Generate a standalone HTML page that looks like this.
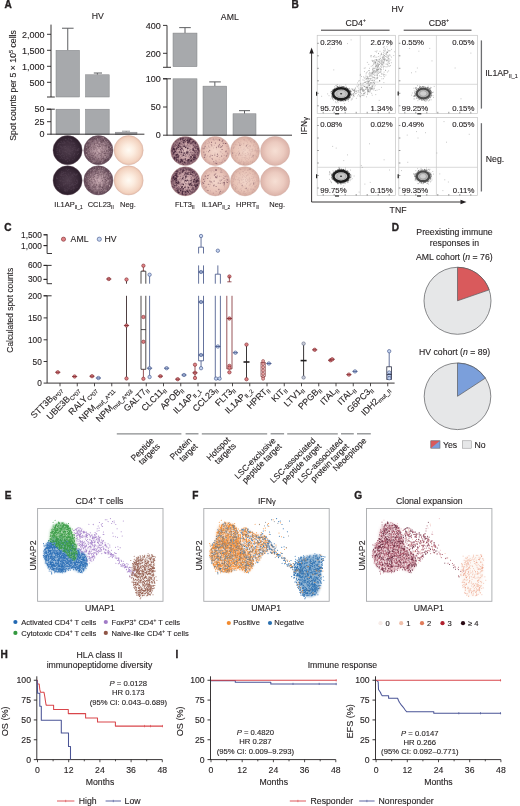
<!DOCTYPE html><html><head><meta charset="utf-8"><title>Figure</title><style>html,body{margin:0;padding:0;background:#fff;width:520px;height:806px;overflow:hidden}svg{display:block}text{font-family:"Liberation Sans", Arial, sans-serif;fill:#231f20;stroke:#231f20;stroke-width:0.12px}</style></head><body>
<svg width="520" height="806" viewBox="0 0 520 806">
<rect width="520" height="806" fill="#fff"/>
<text x="4.6" y="7.9" font-size="10.1" font-weight="bold" style="stroke-width:0.35px">A</text>
<text x="97.7" y="19.2" font-size="8.7" text-anchor="middle">HV</text>
<text transform="translate(16.3 85.4) rotate(-90)" font-size="8.7" text-anchor="middle">Spot counts per 5 &#215; 10<tspan font-size="5.6" dy="-3.4">5</tspan><tspan dy="3.4"> cells</tspan></text>
<line x1="67.75" y1="50.3" x2="67.75" y2="28.22" stroke="#5e5f62" stroke-width="1"/>
<line x1="62" y1="28.22" x2="73.6" y2="28.22" stroke="#5e5f62" stroke-width="1"/>
<rect x="56" y="50.3" width="23.5" height="46.7" fill="#a7a9ac" stroke="#808285" stroke-width="0.5"/>
<rect x="56" y="109.2" width="23.5" height="25" fill="#a7a9ac" stroke="#808285" stroke-width="0.5"/>
<line x1="97.35" y1="74.78" x2="97.35" y2="73.02" stroke="#5e5f62" stroke-width="1"/>
<line x1="93.8" y1="73.02" x2="102" y2="73.02" stroke="#5e5f62" stroke-width="1"/>
<rect x="85.5" y="74.78" width="23.7" height="22.22" fill="#a7a9ac" stroke="#808285" stroke-width="0.5"/>
<rect x="85.5" y="109.2" width="23.7" height="25" fill="#a7a9ac" stroke="#808285" stroke-width="0.5"/>
<line x1="122" y1="131.2" x2="130" y2="131.2" stroke="#808285" stroke-width="0.8"/>
<line x1="126.2" y1="132.2" x2="126.2" y2="131.2" stroke="#808285" stroke-width="0.8"/>
<rect x="115.4" y="132.2" width="21.6" height="2" fill="#a7a9ac" stroke="#808285" stroke-width="0.5"/>
<line x1="51" y1="24.6" x2="51" y2="97" stroke="#231f20" stroke-width="0.9"/>
<line x1="47" y1="97" x2="54.8" y2="97" stroke="#231f20" stroke-width="0.9"/>
<line x1="51" y1="109.2" x2="51" y2="134.6" stroke="#231f20" stroke-width="0.9"/>
<line x1="46.5" y1="109.2" x2="54.8" y2="109.2" stroke="#231f20" stroke-width="0.9"/>
<line x1="51" y1="134.2" x2="144.4" y2="134.2" stroke="#231f20" stroke-width="0.9"/>
<line x1="47" y1="34.3" x2="51" y2="34.3" stroke="#231f20" stroke-width="0.9"/>
<text x="44.6" y="37.5" font-size="9" text-anchor="end">2,000</text>
<line x1="47" y1="50.3" x2="51" y2="50.3" stroke="#231f20" stroke-width="0.9"/>
<text x="44.6" y="53.5" font-size="9" text-anchor="end">1,500</text>
<line x1="47" y1="66.3" x2="51" y2="66.3" stroke="#231f20" stroke-width="0.9"/>
<text x="44.6" y="69.5" font-size="9" text-anchor="end">1,000</text>
<line x1="47" y1="82.3" x2="51" y2="82.3" stroke="#231f20" stroke-width="0.9"/>
<text x="44.6" y="85.5" font-size="9" text-anchor="end">500</text>
<line x1="47" y1="109.2" x2="51" y2="109.2" stroke="#231f20" stroke-width="0.9"/>
<text x="44.6" y="112.4" font-size="9" text-anchor="end">50</text>
<line x1="47" y1="121.7" x2="51" y2="121.7" stroke="#231f20" stroke-width="0.9"/>
<text x="44.6" y="124.9" font-size="9" text-anchor="end">25</text>
<line x1="47" y1="134.2" x2="51" y2="134.2" stroke="#231f20" stroke-width="0.9"/>
<text x="44.6" y="137.4" font-size="9" text-anchor="end">0</text>
<text x="229.8" y="19.8" font-size="8.7" text-anchor="middle">AML</text>
<line x1="185" y1="33.07" x2="185" y2="27.63" stroke="#5e5f62" stroke-width="1"/>
<line x1="179.2" y1="27.63" x2="190.8" y2="27.63" stroke="#5e5f62" stroke-width="1"/>
<rect x="173" y="33.07" width="24" height="33.63" fill="#a7a9ac" stroke="#808285" stroke-width="0.5"/>
<rect x="173" y="78.8" width="24" height="56.4" fill="#a7a9ac" stroke="#808285" stroke-width="0.5"/>
<line x1="214.85" y1="86.13" x2="214.85" y2="81.9" stroke="#5e5f62" stroke-width="1"/>
<line x1="209.2" y1="81.9" x2="220.8" y2="81.9" stroke="#5e5f62" stroke-width="1"/>
<rect x="203" y="86.13" width="23.7" height="49.07" fill="#a7a9ac" stroke="#808285" stroke-width="0.5"/>
<line x1="244.5" y1="113.77" x2="244.5" y2="110.67" stroke="#5e5f62" stroke-width="1"/>
<line x1="239" y1="110.67" x2="250" y2="110.67" stroke="#5e5f62" stroke-width="1"/>
<rect x="233" y="113.77" width="23" height="21.43" fill="#a7a9ac" stroke="#808285" stroke-width="0.5"/>
<line x1="167" y1="25.4" x2="167" y2="67.3" stroke="#231f20" stroke-width="0.9"/>
<line x1="163" y1="67.3" x2="171" y2="67.3" stroke="#231f20" stroke-width="0.9"/>
<line x1="167" y1="78.8" x2="167" y2="135.6" stroke="#231f20" stroke-width="0.9"/>
<line x1="163" y1="78.8" x2="171" y2="78.8" stroke="#231f20" stroke-width="0.9"/>
<line x1="167" y1="135.2" x2="292" y2="135.2" stroke="#231f20" stroke-width="0.9"/>
<line x1="163" y1="25.4" x2="167" y2="25.4" stroke="#231f20" stroke-width="0.9"/>
<text x="160.8" y="28.6" font-size="9" text-anchor="end">400</text>
<line x1="163" y1="53.3" x2="167" y2="53.3" stroke="#231f20" stroke-width="0.9"/>
<text x="160.8" y="56.5" font-size="9" text-anchor="end">200</text>
<line x1="163" y1="78.8" x2="167" y2="78.8" stroke="#231f20" stroke-width="0.9"/>
<text x="160.8" y="82" font-size="9" text-anchor="end">100</text>
<line x1="163" y1="107" x2="167" y2="107" stroke="#231f20" stroke-width="0.9"/>
<text x="160.8" y="110.2" font-size="9" text-anchor="end">50</text>
<line x1="163" y1="135.2" x2="167" y2="135.2" stroke="#231f20" stroke-width="0.9"/>
<text x="160.8" y="138.4" font-size="9" text-anchor="end">0</text>
<radialGradient id="g10"><stop offset="0" stop-color="#4f3d4c"/><stop offset="0.6" stop-color="#3d2c3b"/><stop offset="1" stop-color="#2b1d2a"/></radialGradient>
<circle cx="67.6" cy="150.2" r="14.6" fill="url(#g10)" stroke="#6e5664" stroke-width="0.4"/>
<path d="M60.7 146.9h0M62.9 147.7h0M71.7 140.4h0M64.9 146.4h0M61.0 149.3h0M67.6 161.6h0M70.1 150.1h0M73.4 143.2h0M63.0 154.4h0M64.0 143.2h0M63.9 141.5h0M74.5 157.8h0M79.0 148.9h0M65.7 148.6h0M71.9 150.3h0M73.6 147.9h0M60.2 158.5h0M64.2 158.2h0M64.9 151.4h0M58.3 144.8h0M70.7 154.8h0M65.7 151.4h0M57.0 150.4h0M62.9 143.1h0M70.4 146.6h0M61.1 147.3h0M64.4 147.9h0M68.2 146.6h0M72.9 159.3h0M74.9 147.7h0M62.6 153.2h0M66.2 159.3h0M69.4 153.8h0M63.0 151.5h0M61.3 141.7h0M69.0 142.2h0M63.2 156.5h0M77.5 150.5h0M64.4 156.0h0M74.5 154.0h0M61.3 146.6h0M74.1 143.2h0M68.1 158.7h0M74.7 145.7h0M65.3 148.4h0M59.7 150.7h0M61.4 154.6h0M60.2 145.8h0M62.9 150.5h0M56.9 154.3h0M65.7 151.3h0M76.1 150.4h0M71.0 151.3h0M73.7 155.2h0M75.7 149.8h0M60.1 152.2h0M59.8 150.1h0M66.0 139.3h0M65.2 143.0h0M61.0 141.2h0M70.8 154.9h0M60.5 143.6h0M62.0 143.2h0M71.5 143.1h0M71.7 139.5h0M57.7 154.5h0M65.4 139.4h0M78.3 153.4h0M68.8 138.8h0M73.8 149.5h0M65.5 146.4h0M58.3 143.9h0M70.1 156.7h0M72.1 152.7h0M68.6 153.7h0M78.6 150.2h0M57.8 152.5h0M64.8 142.3h0M59.2 154.6h0M61.9 148.1h0M61.5 157.2h0M63.9 146.4h0M59.2 143.2h0M74.1 143.4h0M74.5 153.4h0M69.9 151.7h0M67.4 158.1h0M68.1 141.0h0M65.6 159.7h0M59.3 149.9h0M66.9 157.9h0M62.2 158.6h0M59.8 151.1h0M59.6 151.4h0M63.9 141.0h0M69.9 143.1h0M70.7 139.2h0M77.5 149.7h0M77.5 154.5h0M68.4 148.9h0M64.5 156.1h0M67.1 141.1h0M66.6 155.1h0M69.4 153.3h0M70.4 139.3h0M69.5 160.1h0M72.5 148.7h0M60.6 146.8h0M78.4 148.5h0M72.8 150.7h0M72.7 143.0h0M57.2 148.7h0M68.6 138.8h0M66.4 152.5h0M66.7 147.8h0M57.7 145.9h0M60.4 155.7h0M69.8 154.3h0M59.1 143.5h0M69.7 150.2h0" stroke="#5a4757" stroke-width="1.2" stroke-linecap="round" stroke-opacity="0.5"/>
<radialGradient id="g11"><stop offset="0" stop-color="#c6a8b0"/><stop offset="0.55" stop-color="#9a7d88"/><stop offset="1" stop-color="#5e4553"/></radialGradient>
<circle cx="98.4" cy="150.2" r="14.6" fill="url(#g11)" stroke="#6e5664" stroke-width="0.4"/>
<path d="M88.5 153.3h0M106.8 145.9h0M87.8 149.7h0M102.4 159.3h0M89.9 141.2h0M104.7 154.5h0M108.9 156.9h0M97.4 147.5h0M111.9 148.7h0M92.2 141.2h0M99.3 151.6h0M95.1 149.6h0M100.9 156.5h0M107.7 152.0h0M86.5 154.8h0M87.4 148.9h0M87.1 150.2h0M91.3 152.1h0M112.2 150.0h0M104.7 140.4h0M95.7 156.3h0M97.5 153.8h0M99.3 141.5h0M103.3 143.1h0M110.7 146.9h0M104.8 150.2h0M106.4 145.1h0M107.1 149.1h0M108.3 155.1h0M99.7 143.1h0M105.2 154.4h0M110.2 147.5h0M103.5 154.8h0M101.1 152.2h0M100.1 144.6h0M89.8 146.8h0M102.7 161.3h0M106.0 158.4h0M105.1 156.2h0M100.1 157.2h0M110.6 147.9h0M94.0 162.5h0M100.5 158.6h0M105.2 141.4h0M109.5 158.3h0M100.0 157.1h0M99.5 142.3h0M97.3 153.8h0M107.3 155.9h0M98.9 160.9h0M91.9 156.9h0M107.7 147.8h0M86.9 144.4h0M100.6 155.2h0M108.9 143.4h0M98.4 156.2h0M97.5 136.8h0M102.9 163.0h0M106.4 142.9h0M94.5 152.3h0M111.6 153.5h0M99.2 161.8h0M97.8 162.8h0M92.2 145.9h0M103.7 160.7h0M104.4 153.0h0M86.5 145.5h0M92.9 145.4h0M103.8 147.1h0M105.6 150.9h0M95.2 151.3h0M102.2 157.7h0M93.9 148.0h0M89.9 160.2h0M109.6 148.8h0M94.6 140.3h0M100.1 152.2h0M111.5 151.7h0M94.3 137.2h0M109.4 151.7h0M86.6 151.5h0M92.6 162.8h0M107.5 154.9h0M97.3 137.1h0M97.5 138.6h0M102.0 137.4h0M91.5 159.4h0M108.9 142.6h0M87.7 156.3h0M105.3 142.3h0M92.3 144.1h0M89.0 144.8h0M108.1 155.6h0M111.4 149.7h0M97.2 141.6h0M97.4 139.7h0M86.6 154.8h0M108.8 156.2h0M109.0 152.2h0M91.8 151.0h0M95.3 140.9h0M88.4 141.4h0M98.3 151.7h0M94.8 161.0h0M100.1 155.7h0M107.7 143.9h0M86.2 154.9h0M93.1 160.2h0M101.3 158.8h0M103.0 137.8h0M104.7 144.3h0M91.6 146.3h0M104.8 157.6h0M105.0 139.3h0M95.1 137.1h0M97.4 155.8h0M91.5 152.4h0M100.4 158.9h0M91.5 143.3h0M93.3 161.8h0M107.7 149.1h0M100.6 151.3h0M100.4 148.2h0M95.7 140.1h0M93.9 161.7h0M103.5 150.8h0M96.3 150.8h0M101.6 144.3h0M100.3 152.5h0M92.0 143.5h0M90.7 142.0h0M103.2 137.5h0M95.9 144.5h0M92.6 151.1h0M107.9 150.8h0M97.1 144.5h0M97.3 158.3h0M95.1 140.7h0M89.3 142.3h0M88.7 157.9h0M101.8 147.9h0M109.1 145.4h0M104.8 157.0h0M89.1 140.8h0M90.9 157.5h0M107.4 141.7h0M107.3 147.0h0M94.8 145.1h0M96.2 137.8h0M91.0 141.1h0M101.4 163.0h0M112.0 148.5h0M86.4 147.4h0M92.7 162.2h0M103.5 143.8h0M106.4 154.8h0M86.8 146.4h0M96.1 150.4h0M99.7 146.9h0M100.2 144.7h0M92.1 160.8h0M101.8 154.3h0M86.7 149.0h0M104.6 140.5h0M107.6 146.9h0M102.3 148.9h0M100.2 160.1h0M95.4 161.7h0M92.0 142.5h0M104.2 141.6h0M95.2 158.1h0M105.8 139.3h0M101.7 162.6h0M108.2 148.2h0M92.8 147.4h0M88.8 148.0h0M96.6 148.8h0M108.2 148.3h0M88.3 157.5h0M89.4 146.5h0M97.1 146.9h0M89.7 148.1h0M111.2 146.6h0M97.3 159.7h0M104.8 156.7h0M103.7 138.1h0M90.7 151.3h0M102.3 160.4h0M102.9 147.9h0M98.8 148.1h0M100.7 156.4h0M95.4 142.9h0M91.7 158.8h0M107.8 157.5h0M105.5 157.1h0M98.4 156.4h0M89.4 148.5h0M92.1 156.5h0M93.0 149.2h0M101.5 160.8h0" stroke="#dcc4c8" stroke-width="0.8" stroke-linecap="round" stroke-opacity="0.45"/>
<path d="M91.9 142.5h0M104.8 141.5h0M102.6 145.0h0M97.7 137.7h0M104.8 145.7h0M93.1 162.4h0M101.2 163.8h0M102.3 146.9h0M99.2 162.0h0M98.1 154.5h0M102.8 142.4h0M99.6 145.4h0M89.0 156.8h0M104.6 150.9h0M92.9 138.1h0M103.0 149.3h0M86.3 149.8h0M86.9 150.0h0M99.8 153.6h0M100.5 151.9h0M89.0 147.0h0M93.6 148.0h0M100.9 155.9h0M105.8 138.6h0M102.2 148.3h0M110.9 155.3h0M86.6 153.1h0M94.0 158.6h0M89.3 149.3h0M97.1 149.3h0M94.5 138.1h0M102.3 158.7h0M97.8 141.4h0M100.3 155.5h0M96.7 150.1h0M108.1 142.5h0M94.8 137.9h0M92.3 143.8h0M90.4 144.4h0M110.8 148.8h0M97.7 163.4h0M98.0 138.0h0M101.9 142.1h0M108.8 142.3h0M94.3 138.8h0M99.2 141.4h0M97.8 146.6h0M93.2 158.2h0M106.7 150.8h0M91.3 141.8h0M99.9 163.6h0M94.3 143.2h0M92.8 141.4h0M89.9 148.4h0M109.5 150.2h0M94.7 138.7h0M100.5 149.9h0M89.5 142.3h0M98.0 159.0h0M104.2 152.1h0M95.3 153.3h0M98.3 163.4h0M89.0 147.1h0M108.6 148.1h0M109.5 149.9h0M99.8 146.6h0M88.5 143.2h0M111.2 153.9h0M103.5 158.2h0M103.2 158.7h0M95.8 148.0h0M106.9 147.2h0M87.8 148.4h0M93.5 155.7h0M92.6 141.6h0M95.9 161.7h0M97.9 151.8h0M98.5 153.1h0M105.1 160.2h0M88.3 158.6h0M98.4 147.1h0M111.8 149.2h0M110.2 156.1h0M89.7 154.3h0M105.2 149.1h0M85.1 148.2h0M96.8 140.8h0M110.8 148.5h0M94.7 147.3h0M91.7 143.6h0M99.3 153.2h0M93.6 149.3h0M87.8 154.2h0M91.6 152.2h0M90.6 145.8h0M100.2 140.3h0M111.9 150.0h0M97.7 143.5h0M108.3 158.8h0M100.7 139.5h0M93.8 155.8h0M94.3 140.6h0M89.1 144.2h0M98.5 144.2h0M98.5 163.9h0M109.6 143.6h0M101.7 151.0h0M97.2 159.2h0M95.2 147.1h0M94.8 149.2h0M108.2 156.1h0M87.9 146.8h0M91.7 157.1h0M100.4 158.1h0M98.0 137.5h0M102.7 152.4h0M102.4 140.0h0M99.2 143.8h0M92.1 153.4h0M101.5 142.4h0M90.6 138.9h0M93.7 159.3h0M98.1 136.9h0M90.8 153.9h0M109.0 157.6h0M101.9 152.1h0M89.5 146.4h0M95.4 143.2h0M99.0 146.4h0M101.0 161.2h0M105.1 154.0h0M96.6 138.8h0M97.3 155.3h0M91.0 159.4h0M95.2 153.7h0M95.8 140.1h0M110.1 143.6h0M106.3 145.4h0M100.9 143.0h0M94.8 158.2h0M110.4 145.0h0M98.5 158.5h0M92.8 156.5h0M91.6 155.5h0M101.9 160.0h0M101.4 140.4h0M103.8 141.3h0M103.8 161.0h0M103.8 145.2h0M108.3 151.6h0M88.4 147.3h0M109.3 147.9h0M99.6 146.9h0M86.6 146.6h0M101.8 152.2h0M97.3 137.1h0M107.9 155.8h0M105.8 159.6h0M94.3 144.7h0M100.6 162.1h0M86.4 148.6h0M92.0 155.2h0M109.5 147.9h0M88.2 150.6h0M96.3 138.7h0M106.0 145.7h0M103.6 140.1h0M105.9 140.3h0M105.0 138.9h0M109.1 147.3h0M86.8 148.5h0M101.3 141.7h0M93.7 152.7h0M97.6 136.4h0M94.4 154.2h0M101.0 158.9h0M94.8 163.4h0M105.6 153.0h0M106.8 157.6h0M99.4 144.4h0M107.1 153.8h0M87.0 143.5h0M102.9 151.2h0M101.0 156.1h0M99.5 161.9h0M93.0 146.5h0M101.3 156.9h0M104.0 160.9h0M94.5 159.7h0M102.3 141.4h0M97.5 163.2h0M105.4 146.0h0M85.4 146.2h0M91.9 150.9h0M111.2 154.3h0M101.1 142.0h0M88.6 148.5h0M96.3 163.8h0M94.7 144.5h0M107.9 150.9h0M89.8 159.1h0M95.9 139.7h0M101.4 154.8h0M95.3 156.6h0M105.2 142.9h0M89.4 139.7h0M97.3 160.3h0M105.5 160.1h0M111.0 150.3h0M105.5 139.9h0M104.7 153.8h0M97.5 146.0h0M89.0 151.4h0M108.6 147.3h0M103.2 144.2h0M100.6 141.5h0M102.0 148.1h0M101.3 144.6h0M88.7 147.5h0M105.3 160.8h0M95.5 157.4h0M105.2 153.7h0M86.9 152.6h0M91.1 159.1h0M105.3 155.6h0M85.2 153.4h0M103.8 140.4h0M106.9 150.9h0M96.7 143.7h0M89.8 146.5h0M112.2 151.1h0M100.3 144.2h0M92.8 145.2h0M91.1 157.4h0M96.0 157.9h0M89.6 157.3h0M98.1 156.4h0M97.5 142.3h0M108.2 146.7h0M97.1 142.3h0M100.4 146.5h0M101.1 153.5h0M93.3 139.7h0M102.2 158.2h0M103.9 141.1h0M104.0 153.7h0M101.1 154.3h0M95.3 152.3h0M106.4 145.9h0M87.3 149.4h0M99.7 137.7h0M92.4 155.4h0M96.9 151.1h0M89.0 157.0h0M110.6 148.8h0M92.6 141.1h0M106.3 151.1h0M92.3 159.6h0M105.1 155.5h0M86.1 149.5h0M103.3 140.5h0M105.0 160.4h0M106.8 144.3h0M92.5 158.0h0M105.8 159.3h0M108.3 149.4h0M95.7 137.8h0M102.8 162.9h0M94.1 145.8h0M104.3 153.6h0M88.1 144.8h0M92.0 161.9h0M92.3 157.4h0M108.1 159.8h0M107.1 160.1h0M88.4 147.4h0M91.8 147.6h0M110.0 142.7h0M102.8 140.4h0M107.4 159.0h0M95.2 163.0h0M99.0 160.7h0M101.3 145.0h0M94.7 149.1h0M104.2 151.4h0M111.8 149.1h0M94.2 143.7h0M92.7 139.7h0M90.5 157.4h0M99.0 148.5h0M101.4 159.2h0M103.8 156.9h0M93.2 147.8h0M91.3 149.3h0M91.1 146.9h0M96.7 148.1h0M95.9 145.6h0M108.8 147.5h0M89.7 151.9h0M90.2 142.1h0" stroke="#553a48" stroke-width="0.85" stroke-linecap="round" stroke-opacity="0.55"/>
<radialGradient id="g12"><stop offset="0" stop-color="#fffbf4"/><stop offset="0.4" stop-color="#fcecdf"/><stop offset="0.85" stop-color="#f3d3c0"/><stop offset="1" stop-color="#e8c0ac"/></radialGradient>
<circle cx="128.6" cy="150.2" r="14.6" fill="url(#g12)" stroke="#d0a89e" stroke-width="0.4"/>
<radialGradient id="g20"><stop offset="0" stop-color="#4f3d4c"/><stop offset="0.6" stop-color="#3d2c3b"/><stop offset="1" stop-color="#2b1d2a"/></radialGradient>
<circle cx="67.6" cy="180.4" r="14.6" fill="url(#g20)" stroke="#6e5664" stroke-width="0.4"/>
<path d="M75.6 175.0h0M68.8 169.4h0M67.0 189.7h0M76.6 174.3h0M63.3 178.3h0M57.7 186.5h0M72.9 184.4h0M75.0 178.0h0M69.3 186.8h0M73.3 176.7h0M59.3 184.5h0M70.4 172.7h0M75.3 184.7h0M71.1 181.2h0M71.2 189.5h0M65.6 189.9h0M69.7 183.8h0M77.3 181.8h0M71.1 176.2h0M67.7 181.7h0M63.7 175.3h0M73.7 187.5h0M61.3 175.8h0M72.9 188.1h0M60.4 177.8h0M73.4 190.1h0M73.9 173.1h0M76.5 180.2h0M65.4 183.7h0M61.0 175.1h0M56.9 184.9h0M69.7 177.1h0M68.0 180.1h0M63.8 175.1h0M66.2 169.1h0M57.6 178.5h0M76.6 183.6h0M73.4 185.7h0M66.0 183.1h0M67.5 176.8h0M67.4 183.8h0M64.2 174.9h0M69.5 180.9h0M69.2 188.6h0M69.4 180.5h0M63.4 173.1h0M71.9 185.3h0M71.9 184.8h0M63.4 183.9h0M69.4 185.7h0M64.8 188.7h0M74.7 174.2h0M67.0 180.6h0M71.1 189.0h0M58.7 186.4h0M72.9 177.0h0M63.4 185.2h0M66.0 177.1h0M65.8 191.2h0M59.6 188.6h0M59.1 186.9h0M64.0 181.3h0M62.9 177.9h0M76.1 175.6h0M56.6 178.3h0M56.6 177.1h0M66.5 175.6h0M64.7 190.7h0M77.0 187.2h0M77.4 183.0h0M62.1 175.4h0M60.4 175.1h0M63.6 185.2h0M76.6 183.3h0M72.8 175.5h0M72.2 174.7h0M67.3 190.8h0M70.8 178.8h0M72.2 175.6h0M68.6 174.2h0M74.4 180.0h0M68.3 183.0h0M69.9 183.0h0M68.3 178.9h0M71.8 184.3h0M74.1 188.4h0M77.2 180.8h0M65.0 184.0h0M68.7 188.8h0M67.7 187.7h0M61.1 185.9h0M65.7 174.4h0M60.0 174.1h0M64.7 190.2h0M74.7 184.5h0M65.1 183.7h0M61.8 171.3h0M60.7 181.1h0M77.2 173.9h0M61.6 174.1h0M61.3 172.9h0M64.1 172.6h0M67.7 170.3h0M62.4 173.7h0M63.9 184.3h0M61.1 180.1h0M62.7 181.3h0M71.1 178.1h0M74.0 174.4h0M76.9 174.5h0M70.5 185.8h0M77.1 180.2h0M72.8 183.5h0M72.9 184.1h0M69.7 181.5h0M75.3 182.6h0M65.7 172.3h0M63.1 172.1h0M74.1 187.7h0M60.0 180.3h0" stroke="#5a4757" stroke-width="1.2" stroke-linecap="round" stroke-opacity="0.5"/>
<radialGradient id="g21"><stop offset="0" stop-color="#c6a8b0"/><stop offset="0.55" stop-color="#9a7d88"/><stop offset="1" stop-color="#5e4553"/></radialGradient>
<circle cx="98.4" cy="180.4" r="14.6" fill="url(#g21)" stroke="#6e5664" stroke-width="0.4"/>
<path d="M104.3 190.3h0M92.1 173.2h0M101.0 192.5h0M101.9 171.1h0M91.7 180.2h0M106.8 180.6h0M95.3 178.5h0M100.2 174.0h0M98.7 183.2h0M110.3 180.2h0M106.1 172.7h0M106.2 182.1h0M93.7 180.5h0M106.4 177.9h0M105.5 190.8h0M107.9 189.8h0M88.5 183.4h0M93.1 188.5h0M99.4 182.9h0M102.9 175.4h0M99.6 174.2h0M111.3 177.8h0M98.8 168.3h0M88.0 174.6h0M105.3 187.1h0M101.3 174.9h0M110.0 174.3h0M91.3 184.9h0M90.2 183.0h0M107.0 180.1h0M102.6 181.1h0M95.6 166.9h0M88.7 180.6h0M87.0 176.7h0M100.3 191.1h0M88.1 176.6h0M100.8 185.6h0M90.7 191.3h0M92.3 189.2h0M96.8 184.6h0M109.9 185.4h0M99.8 172.0h0M93.8 170.0h0M109.3 172.3h0M86.9 188.0h0M108.7 177.8h0M105.6 173.9h0M93.5 185.3h0M102.4 176.5h0M109.7 185.7h0M99.8 170.9h0M100.0 177.7h0M98.0 187.9h0M93.4 183.2h0M105.7 183.8h0M109.5 172.3h0M98.1 170.8h0M98.2 194.0h0M86.7 178.5h0M104.7 181.5h0M104.9 169.9h0M106.3 173.1h0M88.9 185.1h0M102.9 174.2h0M91.3 178.8h0M98.6 179.0h0M93.0 168.0h0M109.0 182.0h0M90.5 170.3h0M92.3 176.8h0M87.1 188.0h0M102.6 177.6h0M101.9 182.8h0M107.6 181.9h0M106.6 190.4h0M95.6 176.3h0M90.7 178.5h0M91.9 180.7h0M101.4 185.5h0M90.0 188.5h0M95.6 179.5h0M95.2 167.8h0M100.3 168.2h0M107.8 180.9h0M109.6 185.1h0M103.7 190.8h0M98.2 192.0h0M97.3 183.0h0M92.5 185.4h0M104.5 176.0h0M88.1 180.2h0M102.5 179.0h0M90.4 174.5h0M97.1 166.8h0M94.1 191.2h0M88.2 178.7h0M109.9 185.3h0M106.6 179.2h0M92.7 193.0h0M101.4 182.8h0M109.6 186.0h0M99.0 171.1h0M97.0 179.1h0M92.7 173.1h0M89.8 179.5h0M93.0 184.2h0M107.1 183.2h0M98.6 192.0h0M103.2 169.6h0M91.9 182.2h0M91.1 186.8h0M89.2 170.4h0M106.7 185.3h0M86.7 181.0h0M107.9 172.6h0M90.0 171.8h0M92.1 169.2h0M94.8 169.5h0M98.8 193.7h0M90.2 187.5h0M104.6 168.3h0M99.5 180.3h0M95.4 187.6h0M94.3 183.7h0M94.7 179.1h0M94.0 193.1h0M97.9 171.0h0M108.9 188.9h0M96.6 174.4h0M92.7 190.0h0M95.4 174.0h0M105.9 178.0h0M98.1 193.1h0M104.9 189.8h0M101.7 190.6h0M96.9 188.8h0M107.2 177.0h0M88.4 184.6h0M97.3 186.1h0M93.0 185.2h0M103.5 193.0h0M110.6 183.1h0M109.1 175.8h0M108.1 181.6h0M108.9 183.0h0M96.3 173.9h0M108.6 180.9h0M104.8 184.7h0M85.8 184.1h0M94.9 184.1h0M101.7 168.3h0M95.4 179.8h0M101.8 188.5h0M92.2 178.3h0M102.5 168.3h0M110.0 174.5h0M108.9 181.6h0M109.9 186.8h0M98.2 168.3h0M99.7 183.5h0M102.7 170.5h0M91.5 173.9h0M100.9 172.7h0M97.4 188.6h0M95.1 190.9h0M101.3 178.0h0M107.4 184.5h0M95.8 175.0h0M98.0 183.7h0M107.9 182.7h0M93.7 170.2h0M100.8 184.2h0M107.6 176.1h0M88.7 186.7h0M97.0 170.5h0M109.5 186.4h0M99.0 183.1h0M92.3 188.5h0M94.4 176.2h0M96.0 171.0h0M105.1 191.3h0M103.0 168.0h0M95.6 174.6h0M100.7 167.4h0M85.5 177.7h0M106.9 178.8h0M110.9 175.6h0M98.8 179.0h0M91.9 189.1h0M89.0 172.9h0M95.0 176.0h0M107.6 176.1h0M103.0 176.1h0M108.7 180.3h0M100.3 168.6h0M104.6 174.8h0M106.1 184.8h0M102.8 189.6h0M101.7 172.7h0M99.9 182.1h0" stroke="#dcc4c8" stroke-width="0.8" stroke-linecap="round" stroke-opacity="0.45"/>
<path d="M89.0 185.3h0M109.6 182.3h0M99.5 184.8h0M107.4 176.0h0M106.3 174.3h0M103.3 185.1h0M88.5 185.5h0M100.0 168.5h0M94.3 174.7h0M90.7 184.0h0M91.3 180.9h0M89.3 178.2h0M110.7 183.2h0M87.8 174.0h0M97.4 168.6h0M106.9 180.1h0M97.7 180.9h0M93.0 171.3h0M86.1 174.0h0M100.6 186.6h0M97.2 168.0h0M95.2 180.8h0M89.7 189.6h0M89.0 180.4h0M90.0 187.4h0M89.0 173.7h0M106.4 171.4h0M93.5 185.3h0M100.9 168.3h0M104.0 177.7h0M105.9 169.7h0M105.2 184.0h0M94.9 176.5h0M101.9 174.2h0M95.3 173.5h0M99.7 186.6h0M86.7 180.6h0M100.7 191.7h0M92.7 190.0h0M94.3 184.9h0M100.5 183.0h0M95.4 172.0h0M107.7 189.5h0M97.3 178.7h0M96.7 169.8h0M89.2 183.8h0M106.6 178.4h0M91.2 172.0h0M93.0 186.5h0M98.7 169.3h0M88.8 183.1h0M100.4 192.6h0M109.4 181.8h0M92.1 182.2h0M89.3 174.9h0M106.7 185.4h0M104.7 191.1h0M94.7 187.4h0M99.1 183.4h0M100.5 185.4h0M89.3 171.4h0M99.2 185.0h0M93.8 179.4h0M88.4 187.2h0M101.8 191.5h0M94.5 179.4h0M98.9 191.1h0M103.5 184.0h0M87.3 174.6h0M87.2 179.0h0M106.0 180.8h0M92.9 192.5h0M90.7 190.0h0M108.0 182.5h0M107.9 172.7h0M93.2 177.6h0M101.9 178.6h0M110.3 177.7h0M96.5 170.5h0M102.6 187.3h0M92.6 170.8h0M88.9 188.4h0M105.4 182.8h0M105.1 184.7h0M101.6 168.8h0M103.0 186.6h0M107.0 187.7h0M92.2 182.8h0M89.3 189.6h0M88.1 185.6h0M91.8 173.5h0M90.6 177.5h0M101.5 189.6h0M95.7 187.9h0M103.5 192.6h0M92.9 183.2h0M104.7 181.7h0M103.9 174.5h0M95.1 174.6h0M93.0 172.8h0M97.5 170.4h0M93.2 185.6h0M87.9 173.3h0M95.0 171.4h0M92.2 191.9h0M101.4 176.0h0M93.2 169.4h0M92.3 168.2h0M103.4 175.7h0M106.3 180.2h0M88.4 189.8h0M102.7 188.0h0M93.3 175.2h0M97.1 192.7h0M89.3 172.6h0M101.6 167.9h0M108.3 172.6h0M108.1 179.1h0M95.4 170.9h0M109.4 178.2h0M88.2 185.2h0M97.0 185.2h0M94.5 183.8h0M102.6 180.5h0M86.8 183.8h0M109.0 183.7h0M106.0 186.8h0M95.8 189.3h0M96.3 171.7h0M89.2 187.8h0M104.5 185.9h0M94.6 168.3h0M105.4 179.5h0M92.9 174.9h0M94.6 168.2h0M103.8 186.5h0M106.0 177.2h0M89.9 171.1h0M96.2 192.5h0M106.5 180.6h0M102.5 187.5h0M98.9 182.5h0M100.3 174.9h0M89.1 175.8h0M105.9 170.0h0M94.3 176.5h0M98.7 176.1h0M105.3 177.1h0M98.3 186.9h0M88.6 187.9h0M105.7 170.9h0M97.5 173.6h0M95.1 187.3h0M86.6 185.7h0M102.4 180.3h0M111.4 177.5h0M87.2 183.2h0M99.7 174.5h0M88.1 171.3h0M108.1 171.4h0M108.5 186.4h0M85.2 181.5h0M103.5 189.3h0M107.4 188.9h0M98.0 178.0h0M96.5 185.3h0M91.1 172.1h0M110.9 185.6h0M107.4 178.4h0M90.9 176.6h0M91.5 175.0h0M87.2 184.8h0M101.3 187.4h0M99.0 173.8h0M110.4 185.9h0M103.2 187.9h0M95.6 186.9h0M92.3 188.5h0M106.0 187.1h0M102.1 181.6h0M100.4 186.9h0M94.3 186.7h0M104.2 170.8h0M86.4 182.4h0M95.3 173.2h0M89.5 172.4h0M86.6 177.8h0M89.4 170.5h0M97.4 191.7h0M108.4 178.9h0M101.9 178.0h0M97.2 173.4h0M98.4 171.4h0M91.7 178.9h0M97.8 193.3h0M91.6 171.8h0M104.0 185.4h0M104.5 179.2h0M87.1 177.7h0M88.1 179.7h0M110.4 178.1h0M99.1 189.5h0M88.4 185.9h0M95.2 174.1h0M95.2 171.9h0M105.9 181.1h0M94.0 184.7h0M91.8 168.3h0M108.4 175.8h0M104.5 172.8h0M87.2 173.6h0M106.2 183.5h0M92.7 186.2h0M95.4 181.9h0M92.6 168.2h0M99.0 186.3h0M92.1 191.1h0M100.2 192.4h0M103.4 189.9h0M96.3 169.2h0M110.1 187.3h0M104.0 172.5h0M105.2 172.1h0M102.7 188.0h0M102.5 171.9h0M103.9 181.9h0M102.5 190.2h0M92.7 173.1h0M87.2 188.1h0M92.1 189.9h0M101.2 189.9h0M100.4 184.6h0M96.0 184.4h0M90.2 188.0h0M86.6 176.6h0M94.4 181.0h0M97.2 171.7h0M98.5 166.7h0M91.5 179.3h0M92.3 188.0h0M96.5 184.4h0M89.4 187.1h0M103.3 169.3h0M107.7 172.1h0M88.9 186.3h0M110.1 184.5h0M96.5 173.5h0M91.3 181.7h0M100.9 171.7h0M101.0 167.3h0M99.9 172.0h0M91.0 191.7h0M103.4 177.0h0M90.4 189.8h0M98.7 173.0h0M85.6 184.9h0M104.5 184.3h0M91.6 169.1h0M107.4 177.3h0M101.8 167.2h0M95.2 186.2h0M97.7 192.6h0M105.0 188.3h0M104.0 177.7h0M91.4 173.1h0M108.1 178.3h0M85.2 181.2h0M98.5 175.1h0M101.3 172.1h0M111.7 177.7h0M89.5 180.8h0M99.4 187.6h0M99.9 185.9h0M98.0 177.3h0M89.7 174.2h0M97.5 170.0h0M105.0 177.2h0M107.2 186.2h0M96.7 194.1h0M108.5 175.0h0M101.8 174.5h0M89.9 181.2h0M93.6 187.4h0M87.3 182.0h0M108.5 182.0h0M107.9 190.2h0M88.3 177.0h0M93.8 191.1h0M95.1 167.6h0M92.1 176.9h0M96.2 178.2h0M98.1 172.7h0M97.4 175.5h0M93.7 177.1h0M105.3 182.0h0M103.4 173.4h0M86.2 178.6h0M105.4 179.4h0M94.2 168.9h0M100.6 172.5h0" stroke="#553a48" stroke-width="0.85" stroke-linecap="round" stroke-opacity="0.55"/>
<radialGradient id="g22"><stop offset="0" stop-color="#fffbf4"/><stop offset="0.4" stop-color="#fcecdf"/><stop offset="0.85" stop-color="#f3d3c0"/><stop offset="1" stop-color="#e8c0ac"/></radialGradient>
<circle cx="128.6" cy="180.4" r="14.6" fill="url(#g22)" stroke="#d0a89e" stroke-width="0.4"/>
<radialGradient id="g40"><stop offset="0" stop-color="#dcbcbc"/><stop offset="0.6" stop-color="#c6a0a4"/><stop offset="0.9" stop-color="#9c7680"/><stop offset="1" stop-color="#7e5a68"/></radialGradient>
<circle cx="185.3" cy="151" r="14.6" fill="url(#g40)" stroke="#d0a89e" stroke-width="0.4"/>
<path d="M172.7 154.3h0M192.5 152.5h0M196.3 148.3h0M191.0 156.9h0M192.0 144.7h0M198.2 153.3h0M192.9 159.1h0M178.4 144.6h0M191.0 149.6h0M181.6 148.1h0M190.5 149.9h0M172.7 150.0h0M188.5 148.1h0M194.4 142.1h0M180.5 162.0h0M186.1 156.4h0M189.3 157.6h0M189.6 142.6h0M198.4 150.1h0M187.5 159.9h0M195.0 155.2h0M177.1 144.3h0M194.5 156.7h0M195.0 159.2h0M181.1 152.1h0M198.7 149.2h0M178.7 162.6h0M183.1 160.9h0M174.2 145.5h0M187.7 152.1h0M190.4 157.9h0M188.7 139.7h0M194.6 158.5h0M186.0 152.8h0M172.2 152.7h0M192.9 145.9h0M187.1 145.2h0M192.6 162.4h0M182.6 145.9h0M178.9 161.4h0M190.9 153.1h0M187.5 144.6h0M177.3 155.4h0M177.7 152.1h0M185.4 163.4h0M186.1 137.5h0M190.6 152.4h0M190.0 144.8h0M187.3 143.6h0M176.4 158.0h0M176.3 155.5h0M197.8 153.9h0M180.1 146.2h0M174.4 152.7h0M187.2 150.2h0M194.8 146.2h0M193.4 153.1h0M184.6 146.4h0M176.5 145.5h0M183.3 150.0h0M198.8 152.6h0M188.3 156.2h0M183.6 150.2h0M183.9 139.0h0M179.7 160.2h0M173.9 152.2h0M186.4 153.1h0M196.4 158.5h0M192.4 150.4h0M184.5 144.4h0M178.2 146.0h0M173.0 146.1h0M194.7 141.5h0M190.0 142.6h0M189.2 163.0h0M182.1 146.8h0M182.8 153.0h0M187.5 137.8h0M196.3 151.7h0M195.7 143.1h0M184.7 146.2h0M177.8 148.0h0M178.0 147.0h0M187.9 161.4h0M189.1 154.4h0M176.6 142.8h0M188.0 153.5h0M181.5 152.9h0M192.4 148.4h0M194.9 151.8h0M176.5 148.8h0M182.0 149.3h0M191.2 160.0h0M194.3 152.9h0M186.2 163.0h0M174.7 149.4h0M182.5 160.3h0M175.9 152.8h0M177.7 144.9h0M185.7 142.0h0M185.7 154.1h0M186.7 151.7h0M195.3 156.9h0M180.8 144.9h0M188.9 145.2h0M175.8 157.6h0M188.1 159.5h0M181.7 162.0h0M189.6 159.0h0M183.0 139.7h0M193.8 148.4h0M179.8 148.2h0M179.8 161.7h0M193.4 148.2h0M194.3 158.1h0M191.5 154.6h0M195.7 154.8h0M185.9 146.1h0M184.2 143.2h0M175.9 155.4h0M174.9 150.7h0M180.9 159.6h0M190.2 146.9h0M178.5 152.1h0M182.0 156.3h0M188.3 142.1h0M197.4 154.1h0M179.9 153.2h0M180.8 148.3h0M174.0 147.8h0M179.4 155.7h0M181.1 154.2h0M181.7 144.2h0M189.1 163.3h0M189.0 146.4h0M181.8 146.6h0M184.1 159.6h0M186.7 151.7h0M188.8 143.4h0M182.2 155.8h0M194.2 142.3h0M196.3 158.5h0M185.5 154.4h0M176.5 157.9h0M191.7 152.2h0M185.4 160.4h0M187.2 162.6h0M189.2 139.3h0M194.7 154.3h0M191.2 143.2h0M172.8 148.6h0M184.8 145.4h0M192.9 161.6h0M182.1 160.6h0M180.7 144.0h0M173.2 146.9h0M176.6 147.4h0M185.7 162.3h0M189.3 163.2h0M185.8 138.2h0M173.5 144.8h0M187.2 164.3h0M194.0 143.9h0M192.1 153.3h0M187.3 161.3h0M173.0 151.2h0M176.7 148.1h0M187.8 162.2h0M175.0 150.9h0M181.4 150.9h0M190.0 154.8h0M195.4 148.1h0M182.7 160.0h0M183.4 155.5h0M195.7 150.9h0M196.1 146.3h0M193.7 155.1h0M176.3 157.4h0M190.5 143.6h0M172.8 154.7h0M178.8 144.9h0M199.0 151.1h0M173.8 153.3h0M186.8 146.0h0M194.3 157.4h0M192.2 144.0h0M190.4 156.6h0M189.3 155.1h0M177.9 156.0h0M174.6 157.2h0M176.3 152.8h0M185.9 155.3h0M180.6 160.9h0M176.4 155.4h0M187.9 146.1h0M181.5 138.6h0M186.4 160.6h0M178.8 156.7h0M184.5 140.3h0M185.3 156.3h0M179.8 145.4h0M181.9 144.0h0M177.7 145.1h0M178.5 149.5h0M181.1 146.2h0M181.8 143.2h0M188.8 160.6h0M177.7 160.3h0M172.5 151.5h0M182.4 163.6h0M187.9 142.9h0M177.9 159.5h0M184.0 146.1h0M181.0 154.6h0M190.7 140.9h0M178.5 145.5h0M178.6 161.2h0M190.8 151.8h0M174.3 158.2h0M194.8 159.7h0M194.8 155.1h0M194.9 159.3h0M195.6 155.2h0M195.5 158.4h0M197.7 154.4h0M189.9 139.0h0M179.1 145.9h0M181.1 149.0h0M188.7 143.2h0M172.9 147.5h0M189.9 141.4h0M189.8 152.8h0M190.6 157.0h0M187.6 154.5h0M190.1 138.1h0M176.7 159.4h0M177.9 146.6h0M194.7 156.8h0M173.2 147.9h0M182.8 144.6h0M187.5 141.9h0M174.5 154.3h0M184.0 162.0h0M186.3 152.1h0M193.9 156.0h0M181.4 141.5h0M180.6 147.5h0M197.7 155.2h0M175.9 154.8h0M191.9 154.1h0M196.0 146.7h0M198.9 153.0h0M189.6 150.5h0M183.3 145.1h0M172.1 149.3h0M179.1 143.4h0M181.3 150.4h0M192.7 150.6h0M178.0 141.3h0M191.9 161.1h0M182.5 149.4h0M193.2 148.3h0M187.8 153.4h0M180.6 157.9h0M176.6 141.2h0M188.1 161.8h0M178.8 157.1h0M193.9 159.4h0M191.8 142.1h0M184.4 140.3h0M174.9 149.2h0M190.0 155.9h0M173.4 143.9h0M197.5 150.0h0M174.9 159.9h0M175.4 144.1h0M180.6 140.4h0M183.6 151.0h0M177.7 142.6h0M182.0 138.7h0M174.6 150.9h0M173.6 158.5h0M196.5 158.3h0M176.5 149.6h0M198.1 150.3h0M188.2 140.6h0M188.1 139.1h0M182.2 149.0h0M197.3 153.4h0M189.7 149.0h0M176.1 155.5h0M172.9 149.8h0M174.4 146.5h0M198.1 155.4h0M182.3 140.2h0M190.8 143.0h0M181.3 158.8h0M183.4 153.3h0M189.7 140.5h0M183.1 159.0h0" stroke="#5e3a50" stroke-width="0.8" stroke-linecap="round" stroke-opacity="0.65"/>
<path d="M190.1 143.6h0M188.8 138.1h0M179.0 162.1h0M193.3 140.3h0M191.7 160.1h0M175.1 159.3h0M173.1 146.6h0M189.1 161.7h0M190.6 161.1h0M183.6 164.4h0M188.5 137.9h0M190.6 160.8h0M185.8 141.1h0M197.0 147.9h0M188.2 161.6h0M191.6 142.9h0M174.4 149.8h0M185.2 141.3h0M176.1 157.0h0M182.4 139.3h0M193.8 155.3h0M178.6 160.4h0M179.8 142.8h0M186.0 160.7h0M194.3 151.2h0M195.6 148.4h0M175.7 146.2h0M173.8 147.1h0M184.3 140.4h0M175.5 141.9h0M182.3 139.3h0M173.6 153.5h0M173.5 153.7h0M195.4 152.6h0M193.8 154.8h0M195.4 156.2h0M196.6 150.5h0M183.9 162.1h0M178.5 161.8h0M184.9 163.7h0M189.8 141.4h0M191.7 139.6h0M175.4 154.8h0M193.2 157.1h0M183.8 140.1h0M193.6 157.7h0M184.5 140.6h0M194.1 151.8h0M172.3 151.4h0M197.4 152.4h0M185.2 142.0h0M174.6 151.0h0M180.5 159.9h0M194.6 151.1h0M194.4 155.9h0M194.4 143.1h0M197.1 144.4h0M187.8 141.0h0M190.0 141.1h0M184.6 162.8h0M173.3 152.8h0M180.7 138.1h0M176.2 145.7h0M191.5 157.4h0M182.5 140.0h0M176.4 158.0h0M183.2 141.5h0M190.2 160.4h0M185.0 141.1h0M184.0 142.0h0M171.8 148.8h0M182.0 159.8h0M175.7 141.4h0M182.9 163.3h0M188.8 160.4h0M171.6 150.8h0M173.6 148.6h0M191.4 158.3h0M176.5 159.0h0M197.7 146.2h0M193.9 141.1h0M176.5 156.1h0M199.1 151.8h0M172.4 149.9h0M196.5 154.3h0M195.8 156.4h0M194.0 147.1h0M189.1 142.8h0M174.9 145.9h0M183.3 164.4h0M177.7 146.5h0M193.3 158.6h0M189.9 159.6h0M198.3 148.3h0M173.8 149.7h0M178.8 140.4h0M187.7 139.7h0M198.8 150.3h0M196.5 146.7h0M173.2 149.0h0M184.0 138.1h0M180.0 142.4h0M189.1 162.5h0M193.7 157.1h0M176.7 154.4h0M194.0 154.3h0M177.5 147.1h0M174.8 148.5h0M193.7 145.5h0M193.4 156.4h0M174.1 144.0h0M184.0 142.3h0M188.4 159.5h0M176.2 148.2h0M192.6 158.7h0M180.0 139.5h0M195.5 144.0h0M194.1 150.9h0M195.1 145.0h0M187.3 139.4h0M192.0 139.5h0M176.6 160.0h0M198.0 146.1h0M175.8 157.7h0M193.5 145.6h0M196.0 152.1h0M195.3 143.5h0M189.6 160.1h0M195.0 155.5h0M194.5 147.2h0M195.1 147.4h0M195.9 142.3h0M187.9 159.7h0M175.9 145.1h0M179.8 162.5h0M195.1 147.1h0M190.0 138.8h0M173.0 153.7h0M173.5 154.4h0M176.4 150.9h0M177.0 140.1h0M185.7 139.2h0M178.5 160.8h0M195.4 150.3h0M176.1 156.2h0M177.0 143.1h0M176.3 161.3h0M197.0 146.5h0M190.6 142.8h0M195.8 153.0h0M195.0 146.1h0M191.4 143.6h0M194.0 156.7h0M187.4 163.4h0M182.8 162.8h0M191.8 143.1h0M189.6 161.4h0M191.7 139.3h0M175.4 144.5h0M172.2 147.4h0M180.9 141.9h0M187.2 138.6h0M195.1 152.3h0M183.2 159.7h0M197.7 152.3h0M190.3 158.8h0M198.9 150.6h0M180.9 159.8h0M176.6 149.1h0M198.1 147.9h0M175.8 151.7h0M178.1 143.0h0M194.7 154.1h0M180.3 161.5h0M189.3 141.1h0M174.1 156.3h0M190.4 158.5h0M195.8 147.9h0M172.8 150.5h0M187.7 140.3h0M192.5 143.2h0M193.4 144.2h0M190.6 143.9h0M191.7 160.4h0M178.2 139.3h0M188.9 138.8h0M192.9 159.1h0M173.7 149.4h0M188.5 163.0h0M171.9 150.9h0M198.7 151.1h0M175.9 157.2h0M174.5 159.6h0M180.4 139.0h0M178.6 159.0h0M177.5 156.6h0M197.8 148.1h0M176.4 157.4h0M182.5 142.1h0M185.6 139.5h0" stroke="#4a2a3e" stroke-width="0.9" stroke-linecap="round" stroke-opacity="0.6"/>
<path d="M173.5 148.9h0M198.0 149.2h0M174.8 149.3h0M177.7 154.4h0M180.7 139.1h0M191.1 156.9h0M197.9 148.7h0M183.7 155.2h0M183.6 142.8h0M182.4 161.3h0M180.0 146.8h0M189.0 141.6h0M193.8 159.7h0M176.8 160.1h0M187.9 152.1h0M183.9 140.7h0M195.2 157.7h0M193.0 149.3h0M179.7 143.6h0M178.3 147.4h0M187.1 140.5h0M181.9 148.2h0M187.8 142.4h0M174.8 158.5h0M193.4 141.8h0M186.8 153.0h0M183.0 138.2h0M188.0 160.6h0M192.4 155.3h0M178.4 156.0h0M176.9 148.8h0M175.2 151.4h0M184.0 146.4h0M192.5 142.0h0M183.3 155.0h0M176.5 154.7h0M179.7 152.0h0M174.0 152.6h0M184.2 153.1h0M193.7 150.3h0M181.4 159.8h0M185.7 147.4h0M181.6 152.3h0M179.5 143.6h0M191.1 161.1h0M188.8 159.8h0M184.7 162.2h0M181.5 160.8h0M187.7 148.4h0M174.4 157.6h0M180.4 149.8h0M185.3 159.1h0M189.2 140.4h0M180.6 162.0h0M190.4 139.2h0M194.0 157.5h0M191.6 160.3h0M195.5 143.0h0M178.6 145.3h0M177.9 157.4h0" stroke="#3a1c30" stroke-width="1.6" stroke-linecap="round" stroke-opacity="0.85"/>
<radialGradient id="g41"><stop offset="0" stop-color="#f2d6cb"/><stop offset="0.7" stop-color="#e8c3b8"/><stop offset="1" stop-color="#d6aba2"/></radialGradient>
<circle cx="215.3" cy="151" r="14.6" fill="url(#g41)" stroke="#d0a89e" stroke-width="0.4"/>
<path d="M210.4 155.5h0M222.0 162.5h0M205.1 145.6h0M207.2 148.2h0M214.1 140.5h0M217.5 139.9h0M220.2 143.2h0M218.3 155.4h0M214.3 145.4h0M209.1 142.0h0M226.7 155.5h0M227.9 153.7h0M218.8 145.6h0M213.5 139.3h0M223.3 159.0h0M224.7 160.3h0M210.2 138.3h0M222.7 153.6h0M207.4 143.6h0M220.7 162.9h0M219.6 144.7h0M222.2 160.0h0M205.9 157.2h0M206.6 151.4h0M220.3 151.7h0M203.9 154.1h0M204.6 156.4h0M202.7 147.8h0M210.9 144.5h0M217.6 153.7h0M227.8 154.2h0M223.8 142.5h0M224.0 158.1h0M224.4 160.4h0M208.6 141.0h0M208.4 145.3h0M223.2 139.9h0M215.8 160.2h0M214.1 139.6h0M207.4 156.0h0M222.4 149.5h0M218.0 162.2h0M213.1 164.0h0M209.2 162.9h0M205.8 159.9h0M215.4 139.1h0M216.5 156.5h0M221.1 152.1h0M213.5 148.0h0M216.1 161.4h0M219.8 157.6h0M216.8 162.3h0M225.5 160.4h0M205.8 144.2h0M206.0 147.8h0M228.2 148.6h0M216.3 148.8h0M203.9 143.8h0M208.9 143.4h0M211.9 146.3h0M213.6 138.8h0M224.2 155.3h0M208.5 146.4h0M209.8 138.9h0M221.7 146.7h0M222.7 161.5h0M205.7 142.8h0M220.3 145.6h0M208.8 147.0h0M218.7 140.0h0M216.0 160.8h0M209.7 147.3h0M219.2 159.7h0M224.1 155.3h0M227.0 146.4h0M227.2 155.2h0M212.9 139.6h0M227.2 153.0h0M219.5 162.7h0M211.6 158.5h0M221.4 162.4h0M217.6 163.8h0M210.0 150.5h0M209.6 142.6h0M227.7 153.1h0M215.0 153.1h0M216.5 139.2h0M210.8 154.9h0M204.8 149.2h0M211.7 142.0h0" stroke="#a07a80" stroke-width="0.7" stroke-linecap="round" stroke-opacity="0.55"/>
<path d="M205.1 146.4h0M217.4 156.2h0M203.9 152.1h0M219.3 139.5h0M205.0 155.2h0M221.7 156.1h0M226.3 155.9h0M226.1 151.0h0M215.4 143.0h0M216.4 147.3h0M210.0 156.7h0M218.9 146.9h0M217.4 154.3h0M219.4 144.8h0M221.3 146.8h0M218.3 146.0h0M225.9 143.5h0M223.2 143.4h0M225.3 143.4h0M222.0 149.4h0M222.1 141.6h0M212.2 155.4h0M222.6 145.7h0M203.1 148.7h0M208.7 151.7h0M211.5 142.2h0M213.8 161.8h0M220.7 147.3h0M219.7 140.5h0M209.6 150.2h0M211.7 145.0h0M215.2 163.1h0M214.8 155.0h0M222.7 140.2h0M212.4 158.9h0M204.3 147.9h0M225.8 151.8h0M216.6 163.6h0M204.3 157.5h0M205.2 154.3h0" stroke="#6e4454" stroke-width="1.05" stroke-linecap="round" stroke-opacity="0.8"/>
<radialGradient id="g42"><stop offset="0" stop-color="#f2d6ca"/><stop offset="0.7" stop-color="#e8c3b6"/><stop offset="1" stop-color="#d6aca0"/></radialGradient>
<circle cx="245" cy="151" r="14.6" fill="url(#g42)" stroke="#d0a89e" stroke-width="0.4"/>
<path d="M243.6 149.3h0M244.0 157.5h0M244.0 139.6h0M248.2 148.4h0M242.9 152.1h0M246.9 160.7h0M251.1 152.0h0M239.0 142.7h0M247.0 161.5h0M245.4 150.0h0M249.0 140.1h0M242.1 155.6h0M252.8 148.9h0M248.6 153.4h0M251.2 142.2h0M249.2 139.9h0M231.7 147.9h0M237.6 158.1h0M250.2 141.4h0M251.8 143.0h0M244.2 148.2h0M246.0 158.4h0M250.9 154.2h0M250.9 155.3h0M239.5 144.7h0M240.6 155.6h0M243.6 164.3h0M238.5 142.3h0M250.6 161.4h0M249.4 158.3h0M256.1 150.3h0M234.3 147.0h0M251.7 140.8h0M245.3 153.5h0M242.1 157.6h0M248.3 164.1h0M250.5 145.5h0M240.1 143.8h0M253.1 146.2h0M244.4 157.9h0M238.4 148.3h0M233.7 144.3h0M239.8 154.8h0M254.9 150.8h0M247.5 152.6h0M253.5 158.0h0M247.4 142.3h0M252.9 154.3h0M255.1 150.8h0M257.7 148.7h0M256.7 151.8h0M240.8 141.8h0M243.8 162.0h0M252.0 156.9h0M232.0 154.9h0M250.1 146.0h0M239.1 151.0h0M256.0 144.2h0M241.7 161.6h0M240.8 147.6h0M245.8 140.8h0M246.8 141.1h0M252.9 151.0h0M258.3 152.6h0M254.2 142.3h0M243.8 154.1h0M254.7 141.6h0M253.3 156.0h0M256.0 156.1h0M245.5 146.1h0M234.8 152.6h0M243.8 163.9h0M239.3 154.0h0M233.5 148.1h0M247.3 158.4h0M256.2 150.7h0M235.8 154.8h0M249.8 155.5h0M239.4 160.1h0M245.8 157.5h0M254.9 155.8h0M246.7 164.1h0M247.3 148.1h0M245.9 162.3h0M246.1 155.9h0M254.6 146.9h0M232.9 153.1h0M247.1 145.3h0M252.5 156.2h0M236.6 155.4h0M243.5 139.7h0M249.3 150.6h0M238.4 155.6h0M249.5 145.7h0M248.4 159.6h0M238.5 154.5h0M245.0 164.3h0M232.9 155.5h0M242.0 150.0h0M257.7 150.9h0M258.1 148.4h0M248.3 146.4h0M238.6 151.6h0M242.3 153.0h0M235.0 160.5h0M243.8 163.2h0M236.3 153.5h0M258.3 147.3h0M234.0 147.0h0M249.3 157.2h0M255.4 148.9h0M233.4 147.9h0M254.9 154.7h0M232.2 150.8h0M252.5 162.4h0M250.2 153.9h0M235.6 144.6h0M245.4 155.8h0M250.3 146.6h0M236.0 144.9h0M235.7 156.2h0M231.7 149.1h0M248.3 162.3h0M245.6 159.7h0M241.4 144.3h0M240.1 162.0h0M253.4 155.1h0M258.8 150.9h0M250.7 153.8h0M243.7 164.3h0M254.5 142.1h0M241.2 155.0h0M250.8 140.9h0M234.5 142.1h0M244.3 150.0h0M248.1 144.1h0M238.0 139.5h0M248.1 154.5h0M253.1 157.4h0M243.5 161.7h0M243.7 144.9h0M240.3 145.7h0M231.8 152.0h0M247.4 147.5h0M238.5 154.4h0M257.2 151.3h0M240.4 145.6h0M244.4 140.7h0M243.8 151.6h0M256.6 156.9h0M253.4 145.2h0M250.4 141.9h0M248.0 155.0h0M240.3 163.3h0M248.7 138.7h0M250.1 147.2h0M245.0 155.4h0M247.5 138.2h0M235.9 157.1h0M252.5 162.0h0M254.0 140.7h0M249.9 138.9h0M256.8 152.8h0M238.4 162.6h0M249.2 138.8h0M247.7 144.4h0M246.1 146.6h0M253.9 141.8h0M247.2 163.3h0M237.6 152.9h0M246.9 144.6h0M251.0 151.9h0M238.9 162.4h0M252.2 149.5h0M239.5 144.2h0M255.1 149.8h0M249.4 149.2h0M250.8 149.9h0M251.9 149.3h0M252.1 156.8h0M244.0 143.3h0M237.2 144.9h0M237.1 158.0h0M244.7 162.7h0M258.3 151.1h0M233.6 148.2h0M244.4 139.7h0M242.6 153.8h0M240.9 144.2h0M240.0 162.8h0M243.6 143.5h0M241.8 159.3h0M238.8 155.3h0M251.3 157.5h0M255.6 146.8h0M253.9 144.8h0M241.8 160.7h0M252.4 151.0h0M235.4 155.5h0M239.7 143.2h0" stroke="#b89090" stroke-width="0.7" stroke-linecap="round" stroke-opacity="0.45"/>
<path d="M239.3 153.2h0M232.7 153.1h0M246.5 145.8h0M253.1 155.8h0M239.9 145.4h0" stroke="#6b4555" stroke-width="1" stroke-linecap="round" stroke-opacity="0.7"/>
<radialGradient id="g43"><stop offset="0" stop-color="#f6dfd4"/><stop offset="0.6" stop-color="#eccbc0"/><stop offset="1" stop-color="#dbb2a8"/></radialGradient>
<circle cx="275.1" cy="151" r="14.6" fill="url(#g43)" stroke="#d0a89e" stroke-width="0.4"/>
<radialGradient id="g50"><stop offset="0" stop-color="#dcbcbc"/><stop offset="0.6" stop-color="#c6a0a4"/><stop offset="0.9" stop-color="#9c7680"/><stop offset="1" stop-color="#7e5a68"/></radialGradient>
<circle cx="185.3" cy="181.3" r="14.6" fill="url(#g50)" stroke="#d0a89e" stroke-width="0.4"/>
<path d="M178.1 181.4h0M180.9 176.1h0M171.8 183.6h0M192.0 185.3h0M183.5 177.7h0M192.5 191.6h0M193.1 180.3h0M190.4 194.0h0M180.2 190.8h0M176.7 174.4h0M197.0 174.4h0M180.9 169.5h0M188.3 170.6h0M179.3 184.1h0M183.9 194.6h0M183.9 177.0h0M191.4 177.5h0M182.0 172.5h0M184.5 187.6h0M177.5 177.1h0M177.1 173.1h0M190.7 169.7h0M175.7 171.6h0M172.2 181.6h0M190.3 169.8h0M192.7 188.7h0M181.1 180.9h0M178.6 188.7h0M186.6 181.4h0M177.7 176.7h0M198.0 179.6h0M191.2 170.4h0M187.2 193.0h0M189.5 184.3h0M180.4 186.1h0M195.1 183.4h0M189.1 180.5h0M186.4 194.6h0M176.0 179.6h0M174.4 187.5h0M176.6 182.9h0M177.4 190.6h0M194.5 182.4h0M184.5 180.3h0M182.0 188.8h0M179.2 173.4h0M177.7 181.4h0M173.2 187.0h0M188.4 184.0h0M187.0 183.9h0M190.1 187.4h0M184.3 167.8h0M195.1 182.3h0M186.0 194.4h0M196.9 181.0h0M194.9 182.9h0M176.0 185.5h0M185.7 183.5h0M175.3 173.6h0M180.9 188.6h0M195.0 184.1h0M189.2 172.5h0M188.6 184.6h0M192.2 171.8h0M185.0 191.2h0M192.7 188.5h0M192.8 182.6h0M175.9 182.2h0M182.2 192.2h0M185.4 193.6h0M190.4 172.1h0M192.0 179.6h0M188.3 180.9h0M179.8 179.0h0M190.8 186.1h0M184.9 181.7h0M182.6 194.4h0M189.0 170.6h0M194.7 179.1h0M185.9 168.2h0M175.7 179.8h0M192.7 192.5h0M182.2 186.6h0M186.8 193.5h0M182.6 192.4h0M176.4 171.2h0M190.6 168.9h0M185.9 184.0h0M191.3 182.5h0M189.8 184.1h0M182.7 172.5h0M184.8 191.1h0M187.3 189.4h0M182.8 183.4h0M197.6 176.7h0M178.3 189.7h0M193.7 182.6h0M177.9 176.2h0M192.4 187.8h0M185.5 192.3h0M181.6 171.7h0M193.3 171.9h0M195.2 190.8h0M180.1 172.6h0M173.0 183.4h0M181.8 192.1h0M177.4 188.1h0M177.3 175.1h0M183.0 179.8h0M187.0 189.7h0M180.9 188.5h0M182.4 188.4h0M179.9 182.2h0M195.6 189.5h0M178.6 170.8h0M178.6 192.6h0M176.6 185.3h0M191.6 182.2h0M177.0 172.5h0M181.0 193.1h0M183.9 179.3h0M185.7 195.1h0M184.7 181.2h0M181.3 173.9h0M196.3 189.0h0M176.0 187.9h0M178.6 192.6h0M178.8 176.5h0M182.6 194.4h0M176.8 170.6h0M189.2 189.5h0M180.3 168.5h0M186.2 171.9h0M195.5 174.8h0M181.3 188.8h0M173.1 174.7h0M180.1 174.1h0M183.3 177.4h0M174.7 178.7h0M185.0 168.0h0M195.6 185.4h0M178.1 182.2h0M178.2 181.5h0M189.4 193.8h0M182.2 178.6h0M183.3 184.4h0M179.6 187.5h0M188.8 182.6h0M172.6 186.5h0M181.8 194.2h0M194.6 189.7h0M193.3 189.5h0M192.1 192.7h0M191.1 178.0h0M196.9 180.6h0M197.7 185.1h0M177.2 185.3h0M179.0 183.3h0M195.6 175.8h0M186.0 168.8h0M184.5 193.0h0M185.4 172.9h0M179.2 172.5h0M192.4 174.6h0M176.9 188.4h0M186.7 170.0h0M177.0 187.9h0M195.8 177.1h0M184.8 175.4h0M175.4 182.8h0M183.3 191.5h0M189.6 184.2h0M176.7 190.4h0M190.9 176.6h0M196.2 173.5h0M178.3 186.6h0M185.4 186.2h0M187.2 173.4h0M191.6 191.7h0M184.4 174.4h0M184.0 168.5h0M173.2 178.3h0M179.5 192.2h0M188.5 169.1h0M177.7 179.2h0M194.8 173.0h0M177.3 190.2h0M173.9 178.0h0M182.9 169.9h0M172.8 186.9h0M179.6 173.1h0M182.7 189.9h0M193.9 180.6h0M181.6 184.3h0M183.4 184.4h0M183.4 190.2h0M181.0 180.0h0M171.5 181.7h0M181.5 168.7h0M182.9 176.1h0M179.3 183.0h0M182.9 179.3h0M175.4 174.0h0M177.3 190.0h0M191.7 189.3h0M188.1 168.0h0M188.9 172.3h0M176.5 184.5h0M179.0 186.3h0M180.0 182.3h0M191.6 183.8h0M188.6 183.5h0M183.3 175.4h0M175.8 178.9h0M191.4 189.5h0M178.7 187.1h0M184.3 172.7h0M191.6 169.4h0M187.9 186.5h0M176.6 188.5h0M184.3 173.7h0M186.7 173.8h0M192.1 179.0h0M179.8 188.9h0M178.4 182.1h0M176.0 181.4h0M196.7 186.7h0M184.2 191.8h0M181.7 186.9h0M178.0 183.9h0M175.6 173.9h0M176.7 176.7h0M177.5 189.1h0M186.6 181.3h0M189.6 185.2h0M186.9 168.8h0M181.7 179.4h0M174.8 184.1h0M197.7 179.1h0M180.4 184.1h0M178.5 174.7h0M198.8 178.6h0M192.9 170.6h0M193.0 187.5h0M192.2 184.1h0M197.6 176.7h0M176.9 170.8h0M187.2 169.8h0M191.0 178.7h0M188.4 172.3h0M191.8 188.9h0M183.6 169.4h0M182.6 171.2h0M185.5 189.2h0M180.6 176.6h0M187.9 176.6h0M195.0 188.1h0M178.6 180.9h0M172.5 186.6h0M190.5 190.3h0M182.9 168.7h0M179.0 179.7h0M191.8 184.9h0M174.6 175.7h0M176.0 189.2h0M185.0 178.7h0M188.9 181.3h0M186.5 175.6h0M193.8 179.9h0M193.9 183.4h0M183.1 171.2h0M184.5 174.7h0M180.3 178.3h0M197.0 176.3h0M172.1 179.0h0M195.7 185.4h0M175.7 180.5h0M185.2 191.5h0M183.5 169.4h0M184.4 182.2h0M184.8 174.6h0M195.4 180.4h0M185.6 178.6h0M188.4 192.0h0M193.3 185.3h0M194.0 171.5h0M189.5 174.8h0M189.2 174.2h0M177.4 175.0h0M178.9 184.3h0M195.3 179.6h0M177.1 183.8h0M181.0 185.2h0M193.3 185.5h0M189.0 168.2h0M187.8 174.5h0M177.5 187.6h0M185.7 177.8h0M191.3 179.8h0M181.9 183.4h0" stroke="#5e3a50" stroke-width="0.8" stroke-linecap="round" stroke-opacity="0.65"/>
<path d="M194.4 178.1h0M177.2 176.6h0M195.1 184.4h0M194.0 192.0h0M198.7 178.2h0M180.2 170.1h0M179.9 188.6h0M188.4 192.5h0M177.1 190.9h0M177.8 189.4h0M175.6 179.1h0M186.5 192.1h0M196.0 185.3h0M188.8 190.1h0M182.4 194.3h0M182.4 171.4h0M199.0 183.1h0M180.7 189.1h0M192.1 187.1h0M196.9 177.1h0M191.4 170.3h0M183.6 170.3h0M179.2 189.4h0M187.4 191.5h0M195.8 182.3h0M198.1 184.1h0M172.1 179.0h0M173.5 181.4h0M192.5 189.7h0M194.4 171.6h0M192.6 175.5h0M183.6 194.7h0M184.7 170.4h0M174.0 180.4h0M176.0 179.6h0M190.3 191.3h0M188.1 192.2h0M176.2 177.6h0M182.3 194.8h0M189.8 172.4h0M183.0 167.9h0M192.5 173.8h0M189.2 191.2h0M175.4 181.1h0M191.1 192.3h0M173.0 177.5h0M196.3 178.2h0M178.5 171.9h0M174.4 179.5h0M196.8 184.9h0M175.0 181.8h0M182.3 191.4h0M180.6 169.6h0M194.3 179.7h0M193.2 177.0h0M194.4 172.5h0M171.9 181.9h0M174.7 175.4h0M172.3 178.0h0M181.8 169.7h0M192.0 192.8h0M173.7 184.1h0M194.1 173.2h0M188.0 191.7h0M179.5 192.6h0M178.3 188.1h0M190.3 170.6h0M172.5 180.1h0M192.5 169.7h0M192.2 186.8h0M186.7 169.4h0M190.9 170.7h0M195.6 175.1h0M176.7 186.3h0M189.9 169.2h0M196.9 180.4h0M187.8 191.0h0M196.8 182.3h0M192.7 176.1h0M177.9 192.4h0M172.0 178.3h0M191.6 174.6h0M189.7 170.2h0M183.8 167.7h0M174.2 187.2h0M190.7 172.0h0M182.0 172.3h0M186.3 170.8h0M199.0 183.3h0M180.2 172.6h0M175.2 183.6h0M171.9 182.1h0M177.6 170.4h0M182.2 189.6h0M190.6 191.6h0M183.1 189.9h0M174.6 173.7h0M193.2 171.4h0M198.5 180.4h0M195.6 178.6h0M193.4 187.4h0M177.2 190.8h0M191.2 172.5h0M181.0 189.7h0M193.6 188.6h0M196.4 177.5h0M185.4 168.3h0M196.7 188.8h0M186.0 191.1h0M179.4 174.3h0M184.9 170.8h0M196.0 174.3h0M198.3 178.4h0M195.5 188.1h0M187.9 168.8h0M193.2 188.6h0M174.7 177.7h0M193.4 189.6h0M193.6 171.8h0M189.4 190.5h0M180.1 173.3h0M176.5 176.2h0M194.3 181.4h0M175.9 190.3h0M180.3 188.8h0M180.4 171.2h0M178.3 190.2h0M194.4 176.3h0M185.0 194.3h0M174.0 185.5h0M194.1 175.7h0M175.9 180.2h0M173.2 184.5h0M196.4 181.7h0M176.7 177.3h0M182.4 190.6h0M188.5 192.5h0M196.9 181.5h0M173.7 187.3h0M194.7 180.0h0M179.2 170.1h0M181.0 170.1h0M193.4 173.7h0M189.1 169.1h0M186.0 194.6h0M195.8 182.5h0M176.5 184.8h0M194.4 190.7h0M195.7 175.2h0M191.9 171.4h0M185.6 194.5h0M172.5 180.2h0M193.4 175.6h0M181.0 191.0h0M185.6 169.7h0M192.9 190.8h0M191.3 174.3h0M184.0 191.3h0M194.2 181.4h0M194.0 191.9h0M176.0 171.8h0M177.5 173.3h0M176.4 178.7h0M177.8 176.7h0M194.9 173.8h0M191.0 172.0h0M189.3 190.2h0M173.9 182.6h0M197.1 188.2h0M177.2 176.8h0M182.5 171.8h0M174.7 176.0h0M188.7 169.6h0M196.7 174.2h0M180.2 173.4h0M196.7 178.8h0M176.6 182.6h0M173.4 180.3h0M192.4 172.3h0M196.4 186.6h0M176.3 182.7h0M175.1 181.1h0M182.7 172.6h0M179.0 189.3h0M189.7 193.8h0M176.9 185.4h0M189.7 169.4h0M196.2 182.2h0M191.1 174.5h0M175.8 177.7h0M175.9 183.2h0M177.7 192.3h0M189.3 170.1h0M196.6 185.4h0M174.0 179.6h0M195.8 189.6h0M195.3 186.9h0M184.3 170.3h0M186.9 169.3h0M196.5 187.2h0" stroke="#4a2a3e" stroke-width="0.9" stroke-linecap="round" stroke-opacity="0.6"/>
<path d="M176.1 174.1h0M178.0 183.4h0M191.0 180.8h0M187.6 191.3h0M176.7 180.2h0M185.0 187.3h0M186.0 176.6h0M178.7 192.6h0M187.3 180.3h0M173.5 177.9h0M178.5 182.2h0M177.1 171.6h0M185.8 176.4h0M175.6 178.3h0M174.6 179.4h0M176.7 182.8h0M183.0 170.3h0M190.3 183.9h0M188.0 174.3h0M190.7 183.6h0M173.8 177.8h0M182.4 193.2h0M190.7 174.1h0M185.9 177.1h0M182.2 186.8h0M183.1 171.1h0M187.0 190.8h0M197.3 185.5h0M182.6 178.3h0M178.0 191.1h0M196.7 181.7h0M194.7 185.1h0M185.6 180.5h0M180.7 190.6h0M176.4 173.9h0M182.7 191.7h0M174.9 185.7h0M195.6 186.5h0M193.5 181.6h0M198.1 181.1h0M191.8 185.3h0M194.3 179.5h0M176.5 175.9h0M175.7 175.5h0M183.2 184.6h0M183.4 188.7h0M188.3 187.7h0M185.8 173.0h0M176.4 182.3h0M181.8 187.4h0M189.9 184.9h0M197.1 184.3h0M173.6 176.6h0M196.0 181.1h0M197.1 180.0h0M187.9 173.1h0M186.1 174.0h0M176.3 178.6h0M192.6 172.3h0M185.6 192.1h0" stroke="#3a1c30" stroke-width="1.6" stroke-linecap="round" stroke-opacity="0.85"/>
<radialGradient id="g51"><stop offset="0" stop-color="#f2d6cb"/><stop offset="0.7" stop-color="#e8c3b8"/><stop offset="1" stop-color="#d6aba2"/></radialGradient>
<circle cx="215.3" cy="181.3" r="14.6" fill="url(#g51)" stroke="#d0a89e" stroke-width="0.4"/>
<path d="M215.7 191.1h0M221.9 192.0h0M216.5 191.5h0M223.1 177.4h0M226.9 178.9h0M204.8 178.0h0M208.2 177.0h0M224.1 181.1h0M228.0 180.0h0M222.2 182.5h0M202.9 183.0h0M220.1 191.1h0M207.0 190.4h0M226.1 175.9h0M219.5 192.6h0M203.6 186.1h0M202.3 183.8h0M227.8 180.2h0M221.1 170.2h0M210.4 178.1h0M224.7 180.5h0M224.4 182.2h0M209.9 184.5h0M219.8 180.2h0M223.8 175.5h0M218.9 188.8h0M210.8 182.8h0M216.2 170.1h0M227.9 179.9h0M218.4 167.8h0M225.4 176.7h0M205.6 178.8h0M220.5 169.0h0M221.5 170.2h0M224.2 182.8h0M224.4 186.8h0M206.2 176.3h0M219.4 176.2h0M213.9 170.8h0M218.5 194.7h0M224.2 184.4h0M204.9 178.9h0M225.5 180.1h0M221.0 176.4h0M210.0 181.9h0M209.5 174.4h0M216.3 176.8h0M202.1 184.3h0M226.5 182.1h0M210.1 170.7h0M206.1 177.8h0M222.4 179.4h0M212.0 170.4h0M214.0 171.8h0M227.4 182.6h0M213.1 193.4h0M227.5 180.3h0M204.8 188.7h0M209.4 186.5h0M205.2 176.5h0M211.3 171.8h0M205.3 187.8h0M210.4 190.9h0M220.3 181.5h0M219.6 176.5h0M212.6 183.0h0M216.1 173.4h0M222.2 183.5h0M226.2 176.2h0M228.8 181.6h0M224.0 185.5h0M203.3 178.7h0M223.2 191.1h0M213.5 193.1h0M224.9 176.6h0M226.6 181.4h0M204.4 186.0h0M216.3 176.9h0M205.2 176.7h0M225.0 176.5h0M206.2 173.3h0M222.2 192.2h0M205.6 175.9h0M221.0 189.6h0M210.0 184.7h0M227.2 176.7h0M211.6 182.3h0M220.0 180.8h0M204.9 180.8h0M222.2 172.4h0" stroke="#a07a80" stroke-width="0.7" stroke-linecap="round" stroke-opacity="0.55"/>
<path d="M207.8 175.6h0M227.1 179.7h0M208.0 190.5h0M224.0 178.3h0M218.2 183.0h0M221.2 180.1h0M217.2 175.9h0M216.1 186.5h0M216.9 177.7h0M203.7 183.4h0M214.1 181.1h0M227.2 182.5h0M214.1 184.9h0M203.8 179.4h0M213.7 185.8h0M218.9 189.6h0M216.0 177.6h0M216.0 170.5h0M207.7 178.4h0M224.4 183.2h0M206.1 187.0h0M220.2 183.3h0M224.4 182.4h0M224.2 184.8h0M208.3 184.2h0M219.9 193.0h0M211.1 181.8h0M205.2 175.9h0M202.9 182.2h0M221.0 172.1h0M223.5 182.7h0M209.9 180.9h0M204.6 181.3h0M215.5 169.8h0M215.2 174.1h0M208.2 175.3h0M215.5 176.7h0M220.3 191.2h0M214.3 175.1h0M216.6 169.8h0" stroke="#6e4454" stroke-width="1.05" stroke-linecap="round" stroke-opacity="0.8"/>
<radialGradient id="g52"><stop offset="0" stop-color="#f2d6ca"/><stop offset="0.7" stop-color="#e8c3b6"/><stop offset="1" stop-color="#d6aca0"/></radialGradient>
<circle cx="245" cy="181.3" r="14.6" fill="url(#g52)" stroke="#d0a89e" stroke-width="0.4"/>
<path d="M248.2 180.9h0M243.5 171.8h0M253.3 178.1h0M249.8 178.6h0M253.9 181.0h0M248.3 188.8h0M243.3 179.4h0M243.9 182.3h0M250.2 183.7h0M245.9 188.5h0M246.6 172.5h0M253.2 171.0h0M255.7 173.0h0M234.9 176.1h0M252.5 174.4h0M251.3 189.1h0M239.2 180.2h0M250.0 184.6h0M240.9 169.5h0M240.0 173.8h0M245.9 181.5h0M239.3 173.0h0M239.5 182.8h0M249.2 185.4h0M252.4 189.1h0M241.4 191.0h0M235.7 185.7h0M244.6 169.1h0M253.0 192.3h0M252.6 171.3h0M232.1 185.2h0M247.6 175.0h0M240.1 169.5h0M245.2 168.1h0M233.8 179.2h0M255.0 186.5h0M252.2 190.7h0M251.9 176.4h0M247.6 182.5h0M239.6 180.7h0M244.3 170.5h0M233.6 181.3h0M250.5 188.9h0M254.8 184.2h0M246.5 176.1h0M239.8 168.5h0M242.2 187.0h0M244.8 194.0h0M255.7 187.2h0M244.1 193.3h0M254.7 173.0h0M248.7 190.9h0M239.7 193.1h0M243.4 186.8h0M241.6 183.6h0M247.0 192.8h0M242.2 186.6h0M251.5 178.5h0M248.2 170.3h0M234.5 177.4h0M233.9 175.1h0M242.5 174.6h0M239.5 173.1h0M249.2 179.1h0M232.0 185.4h0M255.8 186.2h0M253.8 174.9h0M256.4 185.6h0M244.2 191.3h0M248.2 174.2h0M245.2 186.0h0M242.6 185.0h0M240.7 169.4h0M254.5 184.8h0M248.2 169.5h0M244.0 191.4h0M240.9 172.2h0M258.2 181.2h0M249.8 180.3h0M255.5 183.0h0M238.7 177.9h0M245.5 193.6h0M245.5 179.8h0M253.4 189.5h0M240.2 183.8h0M252.6 178.8h0M252.9 185.5h0M235.7 187.5h0M245.4 177.4h0M232.0 183.6h0M232.0 182.4h0M255.1 174.0h0M242.3 177.6h0M252.6 180.5h0M241.6 190.5h0M233.1 178.6h0M232.1 178.0h0M247.5 170.4h0M243.3 192.2h0M232.9 181.2h0M243.1 193.5h0M243.7 175.6h0M253.9 177.6h0M237.5 184.2h0M235.6 189.4h0M253.4 176.8h0M235.7 179.4h0M254.4 190.4h0M243.0 182.4h0M245.8 188.9h0M246.3 175.6h0M252.3 192.3h0M240.4 193.9h0M249.1 181.6h0M247.1 189.7h0M237.3 179.4h0M258.1 178.2h0M232.5 175.6h0M253.8 170.8h0M241.1 179.0h0M242.2 180.0h0M233.4 188.8h0M235.9 188.3h0M256.1 177.7h0M237.6 188.0h0M253.8 189.8h0M240.3 175.0h0M233.3 186.6h0M251.2 183.3h0M236.4 172.4h0M234.4 178.5h0M255.5 182.0h0M241.5 180.0h0M238.1 180.0h0M238.0 191.5h0M245.8 180.0h0M254.5 187.0h0M254.8 176.2h0M238.5 191.4h0M248.0 179.4h0M253.9 183.4h0M242.7 171.5h0M239.5 182.1h0M246.5 183.8h0M238.1 182.8h0M236.7 176.7h0M239.8 192.3h0M240.1 189.4h0M233.8 184.5h0M256.8 179.9h0M257.0 181.3h0M234.0 179.7h0M246.7 181.6h0M249.7 181.8h0M253.8 189.0h0M245.8 172.5h0M247.0 190.3h0M250.1 185.9h0M232.6 185.7h0M244.3 176.7h0M249.1 168.2h0M249.3 177.6h0M233.5 174.3h0M244.8 191.8h0M235.7 171.4h0M249.4 172.9h0M239.8 177.9h0M248.0 175.1h0M242.3 176.8h0M243.1 169.0h0M251.8 186.9h0M250.4 189.8h0M246.3 194.6h0M246.7 178.3h0M245.2 188.4h0M251.7 189.2h0M243.2 171.7h0M239.3 181.0h0M232.7 184.7h0M250.8 184.4h0M235.3 179.9h0M249.1 192.6h0M254.6 180.3h0M258.4 180.4h0M245.0 173.7h0M232.5 176.4h0M250.5 173.5h0M245.2 188.3h0M235.3 189.0h0M236.5 186.5h0M248.0 190.0h0M246.7 183.8h0M247.6 191.2h0M238.1 171.4h0M236.0 188.3h0M247.5 180.1h0M238.7 179.2h0M250.1 179.9h0M241.1 188.7h0M245.4 169.9h0" stroke="#b89090" stroke-width="0.7" stroke-linecap="round" stroke-opacity="0.45"/>
<path d="M253.6 184.0h0M242.1 185.4h0M253.9 182.9h0M250.0 169.2h0M246.3 188.2h0" stroke="#6b4555" stroke-width="1" stroke-linecap="round" stroke-opacity="0.7"/>
<radialGradient id="g53"><stop offset="0" stop-color="#f6dfd4"/><stop offset="0.6" stop-color="#eccbc0"/><stop offset="1" stop-color="#dbb2a8"/></radialGradient>
<circle cx="275.1" cy="181.3" r="14.6" fill="url(#g53)" stroke="#d0a89e" stroke-width="0.4"/>
<text x="54.3" y="207" font-size="7.5">IL1AP<tspan font-size="4.8" dy="2.2">II_1</tspan></text>
<text x="87.7" y="207" font-size="7.5">CCL23<tspan font-size="4.8" dy="2.2">II</tspan></text>
<text x="120" y="207" font-size="7.5">Neg.</text>
<text x="175" y="207" font-size="7.5">FLT3<tspan font-size="4.8" dy="2.2">II</tspan></text>
<text x="201.75" y="207" font-size="7.5">IL1AP<tspan font-size="4.8" dy="2.2">II_2</tspan></text>
<text x="236" y="207" font-size="7.5">HPRT<tspan font-size="4.8" dy="2.2">II</tspan></text>
<text x="269.25" y="207" font-size="7.5">Neg.</text>
<text x="291.5" y="7.9" font-size="10.1" font-weight="bold" style="stroke-width:0.35px">B</text>
<text x="397.5" y="12" font-size="8.7" text-anchor="middle">HV</text>
<text x="355.7" y="25.5" font-size="8.7" text-anchor="middle">CD4<tspan font-size="5.5" dy="-3.2">+</tspan></text>
<text x="439" y="25.6" font-size="8.7" text-anchor="middle">CD8<tspan font-size="5.5" dy="-3.2">+</tspan></text>
<line x1="321" y1="30.2" x2="389.6" y2="30.2" stroke="#231f20" stroke-width="0.9"/>
<line x1="403.7" y1="30.2" x2="471.5" y2="30.2" stroke="#231f20" stroke-width="0.9"/>
<rect x="317.2" y="35.3" width="78.4" height="78.1" fill="none" stroke="#c4c4c4" stroke-width="0.7"/>
<line x1="360.3" y1="35.3" x2="360.3" y2="113.4" stroke="#c9c9c9" stroke-width="0.7"/>
<line x1="317.2" y1="84.3" x2="395.6" y2="84.3" stroke="#c9c9c9" stroke-width="0.7"/>
<line x1="317.2" y1="43.3" x2="318.8" y2="43.3" stroke="#555" stroke-width="0.6"/>
<line x1="317.2" y1="55.8" x2="318.8" y2="55.8" stroke="#555" stroke-width="0.6"/>
<line x1="317.2" y1="68.3" x2="318.8" y2="68.3" stroke="#555" stroke-width="0.6"/>
<line x1="317.2" y1="80.8" x2="318.8" y2="80.8" stroke="#555" stroke-width="0.6"/>
<line x1="317.2" y1="93.3" x2="318.8" y2="93.3" stroke="#555" stroke-width="0.6"/>
<line x1="317.2" y1="105.8" x2="318.8" y2="105.8" stroke="#555" stroke-width="0.6"/>
<line x1="323.2" y1="113.4" x2="323.2" y2="111.8" stroke="#555" stroke-width="0.6"/>
<line x1="334.2" y1="113.4" x2="334.2" y2="111.8" stroke="#555" stroke-width="0.6"/>
<line x1="345.2" y1="113.4" x2="345.2" y2="111.8" stroke="#555" stroke-width="0.6"/>
<line x1="356.2" y1="113.4" x2="356.2" y2="111.8" stroke="#555" stroke-width="0.6"/>
<line x1="367.2" y1="113.4" x2="367.2" y2="111.8" stroke="#555" stroke-width="0.6"/>
<line x1="378.2" y1="113.4" x2="378.2" y2="111.8" stroke="#555" stroke-width="0.6"/>
<line x1="389.2" y1="113.4" x2="389.2" y2="111.8" stroke="#555" stroke-width="0.6"/>
<line x1="316.6" y1="91.8" x2="316.6" y2="95.8" stroke="#222" stroke-width="1.2"/>
<line x1="335.1" y1="113.8" x2="339.1" y2="113.8" stroke="#222" stroke-width="1.2"/>
<path d="M332.2 90.2h0M354.4 91.6h0M329.0 95.7h0M343.4 101.2h0M338.1 102.7h0M344.3 103.6h0M350.3 97.0h0M352.0 98.8h0M333.4 100.1h0M335.5 101.8h0M332.6 98.1h0M331.4 97.1h0M351.2 100.0h0M335.8 85.6h0M349.3 88.3h0M332.9 99.5h0M330.9 98.9h0M352.5 94.1h0M330.5 92.1h0M353.6 95.1h0M353.0 94.3h0M346.5 99.5h0M345.1 100.2h0M348.4 101.2h0M339.6 85.8h0M334.5 86.9h0M327.7 93.9h0M336.1 102.8h0M336.6 85.3h0M350.8 94.1h0M351.8 95.4h0M353.7 90.6h0M346.3 87.7h0M337.6 84.7h0M345.8 85.0h0M369.9 91.7h0M384.9 59.2h0M391.3 62.7h0M382.2 57.3h0M375.4 65.8h0M360.3 96.7h0M367.3 87.5h0M379.1 89.5h0M382.5 57.0h0M379.7 64.4h0M382.2 62.5h0M378.7 65.5h0M367.1 76.3h0M370.9 76.4h0M366.3 72.7h0M377.1 75.5h0M364.0 91.2h0M368.6 79.9h0M376.0 59.5h0M369.6 72.4h0M361.3 85.8h0M379.2 61.3h0M370.6 74.1h0M375.8 94.6h0M373.9 63.4h0M367.3 71.9h0M367.3 62.4h0M388.6 56.1h0M374.0 77.4h0M366.0 79.0h0M360.8 87.5h0M373.9 56.4h0M377.4 64.1h0M365.1 82.2h0M370.5 82.8h0M384.7 60.8h0M372.4 88.4h0M372.4 60.8h0M378.1 73.3h0M374.0 62.4h0M377.3 74.9h0M378.2 61.4h0M378.4 53.6h0M366.7 87.3h0M374.7 55.6h0M383.2 66.6h0M369.6 87.5h0M380.9 69.2h0M368.5 78.3h0M383.0 74.0h0M384.1 46.7h0M376.3 78.1h0M380.1 56.1h0M369.2 88.8h0M390.1 50.7h0M384.2 66.5h0M367.7 82.1h0M387.9 59.3h0M374.6 60.2h0M376.1 68.0h0M388.1 65.3h0M360.8 89.1h0M372.5 69.4h0M362.6 90.7h0M364.5 90.4h0M390.5 45.8h0M364.3 78.2h0M378.9 71.2h0M378.9 59.3h0M374.0 70.6h0M380.4 69.4h0M388.6 58.3h0M387.9 62.9h0M365.9 76.0h0M369.4 85.4h0M364.2 86.7h0M364.5 86.4h0M381.1 66.5h0M383.5 56.9h0M365.2 82.4h0M381.3 53.2h0M383.8 47.6h0M391.4 57.1h0M381.6 67.6h0M374.0 61.6h0M361.5 76.5h0M377.0 50.9h0M367.7 92.2h0M384.3 59.6h0M375.1 72.5h0M358.8 88.1h0M367.9 83.3h0M369.5 80.7h0M373.9 80.1h0M387.5 60.8h0M383.8 62.2h0M372.7 73.5h0M378.4 73.2h0M368.0 76.8h0M383.4 75.9h0M373.5 82.5h0M362.2 95.4h0M385.9 54.2h0M377.9 71.8h0M358.0 90.5h0M383.5 56.2h0M372.0 87.8h0M380.0 72.2h0M377.1 64.0h0M389.3 50.8h0M382.2 60.9h0M372.3 73.9h0M387.7 52.5h0M381.1 76.5h0M358.8 84.7h0M379.7 72.6h0M367.1 79.8h0M387.0 64.1h0M377.3 68.0h0M379.2 67.7h0M377.5 60.1h0M372.5 86.6h0M374.1 82.2h0M372.2 75.0h0M387.9 60.4h0M361.9 95.3h0M370.3 82.8h0M375.7 63.3h0M384.1 72.1h0M353.0 97.0h0M367.9 83.6h0M386.1 51.9h0M377.4 69.7h0M367.1 78.3h0M369.1 78.7h0M380.0 80.9h0M372.4 72.3h0M370.7 72.9h0M377.3 67.5h0M373.9 83.9h0M361.8 87.3h0M375.0 75.4h0M387.4 57.7h0M386.2 53.6h0M387.5 52.2h0M378.3 56.6h0M378.5 69.1h0M385.7 70.5h0M381.8 62.0h0M362.9 79.9h0M386.4 52.9h0M372.3 85.3h0M367.6 78.2h0M381.7 59.7h0M376.1 60.2h0M369.6 70.6h0M380.9 54.9h0M374.9 68.7h0M353.2 90.3h0M390.5 65.6h0M380.0 61.8h0M368.6 81.9h0M360.6 83.4h0M372.5 65.4h0M369.5 81.2h0M383.0 54.8h0M379.4 81.1h0M389.0 55.2h0M383.2 57.8h0M372.1 83.2h0M376.6 60.0h0M382.4 58.3h0M389.2 61.2h0M383.2 67.3h0M373.5 74.4h0M374.6 80.3h0M365.2 67.9h0M376.0 82.0h0M374.0 68.5h0M378.4 66.7h0M383.8 63.5h0M374.9 68.0h0M374.4 75.1h0M371.4 75.1h0M390.8 60.0h0M368.1 87.8h0M375.7 62.6h0M388.7 70.9h0M381.7 65.1h0M367.9 89.8h0M376.8 57.2h0M372.6 80.1h0M356.3 98.3h0M379.5 64.3h0M383.2 59.5h0M363.9 89.6h0M376.6 66.5h0M376.0 71.5h0M369.5 85.7h0M389.8 54.8h0M373.3 70.7h0M383.3 58.1h0M364.5 71.6h0M371.8 73.4h0M374.6 83.1h0M379.6 80.7h0M377.1 68.9h0M358.6 81.1h0M379.6 75.8h0M380.9 60.5h0M381.6 53.9h0M368.4 81.3h0M387.9 51.2h0M375.3 64.3h0M368.9 78.4h0M365.6 92.3h0M383.9 61.7h0M384.1 60.2h0M367.4 81.1h0M383.3 52.4h0M366.1 73.9h0M365.9 87.5h0M372.9 72.1h0M376.4 65.5h0M371.2 66.3h0M367.1 87.9h0M374.1 73.5h0M357.9 92.2h0M382.5 65.0h0M381.9 64.7h0M390.1 55.9h0M372.0 60.3h0M387.7 49.3h0M384.7 59.8h0M363.1 95.5h0M372.2 95.2h0M385.6 70.2h0M378.3 61.1h0M363.6 93.8h0M381.5 69.6h0M376.1 74.0h0M375.2 51.4h0M369.9 83.8h0M360.2 75.4h0M377.3 70.5h0M378.0 65.8h0M375.1 71.4h0M385.9 75.0h0M360.7 96.8h0M374.4 83.4h0M370.6 55.9h0M373.5 64.7h0M386.5 57.0h0M378.2 65.1h0M380.6 66.1h0M377.4 77.1h0M374.8 77.7h0M381.6 63.8h0M379.8 62.4h0M388.3 57.0h0M357.8 95.9h0M360.3 74.4h0M369.4 68.3h0M373.4 68.9h0M383.4 62.4h0M379.7 59.8h0M359.1 90.1h0M376.7 69.4h0M388.6 61.9h0M368.2 91.3h0M387.1 55.2h0M382.8 60.1h0M362.6 87.4h0M374.6 62.1h0M357.0 86.0h0M382.3 63.9h0M384.1 53.4h0M357.3 86.8h0M386.0 64.1h0M382.1 61.6h0M387.1 52.7h0M375.9 61.5h0M366.7 81.5h0M373.0 89.2h0M353.6 95.8h0M379.3 68.8h0M381.6 61.0h0M373.3 56.8h0M373.1 72.0h0M378.7 64.5h0M389.0 63.3h0M366.4 89.0h0M366.6 78.5h0M375.8 62.6h0M365.1 77.3h0M374.2 72.0h0M375.3 66.4h0M377.3 74.2h0M387.3 72.0h0M383.8 65.0h0M369.7 73.9h0M377.1 71.0h0M362.8 88.6h0M373.0 82.2h0M357.7 82.9h0M377.0 65.4h0M385.0 48.6h0M370.6 87.9h0M384.4 55.5h0M384.5 55.6h0M381.8 63.0h0M372.1 76.6h0M358.6 91.1h0M372.5 70.2h0M364.2 68.3h0M381.4 54.5h0M380.4 63.5h0M354.8 90.9h0M377.2 66.5h0M372.4 61.4h0M371.7 82.7h0M383.5 54.7h0M375.1 57.2h0M378.7 63.8h0M386.2 54.7h0M383.4 78.7h0M362.1 89.6h0M380.0 51.3h0M373.5 60.7h0M363.4 90.4h0M381.9 74.0h0M376.4 60.1h0M367.7 90.8h0M375.4 66.8h0M378.4 53.4h0M386.5 60.8h0M384.3 57.5h0M352.9 88.9h0M365.3 82.1h0M388.1 66.3h0M374.1 80.9h0M373.9 72.5h0M380.4 68.4h0M371.2 78.4h0M360.7 84.8h0M371.1 56.9h0M367.6 77.9h0M355.2 88.4h0M393.8 55.5h0M383.5 59.1h0M369.5 75.3h0M377.0 90.2h0M376.4 65.0h0M363.9 93.5h0M371.9 86.1h0M373.4 71.5h0M374.2 63.7h0M384.7 50.3h0M376.4 71.0h0M372.8 77.9h0M383.9 82.6h0M373.1 85.7h0M366.6 83.2h0M361.6 89.0h0M364.1 80.3h0M371.4 80.3h0M388.9 58.9h0M363.5 76.9h0M368.1 81.8h0M385.6 50.1h0M385.4 59.1h0M370.1 84.3h0M378.0 69.9h0M386.4 60.0h0M377.0 78.1h0M385.8 66.8h0M388.7 50.7h0M372.3 80.5h0M370.7 80.1h0M377.9 82.1h0M381.5 73.9h0M367.1 76.9h0M383.6 50.3h0M363.5 85.9h0M370.2 79.2h0M371.8 73.8h0M364.8 86.5h0M368.8 64.4h0M387.7 64.5h0M385.8 56.5h0M380.6 71.9h0M384.6 58.7h0M376.7 69.7h0M377.5 78.6h0M368.8 82.0h0M372.9 77.1h0M375.4 62.1h0M387.0 66.8h0M387.5 52.2h0M380.4 58.6h0M363.2 94.1h0M380.9 70.4h0M374.9 70.4h0M375.9 79.2h0M362.1 83.3h0M367.4 88.4h0M384.7 76.7h0M372.2 72.6h0M369.6 76.5h0M367.2 86.0h0M368.0 89.5h0M373.9 77.3h0M363.4 83.2h0M372.8 68.7h0M394.5 51.8h0M375.5 62.7h0M368.5 86.0h0M361.2 88.3h0M378.0 66.7h0M381.1 71.9h0M382.1 64.3h0M368.9 73.9h0M372.0 72.3h0M359.7 80.7h0M377.1 75.7h0M383.6 69.1h0M377.1 72.6h0M387.8 56.1h0M376.3 59.8h0M371.2 82.9h0M375.9 72.3h0M380.1 58.1h0M377.8 77.6h0M383.8 62.9h0M374.8 78.2h0M367.0 87.4h0M379.3 59.7h0M389.5 63.3h0M368.8 83.1h0M369.0 84.4h0M376.8 70.4h0M370.6 75.5h0M368.6 70.6h0M377.4 63.2h0M378.4 69.4h0M361.2 89.1h0M364.7 82.5h0M381.9 78.8h0M375.1 85.7h0M379.6 80.6h0M375.0 71.1h0M378.1 65.9h0M386.2 60.6h0M378.0 62.0h0M379.8 62.3h0M366.0 79.1h0M359.1 92.2h0M367.1 86.9h0M389.6 66.2h0M378.8 69.6h0M384.2 51.6h0M376.5 52.0h0M384.6 74.7h0M383.7 74.4h0M364.5 93.2h0M389.0 60.8h0M370.3 78.5h0M385.0 56.3h0M389.1 59.0h0M373.1 67.1h0M356.2 91.3h0M360.1 95.2h0M354.9 94.1h0M370.9 87.3h0M367.7 89.5h0M351.3 88.9h0M368.1 91.4h0M372.5 86.8h0M369.8 92.1h0M358.5 94.4h0M362.4 89.7h0M370.6 88.9h0M373.9 90.0h0M365.7 89.5h0M353.4 95.5h0M354.6 92.6h0M360.3 92.8h0M361.5 93.4h0M362.7 85.1h0M354.6 90.6h0M353.5 93.9h0M372.0 89.5h0M364.0 95.7h0M354.6 90.6h0M370.6 89.4h0M368.5 91.8h0M369.1 91.2h0M359.6 96.0h0M364.9 94.0h0M367.7 93.8h0M368.9 85.2h0M349.7 94.2h0M362.8 90.6h0M370.6 90.7h0M355.5 87.9h0M368.9 90.2h0M350.3 94.5h0M356.3 93.3h0M375.5 90.5h0M370.7 88.1h0M374.4 88.6h0M371.7 93.3h0M362.9 91.5h0M354.9 89.5h0M365.1 86.2h0M354.6 89.6h0M352.1 99.1h0M363.0 89.6h0M374.2 87.0h0M371.7 87.0h0M358.4 85.8h0M369.5 88.1h0M368.7 90.9h0M367.3 94.4h0M366.6 96.8h0M353.7 93.4h0M349.5 93.4h0M373.1 88.3h0M355.7 93.5h0M350.1 90.0h0M353.2 90.7h0M364.5 93.1h0M368.0 91.6h0M371.4 88.6h0M352.5 89.4h0M360.2 89.7h0M351.6 91.8h0M354.4 92.3h0M366.2 87.6h0M360.8 89.0h0M354.3 96.2h0M356.1 90.3h0M365.7 89.0h0M356.2 91.8h0M367.2 88.1h0M360.5 92.0h0M352.9 89.8h0M368.7 89.8h0M370.0 89.9h0M367.5 90.6h0M371.4 88.5h0M367.0 87.4h0M360.8 90.7h0M355.9 91.4h0M371.5 89.0h0M363.8 90.2h0M363.7 91.7h0M360.5 89.9h0M369.2 85.4h0M362.5 88.2h0M391.5 49.4h0M338.4 107.2h0M330.2 48.0h0M379.2 100.4h0M371.6 55.6h0M337.1 88.5h0M386.9 46.8h0M351.1 39.9h0M391.3 42.8h0M381.6 87.4h0M333.8 69.9h0M377.3 69.6h0M321.7 96.3h0M347.4 43.6h0" stroke="#7a7a7a" stroke-width="0.7" stroke-linecap="round" stroke-opacity="0.75"/>
<path d="M350.7 94.4h0M333.9 89.6h0M344.2 86.9h0M334.4 89.2h0M350.9 91.4h0M332.0 93.8h0M342.6 86.6h0M345.7 100.5h0M349.3 97.7h0M332.6 98.1h0M337.0 86.9h0M343.6 87.2h0M333.3 90.6h0M332.3 92.4h0M339.7 87.4h0M349.8 97.9h0M338.9 100.0h0M350.1 97.1h0M349.7 91.2h0M337.4 86.7h0M348.6 98.3h0M348.9 88.9h0M341.7 100.7h0M340.5 100.9h0M337.7 101.0h0M340.4 87.5h0M332.6 90.2h0M338.4 87.2h0M347.4 88.7h0M335.6 98.6h0M350.7 94.3h0M333.5 89.4h0M347.7 89.6h0M334.2 98.4h0M348.6 89.3h0M349.5 97.7h0M342.5 100.1h0M350.1 93.0h0M348.4 99.1h0M335.4 99.4h0M343.2 86.6h0M350.7 90.8h0M347.3 89.0h0M338.2 87.8h0M342.3 100.6h0M341.9 87.5h0M345.1 100.8h0M350.8 95.6h0M346.9 100.1h0M331.4 91.5h0M345.3 100.2h0M349.1 90.5h0M341.1 86.2h0M348.0 99.6h0M334.7 89.2h0M346.9 88.5h0M350.6 93.3h0M338.7 100.3h0M332.0 96.7h0M350.3 92.9h0M341.1 100.5h0M345.2 88.0h0M333.1 96.3h0M337.3 87.1h0M338.6 87.6h0M333.4 97.0h0M350.6 91.7h0M346.4 87.3h0M351.2 94.7h0M338.3 99.8h0" stroke="#2a2a2a" stroke-width="0.8" stroke-linecap="round" stroke-opacity="0.8"/>
<ellipse cx="341.1" cy="93.8" rx="8.1" ry="5.6" fill="#c6c6c6" stroke="#1c1c1c" stroke-width="2.6"/>
<ellipse cx="341.1" cy="93.8" rx="9.7" ry="7.2" fill="none" stroke="#555" stroke-width="0.6" stroke-dasharray="1 1"/>
<ellipse cx="341.4" cy="93.8" rx="4.65" ry="3.4" fill="none" stroke="#9a9a9a" stroke-width="0.6"/>
<ellipse cx="341.1" cy="93.8" rx="1.1" ry="0.8" fill="#333"/>
<text x="320.2" y="44.5" font-size="7.8">0.23%</text>
<text x="392.6" y="44.5" font-size="7.8" text-anchor="end">2.67%</text>
<text x="320.2" y="111" font-size="7.8">95.76%</text>
<text x="392.6" y="111" font-size="7.8" text-anchor="end">1.34%</text>
<rect x="398.8" y="35.3" width="78.6" height="78.1" fill="none" stroke="#c4c4c4" stroke-width="0.7"/>
<line x1="436.4" y1="35.3" x2="436.4" y2="113.4" stroke="#c9c9c9" stroke-width="0.7"/>
<line x1="398.8" y1="84.3" x2="477.4" y2="84.3" stroke="#c9c9c9" stroke-width="0.7"/>
<line x1="398.8" y1="43.3" x2="400.4" y2="43.3" stroke="#555" stroke-width="0.6"/>
<line x1="398.8" y1="55.8" x2="400.4" y2="55.8" stroke="#555" stroke-width="0.6"/>
<line x1="398.8" y1="68.3" x2="400.4" y2="68.3" stroke="#555" stroke-width="0.6"/>
<line x1="398.8" y1="80.8" x2="400.4" y2="80.8" stroke="#555" stroke-width="0.6"/>
<line x1="398.8" y1="93.3" x2="400.4" y2="93.3" stroke="#555" stroke-width="0.6"/>
<line x1="398.8" y1="105.8" x2="400.4" y2="105.8" stroke="#555" stroke-width="0.6"/>
<line x1="404.8" y1="113.4" x2="404.8" y2="111.8" stroke="#555" stroke-width="0.6"/>
<line x1="415.8" y1="113.4" x2="415.8" y2="111.8" stroke="#555" stroke-width="0.6"/>
<line x1="426.8" y1="113.4" x2="426.8" y2="111.8" stroke="#555" stroke-width="0.6"/>
<line x1="437.8" y1="113.4" x2="437.8" y2="111.8" stroke="#555" stroke-width="0.6"/>
<line x1="448.8" y1="113.4" x2="448.8" y2="111.8" stroke="#555" stroke-width="0.6"/>
<line x1="459.8" y1="113.4" x2="459.8" y2="111.8" stroke="#555" stroke-width="0.6"/>
<line x1="470.8" y1="113.4" x2="470.8" y2="111.8" stroke="#555" stroke-width="0.6"/>
<line x1="398.2" y1="91.5" x2="398.2" y2="95.5" stroke="#222" stroke-width="1.2"/>
<line x1="417.3" y1="113.8" x2="421.3" y2="113.8" stroke="#222" stroke-width="1.2"/>
<path d="M429.5 100.0h0M428.5 100.9h0M415.9 88.9h0M415.7 88.1h0M433.0 95.6h0M415.9 88.2h0M431.3 87.7h0M416.9 98.3h0M431.1 99.8h0M419.4 86.0h0M414.0 96.3h0M425.1 101.2h0M429.7 99.9h0M416.0 87.5h0M423.5 100.0h0M417.9 100.7h0M412.3 93.0h0M414.6 96.6h0M430.5 89.8h0M426.0 101.2h0M416.7 88.0h0M414.2 90.8h0M417.6 85.7h0M428.1 86.2h0M411.7 95.2h0M413.4 96.2h0M430.6 87.4h0M414.8 98.9h0M413.9 88.2h0M416.0 88.0h0M433.3 92.2h0M413.9 98.9h0M431.5 91.2h0M433.6 97.4h0M430.4 88.5h0M419.8 88.0h0M470.9 53.1h0M434.2 86.4h0M417.3 68.0h0M411.5 72.8h0M418.0 43.3h0M429.8 48.4h0M409.7 48.5h0M432.0 60.9h0M455.1 68.0h0M418.9 51.2h0M423.0 92.4h0M415.8 71.8h0M461.0 98.8h0" stroke="#7a7a7a" stroke-width="0.7" stroke-linecap="round" stroke-opacity="0.75"/>
<path d="M414.7 95.1h0M418.4 88.8h0M429.7 96.8h0M425.3 87.5h0M428.0 87.5h0M430.5 90.4h0M431.1 93.8h0M425.0 100.0h0M420.6 86.9h0M420.8 86.8h0M418.0 88.7h0M427.4 88.3h0M424.8 86.9h0M428.3 89.2h0M426.7 100.0h0M428.4 98.4h0M416.7 89.7h0M429.9 88.7h0M419.2 98.4h0M430.3 90.3h0M423.4 99.4h0M431.7 93.9h0M421.7 99.8h0M430.6 90.6h0M430.5 91.8h0M423.7 86.8h0M430.5 92.0h0M415.0 93.2h0M416.6 89.8h0M422.0 100.4h0M429.5 88.9h0M431.4 91.9h0M430.8 96.7h0M430.2 97.6h0M418.7 88.7h0M427.6 98.2h0M427.3 99.8h0M424.5 100.3h0M428.6 98.1h0M415.4 94.6h0M430.9 92.2h0M415.6 94.1h0M429.9 97.7h0M418.9 98.9h0M420.7 88.0h0M431.4 95.7h0M430.7 93.3h0M414.6 95.6h0M427.8 87.4h0M414.4 92.2h0M431.0 95.7h0M427.9 88.4h0M415.7 95.8h0M416.9 98.2h0M431.0 92.5h0M419.4 99.6h0M423.0 86.7h0M419.6 87.2h0M428.1 88.1h0M421.7 99.2h0M429.0 88.2h0M429.4 89.7h0M422.6 86.5h0M425.3 99.0h0M426.9 98.8h0M419.6 87.3h0M426.9 87.5h0M432.3 92.5h0M415.0 96.1h0M421.8 87.6h0" stroke="#555" stroke-width="0.8" stroke-linecap="round" stroke-opacity="0.8"/>
<ellipse cx="423.3" cy="93.5" rx="6.6" ry="4.9" fill="#b4b4b4" stroke="#4a4a4a" stroke-width="2.2"/>
<ellipse cx="423.3" cy="93.5" rx="8.2" ry="6.4" fill="none" stroke="#777" stroke-width="0.7" stroke-dasharray="1 1"/>
<ellipse cx="423.3" cy="93.5" rx="3.6" ry="2.79" fill="#cfcfcf" stroke="#8a8a8a" stroke-width="0.5"/>
<text x="401.8" y="44.5" font-size="7.8">0.55%</text>
<text x="474.4" y="44.5" font-size="7.8" text-anchor="end">0.05%</text>
<text x="401.8" y="111" font-size="7.8">99.25%</text>
<text x="474.4" y="111" font-size="7.8" text-anchor="end">0.15%</text>
<rect x="317.2" y="117.5" width="78.4" height="78.1" fill="none" stroke="#c4c4c4" stroke-width="0.7"/>
<line x1="360.3" y1="117.5" x2="360.3" y2="195.6" stroke="#c9c9c9" stroke-width="0.7"/>
<line x1="317.2" y1="167.3" x2="395.6" y2="167.3" stroke="#c9c9c9" stroke-width="0.7"/>
<line x1="317.2" y1="125.5" x2="318.8" y2="125.5" stroke="#555" stroke-width="0.6"/>
<line x1="317.2" y1="138" x2="318.8" y2="138" stroke="#555" stroke-width="0.6"/>
<line x1="317.2" y1="150.5" x2="318.8" y2="150.5" stroke="#555" stroke-width="0.6"/>
<line x1="317.2" y1="163" x2="318.8" y2="163" stroke="#555" stroke-width="0.6"/>
<line x1="317.2" y1="175.5" x2="318.8" y2="175.5" stroke="#555" stroke-width="0.6"/>
<line x1="317.2" y1="188" x2="318.8" y2="188" stroke="#555" stroke-width="0.6"/>
<line x1="323.2" y1="195.6" x2="323.2" y2="194" stroke="#555" stroke-width="0.6"/>
<line x1="334.2" y1="195.6" x2="334.2" y2="194" stroke="#555" stroke-width="0.6"/>
<line x1="345.2" y1="195.6" x2="345.2" y2="194" stroke="#555" stroke-width="0.6"/>
<line x1="356.2" y1="195.6" x2="356.2" y2="194" stroke="#555" stroke-width="0.6"/>
<line x1="367.2" y1="195.6" x2="367.2" y2="194" stroke="#555" stroke-width="0.6"/>
<line x1="378.2" y1="195.6" x2="378.2" y2="194" stroke="#555" stroke-width="0.6"/>
<line x1="389.2" y1="195.6" x2="389.2" y2="194" stroke="#555" stroke-width="0.6"/>
<line x1="316.6" y1="174.3" x2="316.6" y2="178.3" stroke="#222" stroke-width="1.2"/>
<line x1="335" y1="196" x2="339" y2="196" stroke="#222" stroke-width="1.2"/>
<path d="M351.7 175.2h0M338.7 167.4h0M343.0 183.0h0M333.5 172.1h0M331.6 182.7h0M347.5 171.3h0M349.5 179.9h0M345.2 170.4h0M342.4 183.2h0M348.7 182.3h0M345.3 183.6h0M339.7 167.4h0M330.4 181.0h0M329.8 172.2h0M341.1 184.1h0M329.7 171.6h0M333.0 170.8h0M340.9 183.8h0M343.8 185.9h0M350.6 170.1h0M329.3 174.7h0M337.9 184.1h0M347.5 182.6h0M340.8 183.2h0M349.1 172.9h0M345.6 168.1h0M350.2 180.7h0M354.1 176.0h0M329.8 172.8h0M338.4 169.0h0M330.1 173.7h0M331.2 182.0h0M329.6 179.4h0M350.9 179.5h0M352.2 178.7h0M384.1 159.8h0M361.3 165.6h0M336.2 148.1h0M362.2 167.4h0M347.5 154.9h0M343.8 160.6h0M369.5 143.8h0M370.2 182.4h0M359.1 192.1h0M342.2 187.6h0M332.7 146.4h0M380.0 121.9h0M364.9 184.1h0M389.4 170.0h0" stroke="#7a7a7a" stroke-width="0.7" stroke-linecap="round" stroke-opacity="0.75"/>
<path d="M336.1 181.7h0M335.4 171.8h0M350.7 177.6h0M335.1 171.8h0M333.2 179.1h0M346.9 171.6h0M339.5 169.2h0M337.4 182.1h0M332.2 175.4h0M333.7 172.7h0M343.5 169.9h0M347.3 181.7h0M348.4 172.0h0M331.6 174.2h0M348.4 173.8h0M332.9 176.8h0M336.7 181.9h0M331.9 178.0h0M346.5 171.4h0M351.0 176.9h0M342.8 169.6h0M347.2 180.3h0M349.4 173.5h0M347.1 170.7h0M341.1 169.1h0M340.8 182.7h0M332.2 179.2h0M343.6 169.4h0M333.1 173.1h0M344.2 182.9h0M335.8 170.7h0M339.5 168.9h0M348.8 174.1h0M338.8 183.1h0M337.8 170.3h0M349.2 173.5h0M341.8 170.2h0M339.5 182.3h0M343.3 169.7h0M349.9 174.3h0M337.0 182.2h0M335.0 180.8h0M348.3 180.7h0M337.5 182.5h0M338.8 170.0h0M332.9 178.7h0M336.8 182.6h0M348.2 180.2h0M348.2 180.8h0M338.0 183.4h0M331.7 177.1h0M331.4 175.2h0M338.2 169.6h0M349.2 177.6h0M341.1 169.6h0M350.2 175.2h0M345.2 169.9h0M350.1 174.7h0M349.2 173.7h0M340.1 182.5h0M340.8 183.7h0M336.5 171.2h0M349.9 177.5h0M332.5 174.5h0M349.5 177.1h0M347.8 171.3h0M344.6 170.4h0M336.8 170.8h0M337.8 183.4h0M343.0 182.6h0" stroke="#2a2a2a" stroke-width="0.8" stroke-linecap="round" stroke-opacity="0.8"/>
<ellipse cx="341" cy="176.3" rx="7.6" ry="5.4" fill="#c6c6c6" stroke="#1c1c1c" stroke-width="2.6"/>
<ellipse cx="341" cy="176.3" rx="9.2" ry="7" fill="none" stroke="#555" stroke-width="0.6" stroke-dasharray="1 1"/>
<ellipse cx="341.3" cy="176.3" rx="4.4" ry="3.3" fill="none" stroke="#9a9a9a" stroke-width="0.6"/>
<ellipse cx="341" cy="176.3" rx="1.1" ry="0.8" fill="#333"/>
<text x="320.2" y="126.7" font-size="7.8">0.08%</text>
<text x="392.6" y="126.7" font-size="7.8" text-anchor="end">0.02%</text>
<text x="320.2" y="193.2" font-size="7.8">99.75%</text>
<text x="392.6" y="193.2" font-size="7.8" text-anchor="end">0.15%</text>
<rect x="398.8" y="117.5" width="78.6" height="78.1" fill="none" stroke="#c4c4c4" stroke-width="0.7"/>
<line x1="436.4" y1="117.5" x2="436.4" y2="195.6" stroke="#c9c9c9" stroke-width="0.7"/>
<line x1="398.8" y1="167.3" x2="477.4" y2="167.3" stroke="#c9c9c9" stroke-width="0.7"/>
<line x1="398.8" y1="125.5" x2="400.4" y2="125.5" stroke="#555" stroke-width="0.6"/>
<line x1="398.8" y1="138" x2="400.4" y2="138" stroke="#555" stroke-width="0.6"/>
<line x1="398.8" y1="150.5" x2="400.4" y2="150.5" stroke="#555" stroke-width="0.6"/>
<line x1="398.8" y1="163" x2="400.4" y2="163" stroke="#555" stroke-width="0.6"/>
<line x1="398.8" y1="175.5" x2="400.4" y2="175.5" stroke="#555" stroke-width="0.6"/>
<line x1="398.8" y1="188" x2="400.4" y2="188" stroke="#555" stroke-width="0.6"/>
<line x1="404.8" y1="195.6" x2="404.8" y2="194" stroke="#555" stroke-width="0.6"/>
<line x1="415.8" y1="195.6" x2="415.8" y2="194" stroke="#555" stroke-width="0.6"/>
<line x1="426.8" y1="195.6" x2="426.8" y2="194" stroke="#555" stroke-width="0.6"/>
<line x1="437.8" y1="195.6" x2="437.8" y2="194" stroke="#555" stroke-width="0.6"/>
<line x1="448.8" y1="195.6" x2="448.8" y2="194" stroke="#555" stroke-width="0.6"/>
<line x1="459.8" y1="195.6" x2="459.8" y2="194" stroke="#555" stroke-width="0.6"/>
<line x1="470.8" y1="195.6" x2="470.8" y2="194" stroke="#555" stroke-width="0.6"/>
<line x1="398.2" y1="174.3" x2="398.2" y2="178.3" stroke="#222" stroke-width="1.2"/>
<line x1="417" y1="196" x2="421" y2="196" stroke="#222" stroke-width="1.2"/>
<path d="M433.6 174.1h0M422.0 169.4h0M418.0 183.7h0M425.7 170.4h0M428.5 184.1h0M430.4 181.9h0M418.2 183.5h0M429.4 170.2h0M416.2 180.8h0M415.8 170.7h0M415.1 180.4h0M414.6 174.7h0M427.2 183.5h0M431.0 181.0h0M426.4 168.0h0M422.9 183.8h0M430.9 172.9h0M431.3 175.9h0M427.2 171.0h0M417.7 168.7h0M413.4 173.9h0M432.8 171.5h0M427.1 183.4h0M431.8 178.1h0M428.0 181.6h0M417.4 171.7h0M427.3 181.4h0M426.3 169.9h0M432.0 179.9h0M421.0 168.3h0M413.8 174.0h0M421.3 169.3h0M428.6 169.3h0M429.9 169.3h0M428.1 169.7h0M439.8 173.9h0M444.0 121.6h0M469.2 134.3h0M436.9 153.0h0M407.8 162.3h0M444.8 179.8h0M446.5 142.2h0M442.9 190.6h0M448.3 182.0h0M401.6 170.6h0M416.6 131.6h0M425.5 132.7h0M407.2 135.1h0M418.0 138.0h0" stroke="#7a7a7a" stroke-width="0.7" stroke-linecap="round" stroke-opacity="0.75"/>
<path d="M425.2 170.8h0M425.2 181.8h0M415.6 176.1h0M415.7 175.1h0M425.6 182.3h0M430.6 179.3h0M415.9 173.9h0M414.8 174.1h0M415.4 176.5h0M424.6 182.4h0M424.2 169.8h0M421.6 183.1h0M428.1 180.9h0M424.4 169.4h0M416.2 177.8h0M415.8 174.0h0M430.4 177.4h0M428.2 172.4h0M426.2 181.6h0M425.2 170.5h0M419.8 170.2h0M430.7 176.8h0M429.1 180.9h0M415.4 176.7h0M426.2 170.0h0M429.5 178.7h0M419.7 181.8h0M415.8 178.6h0M431.0 175.2h0M430.8 174.7h0M423.8 182.7h0M427.3 181.8h0M428.3 181.7h0M420.2 182.8h0M424.4 182.2h0M423.2 183.1h0M426.9 170.4h0M416.6 173.6h0M423.5 182.0h0M429.5 173.8h0M421.5 170.7h0M421.3 182.7h0M425.9 181.6h0M428.9 172.6h0M431.2 176.6h0M430.9 175.9h0M430.5 177.7h0M417.3 172.5h0M415.9 179.6h0M418.4 170.6h0M430.5 174.3h0M430.1 175.6h0M414.9 175.6h0M430.0 173.5h0M415.2 179.0h0M416.0 177.4h0M415.9 178.1h0M418.3 170.6h0M430.2 178.1h0M429.7 172.3h0M424.6 170.2h0M431.1 174.4h0M426.3 170.4h0M418.4 171.7h0M429.8 177.6h0M430.4 178.4h0M430.5 174.1h0M425.0 169.8h0M430.0 174.2h0M414.5 176.4h0" stroke="#555" stroke-width="0.8" stroke-linecap="round" stroke-opacity="0.8"/>
<ellipse cx="423" cy="176.3" rx="6.2" ry="4.9" fill="#b4b4b4" stroke="#4a4a4a" stroke-width="2.2"/>
<ellipse cx="423" cy="176.3" rx="7.8" ry="6.4" fill="none" stroke="#777" stroke-width="0.7" stroke-dasharray="1 1"/>
<ellipse cx="423" cy="176.3" rx="3.42" ry="2.79" fill="#cfcfcf" stroke="#8a8a8a" stroke-width="0.5"/>
<text x="401.8" y="126.7" font-size="7.8">0.49%</text>
<text x="474.4" y="126.7" font-size="7.8" text-anchor="end">0.05%</text>
<text x="401.8" y="193.2" font-size="7.8">99.35%</text>
<text x="474.4" y="193.2" font-size="7.8" text-anchor="end">0.11%</text>
<line x1="311.6" y1="52" x2="311.6" y2="202" stroke="#231f20" stroke-width="0.9"/>
<path d="M311.6 47.5 L309.4 53.5 L313.8 53.5 Z" fill="#231f20"/>
<line x1="311.6" y1="202" x2="461" y2="202" stroke="#231f20" stroke-width="0.9"/>
<path d="M466.5 202 L460.5 199.8 L460.5 204.2 Z" fill="#231f20"/>
<text transform="translate(307.3 125.8) rotate(-90)" font-size="8.7" text-anchor="middle">IFN<tspan font-size="7.4" dy="0.9">&#947;</tspan></text>
<text x="389.6" y="212.6" font-size="8.7">TNF</text>
<line x1="481.4" y1="40.4" x2="481.4" y2="108.6" stroke="#6d6e71" stroke-width="1.3"/>
<line x1="481.4" y1="123.2" x2="481.4" y2="191.5" stroke="#6d6e71" stroke-width="1.3"/>
<text x="485.2" y="75.8" font-size="8.7">IL1AP<tspan font-size="5.4" dy="2">II_1</tspan></text>
<text x="485.8" y="161.8" font-size="8.7">Neg.</text>
<text x="4.2" y="231.4" font-size="10.1" font-weight="bold" style="stroke-width:0.35px">C</text>
<line x1="47.1" y1="234.2" x2="47.1" y2="253.5" stroke="#231f20" stroke-width="0.9"/>
<line x1="47.1" y1="253.5" x2="52" y2="253.5" stroke="#231f20" stroke-width="0.9"/>
<line x1="47.1" y1="265.4" x2="47.1" y2="283.7" stroke="#231f20" stroke-width="0.9"/>
<line x1="43.6" y1="265.4" x2="51.6" y2="265.4" stroke="#231f20" stroke-width="0.9"/>
<line x1="47.1" y1="283.7" x2="52" y2="283.7" stroke="#231f20" stroke-width="0.9"/>
<line x1="47.1" y1="295.8" x2="47.1" y2="383.1" stroke="#231f20" stroke-width="0.9"/>
<line x1="43.6" y1="295.8" x2="51.6" y2="295.8" stroke="#231f20" stroke-width="0.9"/>
<line x1="43.6" y1="234.8" x2="47.1" y2="234.8" stroke="#231f20" stroke-width="0.9"/>
<line x1="43.6" y1="245.6" x2="47.1" y2="245.6" stroke="#231f20" stroke-width="0.9"/>
<line x1="43.6" y1="279.4" x2="47.1" y2="279.4" stroke="#231f20" stroke-width="0.9"/>
<line x1="43.6" y1="234.8" x2="47.1" y2="234.8" stroke="#231f20" stroke-width="0.9"/>
<text x="41.8" y="237.8" font-size="8.3" text-anchor="end">1,500</text>
<line x1="43.6" y1="245.6" x2="47.1" y2="245.6" stroke="#231f20" stroke-width="0.9"/>
<text x="41.8" y="248.6" font-size="8.3" text-anchor="end">1,000</text>
<line x1="43.6" y1="265.4" x2="47.1" y2="265.4" stroke="#231f20" stroke-width="0.9"/>
<text x="41.8" y="268.4" font-size="8.3" text-anchor="end">600</text>
<line x1="43.6" y1="279.4" x2="47.1" y2="279.4" stroke="#231f20" stroke-width="0.9"/>
<text x="41.8" y="282.4" font-size="8.3" text-anchor="end">300</text>
<line x1="43.6" y1="295.8" x2="47.1" y2="295.8" stroke="#231f20" stroke-width="0.9"/>
<text x="41.8" y="298.8" font-size="8.3" text-anchor="end">200</text>
<line x1="43.6" y1="317.9" x2="47.1" y2="317.9" stroke="#231f20" stroke-width="0.9"/>
<text x="41.8" y="320.9" font-size="8.3" text-anchor="end">150</text>
<line x1="43.6" y1="339.8" x2="47.1" y2="339.8" stroke="#231f20" stroke-width="0.9"/>
<text x="41.8" y="342.8" font-size="8.3" text-anchor="end">100</text>
<line x1="43.6" y1="361.5" x2="47.1" y2="361.5" stroke="#231f20" stroke-width="0.9"/>
<text x="41.8" y="364.5" font-size="8.3" text-anchor="end">50</text>
<line x1="43.6" y1="383.1" x2="47.1" y2="383.1" stroke="#231f20" stroke-width="0.9"/>
<text x="41.8" y="386.1" font-size="8.3" text-anchor="end">0</text>
<line x1="47.1" y1="383.1" x2="394.6" y2="383.1" stroke="#231f20" stroke-width="0.9"/>
<line x1="60" y1="383.1" x2="60" y2="386.3" stroke="#231f20" stroke-width="0.8"/>
<line x1="77.25" y1="383.1" x2="77.25" y2="386.3" stroke="#231f20" stroke-width="0.8"/>
<line x1="94.5" y1="383.1" x2="94.5" y2="386.3" stroke="#231f20" stroke-width="0.8"/>
<line x1="111.75" y1="383.1" x2="111.75" y2="386.3" stroke="#231f20" stroke-width="0.8"/>
<line x1="129" y1="383.1" x2="129" y2="386.3" stroke="#231f20" stroke-width="0.8"/>
<line x1="146.25" y1="383.1" x2="146.25" y2="386.3" stroke="#231f20" stroke-width="0.8"/>
<line x1="163.5" y1="383.1" x2="163.5" y2="386.3" stroke="#231f20" stroke-width="0.8"/>
<line x1="180.75" y1="383.1" x2="180.75" y2="386.3" stroke="#231f20" stroke-width="0.8"/>
<line x1="198" y1="383.1" x2="198" y2="386.3" stroke="#231f20" stroke-width="0.8"/>
<line x1="215.25" y1="383.1" x2="215.25" y2="386.3" stroke="#231f20" stroke-width="0.8"/>
<line x1="232.5" y1="383.1" x2="232.5" y2="386.3" stroke="#231f20" stroke-width="0.8"/>
<line x1="249.75" y1="383.1" x2="249.75" y2="386.3" stroke="#231f20" stroke-width="0.8"/>
<line x1="267" y1="383.1" x2="267" y2="386.3" stroke="#231f20" stroke-width="0.8"/>
<line x1="284.25" y1="383.1" x2="284.25" y2="386.3" stroke="#231f20" stroke-width="0.8"/>
<line x1="301.5" y1="383.1" x2="301.5" y2="386.3" stroke="#231f20" stroke-width="0.8"/>
<line x1="318.75" y1="383.1" x2="318.75" y2="386.3" stroke="#231f20" stroke-width="0.8"/>
<line x1="336" y1="383.1" x2="336" y2="386.3" stroke="#231f20" stroke-width="0.8"/>
<line x1="353.25" y1="383.1" x2="353.25" y2="386.3" stroke="#231f20" stroke-width="0.8"/>
<line x1="370.5" y1="383.1" x2="370.5" y2="386.3" stroke="#231f20" stroke-width="0.8"/>
<line x1="387.75" y1="383.1" x2="387.75" y2="386.3" stroke="#231f20" stroke-width="0.8"/>
<text transform="translate(12.9 310.3) rotate(-90)" font-size="8.4" text-anchor="middle">Calculated spot counts</text>
<circle cx="63.5" cy="239.2" r="2.1" fill="#df8285" stroke="#7d2a2f" stroke-width="0.6"/>
<text x="70.6" y="242.2" font-size="8.7">AML</text>
<circle cx="99.3" cy="239.2" r="2.1" fill="#c4d4f0" stroke="#3d4f84" stroke-width="0.6"/>
<text x="104.5" y="242.2" font-size="8.7">HV</text>
<circle cx="57.8" cy="372.3" r="1.7" fill="#df8285" stroke="#7d2a2f" stroke-width="0.6"/>
<line x1="55.2" y1="372.3" x2="60.4" y2="372.3" stroke="#7d2a2f" stroke-width="0.8"/>
<circle cx="74.6" cy="376.5" r="1.7" fill="#df8285" stroke="#7d2a2f" stroke-width="0.6"/>
<line x1="72" y1="376.5" x2="77.2" y2="376.5" stroke="#7d2a2f" stroke-width="0.8"/>
<circle cx="92" cy="376.2" r="1.7" fill="#df8285" stroke="#7d2a2f" stroke-width="0.6"/>
<line x1="89.4" y1="376.2" x2="94.6" y2="376.2" stroke="#7d2a2f" stroke-width="0.8"/>
<circle cx="98.4" cy="378" r="1.7" fill="#c4d4f0" stroke="#3d4f84" stroke-width="0.6"/>
<line x1="95.8" y1="378" x2="101" y2="378" stroke="#3d4f84" stroke-width="0.8"/>
<circle cx="108.8" cy="279" r="1.7" fill="#df8285" stroke="#7d2a2f" stroke-width="0.6"/>
<line x1="106.2" y1="279" x2="111.4" y2="279" stroke="#7d2a2f" stroke-width="0.8"/>
<line x1="126.5" y1="279.5" x2="126.5" y2="283.7" stroke="#3a2a2c" stroke-width="0.9"/>
<line x1="126.5" y1="295.8" x2="126.5" y2="378.5" stroke="#3a2a2c" stroke-width="0.9"/>
<circle cx="126.5" cy="279.5" r="1.7" fill="#df8285" stroke="#7d2a2f" stroke-width="0.6"/>
<circle cx="126.5" cy="325.5" r="1.7" fill="#df8285" stroke="#7d2a2f" stroke-width="0.6"/>
<line x1="123.9" y1="325.5" x2="129.1" y2="325.5" stroke="#7d2a2f" stroke-width="0.8"/>
<circle cx="126.5" cy="378.5" r="1.7" fill="#df8285" stroke="#7d2a2f" stroke-width="0.6"/>
<line x1="143.4" y1="265.7" x2="143.4" y2="271.2" stroke="#7d2a2f" stroke-width="0.8"/>
<line x1="142" y1="271.2" x2="144.8" y2="271.2" stroke="#7d2a2f" stroke-width="0.8"/>
<path d="M141 283.7V271.2H145.8V283.7" fill="#fff" stroke="#231f20" stroke-width="0.8"/>
<path d="M141 295.8V369.3H145.8V295.8" fill="#fff" stroke="#231f20" stroke-width="0.8"/>
<line x1="141" y1="329.6" x2="145.8" y2="329.6" stroke="#231f20" stroke-width="0.8"/>
<line x1="143.4" y1="369.3" x2="143.4" y2="378.8" stroke="#7d2a2f" stroke-width="0.8"/>
<circle cx="143.4" cy="265.7" r="1.7" fill="#df8285" stroke="#7d2a2f" stroke-width="0.6"/>
<circle cx="143.4" cy="317" r="1.7" fill="#df8285" stroke="#7d2a2f" stroke-width="0.6"/>
<circle cx="143.4" cy="341.8" r="1.7" fill="#df8285" stroke="#7d2a2f" stroke-width="0.6"/>
<circle cx="143.4" cy="378.8" r="1.7" fill="#df8285" stroke="#7d2a2f" stroke-width="0.6"/>
<line x1="149.6" y1="274.7" x2="149.6" y2="283.7" stroke="#3d4f84" stroke-width="0.8"/>
<line x1="149.6" y1="295.8" x2="149.6" y2="377" stroke="#3d4f84" stroke-width="0.8"/>
<circle cx="149.6" cy="274.7" r="1.7" fill="#c4d4f0" stroke="#3d4f84" stroke-width="0.6"/>
<circle cx="149.6" cy="368.2" r="1.7" fill="#c4d4f0" stroke="#3d4f84" stroke-width="0.6"/>
<line x1="147" y1="368.2" x2="152.2" y2="368.2" stroke="#3d4f84" stroke-width="0.8"/>
<circle cx="149.6" cy="377" r="1.7" fill="#c4d4f0" stroke="#3d4f84" stroke-width="0.6"/>
<circle cx="160.4" cy="376.2" r="1.7" fill="#df8285" stroke="#7d2a2f" stroke-width="0.6"/>
<line x1="157.8" y1="376.2" x2="163" y2="376.2" stroke="#7d2a2f" stroke-width="0.8"/>
<circle cx="166.6" cy="368.2" r="1.7" fill="#c4d4f0" stroke="#3d4f84" stroke-width="0.6"/>
<line x1="164" y1="368.2" x2="169.2" y2="368.2" stroke="#3d4f84" stroke-width="0.8"/>
<circle cx="177.7" cy="379.2" r="1.7" fill="#df8285" stroke="#7d2a2f" stroke-width="0.6"/>
<line x1="175.1" y1="379.2" x2="180.3" y2="379.2" stroke="#7d2a2f" stroke-width="0.8"/>
<circle cx="184" cy="375" r="1.7" fill="#c4d4f0" stroke="#3d4f84" stroke-width="0.6"/>
<line x1="181.4" y1="375" x2="186.6" y2="375" stroke="#3d4f84" stroke-width="0.8"/>
<line x1="195" y1="364.7" x2="195" y2="378" stroke="#7d2a2f" stroke-width="0.8"/>
<circle cx="195" cy="364.7" r="1.7" fill="#df8285" stroke="#7d2a2f" stroke-width="0.6"/>
<circle cx="195" cy="372.8" r="1.7" fill="#df8285" stroke="#7d2a2f" stroke-width="0.6"/>
<line x1="192.4" y1="372.8" x2="197.6" y2="372.8" stroke="#7d2a2f" stroke-width="0.8"/>
<circle cx="195" cy="378" r="1.7" fill="#df8285" stroke="#7d2a2f" stroke-width="0.6"/>
<line x1="201.05" y1="236" x2="201.05" y2="247.2" stroke="#3d4f84" stroke-width="0.8"/>
<path d="M198.6 253.5V247.2H203.5V253.5" fill="#fff" stroke="#3d4f84" stroke-width="0.8"/>
<path d="M198.6 265.4V283.7M203.5 265.4V283.7" fill="none" stroke="#3d4f84" stroke-width="0.8"/>
<path d="M198.6 295.8V360.8H203.5V295.8" fill="#fff" stroke="#3d4f84" stroke-width="0.8"/>
<line x1="201.05" y1="360.8" x2="201.05" y2="368.2" stroke="#3d4f84" stroke-width="0.8"/>
<circle cx="201.05" cy="236" r="1.7" fill="#c4d4f0" stroke="#3d4f84" stroke-width="0.6"/>
<circle cx="201.05" cy="272" r="1.7" fill="#c4d4f0" stroke="#3d4f84" stroke-width="0.6"/>
<line x1="198.45" y1="272" x2="203.65" y2="272" stroke="#3d4f84" stroke-width="0.8"/>
<circle cx="201.05" cy="302" r="1.7" fill="#c4d4f0" stroke="#3d4f84" stroke-width="0.6"/>
<line x1="198.45" y1="302" x2="203.65" y2="302" stroke="#3d4f84" stroke-width="0.8"/>
<circle cx="201.05" cy="355" r="1.7" fill="#c4d4f0" stroke="#3d4f84" stroke-width="0.6"/>
<line x1="198.45" y1="355" x2="203.65" y2="355" stroke="#3d4f84" stroke-width="0.8"/>
<circle cx="201.05" cy="368.2" r="1.7" fill="#c4d4f0" stroke="#3d4f84" stroke-width="0.6"/>
<circle cx="217.85" cy="250.7" r="1.7" fill="#c4d4f0" stroke="#3d4f84" stroke-width="0.6"/>
<line x1="217.85" y1="265.4" x2="217.85" y2="274.2" stroke="#3d4f84" stroke-width="0.8"/>
<path d="M215.3 283.7V274.2H220.4V283.7" fill="#fff" stroke="#3d4f84" stroke-width="0.8"/>
<path d="M215.3 295.8V379.2H220.4V295.8" fill="#fff" stroke="#3d4f84" stroke-width="0.8"/>
<circle cx="217.85" cy="346.5" r="1.7" fill="#c4d4f0" stroke="#3d4f84" stroke-width="0.6"/>
<line x1="215.25" y1="346.5" x2="220.45" y2="346.5" stroke="#3d4f84" stroke-width="0.8"/>
<circle cx="216.1" cy="378.6" r="1.7" fill="#c4d4f0" stroke="#3d4f84" stroke-width="0.6"/>
<circle cx="219.6" cy="378.6" r="1.7" fill="#c4d4f0" stroke="#3d4f84" stroke-width="0.6"/>
<circle cx="229.4" cy="276.5" r="1.7" fill="#df8285" stroke="#7d2a2f" stroke-width="0.6"/>
<line x1="229.4" y1="276.5" x2="229.4" y2="281.8" stroke="#7d2a2f" stroke-width="0.8"/>
<line x1="227.3" y1="281.8" x2="231.5" y2="281.8" stroke="#7d2a2f" stroke-width="0.8"/>
<path d="M226.8 295.8V368.9H232V295.8" fill="#fff" stroke="#7d2a2f" stroke-width="0.8"/>
<circle cx="229.4" cy="318.5" r="1.7" fill="#df8285" stroke="#7d2a2f" stroke-width="0.6"/>
<line x1="226.8" y1="318.5" x2="232" y2="318.5" stroke="#7d2a2f" stroke-width="0.8"/>
<circle cx="229.4" cy="365.9" r="1.7" fill="#df8285" stroke="#7d2a2f" stroke-width="0.6"/>
<circle cx="229.4" cy="367.8" r="1.7" fill="#df8285" stroke="#7d2a2f" stroke-width="0.6"/>
<circle cx="229.4" cy="372.3" r="1.7" fill="#df8285" stroke="#7d2a2f" stroke-width="0.6"/>
<circle cx="235.4" cy="352.7" r="1.7" fill="#c4d4f0" stroke="#3d4f84" stroke-width="0.6"/>
<line x1="232.8" y1="352.7" x2="238" y2="352.7" stroke="#3d4f84" stroke-width="0.8"/>
<line x1="246.5" y1="344.6" x2="246.5" y2="379.2" stroke="#231f20" stroke-width="0.9"/>
<line x1="243.5" y1="362" x2="249.5" y2="362" stroke="#231f20" stroke-width="1.6"/>
<circle cx="246.5" cy="344.6" r="1.7" fill="#df8285" stroke="#7d2a2f" stroke-width="0.6"/>
<circle cx="246.5" cy="379.2" r="1.7" fill="#df8285" stroke="#7d2a2f" stroke-width="0.6"/>
<rect x="261" y="362.5" width="4.2" height="14" fill="#fff" stroke="#7d2a2f" stroke-width="0.7"/>
<circle cx="263.1" cy="361" r="1.5" fill="#eaa6a6" stroke="#7d2a2f" stroke-width="0.5"/>
<circle cx="263.1" cy="364" r="1.5" fill="#eaa6a6" stroke="#7d2a2f" stroke-width="0.5"/>
<circle cx="263.1" cy="367.2" r="1.5" fill="#eaa6a6" stroke="#7d2a2f" stroke-width="0.5"/>
<circle cx="263.1" cy="370.5" r="1.5" fill="#eaa6a6" stroke="#7d2a2f" stroke-width="0.5"/>
<circle cx="263.1" cy="373.8" r="1.5" fill="#eaa6a6" stroke="#7d2a2f" stroke-width="0.5"/>
<circle cx="263.1" cy="377" r="1.5" fill="#eaa6a6" stroke="#7d2a2f" stroke-width="0.5"/>
<circle cx="263.1" cy="378.8" r="1.5" fill="#eaa6a6" stroke="#7d2a2f" stroke-width="0.5"/>
<circle cx="268.9" cy="363.5" r="1.7" fill="#c4d4f0" stroke="#3d4f84" stroke-width="0.6"/>
<line x1="266.3" y1="363.5" x2="271.5" y2="363.5" stroke="#3d4f84" stroke-width="0.8"/>
<line x1="303.6" y1="343.6" x2="303.6" y2="377.5" stroke="#231f20" stroke-width="0.9"/>
<line x1="300.6" y1="360.6" x2="306.6" y2="360.6" stroke="#231f20" stroke-width="1.6"/>
<circle cx="303.6" cy="343.6" r="1.7" fill="#c8ccd8" stroke="#5d6580" stroke-width="0.6"/>
<circle cx="303.6" cy="377.5" r="1.7" fill="#c8ccd8" stroke="#5d6580" stroke-width="0.6"/>
<circle cx="314.7" cy="349.8" r="1.7" fill="#df8285" stroke="#7d2a2f" stroke-width="0.6"/>
<line x1="312.1" y1="349.8" x2="317.3" y2="349.8" stroke="#7d2a2f" stroke-width="0.8"/>
<circle cx="330.6" cy="360.3" r="1.7" fill="#df8285" stroke="#7d2a2f" stroke-width="0.6"/>
<line x1="328" y1="360.3" x2="333.2" y2="360.3" stroke="#7d2a2f" stroke-width="0.8"/>
<circle cx="332.2" cy="359.3" r="1.7" fill="#df8285" stroke="#7d2a2f" stroke-width="0.6"/>
<line x1="329.6" y1="359.3" x2="334.8" y2="359.3" stroke="#7d2a2f" stroke-width="0.8"/>
<circle cx="348.9" cy="374.6" r="1.7" fill="#df8285" stroke="#7d2a2f" stroke-width="0.6"/>
<line x1="346.3" y1="374.6" x2="351.5" y2="374.6" stroke="#7d2a2f" stroke-width="0.8"/>
<circle cx="355" cy="371.4" r="1.7" fill="#c4d4f0" stroke="#3d4f84" stroke-width="0.6"/>
<line x1="352.4" y1="371.4" x2="357.6" y2="371.4" stroke="#3d4f84" stroke-width="0.8"/>
<line x1="389.2" y1="351.2" x2="389.2" y2="367.3" stroke="#3d4f84" stroke-width="0.8"/>
<circle cx="389.2" cy="351.2" r="1.7" fill="#c4d4f0" stroke="#3d4f84" stroke-width="0.6"/>
<rect x="386.8" y="366.8" width="4.8" height="12.8" fill="#fff" stroke="#2b2f45" stroke-width="0.8"/>
<circle cx="389.2" cy="372.5" r="1.7" fill="#c4d4f0" stroke="#3d4f84" stroke-width="0.6"/>
<circle cx="389.2" cy="375.5" r="1.7" fill="#c4d4f0" stroke="#3d4f84" stroke-width="0.6"/>
<circle cx="389.2" cy="378.2" r="1.7" fill="#c4d4f0" stroke="#3d4f84" stroke-width="0.6"/>
<line x1="386.8" y1="374.5" x2="391.6" y2="374.5" stroke="#2b2f45" stroke-width="0.8"/>
<text transform="translate(62.8 390.3) rotate(-45)" font-size="8.9" text-anchor="end">STT3B<tspan font-size="5.9" dy="1.9">B*07</tspan></text>
<text transform="translate(80.05 390.3) rotate(-45)" font-size="8.9" text-anchor="end">UBE3B<tspan font-size="5.9" dy="1.9">C*07</tspan></text>
<text transform="translate(97.3 390.3) rotate(-45)" font-size="8.9" text-anchor="end">RALY<tspan font-size="5.9" dy="1.9">C*07</tspan></text>
<text transform="translate(114.55 390.3) rotate(-45)" font-size="8.9" text-anchor="end">NPM<tspan font-size="5.9" dy="1.9">mut_A*11</tspan></text>
<text transform="translate(131.8 390.3) rotate(-45)" font-size="8.9" text-anchor="end">NPM<tspan font-size="5.9" dy="1.9">mut_A*03</tspan></text>
<text transform="translate(149.05 390.3) rotate(-45)" font-size="8.9" text-anchor="end">GALT7<tspan font-size="5.9" dy="1.9">II</tspan></text>
<text transform="translate(166.3 390.3) rotate(-45)" font-size="8.9" text-anchor="end">CLC11<tspan font-size="5.9" dy="1.9">II</tspan></text>
<text transform="translate(183.55 390.3) rotate(-45)" font-size="8.9" text-anchor="end">APOB<tspan font-size="5.9" dy="1.9">II</tspan></text>
<text transform="translate(200.8 390.3) rotate(-45)" font-size="8.9" text-anchor="end">IL1AP<tspan font-size="5.9" dy="1.9">II_1</tspan></text>
<text transform="translate(218.05 390.3) rotate(-45)" font-size="8.9" text-anchor="end">CCL23<tspan font-size="5.9" dy="1.9">II</tspan></text>
<text transform="translate(235.3 390.3) rotate(-45)" font-size="8.9" text-anchor="end">FLT3<tspan font-size="5.9" dy="1.9">II</tspan></text>
<text transform="translate(252.55 390.3) rotate(-45)" font-size="8.9" text-anchor="end">IL1AP<tspan font-size="5.9" dy="1.9">II_2</tspan></text>
<text transform="translate(269.8 390.3) rotate(-45)" font-size="8.9" text-anchor="end">HPRT<tspan font-size="5.9" dy="1.9">II</tspan></text>
<text transform="translate(287.05 390.3) rotate(-45)" font-size="8.9" text-anchor="end">KIT<tspan font-size="5.9" dy="1.9">II</tspan></text>
<text transform="translate(304.3 390.3) rotate(-45)" font-size="8.9" text-anchor="end">LTV1<tspan font-size="5.9" dy="1.9">II</tspan></text>
<text transform="translate(321.55 390.3) rotate(-45)" font-size="8.9" text-anchor="end">PPGB<tspan font-size="5.9" dy="1.9">II</tspan></text>
<text transform="translate(338.8 390.3) rotate(-45)" font-size="8.9" text-anchor="end">ITAL<tspan font-size="5.9" dy="1.9">II</tspan></text>
<text transform="translate(356.05 390.3) rotate(-45)" font-size="8.9" text-anchor="end">ITAL<tspan font-size="5.9" dy="1.9">II</tspan></text>
<text transform="translate(373.3 390.3) rotate(-45)" font-size="8.9" text-anchor="end">G6PC3<tspan font-size="5.9" dy="1.9">II</tspan></text>
<text transform="translate(390.55 390.3) rotate(-45)" font-size="8.9" text-anchor="end">IDH2<tspan font-size="5.9" dy="1.9">mut_II</tspan></text>
<line x1="116.8" y1="433.8" x2="181.4" y2="433.8" stroke="#8a8c8e" stroke-width="1.3"/>
<line x1="185.6" y1="433.8" x2="198.5" y2="433.8" stroke="#8a8c8e" stroke-width="1.3"/>
<line x1="201.8" y1="433.8" x2="267.2" y2="433.8" stroke="#8a8c8e" stroke-width="1.3"/>
<line x1="270.6" y1="433.8" x2="284.1" y2="433.8" stroke="#8a8c8e" stroke-width="1.3"/>
<line x1="287.2" y1="433.8" x2="337.8" y2="433.8" stroke="#8a8c8e" stroke-width="1.3"/>
<line x1="341" y1="433.8" x2="353.8" y2="433.8" stroke="#8a8c8e" stroke-width="1.3"/>
<line x1="357" y1="433.8" x2="370.8" y2="433.8" stroke="#8a8c8e" stroke-width="1.3"/>
<text transform="translate(154.6 441.1) rotate(-45)" font-size="8.5" text-anchor="end"><tspan x="0" y="0">Peptide</tspan><tspan x="0" y="8.3">targets</tspan></text>
<text transform="translate(192.3 441.1) rotate(-45)" font-size="8.5" text-anchor="end"><tspan x="0" y="0">Protein</tspan><tspan x="0" y="8.3">target</tspan></text>
<text transform="translate(230.6 440.5) rotate(-45)" font-size="8.5" text-anchor="end"><tspan x="0" y="0">Hotspot</tspan><tspan x="0" y="8.3">targets</tspan></text>
<text transform="translate(276.3 441.1) rotate(-45)" font-size="8.5" text-anchor="end"><tspan x="0" y="0">LSC-exclusive</tspan><tspan x="0" y="8.3">peptide target</tspan></text>
<text transform="translate(316 441.1) rotate(-45)" font-size="8.5" text-anchor="end"><tspan x="0" y="0">LSC-associated</tspan><tspan x="0" y="8.3">peptide target</tspan></text>
<text transform="translate(343.6 441.1) rotate(-45)" font-size="8.5" text-anchor="end"><tspan x="0" y="0">LSC-associated</tspan><tspan x="0" y="8.3">protein target</tspan></text>
<text transform="translate(367 441.1) rotate(-45)" font-size="8.5" text-anchor="end">Neoepitope</text>
<text x="391.8" y="230.6" font-size="10.1" font-weight="bold" style="stroke-width:0.35px">D</text>
<text x="454.5" y="235.3" font-size="8.7" text-anchor="middle">Preexisting immune</text>
<text x="454.5" y="246.3" font-size="8.7" text-anchor="middle">responses in</text>
<text x="454.3" y="260.3" font-size="8.7" text-anchor="middle">AML cohort (<tspan font-style="italic">n</tspan> = 76)</text>
<circle cx="457.5" cy="300.8" r="33.5" fill="#e6e7e8" stroke="#58595b" stroke-width="0.7"/>
<path d="M457.5 300.8L457.5 267.3A33.5 33.5 0 0 1 489.16 289.85Z" fill="#d95a5c" stroke="#58595b" stroke-width="0.7"/>
<text x="454.6" y="355.3" font-size="8.7" text-anchor="middle">HV cohort (<tspan font-style="italic">n</tspan> = 89)</text>
<circle cx="457.5" cy="396.3" r="33.3" fill="#e6e7e8" stroke="#58595b" stroke-width="0.7"/>
<path d="M457.5 396.3L457.5 363A33.3 33.3 0 0 1 485.39 378.11Z" fill="#7b9fdb" stroke="#58595b" stroke-width="0.7"/>
<path d="M430.8 440.8H440V448.2H430.8Z" fill="#7b9fdb"/>
<path d="M430.8 440.8H440L430.8 448.2Z" fill="#d95a5c"/>
<rect x="430.8" y="440.8" width="9.2" height="7.4" fill="none" stroke="#58595b" stroke-width="0.5"/>
<text x="443" y="448" font-size="8.7">Yes</text>
<rect x="462.5" y="440.8" width="8.8" height="7.4" fill="#e6e7e8" stroke="#8a8a8a" stroke-width="0.5"/>
<text x="474.5" y="448" font-size="8.7">No</text>
<defs><filter id="soft" x="-20%" y="-20%" width="140%" height="140%"><feGaussianBlur stdDeviation="1.3"/></filter></defs>
<text x="4.8" y="499.4" font-size="10.1" font-weight="bold" style="stroke-width:0.35px">E</text>
<rect x="37.6" y="508.5" width="125.4" height="92.8" fill="none" stroke="#a7a9ac" stroke-width="0.9"/>
<text x="99.5" y="503.5" font-size="8.7" text-anchor="middle">CD4<tspan font-size="5.5" dy="-3.2">+</tspan><tspan dy="3.2"> T cells</tspan></text>
<text transform="translate(36.2 555.5) rotate(-90)" font-size="8.7" text-anchor="middle">UMAP2</text>
<text x="99.9" y="611.3" font-size="8.7" text-anchor="middle">UMAP1</text>
<polygon points="49.5,540.4 46,544 44.2,550 44,557 46,564 50,569 56,572 63,572.5 68,570 71.7,567.9 75,570.5 80,572.6 85,570 87,565 87,558 84,553 79,550 76,548.5 73.6,543.5 67.6,540.5 57.6,538.5" fill="#2a70b8" fill-opacity="0.45" filter="url(#soft)"/>
<polygon points="58,522.4 64,523 69.6,526.6 74,536 77,549.9 76.5,558 74.9,561.5 62,551 49.5,540.4 50,532 52.5,526" fill="#3aa045" fill-opacity="0.45" filter="url(#soft)"/>
<polygon points="74.5,529 80,528 88,533 95,534 100,537 106,544 110,550 108,554 100,552 95,556 92,563 89,562 87,556 82,553 78,548 75,540" fill="#a97fcb" fill-opacity="0.05" filter="url(#soft)"/>
<polygon points="135.6,557.5 142,556 148,555 153.5,555 154.5,560 154.5,575 154,588 151,594 145,597 138.5,596 135,590 132.5,582 131,575 132,566 134,561" fill="#8f5546" fill-opacity="0.08" filter="url(#soft)"/>
<path d="M53.5 560.5h0M60.5 561.4h0M43.7 557.1h0M80.3 572.5h0M61.3 564.5h0M52.1 558.7h0M65.7 571.2h0M84.5 565.0h0M64.5 557.5h0M47.0 563.6h0M48.4 560.6h0M58.7 562.4h0M53.0 564.4h0M49.1 546.2h0M54.9 551.3h0M86.1 568.2h0M71.0 568.1h0M44.9 556.1h0M60.5 572.1h0M83.8 565.8h0M75.5 567.3h0M79.3 555.0h0M83.4 554.5h0M60.9 550.8h0M67.6 556.7h0M54.1 557.7h0M64.2 555.1h0M74.4 560.7h0M47.1 558.3h0M46.1 557.8h0M75.2 552.9h0M62.7 570.9h0M59.1 557.3h0M60.3 540.1h0M53.6 543.9h0M48.1 550.2h0M62.6 557.5h0M80.5 567.2h0M54.2 570.0h0M84.0 562.4h0M79.2 554.6h0M55.1 552.6h0M57.4 548.5h0M53.7 569.5h0M81.3 556.0h0M75.3 565.7h0M62.7 544.5h0M55.5 562.7h0M58.3 558.9h0M70.7 560.5h0M47.9 543.7h0M78.8 566.2h0M58.9 556.7h0M60.7 570.5h0M77.9 561.9h0M54.4 553.7h0M56.0 547.1h0M65.6 555.7h0M85.6 556.5h0M67.8 563.4h0M46.7 555.3h0M68.7 562.6h0M57.3 569.2h0M78.2 556.3h0M80.0 572.0h0M48.9 559.3h0M86.3 562.7h0M50.5 551.4h0M57.4 553.6h0M61.4 546.4h0M50.1 558.5h0M62.0 553.9h0M44.8 557.2h0M53.8 541.5h0M79.4 570.8h0M81.9 559.5h0M49.3 569.3h0M53.5 557.9h0M43.5 543.4h0M50.3 543.4h0M59.3 560.1h0M83.5 566.0h0M60.8 543.2h0M64.0 570.9h0M89.2 558.7h0M76.6 562.4h0M72.9 559.9h0M86.6 559.5h0M52.6 552.5h0M71.7 554.2h0M55.2 547.7h0M82.6 558.9h0M54.1 546.5h0M82.8 553.2h0M47.4 560.1h0M50.7 544.3h0M80.4 566.9h0M54.5 571.0h0M79.3 555.3h0M47.8 564.6h0M44.5 552.9h0M51.9 547.2h0M45.6 556.8h0M57.5 547.4h0M56.6 541.4h0M56.3 557.7h0M50.7 563.8h0M65.1 561.7h0M59.3 554.9h0M78.8 560.1h0M43.3 555.3h0M48.9 549.7h0M51.2 546.8h0M62.5 561.8h0M59.5 553.2h0M85.7 566.6h0M83.2 560.1h0M56.3 557.8h0M67.0 566.7h0M58.2 556.8h0M59.6 565.7h0M74.7 567.5h0M84.0 562.8h0M51.5 553.1h0M48.6 559.8h0M58.9 570.6h0M58.7 559.8h0M54.3 544.7h0M48.2 567.3h0M53.3 537.4h0M79.3 557.9h0M63.0 569.7h0M86.9 563.6h0M56.9 551.8h0M54.2 569.6h0M61.7 553.1h0M53.2 566.5h0M51.4 562.9h0M53.3 547.1h0M53.1 562.4h0M53.4 550.9h0M56.2 560.0h0M45.7 560.4h0M53.6 564.6h0M61.3 551.6h0M61.5 569.8h0M83.9 558.5h0M63.9 556.2h0M50.0 558.0h0M50.6 546.8h0M79.8 565.1h0M43.6 551.1h0M81.0 565.2h0M86.1 565.9h0M70.1 560.3h0M64.9 568.7h0M57.5 566.1h0M54.6 566.1h0M78.0 559.7h0M63.2 571.6h0M75.2 568.2h0M79.2 557.1h0M68.7 570.5h0M51.5 560.0h0M58.1 552.7h0M84.2 562.6h0M54.1 565.2h0M59.4 549.9h0M62.4 565.2h0M60.4 569.2h0M64.8 564.6h0M76.3 569.8h0M81.7 570.7h0M86.1 563.0h0M83.3 564.5h0M72.1 560.3h0M82.2 572.7h0M61.3 567.8h0M52.8 544.7h0M70.4 544.0h0M70.5 570.0h0M68.7 564.2h0M47.2 548.6h0M59.1 560.4h0M69.7 560.1h0M62.6 572.7h0M54.4 547.5h0M73.1 567.3h0M68.8 561.4h0M48.8 544.0h0M79.1 552.8h0M80.7 564.5h0M65.7 570.2h0M61.4 570.5h0M67.5 558.9h0M83.5 560.1h0M64.5 560.4h0M64.5 563.3h0M60.1 554.3h0M70.4 566.0h0M44.7 549.3h0M85.2 561.3h0M48.9 547.7h0M58.7 566.8h0M48.8 550.2h0M50.6 556.7h0M49.6 546.5h0M80.6 556.9h0M84.5 560.3h0M57.0 547.7h0M82.9 562.7h0M59.5 550.4h0M70.2 564.9h0M83.1 564.6h0M77.3 554.3h0M87.3 564.5h0M51.8 542.9h0M61.9 571.1h0M55.9 571.9h0M59.4 568.1h0M60.1 556.8h0M83.0 559.4h0M63.6 566.6h0M69.1 541.6h0M48.1 542.6h0M51.0 571.3h0M54.4 552.5h0M72.1 558.1h0M52.5 564.4h0M50.1 563.7h0M78.3 553.3h0M75.4 563.2h0M50.5 553.2h0M53.2 558.5h0M67.2 541.5h0M61.2 559.0h0M60.7 570.2h0M55.9 569.3h0M67.9 559.2h0M56.2 555.8h0M76.3 570.2h0M81.4 561.7h0M46.5 556.5h0M50.9 546.7h0M62.2 561.4h0M48.0 552.5h0M49.6 553.7h0M55.1 568.5h0M72.4 547.2h0M51.3 564.2h0M78.7 556.1h0M70.7 562.9h0M53.7 564.7h0M53.1 562.6h0M69.7 565.8h0M46.0 548.0h0M66.1 549.5h0M61.2 541.1h0M66.7 555.7h0M53.3 568.2h0M46.4 552.2h0M49.7 545.0h0M51.3 557.1h0M52.7 566.4h0M66.4 563.6h0M53.2 565.6h0M63.4 559.8h0M57.7 563.6h0M82.0 551.9h0M84.7 560.3h0M62.0 555.2h0M83.1 560.7h0M69.9 563.0h0M60.9 558.1h0M57.8 559.7h0M64.3 552.6h0M66.9 563.5h0M45.3 563.0h0M52.4 559.8h0M51.5 545.1h0M66.3 562.0h0M60.4 554.5h0M77.2 561.9h0M72.5 545.3h0M69.7 564.9h0M72.7 564.3h0M55.9 547.4h0M78.5 552.4h0M64.7 542.3h0M77.6 558.9h0M62.6 560.3h0M54.5 556.4h0M59.7 568.6h0M63.6 556.9h0M57.8 554.7h0M58.6 569.8h0M46.5 553.5h0M65.3 569.5h0M59.6 565.1h0M84.2 563.2h0M66.3 558.6h0M49.4 551.1h0M56.1 570.5h0M78.7 566.0h0M61.8 565.8h0M87.6 565.8h0M59.7 571.5h0M79.1 570.8h0M67.5 559.4h0M60.4 552.3h0M58.1 553.7h0M46.1 560.2h0M60.8 569.7h0M57.6 561.0h0M84.3 566.8h0M80.6 567.0h0M57.8 550.7h0M83.7 570.2h0M83.2 559.4h0M66.1 555.7h0M47.2 547.2h0M86.4 564.7h0M61.8 553.7h0M60.6 563.7h0M46.8 548.2h0M64.5 558.6h0M69.8 565.3h0M47.2 554.8h0M54.4 568.4h0M65.5 555.9h0M54.1 553.6h0M59.5 558.6h0M74.2 563.3h0M49.5 546.7h0M83.9 570.0h0M83.8 559.2h0M83.4 566.4h0M79.6 565.3h0M51.8 555.8h0M63.4 569.3h0M55.1 563.6h0M51.4 556.1h0M52.5 561.8h0M54.7 559.6h0M52.4 547.6h0M58.4 561.7h0M54.1 559.5h0M79.4 549.1h0M54.2 564.5h0M62.5 566.9h0M85.8 566.6h0M47.6 546.8h0M85.5 564.1h0M58.5 566.2h0M70.3 563.4h0M48.2 564.8h0M75.9 554.3h0M61.1 571.2h0M51.2 562.1h0M52.3 565.0h0M78.9 568.6h0M81.6 568.2h0M50.6 568.0h0M82.4 553.2h0M46.2 559.3h0M48.7 555.9h0M59.6 559.4h0M73.6 569.1h0M65.7 557.2h0M82.3 564.3h0M53.4 544.2h0M46.6 551.7h0M49.9 547.8h0M54.0 565.4h0M51.2 556.4h0M79.5 565.8h0M47.7 544.3h0M66.8 568.5h0M48.3 547.6h0M76.2 562.0h0M85.3 563.3h0M71.7 548.6h0M57.6 571.9h0M84.4 557.1h0M68.8 560.4h0M73.8 558.5h0M52.8 545.5h0M50.9 547.4h0M49.2 564.3h0M85.9 557.3h0M50.5 548.1h0M59.6 566.1h0M80.6 556.4h0M80.2 565.0h0M77.7 562.4h0M81.4 571.1h0M45.6 558.3h0M60.8 566.8h0M79.5 562.4h0M71.9 566.3h0M74.9 564.4h0M78.8 566.6h0M51.3 553.2h0M72.5 546.6h0M58.2 559.2h0M54.1 551.0h0M53.2 562.2h0M83.6 570.9h0M63.6 556.0h0M60.9 558.4h0M61.7 571.8h0M85.6 562.8h0M62.8 570.5h0M82.6 556.9h0M65.0 565.5h0M87.0 564.1h0M62.9 570.4h0M55.9 553.6h0M50.6 541.5h0M59.9 556.2h0M78.2 571.9h0M48.7 551.3h0M59.1 572.1h0M51.0 547.4h0M86.0 558.8h0M53.6 545.3h0M58.1 563.2h0M66.9 565.7h0M62.3 566.5h0M53.0 547.8h0M63.4 556.8h0M49.7 554.7h0M71.5 568.3h0M69.5 542.7h0M48.3 548.3h0M64.1 553.9h0M71.6 562.1h0M61.0 562.1h0M72.6 560.8h0M49.4 548.0h0M55.6 566.4h0M61.5 555.4h0M70.9 545.6h0M78.3 556.3h0M61.4 556.3h0M74.2 544.0h0M63.0 563.0h0M79.9 558.4h0M61.1 564.5h0M52.0 547.9h0M75.2 567.7h0M75.7 562.8h0M58.7 570.6h0M52.0 542.8h0M49.1 565.3h0M49.2 566.6h0M71.7 567.6h0M44.9 551.9h0M52.5 557.6h0M80.6 565.5h0M58.1 553.0h0M79.5 560.3h0M56.3 563.8h0M83.4 557.8h0M74.5 563.7h0M58.9 554.5h0M50.2 550.3h0M84.8 568.0h0M73.7 569.8h0M83.9 557.6h0M61.1 568.8h0M66.1 559.4h0M64.6 545.9h0M50.2 568.7h0M68.2 569.2h0M81.0 565.8h0M55.7 547.8h0M53.4 550.0h0M75.0 549.7h0M79.7 568.9h0M57.2 555.9h0M83.5 564.8h0M75.6 562.9h0M54.7 558.9h0M65.3 568.8h0M77.0 553.4h0M62.8 560.1h0M45.8 557.5h0M81.6 563.0h0M81.6 571.1h0M48.1 548.8h0M76.1 559.9h0M65.4 555.5h0M61.8 563.5h0M61.5 567.1h0M79.7 565.9h0M78.1 567.8h0M67.6 550.6h0M84.7 554.6h0M56.1 565.5h0M51.5 542.4h0M63.1 567.4h0M60.6 553.6h0M76.3 564.2h0M61.9 569.3h0M46.3 555.5h0M53.9 558.8h0M70.8 550.3h0M79.6 567.6h0M48.5 545.6h0M63.2 553.8h0M63.5 554.9h0M60.6 553.5h0M84.1 554.3h0M65.4 562.3h0M54.4 572.8h0M64.2 555.2h0M45.1 553.0h0M69.4 553.2h0M46.3 543.8h0M58.9 569.5h0M62.8 564.4h0M57.4 553.0h0M75.8 568.6h0M57.4 563.0h0M47.3 565.8h0M50.1 562.0h0M66.3 556.0h0M77.0 567.1h0M56.8 565.0h0M77.7 568.6h0M68.1 562.9h0M46.0 562.7h0M77.3 554.9h0M52.0 556.2h0M66.3 555.3h0M50.3 557.7h0M83.2 556.3h0M77.1 558.0h0M60.6 557.6h0M78.5 567.9h0M54.1 557.4h0M81.1 565.4h0M73.4 558.5h0M56.5 552.7h0M77.7 564.0h0M82.5 554.6h0M84.0 563.2h0M75.6 558.5h0M55.9 550.7h0M74.3 565.2h0M75.9 569.5h0M48.1 568.1h0M69.1 557.2h0M66.6 568.4h0M78.8 554.2h0M80.4 557.4h0M49.4 561.9h0M65.1 545.7h0M82.9 562.1h0M83.0 565.9h0M51.3 547.1h0M52.8 554.7h0M48.1 556.5h0M72.4 560.3h0M63.7 551.5h0M86.8 564.0h0M86.0 565.0h0M45.5 552.1h0M61.5 556.7h0M81.9 553.7h0M44.2 546.3h0M85.3 560.1h0M61.2 570.5h0M66.7 556.1h0M84.6 560.5h0M53.7 542.2h0M59.2 569.7h0M62.0 553.2h0M44.8 558.6h0M55.1 543.6h0M77.0 549.1h0M69.1 558.2h0M80.2 561.9h0M59.5 553.3h0M64.3 565.1h0M48.6 558.0h0M54.1 560.2h0M48.4 550.9h0M54.9 571.3h0M63.8 563.0h0M50.6 552.2h0M57.0 563.9h0M48.2 557.0h0M50.5 562.7h0M56.2 551.3h0M71.6 554.8h0M82.4 561.0h0M82.7 559.2h0M73.0 566.5h0M76.5 560.9h0M80.3 570.0h0M85.6 566.3h0M55.1 571.0h0M80.9 563.7h0M65.2 555.8h0M45.2 548.8h0M61.1 568.0h0M83.9 568.9h0M84.0 560.0h0M49.1 548.0h0M45.2 549.9h0M54.6 551.0h0M66.8 555.0h0M57.5 557.2h0M78.9 562.9h0M71.1 567.4h0M72.5 567.1h0M59.2 552.2h0M53.2 568.9h0M49.2 554.1h0M58.4 560.9h0M53.5 567.9h0M52.2 565.0h0M50.4 561.7h0M50.8 560.9h0M83.0 557.8h0M46.0 548.7h0M45.3 555.5h0M71.3 565.3h0M59.8 555.7h0M46.8 563.4h0M84.6 556.7h0M63.1 553.5h0M81.2 557.7h0M48.4 545.8h0M47.6 555.1h0M57.8 556.2h0M78.6 562.9h0M48.8 552.6h0M65.1 558.0h0M63.8 553.7h0M73.9 567.3h0M73.5 565.8h0M65.3 567.0h0M51.3 552.7h0M70.5 566.2h0M51.6 555.1h0M68.8 555.2h0M57.9 564.2h0M62.7 566.2h0M62.5 569.6h0M86.6 558.1h0M58.9 549.6h0M44.6 558.8h0M87.0 560.7h0M55.8 546.0h0M80.5 565.6h0M81.4 572.0h0M65.7 561.8h0M51.8 562.2h0M83.9 566.3h0M82.0 555.1h0M62.6 555.8h0M78.4 550.6h0M69.8 568.0h0M63.1 557.9h0M67.0 558.6h0M47.7 542.6h0M63.2 567.0h0M54.9 549.2h0M51.3 544.3h0M64.9 551.7h0M80.8 561.2h0M57.6 552.3h0M49.7 550.7h0M79.2 552.3h0M60.3 557.2h0M77.3 567.1h0M79.9 562.8h0M52.2 544.2h0M61.4 558.7h0M51.9 559.2h0M55.3 554.4h0M71.2 565.0h0M62.8 567.9h0M67.2 562.7h0M67.5 560.6h0M58.5 544.1h0M87.1 560.0h0M75.5 563.9h0M82.2 565.4h0M62.1 555.1h0M60.5 566.6h0M79.1 568.5h0M49.1 554.0h0M51.0 562.8h0M46.8 559.7h0M55.2 560.5h0M81.2 563.2h0M72.2 567.1h0M58.5 565.0h0M71.9 562.8h0M82.5 557.2h0M50.8 550.3h0M57.5 560.1h0M49.0 566.4h0M50.3 564.6h0M68.2 557.9h0M80.2 569.3h0M80.1 558.4h0M58.9 569.2h0M78.0 552.0h0M81.6 559.4h0M49.9 546.5h0M81.9 571.6h0M83.0 552.9h0M51.5 558.0h0M59.9 550.2h0M57.2 555.6h0M54.3 566.6h0M44.6 554.2h0M66.1 566.1h0M53.5 570.2h0M70.6 559.0h0M76.1 560.7h0M79.3 565.6h0M55.5 557.8h0M44.6 549.9h0M45.5 548.9h0M63.7 550.0h0M60.4 572.2h0M85.0 556.6h0M81.6 562.3h0M54.1 560.1h0M80.9 554.9h0M53.5 563.8h0M55.7 561.0h0M54.9 546.6h0M53.2 569.9h0M63.9 558.7h0M59.1 568.7h0M64.6 558.9h0M54.3 553.4h0M78.1 551.5h0M63.1 561.4h0M50.0 557.9h0M58.3 564.0h0M84.3 564.6h0M68.9 566.2h0M48.0 555.7h0M87.4 563.7h0M76.9 559.4h0M79.9 558.2h0M59.1 552.1h0M49.0 542.0h0M62.4 566.0h0M43.9 544.9h0M44.8 559.0h0M45.2 545.3h0M56.3 542.0h0M52.2 562.5h0M86.3 558.2h0M53.6 546.6h0M73.0 560.6h0M54.7 557.1h0M53.9 558.8h0M54.3 556.8h0M65.3 571.4h0M86.2 563.5h0M78.6 562.0h0M52.6 556.3h0M49.7 551.1h0M59.7 556.3h0M58.6 570.6h0M51.6 569.1h0M85.0 556.6h0M68.4 564.2h0M83.6 558.1h0M60.5 551.0h0M82.4 566.9h0M78.8 565.7h0M58.3 549.1h0M56.3 563.6h0M51.3 554.0h0M76.5 566.4h0M58.4 558.8h0M50.6 557.4h0M46.3 544.9h0M47.0 564.1h0M76.1 564.6h0M61.7 560.2h0M68.1 566.6h0M74.6 562.1h0M59.5 555.7h0M71.5 563.8h0M52.4 562.4h0M65.7 554.0h0M77.7 566.1h0M47.4 544.2h0M83.9 561.1h0M61.3 569.2h0M68.5 568.2h0M52.4 550.8h0M55.8 560.2h0M46.7 560.2h0M55.4 555.6h0M59.2 566.0h0M85.1 560.3h0M46.6 557.9h0M54.8 566.1h0M61.1 561.4h0M48.6 540.5h0M80.3 561.2h0M77.0 569.3h0M69.8 564.6h0M46.3 555.3h0M50.8 546.4h0M74.2 566.6h0M59.2 564.9h0M59.2 558.0h0M58.4 565.3h0M85.0 563.4h0M80.1 563.9h0M47.4 563.8h0M61.7 566.0h0M50.7 543.1h0M74.6 564.6h0M83.2 569.8h0M69.6 564.2h0M49.9 543.4h0M45.8 553.4h0M79.0 565.2h0M47.8 565.6h0M52.9 544.2h0M48.7 556.9h0M65.0 566.3h0M43.9 553.1h0M86.0 563.0h0M55.0 550.3h0M52.3 549.4h0M63.6 568.6h0M59.6 570.1h0M50.1 567.5h0M56.6 567.3h0M43.8 555.4h0M69.1 566.3h0M51.0 554.4h0M76.3 565.2h0M50.3 546.7h0M49.0 556.3h0M50.7 546.4h0M78.7 568.6h0M58.8 558.3h0M51.7 547.3h0M60.3 552.7h0M79.3 552.9h0M62.7 561.9h0M62.6 558.1h0M77.4 550.5h0M65.4 543.8h0M56.4 568.4h0M53.8 568.9h0M49.1 566.6h0M49.0 546.5h0M49.6 545.0h0M48.0 554.1h0M67.0 569.8h0M75.4 565.0h0M46.4 556.0h0M74.5 562.4h0M54.0 557.7h0M47.1 546.0h0M64.9 560.7h0M84.1 554.7h0M51.4 572.7h0M57.6 538.7h0M63.9 556.8h0M79.9 555.3h0M78.1 554.8h0M83.7 553.0h0M76.8 562.5h0M81.7 561.4h0M56.2 539.3h0M73.4 562.3h0M59.6 555.2h0M78.8 558.8h0M56.3 562.1h0M86.7 561.6h0M63.9 553.5h0M51.2 546.1h0M63.1 570.9h0M50.6 543.3h0M56.2 563.5h0M79.5 569.7h0M62.9 559.8h0M66.8 549.4h0M49.4 546.2h0M65.2 540.1h0M84.0 558.8h0M72.1 566.3h0M49.2 571.0h0M61.4 567.0h0M59.2 552.6h0M61.4 566.1h0M82.3 565.7h0M77.4 559.0h0M53.7 547.2h0M59.0 542.9h0M77.8 557.1h0M72.3 567.9h0M57.7 554.0h0M71.3 561.6h0M69.4 568.7h0M52.6 559.3h0M53.8 569.1h0M79.6 570.6h0M64.9 564.0h0M48.7 558.9h0M58.3 561.5h0M50.7 566.7h0M68.7 556.1h0M52.2 548.2h0M82.2 568.2h0M86.3 560.3h0M48.8 547.6h0M50.0 548.3h0M64.3 567.6h0M73.0 562.4h0M53.3 568.2h0M64.8 551.5h0M75.7 557.8h0M49.0 544.1h0M55.3 554.5h0M83.1 558.5h0M45.7 559.6h0M52.3 549.5h0M57.7 550.5h0M61.8 562.1h0M48.1 555.0h0M56.3 553.4h0M71.9 565.9h0M46.3 550.9h0M77.5 568.3h0M63.7 556.6h0M58.3 554.7h0M76.0 567.6h0M82.7 559.6h0M51.0 566.6h0M58.0 568.9h0M55.2 565.0h0M46.2 548.1h0M65.9 564.2h0M54.6 548.2h0M73.2 547.7h0M51.6 550.7h0M58.3 553.6h0M67.2 565.3h0M53.9 565.2h0M53.7 556.2h0M53.2 568.3h0M47.2 564.5h0M52.9 558.1h0M63.3 553.2h0M54.1 564.4h0M79.6 554.1h0M54.1 547.2h0M48.1 555.8h0M70.8 560.9h0M70.4 557.9h0M58.8 565.7h0M62.4 563.0h0M50.8 556.2h0M82.0 568.0h0M60.2 560.7h0M47.1 545.4h0M84.0 557.7h0M52.8 568.2h0M47.8 554.0h0M52.6 540.2h0M50.7 550.9h0M67.2 566.5h0M79.8 560.1h0M50.2 543.1h0M50.2 553.8h0M53.0 548.2h0M50.1 546.1h0M63.4 562.3h0M61.0 568.4h0M55.9 571.2h0M85.3 565.8h0M46.0 561.1h0M62.9 558.4h0M61.2 557.1h0M60.3 552.8h0M55.3 553.6h0M73.8 554.1h0M58.4 568.8h0M76.9 561.5h0M52.6 567.6h0M85.1 567.5h0M62.0 554.1h0M46.7 557.1h0M73.3 556.5h0M64.0 562.7h0M44.8 551.9h0M61.0 564.9h0M80.0 556.9h0M81.2 554.7h0M51.6 564.5h0M48.4 566.6h0M51.1 564.8h0M82.3 559.0h0M57.8 567.8h0M56.8 553.4h0M73.3 565.7h0M44.4 550.1h0M63.2 566.7h0M57.9 560.2h0M51.2 563.4h0M65.1 550.5h0M81.6 553.2h0M55.4 555.9h0M56.3 550.4h0M80.0 557.6h0M70.8 561.7h0M55.2 547.3h0M52.4 549.3h0M69.6 551.6h0M51.7 545.0h0M51.7 574.0h0M48.2 548.9h0M68.2 562.9h0M64.3 542.3h0M54.1 546.3h0M51.0 543.7h0M60.2 563.3h0M85.3 562.6h0M50.0 553.5h0M51.8 567.1h0M47.9 554.3h0M51.6 565.5h0M54.7 543.4h0M63.9 548.5h0M84.3 560.1h0M84.2 564.2h0M69.6 566.3h0M52.4 565.6h0M47.4 560.3h0M50.7 541.8h0M51.8 573.0h0M49.2 550.0h0M59.9 565.1h0M78.4 552.8h0M61.4 552.5h0M65.3 556.1h0M85.9 555.1h0M48.6 562.8h0M78.8 562.0h0M65.7 570.2h0M45.9 551.3h0M58.6 562.4h0M73.6 553.5h0M82.9 569.2h0M48.5 560.8h0M86.9 560.5h0M71.7 550.2h0M62.9 563.2h0M58.3 563.7h0M58.2 563.3h0M51.9 569.8h0M77.7 555.2h0M78.2 560.3h0M65.0 564.2h0M62.3 564.8h0M51.7 556.4h0M51.7 556.5h0M59.2 560.7h0M74.8 558.9h0M52.7 564.3h0M64.1 556.4h0M48.4 562.7h0M70.9 555.4h0M79.8 564.9h0M59.5 566.4h0M79.4 566.2h0M68.4 564.1h0M80.0 558.2h0M79.0 551.4h0M62.4 554.1h0M69.9 550.1h0M56.6 547.8h0M45.3 553.0h0M62.7 557.2h0M60.7 551.9h0M53.6 552.3h0M70.6 562.0h0M71.3 559.6h0M52.5 553.6h0M49.3 551.5h0M74.6 548.9h0M65.3 558.1h0M65.7 560.4h0M63.9 566.2h0M72.7 563.8h0M53.0 563.9h0M77.4 562.5h0M78.3 570.4h0M85.0 561.2h0M80.3 569.0h0M64.8 554.4h0M55.1 545.3h0M54.7 550.8h0M81.0 572.3h0M78.9 554.2h0M79.8 565.5h0M70.6 561.4h0M79.2 571.5h0M75.6 562.1h0M66.1 556.0h0M59.7 553.8h0M50.6 553.2h0M44.1 556.2h0M71.3 562.3h0M82.7 556.7h0M71.8 551.8h0M78.7 550.1h0M74.9 555.0h0M61.6 572.0h0M62.2 559.8h0M45.7 560.6h0M80.7 564.1h0M65.4 571.0h0M55.9 563.2h0M61.3 550.6h0M68.8 551.8h0M46.5 553.0h0M70.1 555.7h0M77.6 558.6h0M52.0 546.3h0M65.0 571.9h0M48.1 547.3h0M74.8 563.7h0M60.6 558.8h0M75.9 562.1h0M51.6 547.0h0M46.9 547.9h0M48.6 556.2h0M62.3 570.8h0M52.4 548.9h0M64.2 569.6h0M69.7 567.7h0M45.1 555.8h0M68.8 566.3h0M82.3 563.2h0M56.2 546.2h0M45.3 550.1h0M77.4 563.9h0M57.0 571.6h0M59.9 547.3h0M76.8 553.9h0M66.3 541.1h0M63.2 563.8h0M61.0 536.7h0M79.9 555.2h0M78.3 552.7h0M63.6 557.5h0M66.0 557.9h0M56.9 554.6h0M62.9 564.8h0M65.9 559.7h0M67.2 561.3h0M50.9 545.3h0M48.6 561.0h0M62.7 555.8h0M52.7 568.8h0M84.6 557.4h0M83.8 559.3h0M78.8 568.7h0M56.8 569.3h0M59.6 568.3h0M60.5 551.4h0M66.6 562.9h0M62.6 568.7h0M81.1 562.7h0M57.1 564.0h0M59.6 566.0h0M81.9 563.7h0M78.9 568.0h0M63.5 566.6h0M74.7 564.1h0M50.7 562.4h0M53.7 546.7h0M46.2 547.0h0M78.3 567.7h0M67.7 563.4h0M50.8 547.6h0M61.5 557.5h0M60.2 556.6h0M49.2 559.1h0M77.7 564.4h0M54.3 542.0h0M67.7 551.9h0M50.5 558.3h0M51.2 558.1h0M56.0 563.1h0M46.5 555.9h0M49.5 548.5h0M50.8 545.7h0M80.3 567.2h0M63.6 560.4h0M78.6 556.9h0M66.9 561.2h0M85.7 566.0h0M45.7 561.2h0M49.6 546.2h0M48.0 547.9h0M69.2 561.2h0M63.0 565.3h0M52.9 552.1h0M52.0 560.3h0M81.1 559.3h0M85.1 567.4h0M84.4 555.3h0M67.7 562.6h0M80.1 550.3h0M59.9 568.5h0M66.2 559.6h0M52.5 569.3h0M49.1 545.9h0M60.9 571.5h0M79.8 567.1h0M65.2 553.9h0M76.2 567.0h0M58.4 571.6h0M68.2 561.0h0M60.9 557.1h0M61.1 561.0h0M58.4 562.8h0M68.7 562.5h0M64.6 556.2h0M84.3 556.9h0M50.2 555.9h0M57.4 548.1h0M62.6 551.8h0M51.6 566.0h0M82.3 564.5h0M48.0 552.2h0M53.4 558.8h0M59.9 550.7h0M51.4 562.3h0M52.6 548.8h0M57.2 567.9h0M71.0 560.4h0M61.4 565.0h0M78.6 561.4h0M49.8 543.1h0M77.1 556.1h0M54.6 548.9h0M83.6 568.6h0M59.0 551.0h0M58.7 563.0h0M69.8 561.7h0M47.8 545.1h0M60.9 558.5h0M60.2 563.8h0M78.4 557.3h0" stroke="#2268b2" stroke-width="1.05" stroke-linecap="round" stroke-opacity="0.9"/>
<path d="M132.4 571.7h0M144.6 568.6h0M152.1 583.1h0M154.8 560.3h0M142.6 555.8h0M146.2 565.8h0M153.2 570.9h0M152.3 571.1h0M144.5 583.0h0M149.6 589.2h0M141.1 587.5h0M146.8 587.4h0M135.5 590.3h0M144.8 565.5h0M138.8 573.6h0M146.5 566.7h0M133.6 585.4h0M149.2 577.1h0M133.1 566.8h0M144.2 568.7h0M140.6 556.8h0M149.3 564.5h0M131.6 574.8h0M138.4 561.2h0M150.3 577.8h0M145.8 563.5h0M153.2 562.6h0M150.7 559.6h0M130.8 560.5h0M151.7 586.6h0M151.1 589.3h0M144.8 586.2h0M133.7 584.2h0M147.0 566.2h0M142.8 573.8h0M144.3 567.4h0M133.4 570.7h0M136.6 591.9h0M138.3 592.3h0M137.1 572.6h0M150.8 574.8h0M144.5 593.2h0M136.9 563.3h0M141.8 560.0h0M132.4 572.5h0M145.7 568.9h0M138.0 561.1h0M152.6 585.8h0M147.2 595.2h0M150.2 557.3h0M141.6 560.5h0M152.2 581.7h0M146.7 573.1h0M156.0 576.8h0M144.9 591.3h0M151.9 575.4h0M138.7 594.6h0M138.2 579.7h0M154.8 583.4h0M151.7 561.9h0M137.5 583.9h0M147.6 571.7h0M148.8 556.2h0M134.2 556.2h0M133.3 580.0h0M133.3 564.2h0M138.1 590.5h0M150.3 570.9h0M154.2 565.2h0M151.5 562.4h0M149.4 591.4h0M150.6 589.6h0M151.8 588.3h0M149.0 568.1h0M144.2 577.4h0M141.2 566.8h0M147.6 588.9h0M140.4 590.4h0M133.9 575.2h0M138.1 564.0h0M143.1 590.5h0M147.6 562.9h0M134.3 563.3h0M148.0 589.7h0M137.2 564.9h0M136.2 584.4h0M145.2 584.2h0M135.3 573.4h0M141.6 589.8h0M147.4 591.4h0M154.6 568.4h0M135.5 579.2h0M146.8 557.8h0M148.1 578.3h0M138.7 570.5h0M138.0 570.3h0M138.8 593.8h0M141.3 560.7h0M152.6 572.1h0M154.1 563.8h0M143.3 572.0h0M134.1 570.2h0M149.4 586.3h0M155.2 570.9h0M134.9 586.8h0M143.3 573.6h0M136.1 584.6h0M152.8 556.7h0M141.2 593.7h0M142.5 573.8h0M151.5 564.1h0M148.0 565.6h0M132.2 574.2h0M148.4 586.7h0M140.9 563.0h0M134.6 582.2h0M132.5 563.5h0M144.2 585.7h0M150.7 573.7h0M148.2 593.0h0M147.0 582.9h0M137.5 584.8h0M136.4 587.5h0M145.7 561.5h0M137.8 573.2h0M151.8 555.1h0M144.2 561.9h0M143.5 581.4h0M137.4 580.2h0M139.3 590.5h0M144.6 578.4h0M154.3 560.5h0M132.2 575.6h0M153.2 580.0h0M148.1 594.0h0M152.0 571.6h0M136.8 573.9h0M140.0 594.5h0M138.0 571.8h0M136.1 579.9h0M138.2 556.7h0M153.8 580.7h0M134.6 567.9h0M138.3 579.6h0M136.4 590.1h0M145.1 591.3h0M135.7 583.8h0M145.5 593.0h0M141.0 580.7h0M138.2 582.5h0M136.6 564.9h0M148.4 561.2h0M151.6 577.3h0M143.6 585.2h0M148.5 569.6h0M134.3 580.2h0M149.3 564.7h0M139.4 574.1h0M145.0 566.3h0M149.1 556.7h0M147.4 589.9h0M147.3 591.9h0M135.4 582.4h0M139.6 587.8h0M133.5 582.0h0M129.8 576.6h0M144.7 555.2h0M131.9 572.9h0M153.1 588.6h0M148.6 584.0h0M139.2 577.2h0M150.9 587.7h0M152.1 567.0h0M142.1 590.5h0M150.3 587.9h0M143.6 595.2h0M153.0 571.5h0M150.6 589.2h0M137.1 570.6h0M142.5 570.3h0M139.1 595.1h0M149.3 594.3h0M133.7 563.7h0M135.1 575.2h0M151.8 566.8h0M142.5 595.3h0M140.3 573.5h0M150.1 580.0h0M145.3 576.2h0M145.2 567.9h0M141.3 580.1h0M152.8 567.9h0M147.1 580.2h0M142.9 581.3h0M148.3 573.8h0M135.8 575.6h0M138.5 576.3h0M137.5 567.9h0M138.5 573.1h0M139.1 560.2h0M135.9 589.3h0M144.5 590.8h0M153.3 565.0h0M151.7 557.9h0M147.2 591.3h0M147.4 555.4h0M149.6 570.1h0M135.6 563.9h0M146.7 571.7h0M137.2 583.3h0M140.2 582.7h0M149.3 583.9h0M136.7 572.6h0M147.1 568.8h0M133.3 568.6h0M136.2 559.8h0M153.8 568.1h0M147.3 582.0h0M149.4 580.5h0M144.8 583.8h0M142.1 588.4h0M135.4 566.6h0M141.8 570.7h0M145.9 589.9h0M140.3 566.6h0M137.1 563.4h0M138.5 588.4h0M148.4 590.5h0M135.6 564.6h0M135.9 568.5h0M152.8 568.4h0M142.1 571.5h0M142.7 559.5h0M147.4 574.7h0M136.8 576.8h0M136.5 562.3h0M145.5 569.4h0M145.3 563.2h0M145.5 581.5h0M151.5 557.0h0M137.7 584.2h0M145.6 570.3h0M137.5 558.3h0M149.4 586.2h0M139.5 596.4h0M135.4 584.3h0M136.5 585.1h0M132.1 577.6h0M148.6 571.5h0M154.3 587.9h0M133.9 566.5h0M137.2 571.5h0M140.3 595.3h0M143.3 556.8h0M141.2 573.2h0M148.9 573.8h0M141.9 588.5h0M136.6 572.0h0M149.2 585.6h0M136.1 570.8h0M152.2 589.9h0M145.8 577.3h0M142.3 562.9h0M146.5 584.3h0M152.0 555.2h0M136.7 577.1h0M142.2 593.2h0M140.6 567.0h0M142.8 574.7h0M138.1 583.4h0M138.3 560.1h0M146.7 573.5h0M144.2 587.2h0M140.2 598.8h0M136.8 571.5h0M132.3 572.8h0M148.9 594.1h0M151.4 570.9h0M135.3 567.7h0M152.4 555.0h0M139.6 581.0h0M141.9 565.8h0M139.3 576.7h0M147.3 584.3h0M134.7 567.0h0M147.7 588.6h0M144.3 583.8h0M146.8 589.8h0M136.0 588.9h0M138.4 578.0h0M140.1 555.8h0M149.9 594.7h0M153.6 568.8h0M156.9 580.3h0M139.7 560.0h0M146.5 571.6h0M148.9 586.4h0M140.7 574.7h0M147.5 580.3h0M136.2 561.8h0M140.4 578.6h0M137.2 561.2h0M151.8 577.8h0M136.5 575.4h0M144.5 569.6h0M145.7 581.5h0M150.8 590.5h0M134.3 559.3h0M150.3 578.7h0M141.7 575.7h0M139.0 561.2h0M142.2 571.3h0M137.5 577.7h0M150.4 577.6h0M142.8 590.2h0M142.9 593.7h0M148.4 562.8h0M131.2 567.7h0M134.4 575.3h0M139.6 559.9h0M133.4 565.1h0M136.3 592.2h0M137.9 595.3h0M149.1 583.8h0M148.8 558.2h0M136.7 587.8h0M150.9 558.7h0M131.4 577.9h0M146.6 578.3h0M144.1 557.4h0M151.2 585.5h0M146.8 595.7h0M142.6 590.1h0M137.7 568.9h0M138.2 566.5h0M147.3 590.8h0M135.3 579.4h0M141.2 567.0h0M137.2 575.7h0M148.9 592.1h0M150.4 586.8h0M136.5 595.0h0M137.3 564.3h0M152.0 575.1h0M145.5 559.0h0M138.5 562.9h0M140.4 567.6h0M142.4 569.5h0M136.3 593.3h0M141.1 576.4h0M139.1 570.1h0M148.2 567.3h0M153.7 564.3h0M145.9 570.3h0M151.6 571.1h0M147.0 585.3h0M149.9 590.6h0M150.3 594.9h0M137.7 567.3h0M143.4 566.0h0M135.1 564.8h0M146.0 563.6h0M150.5 565.8h0M134.0 569.9h0M142.5 593.1h0M154.7 582.5h0M144.9 565.3h0M143.4 579.4h0M138.3 557.1h0M147.5 593.2h0M153.8 564.3h0M146.5 571.9h0M143.1 590.2h0M139.5 573.3h0M137.9 577.5h0M135.4 587.2h0M144.9 586.4h0M144.4 582.1h0M136.0 574.9h0M154.3 577.4h0M153.9 570.6h0M152.2 568.1h0M147.0 589.6h0M147.0 574.1h0M143.4 559.1h0M153.7 561.4h0M133.1 564.4h0M154.1 556.5h0M148.9 574.3h0M149.6 581.9h0M146.4 576.7h0M137.1 564.4h0M137.9 563.5h0M137.5 577.7h0M137.6 565.0h0M139.1 571.4h0M153.5 585.5h0M138.8 587.8h0M151.2 569.2h0M138.7 587.3h0M142.5 584.8h0M152.8 574.3h0M153.1 559.6h0M145.8 576.4h0M141.6 561.0h0M142.9 593.4h0M133.6 578.2h0M136.5 557.7h0M148.2 562.7h0M143.6 591.3h0M141.9 593.6h0M139.3 571.3h0M154.3 559.0h0M151.3 572.8h0M147.5 574.3h0M136.7 576.3h0M133.8 561.4h0M132.3 575.0h0M150.4 568.3h0M148.7 581.1h0M150.3 565.4h0M151.1 568.4h0M144.3 588.3h0M136.6 558.1h0M153.5 568.0h0M151.4 581.5h0M150.7 590.9h0M149.1 569.5h0M134.4 568.6h0M139.4 588.8h0M144.8 559.9h0M145.0 590.3h0M153.8 567.9h0M152.0 561.1h0M143.3 582.4h0M138.8 587.7h0M141.2 582.3h0M148.5 573.0h0M144.4 564.3h0M153.6 573.8h0M151.1 566.4h0M142.2 572.7h0M142.3 557.8h0M138.5 579.8h0M138.6 567.7h0M148.1 553.7h0M150.2 594.0h0M135.3 560.4h0M149.1 578.0h0M149.3 579.2h0M147.0 564.7h0M146.9 563.1h0M146.3 580.6h0M149.0 576.5h0M146.5 562.9h0M148.2 585.1h0M147.1 557.8h0M145.0 572.2h0M147.3 556.0h0M142.7 562.7h0M136.2 562.6h0M137.5 565.2h0M136.2 563.9h0M145.2 562.8h0M152.9 567.0h0M138.7 576.4h0M140.4 559.0h0M150.4 591.5h0M151.8 569.4h0M149.8 558.3h0M140.3 565.0h0M153.5 561.9h0M139.6 590.9h0M136.3 587.8h0M148.3 563.2h0M134.5 562.6h0M138.8 566.1h0M140.7 561.1h0M141.2 568.6h0M139.4 564.0h0M142.4 578.1h0M148.8 569.5h0M145.6 569.7h0M134.8 576.0h0M134.1 569.4h0M149.1 581.1h0M139.6 571.5h0M133.5 579.1h0M136.4 572.5h0M154.2 581.0h0M150.4 568.9h0M135.2 566.2h0M145.4 585.3h0M140.6 577.6h0M139.6 592.4h0M141.2 558.7h0M153.0 572.2h0M139.5 567.9h0M152.8 582.7h0M140.8 597.8h0M143.2 579.4h0M143.8 590.4h0M141.1 591.2h0M147.6 562.3h0M153.9 556.3h0M153.1 586.2h0M152.1 590.9h0M138.9 587.2h0M140.3 592.5h0M137.1 591.9h0M137.0 579.9h0M142.9 559.0h0M135.2 563.5h0M146.6 587.5h0M136.1 582.1h0M137.7 577.3h0M136.0 562.5h0M140.9 589.1h0M134.9 586.9h0M153.0 571.6h0M149.4 582.5h0M140.8 591.4h0M136.2 589.1h0M139.5 575.1h0M134.7 565.1h0M147.6 589.6h0M152.5 570.5h0M138.8 563.4h0M148.9 561.4h0M135.3 562.1h0M131.7 575.2h0M144.3 556.8h0M149.9 584.7h0M134.5 574.3h0M137.6 573.0h0M155.3 556.9h0M132.2 572.5h0M152.4 568.6h0M149.7 573.9h0M143.1 575.4h0M148.8 587.6h0M135.8 592.4h0M142.8 586.0h0M134.8 573.9h0M150.6 588.8h0M138.3 565.0h0M149.9 584.5h0M146.4 583.9h0M151.2 589.3h0M154.0 559.9h0M144.6 595.0h0M138.2 558.1h0M148.1 579.5h0M143.4 584.3h0M137.0 566.0h0M140.0 567.8h0M148.6 585.0h0M141.3 576.8h0M135.2 573.8h0M149.5 554.9h0M151.5 554.8h0M151.3 592.5h0M144.5 591.3h0M138.2 594.9h0M139.5 585.6h0M153.0 594.7h0M135.2 564.3h0M145.0 577.3h0M145.4 588.6h0M138.0 557.2h0M140.6 570.2h0M148.7 584.4h0M133.0 573.4h0M142.5 565.4h0M145.1 560.5h0M150.3 559.1h0M147.1 580.3h0M148.9 589.6h0M141.5 593.1h0M132.0 582.0h0M132.3 569.9h0M146.2 578.3h0M151.8 579.4h0M138.6 557.8h0M145.2 561.5h0M148.5 566.7h0M137.0 560.0h0M138.9 569.1h0M152.5 556.3h0M139.8 582.6h0M139.4 562.7h0M133.5 572.3h0M136.4 590.3h0M143.5 571.0h0M151.6 569.2h0M149.4 584.6h0M150.1 573.3h0M153.1 567.9h0M146.7 564.1h0M147.3 583.8h0M140.5 567.2h0M154.2 567.5h0M138.7 572.0h0M150.6 564.0h0M138.0 591.0h0M143.2 592.7h0M150.9 570.7h0M149.3 583.5h0M147.3 561.8h0M143.9 572.0h0M144.4 580.5h0M141.2 558.8h0M140.5 563.6h0M134.8 584.7h0M149.7 565.8h0M140.1 557.7h0M153.7 558.7h0M145.3 589.1h0M143.3 578.2h0M150.1 564.5h0M150.0 559.5h0M143.1 571.9h0M133.2 564.8h0M149.6 572.9h0M139.5 591.0h0M153.9 574.9h0M138.5 590.5h0M152.9 570.4h0M151.8 566.5h0M145.7 593.6h0M153.0 580.1h0M147.4 586.2h0M142.4 576.4h0M145.5 565.2h0M140.5 560.0h0M138.1 559.2h0M145.6 590.4h0M153.7 585.7h0M154.5 579.1h0M151.4 593.0h0M135.9 569.2h0M137.1 583.0h0M137.2 583.2h0M146.2 578.1h0M153.3 574.8h0M153.0 575.3h0M142.3 583.3h0M133.7 583.7h0M139.4 588.8h0M141.6 579.8h0M154.8 585.5h0M136.7 561.1h0M154.4 582.2h0M135.7 582.7h0M137.3 567.2h0M152.8 588.5h0M133.0 565.3h0M135.8 574.8h0M149.7 580.0h0M137.4 577.3h0M145.1 577.4h0M140.6 580.5h0M138.5 581.2h0M146.1 581.0h0M151.4 587.6h0M149.4 573.9h0M148.5 580.6h0M138.7 569.0h0M141.8 560.7h0M135.6 586.1h0M149.9 569.1h0M145.8 590.0h0M152.8 556.2h0M133.2 567.1h0M154.3 558.6h0M153.0 558.9h0M142.5 578.2h0M150.9 561.7h0M142.9 574.5h0M146.8 580.4h0M147.4 581.7h0M147.2 586.6h0M140.7 592.8h0M142.5 595.7h0M134.8 574.5h0M150.2 577.5h0M140.0 579.7h0M138.1 584.0h0M139.3 595.9h0M133.9 587.2h0M147.1 584.9h0M139.6 572.1h0M149.7 570.6h0M140.0 580.2h0M145.2 567.3h0M150.5 559.9h0M149.6 571.4h0M134.6 569.1h0M146.8 559.9h0M147.8 595.1h0M147.3 560.2h0M144.6 591.1h0M137.1 572.6h0M134.9 567.4h0M142.9 571.7h0M154.0 588.0h0M148.1 578.0h0M133.3 582.5h0M143.7 575.8h0M134.2 570.7h0M138.2 574.3h0M148.5 584.3h0M134.3 574.0h0M143.2 566.3h0M135.2 569.5h0M140.9 576.5h0M144.6 556.3h0M142.6 562.2h0M133.3 573.6h0M145.2 562.9h0M139.5 593.7h0M134.2 569.3h0M147.9 595.0h0M138.3 576.5h0M151.3 578.6h0M147.8 569.9h0M136.5 572.3h0M138.7 592.3h0M145.1 572.9h0M150.3 577.1h0M140.1 573.7h0M133.4 573.7h0M137.5 571.1h0M154.4 581.8h0M148.3 565.3h0M137.0 569.7h0M144.0 590.6h0M150.4 585.7h0M148.9 555.4h0M142.2 595.8h0M137.5 583.9h0M142.5 582.0h0M141.6 562.9h0M137.8 593.8h0M141.1 574.2h0M138.8 585.1h0M134.1 584.2h0M137.7 565.0h0M140.8 591.6h0M149.2 588.4h0M148.6 561.1h0M151.1 582.3h0M136.9 570.1h0M141.8 589.0h0M152.9 576.6h0M151.8 565.9h0M149.3 585.8h0M134.8 568.9h0M143.8 566.6h0M136.6 570.7h0M144.1 573.9h0M144.3 580.3h0M143.6 574.8h0M150.3 570.4h0M139.2 569.4h0M154.2 578.6h0M142.6 576.8h0M138.0 569.5h0M146.7 588.2h0M149.4 573.0h0M147.0 566.4h0M153.5 566.8h0M132.9 573.1h0M150.3 577.7h0M137.0 559.8h0M140.4 586.7h0M142.6 560.1h0M142.6 592.2h0M153.2 575.7h0M149.0 587.3h0M147.6 562.1h0M144.2 569.4h0M142.7 567.2h0M149.8 590.9h0M140.7 563.7h0M145.6 575.0h0M154.2 571.3h0M139.9 596.0h0M132.2 581.9h0M144.2 570.8h0M136.7 569.4h0M145.9 572.6h0M147.4 574.6h0M143.5 566.7h0M146.6 592.5h0M152.9 562.2h0M142.9 590.0h0M146.9 583.5h0M141.2 570.9h0M138.8 562.8h0M134.1 562.2h0M139.6 580.9h0M139.4 568.6h0M134.7 588.6h0M133.0 567.6h0M139.9 589.8h0M135.9 576.6h0M135.0 570.4h0M153.7 561.1h0M140.6 581.5h0" stroke="#8f5546" stroke-width="1.05" stroke-linecap="round" stroke-opacity="0.9"/>
<path d="M85.8 536.3h0M93.3 524.6h0M77.9 533.7h0M102.4 541.1h0M74.2 535.1h0M89.2 557.9h0M93.3 540.4h0M89.5 534.9h0M98.6 543.6h0M96.4 538.9h0M90.7 547.4h0M128.1 564.2h0M90.3 560.6h0M123.0 566.7h0M115.3 553.3h0M93.9 539.0h0M119.3 561.3h0M80.2 528.4h0M83.3 531.3h0M78.4 548.6h0M86.0 535.6h0M80.5 541.2h0M113.9 555.3h0M95.9 548.4h0M77.7 528.0h0M88.7 547.2h0M92.9 542.5h0M97.2 528.7h0M133.6 572.1h0M94.7 558.0h0M80.7 550.6h0M92.8 549.8h0M108.1 553.1h0M105.3 519.7h0M116.2 553.5h0M77.5 535.6h0M115.8 555.9h0M83.4 548.7h0M103.1 534.2h0M78.9 527.6h0M95.0 541.1h0M85.2 551.8h0M107.9 551.0h0M128.5 568.7h0M108.1 521.6h0M122.2 563.9h0M92.0 555.8h0M101.8 553.6h0M123.0 565.8h0M94.5 534.5h0M112.6 555.8h0M92.4 556.5h0M131.8 571.4h0M82.0 545.4h0M124.6 567.7h0M115.5 547.3h0M110.0 553.8h0M99.3 540.6h0M83.6 545.2h0M98.6 550.3h0M81.6 545.1h0M83.7 532.7h0M105.2 553.5h0M103.3 540.9h0M75.4 533.4h0M94.0 555.4h0M77.1 541.0h0M93.5 554.5h0M128.9 570.2h0M98.8 551.0h0M82.4 551.8h0M77.8 539.3h0M91.7 553.4h0M128.9 569.7h0M96.5 554.8h0M81.9 529.0h0M82.4 546.9h0M91.6 535.0h0M80.2 528.1h0M118.8 558.4h0M86.2 536.0h0M94.8 542.0h0M91.6 540.8h0M92.1 549.2h0M86.5 540.6h0M86.5 544.9h0M75.4 529.2h0M108.8 552.8h0M110.5 554.5h0M117.6 560.4h0M77.9 533.5h0M105.8 553.1h0M124.9 567.2h0M81.0 545.9h0M114.5 552.7h0M112.5 554.5h0M121.5 560.3h0M90.9 558.7h0M118.2 557.9h0M82.2 535.9h0M118.5 559.4h0M130.3 571.9h0M81.9 531.5h0M104.8 545.0h0M83.8 548.7h0M102.2 543.2h0M104.0 548.8h0M92.3 553.4h0M96.7 549.4h0M106.1 545.3h0M110.4 518.6h0M86.4 546.2h0M93.3 556.2h0M81.4 551.5h0M115.9 563.2h0M103.5 547.9h0M126.2 566.2h0M129.5 567.3h0M79.2 531.3h0M80.7 549.4h0M109.8 545.1h0M111.1 553.5h0M100.4 548.8h0M96.3 539.6h0M79.7 534.9h0M110.3 554.5h0M85.7 548.9h0M95.1 532.4h0M90.1 549.0h0M90.4 560.7h0M86.4 550.7h0M87.2 537.4h0M113.2 536.2h0M81.4 530.6h0M99.0 540.0h0M79.7 535.0h0M118.3 563.7h0M107.1 547.0h0M91.6 554.3h0M99.1 550.9h0M87.1 559.6h0M80.1 538.4h0M102.5 543.8h0M88.6 534.1h0M108.3 552.3h0M94.0 556.4h0M94.8 553.3h0M99.9 544.6h0M86.3 532.0h0M89.5 554.0h0M89.9 539.8h0M85.5 546.3h0M126.0 566.8h0M88.9 524.2h0M93.2 556.2h0M112.5 521.6h0M103.4 532.0h0M81.4 548.8h0M84.2 553.9h0M83.0 545.2h0M93.8 536.7h0M94.9 549.7h0M133.2 573.9h0M82.6 543.3h0M85.6 538.9h0M94.9 549.9h0M117.9 546.8h0M124.3 565.2h0M96.7 533.9h0M90.7 559.1h0M86.9 549.9h0M85.4 543.3h0M92.7 537.6h0M89.1 551.5h0M92.8 557.1h0M89.6 534.5h0M95.6 545.3h0M92.4 557.7h0M84.0 536.7h0M85.2 546.8h0M116.9 557.7h0M89.0 554.1h0M84.5 547.0h0M91.5 541.7h0M129.7 575.8h0M89.9 557.8h0M97.6 542.5h0M126.3 567.2h0M124.3 565.4h0M91.8 541.1h0M80.8 541.3h0M86.4 551.1h0M91.0 559.1h0M101.7 525.8h0M115.8 524.5h0M83.8 533.0h0M97.9 547.8h0M84.3 532.6h0M106.1 550.1h0M101.6 539.9h0M78.2 530.6h0M82.5 544.2h0M88.1 543.8h0M86.4 534.9h0M86.8 533.8h0M93.7 549.0h0M126.6 569.3h0M77.2 537.4h0M98.2 525.9h0M77.2 538.3h0M99.9 547.6h0M86.9 556.8h0M86.2 552.0h0M83.9 531.9h0M79.5 543.2h0M112.0 554.5h0M81.9 543.1h0M96.6 554.3h0M79.7 530.1h0M93.4 558.9h0M126.9 563.6h0M129.9 567.6h0M134.8 571.1h0M115.4 558.0h0M97.1 531.0h0M101.0 551.1h0M97.3 551.2h0M95.2 537.5h0M84.0 535.9h0M111.0 554.9h0M98.7 536.9h0M82.6 541.1h0M105.8 552.6h0M80.0 532.4h0M92.4 538.8h0M89.2 546.6h0M117.6 537.3h0M78.5 530.0h0M85.9 550.1h0M129.2 567.3h0M103.5 540.4h0M88.4 542.2h0M95.4 537.1h0M101.3 524.2h0M77.2 534.1h0M89.4 562.9h0M101.7 547.5h0M88.9 552.0h0M124.5 567.7h0M118.9 558.0h0M76.6 535.4h0M88.1 553.7h0M98.3 542.1h0M84.4 541.8h0M79.5 535.5h0M125.1 565.0h0M78.7 534.2h0M89.9 539.3h0M99.6 537.4h0M100.2 537.2h0M87.6 561.1h0M80.6 549.6h0M109.1 551.4h0M114.1 521.0h0M111.4 550.3h0M95.7 537.4h0M99.2 538.4h0M99.1 528.1h0M106.9 519.8h0M84.8 545.0h0M119.4 562.5h0M108.4 548.1h0M92.0 543.2h0M80.6 534.5h0M100.2 548.2h0M112.8 532.9h0M84.9 531.9h0M95.8 552.3h0M101.2 550.6h0M93.9 547.0h0M129.5 571.7h0M94.4 545.7h0M86.6 551.4h0M113.7 554.5h0M102.9 546.7h0M94.7 537.6h0M124.6 564.3h0M96.8 537.0h0M125.2 564.9h0M92.2 544.7h0M128.7 571.6h0M113.8 556.1h0M107.8 552.5h0M80.1 544.5h0M106.6 546.7h0M80.1 540.4h0M84.8 546.6h0M131.8 569.9h0M79.5 535.7h0M100.4 542.8h0M80.6 533.2h0M105.0 542.8h0M81.9 536.6h0M95.6 534.9h0M118.3 549.4h0M90.3 536.2h0M102.5 541.2h0M121.2 531.8h0M110.3 556.3h0M96.0 550.3h0M98.4 546.0h0M89.7 550.8h0M100.3 545.5h0M79.0 532.9h0M129.3 569.6h0M90.0 551.6h0M82.4 545.1h0M112.3 557.4h0M73.6 530.5h0M100.1 549.8h0M82.3 546.5h0M111.4 554.4h0M121.1 566.5h0M104.4 552.1h0M77.1 531.2h0M97.1 553.9h0M90.0 560.4h0M81.1 530.3h0M87.6 535.4h0M84.8 551.9h0M86.6 536.6h0M85.1 547.4h0M110.1 552.2h0M112.9 556.3h0M84.0 531.2h0M85.9 537.0h0M92.3 542.1h0M94.0 546.9h0M105.3 549.5h0M90.4 546.1h0M84.1 551.0h0M128.9 570.4h0M130.2 576.9h0M90.3 532.7h0M92.7 545.7h0M103.9 534.5h0M90.1 552.7h0M78.8 535.1h0M80.2 534.5h0M74.7 530.2h0M108.1 554.1h0M81.1 537.4h0M127.3 571.9h0M80.5 546.3h0M114.2 522.8h0M94.4 549.6h0M81.8 541.8h0M83.4 547.9h0M115.4 536.7h0M94.2 542.1h0M127.5 565.9h0M131.2 573.8h0M94.0 550.0h0M77.9 544.3h0M97.5 542.6h0M81.4 552.0h0M99.4 545.1h0M86.2 534.2h0M86.1 532.4h0M111.7 556.0h0M90.3 542.4h0M94.0 545.2h0M93.6 552.9h0M93.7 549.7h0M103.6 549.4h0M91.1 543.3h0M106.1 546.7h0M112.4 557.6h0M94.7 546.6h0M105.1 552.7h0M122.5 564.1h0M86.2 545.4h0M78.1 543.2h0M79.1 539.8h0M97.8 551.7h0M116.9 558.3h0M98.8 547.2h0M121.0 564.9h0M100.2 547.8h0M119.9 560.1h0M111.5 553.6h0M94.7 542.6h0M83.2 542.4h0M80.5 536.7h0M91.8 561.1h0M105.2 545.3h0M80.8 535.9h0M127.8 567.2h0M99.7 541.3h0M89.8 543.0h0M109.0 557.4h0M130.3 567.4h0M111.6 554.5h0M94.4 546.9h0M82.2 553.0h0M87.0 535.7h0M109.9 547.0h0M90.3 537.0h0M96.3 553.2h0M79.1 545.6h0M98.7 536.1h0M76.5 548.9h0M96.1 533.6h0M120.6 564.5h0M118.5 560.2h0M108.3 553.8h0M93.5 537.3h0M79.0 541.4h0M102.6 526.4h0M96.4 551.1h0M97.5 542.0h0M100.0 545.6h0M80.3 531.6h0M94.9 544.4h0M98.6 552.8h0M82.4 535.2h0M76.4 536.3h0M117.1 528.8h0M81.6 533.3h0M123.1 565.3h0M85.2 551.6h0M105.9 550.0h0M80.1 534.9h0M101.6 549.4h0M105.2 545.4h0M125.0 566.5h0M92.1 535.1h0M97.0 546.0h0M88.7 553.3h0M91.1 547.7h0M79.4 536.6h0M121.4 561.5h0M115.2 557.7h0M92.2 544.2h0M87.8 548.1h0M88.0 556.3h0M123.3 521.0h0M91.5 557.3h0M102.3 523.4h0M102.6 542.7h0M76.6 533.0h0M89.9 546.3h0M88.5 544.2h0M123.7 563.5h0M106.1 552.9h0M101.5 545.0h0M98.5 542.0h0M97.6 548.1h0M83.2 532.5h0M80.9 547.5h0M94.2 552.5h0M121.9 565.7h0M91.6 551.1h0M90.9 535.7h0M84.1 544.9h0M116.7 558.6h0M94.1 548.5h0M82.5 544.7h0M129.9 571.1h0M90.4 557.7h0M98.6 536.3h0M108.6 550.3h0M79.6 537.1h0M77.9 531.7h0M96.1 536.8h0M95.1 541.1h0M74.5 532.7h0M99.9 551.4h0M118.6 560.2h0M82.7 537.5h0M76.7 530.1h0M92.8 556.7h0M103.0 546.4h0M76.8 528.5h0M99.0 530.6h0M76.2 533.1h0M97.9 538.5h0M93.6 560.1h0M93.2 524.3h0M94.4 537.9h0M81.1 549.3h0M92.3 538.0h0M111.4 554.7h0M129.7 569.6h0M91.1 544.1h0M87.6 539.5h0M105.7 550.1h0M92.5 536.7h0M125.8 567.5h0M99.4 539.4h0M99.4 540.8h0M108.1 543.8h0M123.3 561.2h0M111.7 523.4h0M84.0 543.1h0M86.3 545.7h0M119.2 563.2h0M80.8 544.2h0M79.2 534.4h0M74.5 537.3h0M120.2 547.7h0M94.9 541.0h0M130.4 570.2h0M125.7 566.6h0M111.5 554.6h0M89.4 556.6h0M90.2 553.2h0M128.1 571.2h0M90.8 543.3h0M99.4 522.4h0M91.8 542.4h0M79.6 545.2h0M83.6 547.8h0M77.6 532.5h0M126.4 569.7h0M122.2 536.0h0M120.1 547.7h0M93.0 538.5h0M108.0 552.0h0M91.2 540.6h0M94.8 557.1h0M98.4 539.0h0M97.8 540.0h0M94.6 535.7h0M76.8 540.7h0M76.1 529.6h0M80.6 542.2h0M86.0 534.5h0M90.9 546.6h0M105.5 544.3h0M87.7 533.7h0M101.5 542.2h0M81.3 530.0h0M83.0 542.2h0M87.8 541.6h0" stroke="#a07ac6" stroke-width="1.05" stroke-linecap="round" stroke-opacity="0.9"/>
<path d="M50.8 539.5h0M68.6 532.3h0M53.5 529.8h0M55.3 528.6h0M75.4 545.0h0M59.1 527.7h0M53.5 531.4h0M67.5 539.9h0M71.1 537.7h0M67.4 547.1h0M73.3 552.3h0M67.8 548.7h0M72.0 551.8h0M52.7 529.1h0M67.8 540.0h0M63.6 524.6h0M64.6 549.3h0M67.5 547.4h0M69.4 541.9h0M50.7 541.1h0M73.9 539.3h0M56.6 524.5h0M61.3 545.5h0M59.5 548.6h0M59.1 548.1h0M66.9 550.1h0M73.6 548.3h0M53.7 541.7h0M70.7 532.0h0M68.1 532.7h0M69.9 530.5h0M72.1 539.8h0M75.4 545.1h0M68.5 525.8h0M68.7 543.2h0M69.3 528.2h0M63.7 551.1h0M70.8 547.1h0M61.3 545.2h0M67.8 529.2h0M71.1 543.1h0M65.7 531.5h0M62.7 531.0h0M57.3 532.2h0M62.0 527.4h0M69.1 537.1h0M51.7 537.8h0M71.5 555.3h0M64.4 547.5h0M75.3 548.0h0M71.2 555.8h0M68.0 537.0h0M62.8 533.7h0M66.5 534.4h0M69.4 528.0h0M60.8 525.2h0M67.1 552.4h0M63.9 523.6h0M70.3 543.8h0M59.6 545.5h0M56.6 537.4h0M63.9 528.9h0M66.6 542.0h0M69.7 547.0h0M73.9 560.3h0M63.2 542.6h0M73.6 559.2h0M60.5 544.1h0M61.0 539.1h0M57.8 530.2h0M67.1 553.6h0M59.2 534.1h0M59.2 546.5h0M69.5 545.9h0M66.1 552.4h0M71.8 543.7h0M76.5 548.0h0M64.3 545.3h0M69.7 534.8h0M73.2 542.8h0M56.5 525.0h0M69.8 547.2h0M70.4 544.3h0M63.8 533.9h0M54.5 541.7h0M53.3 541.7h0M55.8 530.5h0M53.1 535.5h0M68.4 550.2h0M70.9 530.7h0M63.1 551.1h0M76.6 553.6h0M60.4 537.8h0M51.4 532.8h0M66.8 552.9h0M53.9 539.7h0M74.5 554.9h0M68.0 529.5h0M60.0 544.5h0M55.4 532.3h0M71.2 550.1h0M70.5 541.1h0M71.6 544.7h0M52.3 532.3h0M65.0 541.8h0M51.1 539.3h0M58.8 538.2h0M64.8 547.0h0M68.3 528.8h0M74.2 535.8h0M74.0 542.3h0M71.3 543.2h0M74.1 539.0h0M51.0 533.2h0M75.0 548.8h0M66.3 545.8h0M61.0 540.4h0M64.8 549.9h0M72.0 532.5h0M60.1 526.0h0M67.7 531.5h0M74.1 544.4h0M68.1 525.7h0M55.0 530.0h0M70.3 547.3h0M51.7 542.0h0M55.3 535.9h0M62.6 542.5h0M53.5 534.8h0M55.4 531.8h0M69.6 548.8h0M72.5 536.3h0M69.6 543.0h0M58.1 539.4h0M67.5 527.3h0M55.1 520.2h0M52.8 533.0h0M68.8 536.2h0M64.1 537.7h0M52.5 542.3h0M60.4 544.7h0M66.0 540.4h0M64.4 536.5h0M57.1 546.5h0M68.1 546.8h0M67.1 526.6h0M58.8 541.6h0M71.5 545.8h0M54.3 527.4h0M69.1 555.3h0M64.0 528.4h0M69.0 555.7h0M72.3 547.2h0M66.9 527.2h0M57.6 530.0h0M68.2 526.7h0M57.8 543.7h0M69.5 542.0h0M69.6 541.0h0M59.6 545.3h0M71.3 533.6h0M65.7 551.4h0M57.2 541.4h0M55.8 538.7h0M55.5 537.1h0M63.8 543.1h0M68.5 537.6h0M67.2 528.1h0M58.4 532.2h0M63.8 527.9h0M53.4 534.1h0M64.6 531.3h0M64.3 535.9h0M69.6 539.4h0M68.5 550.8h0M61.0 524.6h0M62.9 547.8h0M58.6 542.0h0M53.2 526.7h0M61.3 542.3h0M61.6 548.8h0M63.8 529.3h0M71.0 544.1h0M68.9 542.3h0M70.1 527.9h0M50.7 534.8h0M60.3 539.8h0M61.5 541.4h0M60.2 526.2h0M68.6 536.0h0M75.8 544.1h0M66.9 526.9h0M52.5 530.9h0M68.2 546.3h0M62.3 526.4h0M71.4 557.5h0M60.2 541.9h0M74.6 553.6h0M74.1 557.9h0M67.0 553.2h0M61.0 533.7h0M73.1 546.1h0M52.4 532.4h0M65.1 546.0h0M74.0 557.2h0M54.5 532.0h0M73.6 555.8h0M64.1 539.8h0M70.5 549.5h0M64.6 546.9h0M50.1 538.7h0M56.3 525.0h0M71.4 539.8h0M71.1 536.0h0M67.0 542.2h0M75.8 551.9h0M74.3 552.6h0M70.4 543.8h0M70.2 529.5h0M74.9 554.3h0M74.0 553.6h0M50.2 536.6h0M52.6 533.0h0M67.1 548.2h0M52.3 535.8h0M61.6 545.4h0M60.0 544.0h0M60.8 528.0h0M69.3 551.9h0M59.0 548.3h0M61.9 542.3h0M75.0 549.3h0M60.2 526.1h0M66.0 542.1h0M70.8 543.1h0M61.0 534.7h0M66.0 542.7h0M67.6 543.1h0M68.9 544.3h0M65.8 546.3h0M55.7 541.2h0M74.3 559.6h0M64.0 548.4h0M69.1 542.3h0M65.1 536.3h0M68.5 533.3h0M70.2 543.8h0M55.0 530.1h0M50.2 539.0h0M57.3 529.4h0M74.6 546.2h0M56.3 542.6h0M65.6 544.6h0M70.4 537.1h0M68.7 550.5h0M50.5 541.5h0M51.1 539.4h0M59.1 547.9h0M72.8 538.8h0M58.7 539.5h0M70.1 539.6h0M63.9 536.4h0M60.1 532.4h0M67.2 529.9h0M61.3 545.5h0M58.7 533.1h0M63.1 531.2h0M62.5 523.5h0M52.9 534.9h0M67.0 551.6h0M64.2 543.9h0M55.7 541.2h0M76.3 552.1h0M67.4 545.3h0M51.8 531.2h0M73.5 543.4h0M64.0 529.6h0M51.1 541.8h0M62.4 536.3h0M71.5 532.1h0M71.0 546.6h0M58.3 542.2h0M72.4 540.8h0M59.9 537.7h0M65.2 549.9h0M55.6 525.2h0M68.6 532.4h0M61.9 523.6h0M62.1 534.5h0M70.2 536.9h0M54.4 532.2h0M59.4 544.7h0M64.9 545.5h0M54.3 528.8h0M64.7 551.0h0M59.2 530.9h0M73.6 556.1h0M56.8 534.9h0M55.1 541.1h0M66.1 537.5h0M67.5 538.1h0M73.9 548.9h0M56.9 534.4h0M64.4 524.6h0M55.0 526.9h0M56.7 538.2h0M54.7 534.9h0M74.7 554.0h0M63.8 531.3h0M55.2 525.1h0M67.2 544.6h0M65.8 538.1h0M70.3 537.8h0M72.1 543.0h0M72.1 536.8h0M63.6 544.6h0M53.4 541.2h0M72.2 538.5h0M70.0 545.9h0M58.5 541.7h0M68.0 536.4h0M71.0 554.9h0M62.3 535.1h0M74.4 555.3h0M62.4 525.7h0M56.7 538.5h0M58.5 541.4h0M50.2 538.8h0M69.7 532.7h0M53.5 544.5h0M54.2 535.3h0M61.5 525.9h0M68.7 546.8h0M57.2 537.1h0M75.8 558.5h0M56.6 541.2h0M72.5 547.0h0M68.9 539.7h0M72.9 537.9h0M68.4 545.3h0M73.2 548.4h0M68.6 541.7h0M57.1 524.1h0M69.5 552.0h0M70.5 528.7h0M63.4 547.9h0M59.8 540.8h0M74.1 534.6h0M72.8 534.8h0M65.0 528.2h0M57.0 539.4h0M69.3 551.9h0M57.6 533.5h0M69.9 538.3h0M63.6 536.8h0M68.3 555.1h0M61.4 529.3h0M71.2 533.8h0M64.9 548.2h0M64.5 524.9h0M69.9 539.6h0M71.0 543.9h0M71.7 543.3h0M66.6 525.3h0M68.3 554.7h0M65.6 546.0h0M73.6 542.2h0M70.3 530.3h0M64.2 542.2h0M67.8 538.1h0M54.8 537.1h0M54.9 541.6h0M72.0 543.6h0M74.2 548.2h0M70.6 546.1h0M70.1 557.0h0M63.2 532.3h0M69.9 530.6h0M70.9 539.1h0M70.2 533.8h0M55.6 526.2h0M59.0 524.9h0M62.2 538.2h0M53.9 540.2h0M68.6 528.5h0M66.8 534.3h0M56.1 537.2h0M56.3 529.7h0M51.4 536.0h0M56.0 538.6h0M55.5 527.7h0M59.1 549.5h0M69.1 541.6h0M74.9 556.1h0M76.7 546.0h0M75.4 548.9h0M59.3 545.8h0M58.0 530.5h0M75.9 558.6h0M56.4 538.6h0M71.9 538.3h0M61.8 548.1h0M61.0 545.7h0M55.7 526.9h0M56.7 530.1h0M62.9 527.3h0M52.7 535.4h0M54.7 533.3h0M61.2 539.9h0M49.7 540.3h0M70.5 542.8h0M64.2 527.6h0M71.0 547.5h0M61.6 528.2h0M69.9 554.0h0M58.7 547.1h0M56.4 532.4h0M60.6 531.6h0M63.7 537.8h0M69.3 530.7h0M69.1 550.6h0M60.7 528.8h0M71.9 538.5h0M60.9 533.5h0M71.0 557.4h0M70.1 557.2h0M72.3 536.9h0M58.5 529.1h0M55.4 533.0h0M52.8 532.7h0M64.6 531.4h0M56.6 524.3h0M57.6 542.9h0M62.5 525.9h0M66.1 536.4h0M67.6 543.4h0M68.9 555.0h0M56.9 543.0h0M67.6 554.2h0M66.5 549.9h0M67.5 535.8h0M54.8 533.5h0M74.3 549.5h0M50.0 538.8h0M70.1 541.9h0M76.0 546.8h0M69.3 536.3h0M67.6 526.0h0M74.0 557.0h0M75.9 546.4h0M69.1 540.6h0M63.1 524.5h0M53.2 524.9h0M71.2 548.3h0M64.2 534.1h0M61.6 535.4h0M59.1 524.0h0M73.9 541.8h0M53.4 536.7h0M58.3 532.3h0M67.4 554.1h0M74.4 555.5h0M70.1 557.1h0M70.4 542.2h0M61.7 530.0h0M72.9 534.7h0M72.7 554.3h0M61.9 543.5h0M70.2 545.9h0M58.5 522.8h0M56.7 543.9h0M70.2 541.7h0M68.9 534.9h0M56.4 543.6h0M75.8 551.0h0M62.7 534.4h0M59.4 536.9h0M62.6 537.4h0M57.2 529.4h0M54.1 535.9h0M59.8 546.4h0M68.1 549.6h0M65.5 533.0h0M66.6 529.5h0M59.3 529.0h0M59.9 528.5h0M70.1 537.0h0M71.9 540.9h0M50.7 532.4h0M65.4 525.0h0M64.2 530.5h0M65.4 552.0h0M69.5 531.8h0M73.9 553.6h0M73.2 556.9h0M63.9 536.0h0M68.1 543.0h0M65.4 541.5h0M70.0 528.0h0M59.9 533.0h0M56.5 544.5h0M50.4 538.5h0M54.8 530.5h0M60.3 535.2h0M59.1 535.5h0M56.6 532.5h0M73.5 545.4h0M72.7 548.0h0M61.4 545.9h0M55.3 533.8h0M57.5 538.5h0M65.1 547.9h0M72.2 535.6h0M52.6 531.6h0M65.0 551.4h0M65.0 534.8h0M64.4 539.8h0M62.9 525.3h0M69.6 554.6h0M50.7 535.9h0M51.6 529.7h0M59.5 542.3h0M59.8 547.3h0M65.3 531.6h0M61.8 529.5h0M74.3 550.2h0M68.5 552.4h0M72.6 535.2h0M60.9 535.5h0M66.8 543.3h0M62.6 539.4h0M58.1 543.1h0M54.1 538.2h0M55.3 540.7h0M59.8 542.7h0M56.7 547.0h0M51.2 532.2h0M67.7 544.1h0M58.8 527.5h0M65.8 538.1h0M54.3 529.2h0M74.8 544.4h0M67.3 537.7h0M57.7 539.5h0M68.6 534.0h0M67.6 540.3h0M71.5 533.5h0M62.1 527.5h0M57.8 526.5h0M74.2 557.1h0M58.7 523.5h0M56.4 534.0h0M65.8 527.9h0M52.7 544.4h0M69.1 557.3h0M65.5 532.7h0M74.4 550.7h0M62.4 529.1h0M68.1 540.2h0M57.6 528.9h0M72.5 549.1h0M68.7 545.7h0M54.1 532.7h0M69.1 536.5h0M70.4 546.9h0M71.0 541.8h0M75.9 551.0h0M54.5 536.9h0M60.4 539.4h0M66.8 534.3h0M75.0 553.1h0M63.5 525.7h0M72.0 534.6h0M67.2 531.4h0M60.8 528.8h0M60.2 528.0h0M69.4 531.1h0M58.6 522.0h0M56.9 536.3h0M58.9 544.1h0M62.2 528.1h0M53.2 531.3h0M57.2 536.6h0M74.0 558.2h0M75.5 558.4h0M66.3 525.6h0M67.7 527.7h0M58.9 527.1h0M57.4 545.9h0M57.5 525.9h0M69.0 552.0h0M55.3 529.2h0M65.2 540.4h0M61.5 540.4h0M56.9 544.5h0M61.5 548.1h0M56.2 537.1h0M62.7 536.3h0M63.9 541.0h0M76.2 538.7h0M71.2 532.2h0M76.5 551.4h0M69.7 553.5h0M76.8 556.8h0M69.4 542.2h0M70.4 537.6h0M76.8 545.0h0M74.4 540.4h0M74.5 541.2h0M74.4 543.8h0M63.7 525.2h0M60.9 538.0h0M65.6 524.7h0M55.5 531.2h0M48.6 541.0h0M56.8 538.0h0M69.5 547.4h0M58.3 525.8h0M67.0 525.5h0M53.4 537.1h0M77.0 554.9h0M59.7 545.9h0M76.4 553.5h0M61.0 533.6h0M62.8 547.6h0M62.6 540.8h0M66.3 526.7h0M66.3 525.4h0M60.3 548.5h0M58.4 544.2h0M61.6 547.3h0M52.5 536.5h0M69.7 547.5h0M71.3 541.4h0M69.1 528.5h0M67.3 539.6h0M56.7 543.6h0M72.0 558.4h0M64.9 525.7h0M62.0 528.9h0M60.0 546.0h0M64.7 540.3h0M64.7 539.8h0M66.7 529.3h0M65.6 525.4h0M69.9 531.7h0M64.7 534.2h0M56.9 525.8h0M53.7 533.3h0M63.8 544.8h0M71.5 531.7h0M57.6 526.8h0M69.2 555.9h0M66.7 537.3h0M71.6 540.0h0M55.6 539.9h0M69.2 556.7h0M52.2 530.8h0M72.5 542.0h0M51.4 537.9h0M66.7 524.0h0M72.0 552.0h0M58.8 536.3h0M70.1 545.5h0M73.2 543.4h0M73.7 553.7h0M69.3 549.3h0M69.9 548.2h0M52.3 538.7h0M55.7 545.4h0M52.1 537.5h0M65.4 545.3h0M69.6 528.7h0M56.4 546.2h0M72.7 548.2h0M69.4 553.0h0M73.0 549.2h0M56.0 541.4h0M72.3 554.8h0M74.7 549.6h0M66.5 539.5h0M52.9 541.6h0M65.6 527.3h0M69.6 551.5h0M59.3 548.5h0M66.0 548.2h0M71.2 553.5h0M50.7 535.2h0M61.9 533.9h0M66.9 525.7h0M75.2 549.8h0M61.5 543.6h0M65.5 531.5h0M71.6 540.5h0M62.6 545.2h0M65.3 549.6h0M60.1 536.3h0M72.5 553.6h0M72.1 548.4h0M66.8 538.3h0M66.8 539.4h0M57.1 540.6h0M73.9 540.2h0M72.5 546.8h0M68.5 523.6h0M63.0 522.5h0M59.0 525.1h0M71.7 552.3h0M62.9 543.0h0M52.1 533.3h0M69.3 534.0h0M75.8 549.7h0M55.3 526.0h0M56.1 539.5h0M67.2 524.9h0M67.5 535.9h0M66.5 544.5h0M65.7 546.3h0M74.0 541.4h0M66.0 543.2h0M69.4 537.6h0M55.9 531.6h0M59.6 545.8h0M53.1 522.2h0M74.8 544.8h0M70.0 540.4h0M69.9 549.3h0M58.0 540.7h0M63.7 542.7h0M64.1 544.1h0M58.7 543.1h0M56.9 536.9h0M66.8 542.4h0M63.2 551.0h0M64.0 545.5h0M63.6 550.9h0M69.0 537.4h0M73.4 548.7h0M59.0 522.4h0M54.7 534.1h0M58.8 543.9h0M75.8 548.1h0M74.2 556.1h0M75.3 552.9h0M67.6 555.4h0M68.5 527.9h0M68.9 540.1h0M68.4 537.4h0M75.5 557.6h0M59.8 540.1h0M74.7 557.5h0M72.1 553.5h0M67.4 545.7h0M71.8 553.0h0M69.9 527.9h0M67.0 549.0h0M65.0 547.1h0M72.8 537.4h0M52.9 541.7h0M68.6 530.5h0M57.8 545.3h0M65.3 547.3h0M63.5 526.6h0M67.1 528.9h0M56.6 528.4h0M70.4 540.5h0M57.0 543.1h0M67.3 533.4h0M75.3 548.6h0M74.5 537.5h0M62.3 543.2h0M65.0 533.9h0M62.0 546.2h0M60.2 540.8h0M53.9 538.6h0M60.5 529.8h0M68.9 540.9h0M59.2 523.4h0M68.9 535.3h0M69.8 551.8h0M73.6 551.8h0M64.5 536.7h0M72.2 528.9h0M64.3 540.6h0M57.1 543.0h0M61.3 536.7h0M68.4 533.8h0M56.4 540.4h0M56.8 531.0h0M56.6 537.4h0M69.6 533.7h0M56.4 540.6h0M67.3 547.1h0M55.2 535.6h0M57.6 530.5h0M74.9 558.9h0M64.7 532.8h0M71.3 555.9h0M61.8 538.0h0M77.1 551.9h0M59.8 531.4h0M63.7 532.5h0M63.0 543.6h0M64.1 550.5h0M55.5 544.6h0M60.5 548.0h0M55.0 528.2h0M61.8 547.5h0M58.7 532.0h0M59.7 537.1h0M58.3 538.7h0M69.2 545.2h0M58.4 545.3h0M65.3 535.4h0M71.4 555.0h0M67.4 533.7h0M65.6 539.9h0M72.4 559.1h0M58.5 532.3h0M65.2 529.8h0M57.5 528.6h0M53.4 540.5h0M62.7 538.3h0M72.6 541.5h0M61.1 547.2h0M72.9 556.4h0M65.7 526.8h0M75.5 549.2h0M77.5 553.7h0M73.2 546.4h0M68.6 526.7h0M59.5 530.7h0M68.3 545.7h0M70.0 545.2h0M54.3 536.1h0M72.5 550.5h0M72.5 542.7h0M71.1 540.9h0M61.3 527.9h0M63.1 550.4h0M73.9 538.1h0M60.9 530.6h0M59.8 523.1h0M68.8 534.8h0M70.1 547.2h0M68.5 536.5h0M61.9 522.8h0M52.1 540.1h0M70.4 538.9h0M57.9 540.3h0M65.8 548.5h0M64.7 538.8h0M51.5 539.7h0M56.7 545.9h0M60.2 530.9h0M58.1 539.9h0M68.5 529.1h0M64.7 549.2h0M67.0 537.4h0M67.8 527.0h0" stroke="#34993f" stroke-width="1.05" stroke-linecap="round" stroke-opacity="0.9"/>
<circle cx="15.4" cy="622" r="2.1" fill="#2268b2" stroke="none" stroke-width="0.6"/>
<circle cx="105.8" cy="622" r="2.1" fill="#a07ac6" stroke="none" stroke-width="0.6"/>
<circle cx="15.4" cy="632.9" r="2.1" fill="#34993f" stroke="none" stroke-width="0.6"/>
<circle cx="105.8" cy="632.9" r="2.1" fill="#8f5546" stroke="none" stroke-width="0.6"/>
<text x="21.2" y="624.8" font-size="7.6">Activated CD4<tspan font-size="4.8" dy="-2.8">+</tspan><tspan dy="2.8"> T cells</tspan></text>
<text x="111.5" y="624.8" font-size="7.6">FoxP3<tspan font-size="4.8" dy="-2.8">+</tspan><tspan dy="2.8"> CD4<tspan font-size="4.8" dy="-2.8">+</tspan><tspan dy="2.8"> T cells</tspan></tspan></text>
<text x="21.2" y="635.7" font-size="7.6">Cytotoxic CD4<tspan font-size="4.8" dy="-2.8">+</tspan><tspan dy="2.8"> T cells</tspan></text>
<text x="111.5" y="635.7" font-size="7.6">Naive-like CD4<tspan font-size="4.8" dy="-2.8">+</tspan><tspan dy="2.8"> T cells</tspan></text>
<text x="192.2" y="499.4" font-size="10.1" font-weight="bold" style="stroke-width:0.35px">F</text>
<rect x="203.8" y="508.5" width="125.4" height="92.8" fill="none" stroke="#a7a9ac" stroke-width="0.9"/>
<text x="266.8" y="503.5" font-size="8.7" text-anchor="middle">IFN<tspan font-size="7.4" dy="0.9">&#947;</tspan></text>
<text transform="translate(202.4 555.5) rotate(-90)" font-size="8.7" text-anchor="middle">UMAP2</text>
<text x="266.1" y="611.3" font-size="8.7" text-anchor="middle">UMAP1</text>
<polygon points="215.7,540.4 212.2,544 210.4,550 210.2,557 212.2,564 216.2,569 222.2,572 229.2,572.5 234.2,570 237.9,567.9 241.2,570.5 246.2,572.6 251.2,570 253.2,565 253.2,558 250.2,553 245.2,550 242.2,548.5 239.8,543.5 233.8,540.5 223.8,538.5" fill="#e9a06a" fill-opacity="0.4" filter="url(#soft)"/>
<polygon points="224.2,522.4 230.2,523 235.8,526.6 240.2,536 243.2,549.9 242.7,558 241.1,561.5 228.2,551 215.7,540.4 216.2,532 218.7,526" fill="#e9a06a" fill-opacity="0.4" filter="url(#soft)"/>
<polygon points="240.7,529 246.2,528 254.2,533 261.2,534 266.2,537 272.2,544 276.2,550 274.2,554 266.2,552 261.2,556 258.2,563 255.2,562 253.2,556 248.2,553 244.2,548 241.2,540" fill="#e0a37a" fill-opacity="0.18" filter="url(#soft)"/>
<polygon points="301.8,557.5 308.2,556 314.2,555 319.7,555 320.7,560 320.7,575 320.2,588 317.2,594 311.2,597 304.7,596 301.2,590 298.7,582 297.2,575 298.2,566 300.2,561" fill="#2468a8" fill-opacity="0.5" filter="url(#soft)"/>
<path d="M234.8 532.3h0M294.3 571.7h0M309.6 568.6h0M318.0 583.1h0M323.7 560.3h0M311.8 565.8h0M233.7 539.9h0M320.5 570.9h0M309.3 583.0h0M255.4 557.9h0M314.7 589.2h0M305.5 587.5h0M234.0 540.0h0M218.3 558.7h0M311.8 587.4h0M299.5 590.3h0M309.9 565.5h0M224.9 562.4h0M302.5 573.6h0M264.8 543.6h0M312.1 566.7h0M297.1 585.4h0M315.0 577.1h0M294.8 566.8h0M309.1 568.7h0M304.2 556.8h0M294.3 564.2h0M315.9 564.5h0M220.3 557.7h0M281.5 553.3h0M293.7 574.8h0M301.4 561.2h0M316.3 577.8h0M311.4 563.5h0M241.6 545.1h0M321.4 562.6h0M318.2 559.6h0M291.0 560.5h0M285.5 561.3h0M317.2 586.6h0M229.9 551.1h0M316.3 589.3h0M309.6 586.2h0M312.8 566.2h0M307.3 573.8h0M309.4 567.4h0M295.5 570.7h0M252.2 535.6h0M300.2 572.6h0M217.9 537.8h0M309.1 593.2h0M225.1 556.7h0M280.1 555.3h0M299.5 563.3h0M306.0 560.0h0M254.9 547.2h0M294.4 572.5h0M311.0 568.9h0M300.8 561.1h0M318.3 585.8h0M311.8 595.2h0M234.0 563.4h0M317.7 557.3h0M305.7 560.5h0M318.2 581.7h0M312.2 573.1h0M323.3 576.8h0M309.6 591.3h0M318.4 575.4h0M303.1 594.6h0M302.0 579.7h0M321.1 583.4h0M299.8 572.1h0M319.3 561.9h0M259.0 549.8h0M239.8 559.2h0M301.4 583.9h0M313.4 571.7h0M271.5 519.7h0M315.8 556.2h0M226.7 544.1h0M295.2 556.2h0M296.2 580.0h0M294.8 564.2h0M322.4 565.2h0M319.1 562.4h0M314.3 591.4h0M315.8 589.6h0M225.4 546.5h0M317.1 588.3h0M315.4 568.1h0M305.3 566.8h0M312.5 588.9h0M304.8 590.4h0M251.4 551.8h0M296.5 575.2h0M301.1 564.0h0M274.1 551.0h0M307.7 590.5h0M294.7 568.7h0M236.0 547.2h0M313.8 562.9h0M296.0 563.3h0M288.4 563.9h0M268.0 553.6h0M313.0 589.7h0M239.1 559.9h0M300.0 564.9h0M299.9 584.4h0M310.1 584.2h0M298.1 573.4h0M306.1 589.8h0M312.2 591.4h0M237.1 530.7h0M322.5 568.4h0M278.8 555.8h0M298.7 579.2h0M313.0 557.8h0M313.7 578.3h0M302.2 570.5h0M301.3 570.3h0M303.2 593.8h0M290.8 567.7h0M281.7 547.3h0M305.3 560.7h0M223.7 547.4h0M319.6 572.1h0M264.8 550.3h0M240.7 554.9h0M322.3 563.8h0M247.8 545.1h0M308.0 572.0h0M296.3 570.2h0M225.7 553.2h0M314.7 586.3h0M298.6 586.8h0M307.9 573.6h0M299.8 584.6h0M321.3 556.7h0M305.7 593.7h0M307.0 573.8h0M229.2 569.7h0M253.1 563.6h0M269.5 540.9h0M318.9 564.1h0M314.2 565.6h0M222.4 560.0h0M294.4 574.2h0M313.5 586.7h0M304.8 563.0h0M259.7 554.5h0M231.0 549.9h0M250.1 558.5h0M216.2 558.0h0M308.9 585.7h0M295.1 570.2h0M317.2 573.7h0M295.1 569.7h0M312.2 582.9h0M301.4 584.8h0M234.3 525.7h0M248.1 529.0h0M300.4 587.5h0M311.3 561.5h0M285.0 558.4h0M301.2 573.2h0M320.1 555.1h0M220.3 565.2h0M309.3 561.9h0M308.1 581.4h0M301.0 580.2h0M303.7 590.5h0M309.5 578.4h0M323.0 560.5h0M294.4 575.6h0M319.5 580.0h0M252.7 540.6h0M249.5 564.5h0M248.4 572.7h0M312.9 594.0h0M227.5 567.8h0M275.0 552.8h0M299.9 573.9h0M219.0 533.0h0M304.5 594.5h0M301.4 571.8h0M299.5 579.9h0M301.0 556.7h0M283.8 560.4h0M320.1 580.7h0M296.8 567.9h0M272.0 553.1h0M302.1 579.6h0M239.3 567.3h0M300.5 590.1h0M309.8 591.3h0M246.9 564.5h0M299.3 583.8h0M291.1 567.2h0M230.6 536.5h0M310.2 593.0h0M305.3 580.7h0M278.7 554.5h0M215.1 547.7h0M224.9 566.8h0M302.0 582.5h0M299.2 564.9h0M235.3 555.3h0M314.9 561.2h0M317.9 577.3h0M308.3 585.2h0M284.4 557.9h0M248.4 535.9h0M314.6 569.6h0M297.5 580.2h0M315.9 564.7h0M303.1 574.1h0M248.1 531.5h0M310.2 566.3h0M316.1 556.7h0M312.3 589.9h0M235.8 541.0h0M312.1 591.9h0M298.9 582.4h0M303.9 587.8h0M296.7 582.0h0M291.7 576.6h0M310.0 555.2h0M293.8 572.9h0M318.5 588.6h0M313.9 584.0h0M303.1 577.2h0M316.2 587.7h0M319.4 567.0h0M306.6 590.5h0M268.4 543.2h0M270.2 548.8h0M234.1 559.2h0M315.5 587.9h0M308.2 595.2h0M320.1 571.5h0M272.3 545.3h0M315.8 589.2h0M300.1 570.6h0M276.6 518.6h0M307.0 570.3h0M303.5 595.1h0M314.0 594.3h0M295.3 563.7h0M298.0 575.2h0M319.1 566.8h0M307.1 595.3h0M219.6 534.1h0M282.1 563.2h0M304.2 573.5h0M315.9 580.0h0M310.3 576.2h0M310.4 567.9h0M269.7 547.9h0M292.4 566.2h0M305.6 580.1h0M320.3 567.9h0M295.7 567.3h0M312.4 580.2h0M307.4 581.3h0M245.4 531.3h0M298.9 575.6h0M302.2 576.3h0M300.6 567.9h0M302.0 573.1h0M302.3 560.2h0M299.8 589.3h0M230.5 552.6h0M211.5 563.0h0M226.6 554.5h0M309.1 590.8h0M321.3 565.0h0M319.7 557.9h0M312.0 591.3h0M230.9 542.3h0M313.9 555.4h0M297.8 563.9h0M224.8 569.8h0M312.2 571.7h0M301.0 583.3h0M304.4 582.7h0M314.7 583.9h0M299.8 572.6h0M312.9 568.8h0M295.1 568.6h0M298.4 559.8h0M321.6 568.1h0M312.5 582.0h0M240.3 557.9h0M315.1 580.5h0M279.4 536.2h0M239.3 546.1h0M284.5 563.7h0M309.6 583.8h0M306.6 588.4h0M297.8 566.6h0M306.1 570.7h0M310.7 589.9h0M304.1 566.6h0M299.8 563.4h0M302.6 588.4h0M313.3 590.5h0M297.9 564.6h0M268.7 543.8h0M240.2 557.2h0M298.5 568.5h0M320.1 568.4h0M306.5 571.5h0M274.5 552.3h0M307.2 559.5h0M312.9 574.7h0M300.1 576.8h0M298.9 562.3h0M310.8 569.4h0M310.7 563.2h0M310.4 581.5h0M220.6 568.4h0M319.6 557.0h0M240.5 552.6h0M216.4 536.6h0M301.6 584.2h0M310.9 570.3h0M250.0 559.2h0M300.1 558.3h0M314.7 586.2h0M233.3 548.2h0M255.7 554.0h0M304.1 596.4h0M300.3 585.1h0M294.6 577.6h0M224.6 561.7h0M314.6 571.5h0M292.2 566.8h0M295.7 566.5h0M300.4 571.5h0M304.8 595.3h0M218.5 565.0h0M278.7 521.6h0M308.1 556.8h0M269.6 532.0h0M225.2 548.3h0M314.9 573.8h0M306.4 588.5h0M314.6 585.6h0M298.9 570.8h0M249.2 545.2h0M317.5 589.9h0M311.0 577.3h0M306.8 562.9h0M311.6 584.3h0M217.1 547.4h0M261.1 549.7h0M320.4 555.2h0M211.8 558.3h0M251.8 538.9h0M300.0 577.1h0M245.7 562.4h0M306.8 593.2h0M261.1 549.9h0M284.1 546.8h0M230.2 548.4h0M304.5 567.0h0M290.5 565.2h0M307.4 574.7h0M256.9 559.1h0M302.0 583.4h0M301.2 560.1h0M312.2 573.5h0M222.1 553.6h0M308.9 587.2h0M304.8 598.8h0M258.9 537.6h0M299.9 571.5h0M294.3 572.8h0M255.3 551.5h0M313.7 594.1h0M318.2 570.9h0M297.7 567.7h0M216.7 541.5h0M303.6 581.0h0M306.2 565.8h0M303.1 576.7h0M312.5 584.3h0M296.9 567.0h0M312.7 588.6h0M219.2 547.8h0M309.1 583.8h0M311.6 589.8h0M299.9 588.9h0M302.2 578.0h0M303.5 555.8h0M314.7 594.7h0M323.8 580.3h0M303.1 560.0h0M250.2 536.7h0M311.9 571.6h0M314.1 586.4h0M283.1 557.7h0M312.9 580.3h0M298.4 561.8h0M304.5 578.6h0M299.8 561.2h0M318.1 577.8h0M255.2 554.1h0M299.7 575.4h0M295.9 575.8h0M309.5 569.6h0M256.1 557.8h0M310.8 581.5h0M315.9 590.5h0M237.2 546.6h0M295.7 559.3h0M316.2 578.7h0M306.0 575.7h0M302.2 561.2h0M306.6 571.3h0M301.0 577.7h0M316.5 577.6h0M216.4 550.3h0M307.4 590.2h0M307.4 593.7h0M314.9 562.8h0M292.4 567.7h0M231.1 545.5h0M227.3 568.8h0M297.1 575.3h0M295.0 565.1h0M300.5 592.2h0M302.3 595.3h0M314.5 583.8h0M315.7 558.2h0M267.9 525.8h0M282.0 524.5h0M318.5 558.7h0M293.8 577.9h0M311.9 578.3h0M272.3 550.1h0M243.2 553.4h0M309.2 557.4h0M316.8 585.5h0M311.4 595.7h0M267.8 539.9h0M307.1 590.1h0M300.9 568.9h0M301.4 566.5h0M312.1 590.8h0M298.5 579.4h0M300.6 575.7h0M313.8 592.1h0M315.8 586.8h0M300.9 595.0h0M300.0 564.3h0M318.5 575.1h0M245.8 567.6h0M311.1 559.0h0M304.3 567.6h0M234.2 536.4h0M306.8 569.5h0M300.6 593.3h0M250.1 531.9h0M305.3 576.4h0M302.7 570.1h0M314.3 567.3h0M278.2 554.5h0M235.9 532.7h0M248.1 543.1h0M321.9 564.3h0M311.3 570.3h0M318.4 571.1h0M312.1 585.3h0M315.0 590.6h0M315.1 594.9h0M300.8 567.3h0M296.1 567.6h0M308.1 566.0h0M297.2 564.8h0M281.6 558.0h0M311.6 563.6h0M263.3 531.0h0M317.4 565.8h0M263.5 551.2h0M296.3 569.9h0M307.1 593.1h0M220.3 557.4h0M223.3 524.1h0M321.0 582.5h0M222.7 552.7h0M310.2 565.3h0M308.0 579.4h0M277.2 554.9h0M301.1 557.1h0M227.6 529.3h0M312.2 593.2h0M321.9 564.3h0M312.0 571.9h0M255.4 546.6h0M303.3 573.3h0M283.8 537.3h0M237.2 543.9h0M295.4 567.3h0M301.6 577.5h0M299.2 587.2h0M309.7 586.4h0M309.2 582.1h0M299.0 574.9h0M321.1 577.4h0M321.3 570.6h0M230.4 542.2h0M319.4 568.1h0M311.9 589.6h0M312.5 574.1h0M308.1 559.1h0M322.2 561.4h0M221.1 541.6h0M253.0 564.0h0M294.6 564.4h0M323.2 556.5h0M314.8 574.3h0M315.2 581.9h0M311.7 576.7h0M299.8 564.4h0M300.8 563.5h0M301.0 577.7h0M267.9 547.5h0M300.5 565.0h0M255.1 552.0h0M302.8 571.4h0M220.1 540.2h0M319.3 585.5h0M243.2 549.1h0M303.0 587.8h0M230.5 565.1h0M318.1 569.2h0M222.3 537.2h0M302.8 587.3h0M307.0 584.8h0M319.6 574.3h0M321.5 559.6h0M311.0 576.4h0M305.7 561.0h0M242.9 546.0h0M241.6 548.9h0M242.1 558.6h0M307.5 593.4h0M296.4 578.2h0M298.6 557.7h0M221.3 571.0h0M314.6 562.7h0M231.4 555.8h0M306.4 593.6h0M303.0 571.3h0M323.2 559.0h0M317.9 572.8h0M313.2 574.3h0M300.0 576.3h0M295.2 561.4h0M294.6 575.0h0M256.1 539.3h0M266.4 537.2h0M317.1 568.3h0M314.2 581.1h0M317.3 565.4h0M222.6 532.4h0M318.0 568.4h0M309.0 588.3h0M280.3 521.0h0M298.8 558.1h0M277.6 550.3h0M261.9 537.4h0M321.1 568.0h0M317.3 581.5h0M219.0 532.7h0M315.8 590.9h0M215.0 552.6h0M315.4 569.5h0M296.6 568.6h0M303.7 588.8h0M310.1 559.9h0M309.7 590.3h0M321.5 567.9h0M217.8 555.1h0M319.9 561.1h0M307.9 582.4h0M303.0 587.7h0M258.2 543.2h0M232.7 549.9h0M233.7 535.8h0M246.8 534.5h0M228.7 569.6h0M305.5 582.3h0M262.0 552.3h0M314.4 573.0h0M309.4 564.3h0M320.7 573.8h0M318.2 566.4h0M306.7 572.7h0M306.7 557.8h0M302.3 579.8h0M301.9 567.7h0M240.2 557.0h0M260.1 547.0h0M295.7 571.7h0M314.9 553.7h0M315.1 594.0h0M279.9 554.5h0M297.2 560.4h0M314.9 578.0h0M269.1 546.7h0M229.3 557.9h0M315.1 579.2h0M290.8 564.3h0M213.9 542.6h0M263.0 537.0h0M291.4 564.9h0M223.8 552.3h0M312.8 564.7h0M280.0 556.1h0M312.8 563.1h0M311.4 580.6h0M314.8 576.5h0M274.0 552.5h0M246.1 562.8h0M312.4 562.9h0M313.4 585.1h0M313.4 557.8h0M310.1 572.2h0M272.8 546.7h0M313.7 556.0h0M307.3 562.7h0M298.5 562.6h0M245.3 568.5h0M300.5 565.2h0M298.6 563.9h0M310.5 562.8h0M271.2 542.8h0M320.5 567.0h0M248.7 557.2h0M302.4 576.4h0M246.4 569.3h0M304.0 559.0h0M315.4 591.5h0M318.8 569.4h0M317.1 558.3h0M304.1 565.0h0M244.2 552.0h0M321.8 561.9h0M304.0 590.9h0M300.3 587.8h0M314.7 563.2h0M296.2 562.6h0M268.7 541.2h0M236.8 559.0h0M302.1 566.1h0M287.4 531.8h0M304.5 561.1h0M221.7 557.8h0M305.4 568.6h0M302.9 564.0h0M306.9 578.1h0M295.5 569.6h0M315.1 569.5h0M310.9 569.7h0M297.6 576.0h0M296.2 569.4h0M314.7 581.1h0M303.3 571.5h0M296.4 579.1h0M221.1 546.6h0M299.4 572.5h0M248.6 545.1h0M320.6 581.0h0M317.1 568.9h0M278.5 557.4h0M297.5 566.2h0M310.3 585.3h0M277.6 554.4h0M222.7 544.5h0M216.6 538.5h0M304.8 577.6h0M303.9 592.4h0M320.0 572.2h0M303.2 567.9h0M318.8 582.7h0M270.6 552.1h0M305.4 597.8h0M307.8 579.4h0M308.4 590.4h0M252.5 558.2h0M220.1 558.8h0M305.5 591.2h0M313.8 562.3h0M231.2 534.8h0M322.9 556.3h0M218.8 556.3h0M303.1 587.2h0M304.7 592.5h0M276.3 552.2h0M301.4 591.9h0M300.6 579.9h0M307.5 559.0h0M297.2 563.5h0M230.6 539.8h0M311.5 587.5h0M224.5 549.1h0M217.8 529.7h0M222.5 563.6h0M299.7 582.1h0M301.3 577.3h0M231.5 531.6h0M305.3 589.1h0M320.2 571.6h0M212.5 544.9h0M260.2 546.9h0M271.5 549.5h0M305.3 591.4h0M250.3 551.0h0M295.1 570.4h0M300.3 589.1h0M303.3 575.1h0M296.8 565.1h0M312.5 589.6h0M319.6 570.5h0M302.0 563.4h0M233.9 544.1h0M315.6 561.4h0M297.3 562.1h0M293.8 575.2h0M309.5 556.8h0M270.1 534.5h0M315.4 584.7h0M297.2 574.3h0M233.5 537.7h0M247.3 537.4h0M225.4 558.0h0M233.8 540.3h0M301.0 573.0h0M228.3 527.5h0M324.9 556.9h0M294.2 572.5h0M319.7 568.6h0M315.8 573.9h0M307.8 575.4h0M314.0 587.6h0M300.0 592.4h0M307.4 586.0h0M240.4 557.1h0M297.5 573.9h0M249.4 569.8h0M315.8 588.8h0M245.2 565.2h0M301.5 565.0h0M315.4 584.5h0M219.1 544.2h0M311.4 583.9h0M316.4 589.3h0M309.2 595.0h0M297.4 573.8h0M301.0 558.1h0M313.6 579.5h0M242.1 551.0h0M308.0 584.3h0M299.8 566.0h0M241.2 553.1h0M303.8 567.8h0M313.9 585.0h0M305.6 576.8h0M298.0 573.8h0M316.9 554.9h0M277.9 556.0h0M319.8 554.8h0M226.4 528.0h0M316.2 592.5h0M309.2 591.3h0M302.7 594.9h0M303.6 585.6h0M317.9 594.7h0M297.4 564.3h0M310.0 577.3h0M310.2 588.6h0M300.7 557.2h0M304.6 570.2h0M314.0 584.4h0M217.6 572.7h0M295.3 573.4h0M306.9 565.4h0M230.1 556.8h0M310.5 560.5h0M317.7 559.1h0M233.9 527.7h0M312.3 580.3h0M313.9 589.6h0M259.9 549.7h0M306.0 593.1h0M222.4 539.3h0M294.9 582.0h0M294.0 569.9h0M278.6 557.6h0M229.3 570.9h0M311.5 578.3h0M245.7 569.7h0M318.0 579.4h0M301.6 557.8h0M310.6 561.5h0M271.3 552.7h0M314.8 566.7h0M288.7 564.1h0M248.5 565.7h0M302.4 569.1h0M321.0 556.3h0M303.9 582.6h0M302.8 562.7h0M295.8 572.3h0M308.3 571.0h0M318.6 569.2h0M220.0 569.1h0M287.2 564.9h0M314.8 584.6h0M316.4 573.3h0M320.6 567.9h0M312.5 564.1h0M312.5 583.8h0M304.3 567.2h0M322.1 567.5h0M302.3 572.0h0M317.7 564.0h0M302.2 591.0h0M249.4 542.4h0M307.8 592.7h0M317.6 570.7h0M314.7 583.5h0M313.4 561.8h0M308.7 572.0h0M271.4 545.3h0M309.2 580.5h0M294.0 567.2h0M256.0 543.0h0M305.1 558.8h0M304.4 563.6h0M298.3 584.7h0M296.5 567.4h0M224.6 544.2h0M260.6 546.9h0M316.4 565.8h0M303.7 557.7h0M322.4 558.7h0M224.2 568.9h0M310.0 589.1h0M222.9 543.6h0M308.0 578.2h0M317.1 564.5h0M317.3 559.5h0M307.7 571.9h0M294.7 564.8h0M315.8 572.9h0M253.2 535.7h0M303.9 591.0h0M320.9 574.9h0M220.3 547.2h0M302.8 590.5h0M320.1 570.4h0M319.1 566.5h0M310.3 593.6h0M319.3 580.1h0M312.5 586.2h0M306.9 576.4h0M262.3 533.6h0M284.7 560.2h0M310.9 565.2h0M274.5 553.8h0M304.2 560.0h0M301.0 559.2h0M259.7 537.3h0M251.5 565.8h0M262.6 551.1h0M319.5 585.7h0M321.2 579.1h0M316.3 593.0h0M298.5 569.2h0M261.1 544.4h0M300.8 583.0h0M301.0 583.2h0M283.3 528.8h0M311.4 578.1h0M320.2 574.8h0M319.7 575.3h0M306.8 583.3h0M297.0 583.7h0M267.8 549.4h0M271.4 545.4h0M214.6 566.6h0M217.3 564.8h0M303.7 588.8h0M306.0 579.8h0M320.7 585.5h0M239.5 565.7h0M299.1 561.1h0M320.7 582.2h0M263.2 546.0h0M299.3 582.7h0M300.2 567.2h0M318.3 588.5h0M246.2 557.6h0M294.5 565.3h0M298.8 574.8h0M231.7 531.5h0M315.4 580.0h0M300.9 577.3h0M310.1 577.4h0M304.8 580.5h0M302.4 581.2h0M316.8 587.6h0M214.1 554.3h0M315.5 573.9h0M314.1 580.6h0M289.5 521.0h0M299.4 586.1h0M316.4 569.1h0M310.6 590.0h0M321.4 556.2h0M294.9 567.1h0M323.3 558.6h0M321.4 558.9h0M307.0 578.2h0M318.3 561.7h0M307.5 574.5h0M312.0 580.4h0M312.6 581.7h0M237.9 550.2h0M312.2 586.6h0M305.2 592.8h0M307.0 595.7h0M297.5 574.5h0M232.2 543.2h0M249.4 532.5h0M225.8 545.8h0M247.1 547.5h0M217.9 556.5h0M316.2 577.5h0M304.1 579.7h0M260.4 552.5h0M302.1 584.0h0M303.8 595.9h0M297.6 587.2h0M312.2 584.9h0M303.4 572.1h0M288.1 565.7h0M316.1 570.6h0M304.1 580.2h0M246.0 564.9h0M310.5 567.3h0M236.1 550.1h0M315.9 571.4h0M296.9 569.1h0M219.8 552.3h0M312.9 559.9h0M312.5 595.1h0M296.1 571.1h0M313.4 560.2h0M309.3 591.1h0M229.4 551.0h0M297.2 567.4h0M319.6 588.0h0M264.8 536.3h0M313.7 578.0h0M296.5 582.5h0M308.4 575.8h0M296.5 570.7h0M301.8 574.3h0M313.7 584.3h0M296.9 574.0h0M225.0 543.9h0M305.0 576.5h0M236.8 561.4h0M309.9 556.3h0M307.1 562.2h0M261.3 541.1h0M295.6 573.6h0M303.9 593.7h0M296.3 569.3h0M312.6 595.0h0M302.0 576.5h0M317.4 578.6h0M266.1 551.4h0M284.8 560.2h0M313.7 569.9h0M310.2 572.9h0M316.3 577.1h0M242.9 530.1h0M295.8 573.7h0M300.7 571.1h0M320.8 581.8h0M212.7 553.0h0M219.1 541.7h0M314.6 565.3h0M300.0 569.7h0M308.6 590.6h0M315.8 585.7h0M315.9 555.4h0M306.7 595.8h0M301.3 583.9h0M307.0 582.0h0M305.8 562.9h0M302.2 593.8h0M305.3 574.2h0M302.9 585.1h0M297.5 584.2h0M214.8 556.2h0M264.1 538.5h0M300.6 565.0h0M305.3 591.6h0M314.4 588.4h0M315.2 561.1h0M316.9 582.3h0M228.5 543.2h0M299.8 570.1h0M306.3 589.0h0M277.6 554.7h0M319.6 576.6h0M314.6 585.8h0M297.1 568.9h0M218.9 568.8h0M308.7 566.6h0M271.9 550.1h0M258.7 536.7h0M299.6 570.7h0M230.5 540.6h0M309.0 573.9h0M292.0 567.5h0M309.1 580.3h0M308.3 574.8h0M316.8 570.4h0M302.7 569.4h0M320.8 578.6h0M222.8 537.4h0M301.2 569.5h0M311.6 588.2h0M315.6 573.0h0M312.8 566.4h0M321.3 566.8h0M274.3 543.8h0M285.4 563.2h0M295.1 573.1h0M245.4 534.4h0M286.4 547.7h0M243.3 551.9h0M316.3 577.7h0M217.0 547.6h0M299.4 559.8h0M304.7 586.7h0M277.7 554.6h0M307.1 560.1h0M307.1 592.2h0M244.8 556.9h0M314.2 587.3h0M313.8 562.1h0M309.1 569.4h0M307.3 567.2h0M314.8 590.9h0M304.6 563.7h0M310.7 575.0h0M231.8 539.9h0M247.3 559.3h0M250.6 555.3h0M321.7 571.3h0M258.0 542.4h0M304.4 596.0h0M295.2 581.9h0M309.1 570.8h0M227.3 547.2h0M299.6 569.4h0M311.2 572.6h0M311.4 592.5h0M274.2 552.0h0M320.9 562.2h0M307.5 590.0h0M312.1 583.5h0M305.4 570.9h0M302.0 562.8h0M214.2 552.2h0M295.7 562.2h0M260.8 535.7h0M303.6 580.9h0M303.0 568.6h0M242.3 529.6h0M246.8 542.2h0M298.5 588.6h0M294.7 567.6h0M271.7 544.3h0M232.0 548.5h0M236.0 561.7h0M304.2 589.8h0M299.1 576.6h0M297.5 570.4h0M222.9 545.9h0M322.1 561.1h0M247.5 530.0h0M304.8 581.5h0M249.2 542.2h0M263.4 545.6h0M269.0 545.9h0M272.2 549.7h0M275.3 548.3h0M249.6 538.3h0M244.3 539.0h0M267.2 546.0h0M259.7 553.6h0M271.4 549.3h0M259.7 537.6h0M246.0 535.0h0M249.6 552.5h0M245.3 531.1h0M267.6 543.6h0M255.0 548.4h0M268.0 545.0h0M274.5 552.7h0M273.1 547.3h0M247.9 529.9h0M274.0 546.5h0M253.3 556.9h0M243.3 538.6h0M265.0 538.7h0M258.5 553.7h0M252.4 551.0h0M256.3 535.4h0M248.3 531.9h0M249.6 549.2h0M254.0 555.6h0M266.5 547.0h0M243.0 538.3h0M251.9 540.6h0M244.5 546.4h0M244.5 539.3h0M251.2 539.1h0M253.2 537.6h0M266.4 536.8h0M264.5 536.6h0M241.0 538.4h0M274.1 549.6h0M271.2 544.3h0M242.4 534.4h0M246.9 532.2h0M269.1 541.8h0M256.9 561.9h0M252.3 536.8h0M246.0 547.0h0M263.6 546.4h0M270.5 541.7h0M257.6 541.8h0M268.0 540.3h0M249.0 544.3h0M253.1 547.0h0M272.2 546.3h0M257.9 562.6h0M269.7 549.1h0M263.7 539.6h0M243.8 534.6h0M253.4 543.8h0M259.7 549.3h0M245.6 528.7h0M252.2 536.0h0M264.5 553.3h0M241.8 532.4h0M265.8 543.7h0M255.3 543.0h0M271.2 549.4h0M259.0 542.5h0M264.2 547.6h0M269.1 542.7h0M245.6 530.9h0M243.5 529.9h0" stroke="#2a6fb0" stroke-width="1.1" stroke-linecap="round" stroke-opacity="0.95"/>
<path d="M217.0 539.5h0M219.7 560.5h0M219.7 529.8h0M221.5 528.6h0M241.6 545.0h0M225.3 527.7h0M237.3 537.7h0M246.5 572.5h0M233.6 547.1h0M239.5 552.3h0M244.1 533.7h0M319.3 571.1h0M240.4 535.1h0M234.0 548.7h0M238.2 551.8h0M227.5 564.5h0M218.9 529.1h0M250.7 565.0h0M230.7 557.5h0M255.7 534.9h0M219.2 564.4h0M215.3 546.2h0M221.1 551.3h0M233.7 547.4h0M235.6 541.9h0M252.3 568.2h0M216.9 541.1h0M240.1 539.3h0M227.5 545.5h0M237.2 568.1h0M211.1 556.1h0M250.0 565.8h0M241.7 567.3h0M245.5 555.0h0M249.6 554.5h0M256.9 547.4h0M225.7 548.6h0M225.3 548.1h0M233.1 550.1h0M239.8 548.3h0M256.5 560.6h0M219.9 541.7h0M236.9 532.0h0M234.3 532.7h0M236.1 530.5h0M230.4 555.1h0M240.6 560.7h0M213.3 558.3h0M238.3 539.8h0M241.4 552.9h0M260.1 539.0h0M234.7 525.8h0M226.5 540.1h0M219.8 543.9h0M235.5 528.2h0M228.8 557.5h0M246.7 567.2h0M220.4 570.0h0M237.0 547.1h0M245.4 554.6h0M221.3 552.6h0M223.6 548.5h0M234.0 529.2h0M237.3 543.1h0M241.5 565.7h0M221.7 562.7h0M297.1 584.2h0M246.4 528.4h0M249.5 531.3h0M231.9 531.5h0M228.9 531.0h0M223.5 532.2h0M228.2 527.4h0M236.9 560.5h0M235.3 537.1h0M300.8 591.9h0M302.7 592.3h0M317.1 574.8h0M237.7 555.3h0M214.1 543.7h0M245.0 566.2h0M246.7 541.2h0M243.9 528.0h0M222.2 547.1h0M231.8 555.7h0M251.8 556.5h0M232.7 534.4h0M234.9 562.6h0M263.4 528.7h0M235.6 528.0h0M227.0 525.2h0M223.5 569.2h0M233.3 552.4h0M230.1 523.6h0M236.5 543.8h0M244.4 556.3h0M246.2 572.0h0M260.9 558.0h0M252.5 562.7h0M225.8 545.5h0M216.7 551.4h0M246.9 550.6h0M232.8 542.0h0M227.6 546.4h0M216.3 558.5h0M235.9 547.0h0M228.2 553.9h0M211.0 557.2h0M220.0 541.5h0M243.7 535.6h0M227.2 539.1h0M282.0 555.9h0M215.5 569.3h0M249.6 548.7h0M302.4 590.5h0M269.3 534.2h0M224.0 530.2h0M316.8 570.9h0M219.7 557.9h0M233.3 553.6h0M209.7 543.4h0M225.4 534.1h0M225.5 560.1h0M309.0 577.4h0M245.1 527.6h0M249.7 566.0h0M227.0 543.2h0M230.2 570.9h0M255.4 558.7h0M242.7 548.0h0M261.2 541.1h0M242.8 562.4h0M222.7 525.0h0M236.6 544.3h0M260.7 534.5h0M237.9 554.2h0M221.4 547.7h0M230.0 533.9h0M248.8 558.9h0M220.7 541.7h0M220.3 546.5h0M213.6 560.1h0M219.5 541.7h0M222.0 530.5h0M246.6 566.9h0M220.7 571.0h0M245.5 555.3h0M258.6 556.5h0M229.3 551.1h0M248.2 545.4h0M214.0 564.6h0M210.7 552.9h0M217.6 532.8h0M233.0 552.9h0M211.8 556.8h0M220.1 539.7h0M265.5 540.6h0M222.5 557.7h0M216.9 563.8h0M225.5 554.9h0M245.0 560.1h0M249.8 545.2h0M209.5 555.3h0M234.2 529.5h0M226.2 544.5h0M217.4 546.8h0M228.7 561.8h0M322.9 570.9h0M249.9 532.7h0M222.5 557.8h0M233.2 566.7h0M221.6 532.3h0M224.4 556.8h0M225.8 565.7h0M237.4 550.1h0M240.9 567.5h0M236.7 541.1h0M250.2 562.8h0M217.7 553.1h0M214.8 559.8h0M237.8 544.7h0M218.5 532.3h0M225.1 570.6h0M217.3 539.3h0M219.5 537.4h0M245.5 557.9h0M231.0 547.0h0M240.4 535.8h0M223.1 551.8h0M240.2 542.3h0M227.9 553.1h0M219.4 566.5h0M217.6 562.9h0M219.3 562.4h0M219.8 564.6h0M217.2 533.2h0M241.2 548.8h0M298.0 582.2h0M232.5 545.8h0M227.5 551.6h0M227.7 569.8h0M227.2 540.4h0M260.2 555.4h0M243.3 541.0h0M230.1 556.2h0M265.0 551.0h0M238.2 532.5h0M216.8 546.8h0M248.6 551.8h0M246.0 565.1h0M209.8 551.1h0M252.3 565.9h0M233.9 531.5h0M236.3 560.3h0M244.0 539.3h0M257.9 553.4h0M231.1 568.7h0M313.0 593.0h0M220.8 566.1h0M244.2 559.7h0M229.4 571.6h0M217.9 542.0h0M257.8 535.0h0M246.4 528.1h0M250.4 562.6h0M252.4 536.0h0M228.8 542.5h0M261.0 542.0h0M219.7 534.8h0M235.8 548.8h0M238.7 536.3h0M226.6 569.2h0M231.0 564.6h0M257.8 540.8h0M242.5 569.8h0M258.3 549.2h0M247.9 570.7h0M235.8 543.0h0M252.3 563.0h0M238.3 560.3h0M224.3 539.4h0M252.7 544.9h0M219.0 544.7h0M236.6 544.0h0M236.7 570.0h0M221.3 520.2h0M234.9 564.2h0M213.4 548.6h0M225.3 560.4h0M244.1 533.5h0M235.0 536.2h0M230.3 537.7h0M228.8 572.7h0M220.6 547.5h0M235.0 561.4h0M226.6 544.7h0M232.2 540.4h0M245.3 552.8h0M227.6 570.5h0M223.3 546.5h0M233.7 558.9h0M249.7 560.1h0M247.2 545.9h0M230.7 560.4h0M280.7 552.7h0M234.3 546.8h0M230.7 563.3h0M226.3 554.3h0M236.6 566.0h0M210.9 549.3h0M216.8 556.7h0M225.0 541.6h0M246.8 556.9h0M250.7 560.3h0M223.2 547.7h0M220.5 527.4h0M225.7 550.4h0M235.2 555.7h0M238.5 547.2h0M249.3 564.6h0M243.5 554.3h0M233.1 527.2h0M257.1 558.7h0M223.8 530.0h0M234.4 526.7h0M253.5 564.5h0M218.0 542.9h0M224.0 543.7h0M228.1 571.1h0M235.7 542.0h0M226.3 556.8h0M229.8 566.6h0M235.3 541.6h0M217.2 571.3h0M220.6 552.5h0M238.3 558.1h0M271.0 545.0h0M216.3 563.7h0M216.7 553.2h0M219.4 558.5h0M226.9 570.2h0M225.8 545.3h0M222.1 569.3h0M258.5 553.4h0M222.4 555.8h0M242.5 570.2h0M231.9 551.4h0M223.4 541.4h0M222.0 538.7h0M247.6 561.7h0M212.7 556.5h0M262.9 549.4h0M217.1 546.7h0M214.2 552.5h0M221.7 537.1h0M215.8 553.7h0M252.6 546.2h0M259.5 556.2h0M238.6 547.2h0M247.6 551.5h0M244.9 556.1h0M236.9 562.9h0M224.6 532.2h0M219.3 562.6h0M230.0 527.9h0M235.9 565.8h0M212.2 548.0h0M232.3 549.5h0M232.9 555.7h0M230.5 535.9h0M212.6 552.2h0M217.5 557.1h0M218.9 566.4h0M227.2 524.6h0M232.6 563.6h0M246.9 549.4h0M219.4 565.6h0M229.6 559.8h0M276.0 545.1h0M277.3 553.5h0M224.8 542.0h0M219.4 526.7h0M227.8 548.8h0M230.0 529.3h0M237.2 544.1h0M223.9 563.6h0M248.2 551.9h0M250.9 560.3h0M235.1 542.3h0M249.3 560.7h0M236.3 527.9h0M224.0 559.7h0M233.1 563.5h0M216.9 534.8h0M226.5 539.8h0M245.9 534.9h0M227.7 541.4h0M217.7 545.1h0M232.5 562.0h0M243.4 561.9h0M226.4 526.2h0M276.5 554.5h0M238.7 545.3h0M261.3 532.4h0M234.8 536.0h0M222.1 547.4h0M244.7 552.4h0M243.8 558.9h0M228.8 560.3h0M316.0 570.1h0M218.7 530.9h0M234.4 546.3h0M229.8 556.9h0M224.0 554.7h0M228.5 526.4h0M231.5 569.5h0M256.3 549.0h0M225.8 565.1h0M237.6 557.5h0M250.4 563.2h0M226.4 541.9h0M240.8 553.6h0M256.6 560.7h0M232.5 558.6h0M222.3 570.5h0M244.9 566.0h0M228.0 565.8h0M253.4 537.4h0M233.2 553.2h0M227.2 533.7h0M247.6 530.6h0M265.2 540.0h0M225.9 571.5h0M257.8 554.3h0M245.3 570.8h0M218.6 532.4h0M233.7 559.4h0M226.6 552.3h0M224.3 553.7h0M265.3 550.9h0M231.3 546.0h0M212.3 560.2h0M227.0 569.7h0M223.8 561.0h0M250.5 566.8h0M246.3 538.4h0M224.0 550.7h0M249.9 570.2h0M249.4 559.4h0M232.3 555.7h0M254.8 534.1h0M213.4 547.2h0M239.8 555.8h0M252.6 564.7h0M230.3 539.8h0M236.7 549.5h0M230.8 546.9h0M222.5 525.0h0M260.2 556.4h0M226.8 563.7h0M237.6 539.8h0M261.0 553.3h0M233.2 542.2h0M236.0 565.3h0M242.0 551.9h0M231.7 555.9h0M236.6 543.8h0M240.4 563.3h0M236.4 529.5h0M215.7 546.7h0M241.1 554.3h0M266.1 544.6h0M250.1 570.0h0M249.6 566.4h0M218.0 555.8h0M229.6 569.3h0M217.6 556.1h0M218.7 561.8h0M252.5 532.0h0M218.6 547.6h0M227.8 545.4h0M226.2 544.0h0M299.0 584.3h0M220.3 559.5h0M245.6 549.1h0M220.4 564.5h0M251.7 546.3h0M319.9 587.9h0M252.0 566.6h0M255.1 524.2h0M213.8 546.8h0M251.7 564.1h0M224.7 566.2h0M236.5 563.4h0M227.0 528.0h0M214.4 564.8h0M242.1 554.3h0M227.3 571.2h0M217.4 562.1h0M235.5 551.9h0M245.1 568.6h0M216.8 568.0h0M214.9 555.9h0M225.8 559.4h0M239.8 569.1h0M228.1 542.3h0M241.2 549.3h0M248.5 564.3h0M212.8 551.7h0M220.2 565.4h0M226.4 526.1h0M232.2 542.1h0M245.7 565.8h0M237.0 543.1h0M213.9 544.3h0M233.0 568.5h0M250.4 553.9h0M227.2 534.7h0M214.5 547.6h0M232.2 542.7h0M242.4 562.0h0M235.1 544.3h0M223.8 571.9h0M250.6 557.1h0M235.0 560.4h0M219.0 545.5h0M260.0 536.7h0M215.4 564.3h0M252.1 557.3h0M216.7 548.1h0M225.8 566.1h0M232.0 546.3h0M246.4 565.0h0M221.9 541.2h0M248.8 543.3h0M243.9 562.4h0M247.6 571.1h0M227.0 566.8h0M240.5 559.6h0M238.1 566.3h0M241.1 564.4h0M245.0 566.6h0M238.7 546.6h0M224.4 559.2h0M219.4 562.2h0M249.8 570.9h0M235.3 542.3h0M251.8 562.8h0M229.0 570.5h0M231.3 536.3h0M234.7 533.3h0M231.2 565.5h0M236.4 543.8h0M221.2 530.1h0M216.4 539.0h0M229.1 570.4h0M251.6 543.3h0M223.5 529.4h0M216.8 541.5h0M226.1 556.2h0M240.8 546.2h0M244.4 571.9h0M222.5 542.6h0M214.9 551.3h0M231.8 544.6h0M236.6 537.1h0M234.9 550.5h0M217.2 547.4h0M320.9 555.0h0M217.3 539.4h0M225.3 547.9h0M239.0 538.8h0M219.8 545.3h0M224.9 539.5h0M224.3 563.2h0M233.1 565.7h0M236.3 539.6h0M215.9 554.7h0M237.7 568.3h0M235.7 542.7h0M230.1 536.4h0M224.9 533.1h0M229.3 531.2h0M255.8 534.5h0M214.5 548.3h0M261.8 545.3h0M230.3 553.9h0M321.2 568.8h0M258.6 557.7h0M228.7 523.5h0M237.8 562.1h0M227.2 562.1h0M215.6 548.0h0M219.1 534.9h0M221.8 566.4h0M227.7 555.4h0M237.1 545.6h0M233.2 551.6h0M230.4 543.9h0M221.9 541.2h0M242.5 552.1h0M233.6 545.3h0M218.0 531.2h0M229.2 563.0h0M239.7 543.4h0M230.2 529.6h0M250.7 547.0h0M257.7 541.7h0M217.3 541.8h0M241.4 567.7h0M228.6 536.3h0M241.9 562.8h0M224.9 570.6h0M218.2 542.8h0M215.3 565.3h0M215.4 566.6h0M237.9 567.6h0M224.5 542.2h0M211.1 551.9h0M218.7 557.6h0M290.5 565.4h0M238.6 540.8h0M221.8 525.2h0M224.3 553.0h0M234.8 532.4h0M222.5 563.8h0M249.6 557.8h0M240.7 563.7h0M225.1 554.5h0M228.1 523.6h0M228.3 534.5h0M251.0 568.0h0M220.6 532.2h0M225.6 544.7h0M239.9 569.8h0M247.0 541.3h0M252.6 551.1h0M220.5 528.8h0M230.9 551.0h0M257.2 559.1h0M303.1 559.9h0M230.8 545.9h0M216.4 568.7h0M234.4 569.2h0M247.2 565.8h0M221.9 547.8h0M232.3 537.5h0M300.6 587.8h0M219.6 550.0h0M233.7 538.1h0M241.2 549.7h0M240.1 548.9h0M223.1 534.4h0M250.0 533.0h0M223.4 555.9h0M230.6 524.6h0M221.2 526.9h0M264.1 547.8h0M220.9 534.9h0M249.7 564.8h0M241.8 562.9h0M220.9 558.9h0M250.5 532.6h0M231.5 568.8h0M229.0 560.1h0M247.8 563.0h0M240.9 554.0h0M230.0 531.3h0M247.8 571.1h0M244.4 530.6h0M214.3 548.8h0M242.3 559.9h0M231.6 555.5h0M248.7 544.2h0M228.0 563.5h0M254.3 543.8h0M227.7 567.1h0M245.9 565.9h0M244.3 567.8h0M221.4 525.1h0M252.6 534.9h0M233.8 550.6h0M253.0 533.8h0M233.4 544.6h0M222.3 565.5h0M217.7 542.4h0M259.9 549.0h0M229.3 567.4h0M236.5 537.8h0M226.8 553.6h0M242.5 564.2h0M228.1 569.3h0M212.5 555.5h0M220.1 558.8h0M238.3 543.0h0M238.3 536.8h0M229.8 544.6h0M243.4 537.4h0M214.7 545.6h0M266.1 547.6h0M253.1 556.8h0M229.4 553.8h0M226.8 553.5h0M301.6 562.9h0M238.4 538.5h0M236.2 545.9h0M224.7 541.7h0M250.3 554.3h0M231.6 562.3h0M220.6 572.8h0M237.2 554.9h0M228.5 535.1h0M240.6 555.3h0M230.4 555.2h0M211.3 553.0h0M228.6 525.7h0M235.6 553.2h0M222.9 538.5h0M224.7 541.4h0M245.7 543.2h0M225.1 569.5h0M229.0 564.4h0M219.7 544.5h0M223.6 553.0h0M220.4 535.3h0M262.8 554.3h0M227.7 525.9h0M242.0 568.6h0M223.6 563.0h0M234.9 546.8h0M245.9 530.1h0M223.4 537.1h0M242.0 558.5h0M213.5 565.8h0M293.1 563.6h0M223.0 565.0h0M243.9 568.6h0M222.8 541.2h0M238.7 547.0h0M235.1 539.7h0M239.1 537.9h0M234.6 545.3h0M216.5 557.7h0M239.4 548.4h0M249.4 556.3h0M234.8 541.7h0M243.3 558.0h0M226.8 557.6h0M244.7 567.9h0M235.7 552.0h0M236.7 528.7h0M239.6 558.5h0M243.9 564.0h0M226.0 540.8h0M240.3 534.6h0M239.0 534.8h0M231.2 528.2h0M248.7 554.6h0M223.8 533.5h0M236.1 538.3h0M264.9 536.9h0M241.8 558.5h0M248.8 541.1h0M234.5 555.1h0M222.1 550.7h0M240.5 565.2h0M237.4 533.8h0M242.1 569.5h0M231.1 548.2h0M246.2 532.4h0M214.3 568.1h0M235.3 557.2h0M230.7 524.9h0M258.6 538.8h0M236.1 539.6h0M232.8 568.4h0M245.0 554.2h0M244.7 530.0h0M215.6 561.9h0M237.9 543.3h0M252.1 550.1h0M249.1 562.1h0M254.6 542.2h0M232.8 525.3h0M234.5 554.7h0M231.8 546.0h0M219.0 554.7h0M214.3 556.5h0M239.8 542.2h0M236.5 530.3h0M238.6 560.3h0M234.0 538.1h0M238.2 543.6h0M240.4 548.2h0M236.8 546.1h0M236.3 557.0h0M211.7 552.1h0M229.4 532.3h0M227.7 556.7h0M248.1 553.7h0M210.4 546.3h0M251.5 560.1h0M237.1 539.1h0M267.5 524.2h0M243.4 534.1h0M232.9 556.1h0M250.8 560.5h0M255.6 562.9h0M225.4 569.7h0M221.8 526.2h0M228.2 553.2h0M211.0 558.6h0M225.2 524.9h0M221.3 543.6h0M228.4 538.2h0M235.3 558.2h0M285.1 558.0h0M234.8 528.5h0M225.7 553.3h0M233.0 534.3h0M242.8 535.4h0M254.3 553.7h0M214.8 558.0h0M220.3 560.2h0M222.5 529.7h0M214.6 550.9h0M230.0 563.0h0M216.8 552.2h0M222.2 538.6h0M216.7 562.7h0M221.7 527.7h0M222.4 551.3h0M225.3 549.5h0M235.3 541.6h0M264.5 542.1h0M237.8 554.8h0M248.6 561.0h0M241.1 556.1h0M248.9 559.2h0M239.2 566.5h0M224.2 530.5h0M250.6 541.8h0M222.6 538.6h0M251.8 566.3h0M238.1 538.3h0M228.0 548.1h0M291.3 565.0h0M227.2 545.7h0M221.9 526.9h0M250.1 568.9h0M222.9 530.1h0M244.9 534.2h0M215.3 548.0h0M229.1 527.3h0M223.7 557.2h0M245.1 562.9h0M220.9 533.3h0M265.8 537.4h0M227.4 539.9h0M237.3 567.4h0M238.7 567.1h0M236.7 542.8h0M219.4 568.9h0M253.8 561.1h0M237.2 547.5h0M224.6 560.9h0M219.7 567.9h0M246.8 549.6h0M218.4 565.0h0M216.6 561.7h0M275.3 551.4h0M217.0 560.9h0M249.2 557.8h0M224.9 547.1h0M212.2 548.7h0M211.5 555.5h0M235.5 530.7h0M237.5 565.3h0M235.3 550.6h0M226.9 528.8h0M238.1 538.5h0M227.1 533.5h0M237.2 557.4h0M213.0 563.4h0M229.3 553.5h0M236.3 557.2h0M224.7 529.1h0M230.8 531.4h0M214.6 545.8h0M213.8 555.1h0M222.8 524.3h0M224.0 556.2h0M244.8 562.9h0M223.8 542.9h0M230.0 553.7h0M265.3 528.1h0M228.7 525.9h0M273.1 519.8h0M240.1 567.3h0M232.3 536.4h0M239.7 565.8h0M251.0 545.0h0M285.6 562.5h0M231.5 567.0h0M217.5 552.7h0M236.7 566.2h0M235.0 555.2h0M224.1 564.2h0M228.9 566.2h0M233.8 554.2h0M221.0 533.5h0M240.5 549.5h0M279.0 532.9h0M251.1 531.9h0M216.2 538.8h0M252.8 558.1h0M225.1 549.6h0M210.8 558.8h0M233.8 526.0h0M267.4 550.6h0M222.0 546.0h0M247.6 572.0h0M231.9 561.8h0M242.1 546.4h0M218.0 562.2h0M235.3 540.6h0M219.4 524.9h0M250.1 566.3h0M237.4 548.3h0M248.2 555.1h0M228.8 555.8h0M230.4 534.1h0M260.6 545.7h0M252.8 551.4h0M227.8 535.4h0M244.6 550.6h0M236.0 568.0h0M225.3 524.0h0M260.9 537.6h0M233.2 558.6h0M229.4 567.0h0M221.1 549.2h0M219.6 536.7h0M231.1 551.7h0M224.5 532.3h0M233.6 554.1h0M247.0 561.2h0M258.4 544.7h0M240.6 555.5h0M294.9 571.6h0M215.9 550.7h0M226.5 557.2h0M243.5 567.1h0M218.4 544.2h0M227.6 558.7h0M236.6 542.2h0M221.5 554.4h0M237.4 565.0h0M229.0 567.9h0M246.3 544.5h0M233.4 562.7h0M224.7 544.1h0M227.9 530.0h0M253.3 560.0h0M246.3 540.4h0M241.7 563.9h0M251.0 546.6h0M228.3 555.1h0M226.7 566.6h0M239.1 534.7h0M298.0 569.9h0M215.3 554.0h0M217.2 562.8h0M238.9 554.3h0M213.0 559.7h0M221.4 560.5h0M228.1 543.5h0M245.7 535.7h0M247.4 563.2h0M236.4 545.9h0M238.4 567.1h0M224.7 565.0h0M266.6 542.8h0M246.8 533.2h0M248.1 536.6h0M238.1 562.8h0M236.4 541.7h0M222.6 543.6h0M215.2 566.4h0M228.9 534.4h0M216.5 564.6h0M234.4 557.9h0M246.3 558.4h0M225.1 569.2h0M284.5 549.4h0M256.5 536.2h0M228.8 537.4h0M223.4 529.4h0M248.1 571.6h0M249.2 552.9h0M217.7 558.0h0M223.4 555.6h0M220.5 566.6h0M210.8 554.2h0M232.3 566.1h0M219.7 570.2h0M242.3 560.7h0M226.0 546.4h0M245.5 565.6h0M234.3 549.6h0M276.5 556.3h0M262.2 550.3h0M232.8 529.5h0M264.6 546.0h0M255.9 550.8h0M210.8 549.9h0M211.7 548.9h0M266.5 545.5h0M245.2 532.9h0M229.9 550.0h0M226.6 572.2h0M238.1 540.9h0M251.2 556.6h0M216.9 532.4h0M231.6 525.0h0M247.8 562.3h0M230.4 530.5h0M247.1 554.9h0M231.6 552.0h0M219.7 563.8h0M221.9 561.0h0M219.4 569.9h0M230.1 536.0h0M234.3 543.0h0M256.2 551.6h0M225.3 568.7h0M236.2 528.0h0M230.8 558.9h0M220.5 553.4h0M239.8 530.5h0M266.3 549.8h0M248.5 546.5h0M229.3 561.4h0M216.2 557.9h0M235.1 566.2h0M214.2 555.7h0M253.6 563.7h0M305.2 558.7h0M226.5 535.2h0M225.3 535.5h0M243.1 559.4h0M222.8 532.5h0M246.1 558.2h0M225.3 552.1h0M239.7 545.4h0M227.6 545.9h0M221.5 533.8h0M210.1 544.9h0M211.0 559.0h0M222.5 542.0h0M263.3 553.9h0M218.4 562.5h0M231.3 547.9h0M256.2 560.4h0M219.8 546.6h0M239.2 560.6h0M238.4 535.6h0M220.9 557.1h0M253.8 535.4h0M218.8 531.6h0M251.0 551.9h0M231.2 551.4h0M231.5 571.4h0M252.8 536.6h0M252.4 563.5h0M244.8 562.0h0M224.8 570.6h0M279.1 556.3h0M217.8 569.1h0M251.2 556.6h0M249.8 558.1h0M226.7 551.0h0M248.6 566.9h0M229.1 525.3h0M235.8 554.6h0M216.9 535.9h0M298.3 562.5h0M242.7 566.4h0M225.7 542.3h0M224.6 558.8h0M226.0 547.3h0M228.0 529.5h0M252.1 537.0h0M298.6 586.9h0M216.8 557.4h0M213.2 564.1h0M314.9 582.5h0M234.3 566.6h0M237.7 563.8h0M218.6 562.4h0M231.9 554.0h0M243.9 566.1h0M234.7 552.4h0M238.8 535.2h0M233.0 543.3h0M228.8 539.4h0M224.3 543.1h0M220.3 538.2h0M256.6 546.1h0M213.6 544.2h0M250.1 561.1h0M227.5 569.2h0M234.7 568.2h0M222.0 560.2h0M212.9 560.2h0M221.5 540.7h0M226.0 542.7h0M222.9 547.0h0M256.5 532.7h0M225.4 566.0h0M217.4 532.2h0M251.3 560.3h0M212.8 557.9h0M221.0 566.1h0M227.3 561.4h0M225.0 527.5h0M232.0 538.1h0M256.3 552.7h0M245.0 535.1h0M243.2 569.3h0M240.9 530.2h0M220.5 529.2h0M212.5 555.3h0M217.0 546.4h0M274.3 554.1h0M225.4 564.9h0M223.9 539.5h0M224.6 565.3h0M237.7 533.5h0M246.7 546.3h0M213.6 563.8h0M280.4 522.8h0M260.6 549.6h0M224.0 526.5h0M248.0 541.8h0M249.6 547.9h0M227.9 566.0h0M281.6 536.7h0M216.9 543.1h0M240.8 564.6h0M260.4 542.1h0M235.8 564.2h0M216.1 543.4h0M222.6 534.0h0M214.0 565.6h0M232.0 527.9h0M235.3 557.3h0M231.7 532.7h0M214.9 556.9h0M231.2 566.3h0M210.1 553.1h0M228.6 529.1h0M252.2 563.0h0M218.5 549.4h0M229.8 568.6h0M223.8 528.9h0M238.7 549.1h0M322.7 559.9h0M225.8 570.1h0M216.3 567.5h0M234.9 545.7h0M222.8 567.3h0M220.3 532.7h0M235.3 536.5h0M210.0 555.4h0M244.1 544.3h0M236.6 546.9h0M263.7 542.6h0M237.2 541.8h0M247.6 552.0h0M235.3 566.3h0M217.2 554.4h0M226.6 539.4h0M233.0 534.3h0M216.5 546.7h0M229.7 525.7h0M215.2 556.3h0M216.9 546.4h0M244.9 568.6h0M238.2 534.6h0M225.0 558.3h0M233.4 531.4h0M227.0 528.8h0M217.9 547.3h0M226.5 552.7h0M245.5 552.9h0M235.6 531.1h0M224.8 522.0h0M223.1 536.3h0M256.5 542.4h0M228.4 528.1h0M260.2 545.2h0M219.4 531.3h0M231.6 543.8h0M240.2 558.2h0M222.6 568.4h0M241.6 565.0h0M240.7 562.4h0M213.3 546.0h0M241.7 558.4h0M231.1 560.7h0M250.3 554.7h0M232.5 525.6h0M223.8 538.7h0M244.3 554.8h0M243.0 562.5h0M259.8 552.9h0M225.1 527.1h0M223.7 525.9h0M239.6 562.3h0M225.8 555.2h0M235.2 552.0h0M245.0 558.8h0M252.9 561.6h0M231.4 540.4h0M257.3 543.3h0M272.3 546.7h0M217.4 546.1h0M216.8 543.3h0M227.7 540.4h0M229.1 559.8h0M233.0 549.4h0M215.6 546.2h0M223.1 544.5h0M250.2 558.8h0M238.3 566.3h0M227.7 548.1h0M222.4 537.1h0M215.4 571.0h0M227.6 567.0h0M225.4 552.6h0M227.6 566.1h0M243.6 559.0h0M228.9 536.3h0M230.1 541.0h0M242.4 538.7h0M252.4 545.4h0M237.4 532.2h0M242.7 551.4h0M225.2 542.9h0M238.5 567.9h0M235.9 553.5h0M245.3 539.8h0M243.0 556.8h0M235.6 542.2h0M223.9 554.0h0M237.5 561.6h0M235.6 568.7h0M240.6 540.4h0M218.8 559.3h0M265.0 547.2h0M231.1 564.0h0M240.7 541.2h0M240.6 543.8h0M229.9 525.2h0M214.9 558.9h0M227.1 538.0h0M231.8 524.7h0M266.4 547.8h0M214.8 541.0h0M286.1 560.1h0M277.7 553.6h0M223.0 538.0h0M235.7 547.4h0M260.9 542.6h0M216.9 566.7h0M234.9 556.1h0M248.4 568.2h0M252.5 560.3h0M219.6 537.1h0M216.2 548.3h0M230.5 567.6h0M246.7 536.7h0M243.2 554.9h0M258.0 561.1h0M239.2 562.4h0M247.0 535.9h0M225.9 545.9h0M215.2 544.1h0M221.5 554.5h0M211.9 559.6h0M227.2 533.6h0M229.0 547.6h0M228.8 540.8h0M218.5 549.5h0M223.9 550.5h0M232.5 526.7h0M228.0 562.1h0M214.3 555.0h0M226.5 548.5h0M238.1 565.9h0M243.7 568.3h0M229.9 556.6h0M242.2 567.6h0M227.8 547.3h0M235.9 547.5h0M237.5 541.4h0M235.3 528.5h0M221.4 565.0h0M212.4 548.1h0M232.1 564.2h0M238.2 558.4h0M220.8 548.2h0M239.4 547.7h0M224.5 553.6h0M233.4 565.3h0M220.1 565.2h0M248.4 553.0h0M219.9 556.2h0M231.1 525.7h0M219.4 568.3h0M213.4 564.5h0M219.1 558.1h0M232.9 529.3h0M231.8 525.4h0M229.5 553.2h0M236.1 531.7h0M220.3 564.4h0M214.3 555.8h0M237.0 560.9h0M262.5 553.2h0M236.6 557.9h0M245.3 545.6h0M264.9 536.1h0M248.2 568.0h0M242.7 548.9h0M226.4 560.7h0M219.9 533.3h0M230.0 544.8h0M237.7 531.7h0M213.3 545.4h0M250.2 557.7h0M219.0 568.2h0M216.9 550.9h0M233.4 566.5h0M246.0 560.1h0M216.4 543.1h0M216.4 553.8h0M219.2 548.2h0M216.3 546.1h0M229.6 562.3h0M237.8 540.0h0M227.2 568.4h0M268.8 526.4h0M222.1 571.2h0M212.2 561.1h0M221.8 539.9h0M235.4 556.7h0M263.7 542.0h0M229.1 558.4h0M238.7 542.0h0M217.6 537.9h0M232.9 524.0h0M227.4 557.1h0M238.2 552.0h0M246.5 531.6h0M225.0 536.3h0M236.3 545.5h0M226.5 552.8h0M239.4 543.4h0M221.5 553.6h0M240.0 554.1h0M264.8 552.8h0M224.6 568.8h0M248.6 535.2h0M243.1 561.5h0M239.9 553.7h0M218.8 567.6h0M251.3 567.5h0M235.5 549.3h0M228.2 554.1h0M247.8 533.3h0M212.9 557.1h0M239.5 556.5h0M251.4 551.6h0M218.5 538.7h0M218.3 537.5h0M230.2 562.7h0M211.0 551.9h0M238.9 548.2h0M247.4 554.7h0M272.1 550.0h0M246.3 534.9h0M222.2 541.4h0M238.5 554.8h0M291.2 566.5h0M248.5 559.0h0M224.0 567.8h0M223.0 553.4h0M258.3 535.1h0M240.9 549.6h0M232.7 539.5h0M219.1 541.6h0M231.8 527.3h0M210.6 550.1h0M229.4 566.7h0M224.1 560.2h0M235.8 551.5h0M217.4 563.4h0M231.3 550.5h0M247.8 553.2h0M221.6 555.9h0M225.5 548.5h0M232.2 548.2h0M237.4 553.5h0M216.9 535.2h0M254.9 553.3h0M257.3 547.7h0M221.4 547.3h0M218.6 549.3h0M245.6 536.6h0M241.4 549.8h0M235.8 551.6h0M217.9 545.0h0M214.4 548.9h0M227.7 543.6h0M234.4 562.9h0M230.5 542.3h0M237.8 540.5h0M228.8 545.2h0M217.2 543.7h0M258.4 544.2h0M251.5 562.6h0M254.0 548.1h0M254.2 556.3h0M231.5 549.6h0M220.9 543.4h0M226.3 536.3h0M230.1 548.5h0M238.7 553.6h0M306.0 560.7h0M238.3 548.4h0M233.0 538.3h0M233.0 539.4h0M250.4 564.2h0M257.7 557.3h0M235.8 566.3h0M240.1 540.2h0M218.6 565.6h0M216.9 541.8h0M268.5 523.4h0M234.7 523.6h0M215.4 550.0h0M237.9 552.3h0M229.1 543.0h0M218.3 533.3h0M268.8 542.7h0M235.5 534.0h0M227.6 552.5h0M242.0 549.7h0M231.5 556.1h0M252.1 555.1h0M214.8 562.8h0M221.5 526.0h0M242.8 533.0h0M222.3 539.5h0M245.0 562.0h0M231.9 570.2h0M233.4 524.9h0M212.1 551.3h0M224.8 562.4h0M233.7 535.9h0M239.8 553.5h0M232.7 544.5h0M272.3 552.9h0M214.7 560.8h0M231.9 546.3h0M253.1 560.5h0M229.1 563.2h0M264.7 542.0h0M263.8 548.1h0M224.5 563.7h0M243.9 555.2h0M244.4 560.3h0M222.1 531.6h0M228.5 564.8h0M217.9 556.4h0M225.4 560.7h0M241.0 558.9h0M218.9 564.3h0M230.3 556.4h0M214.6 562.7h0M219.3 522.2h0M237.1 555.4h0M257.1 535.7h0M225.7 566.4h0M250.3 544.9h0M241.0 544.8h0M236.2 540.4h0M236.1 549.3h0M234.6 564.1h0M317.9 559.9h0M246.2 558.2h0M245.2 551.4h0M228.6 554.1h0M222.8 547.8h0M260.3 548.5h0M224.2 540.7h0M248.7 544.7h0M229.9 542.7h0M230.3 544.1h0M237.5 559.6h0M218.7 553.6h0M215.5 551.5h0M256.6 557.7h0M240.8 548.9h0M223.1 536.9h0M233.0 542.4h0M231.5 558.1h0M307.4 571.7h0M231.9 560.4h0M230.2 545.5h0M229.8 550.9h0M238.9 563.8h0M219.2 563.9h0M243.6 562.5h0M244.5 570.4h0M235.2 537.4h0M239.6 548.7h0M246.5 569.0h0M225.2 522.4h0M220.9 534.1h0M242.0 548.1h0M220.9 550.8h0M247.2 572.3h0M307.8 566.3h0M244.1 531.7h0M240.4 556.1h0M245.1 554.2h0M262.3 536.8h0M241.5 552.9h0M246.0 565.5h0M233.8 555.4h0M241.8 562.1h0M234.7 527.9h0M232.3 556.0h0M225.9 553.8h0M216.8 553.2h0M235.1 540.1h0M210.3 556.2h0M237.5 562.3h0M248.9 556.7h0M238.0 551.8h0M241.1 555.0h0M234.6 537.4h0M241.7 557.6h0M227.8 572.0h0M228.4 559.8h0M240.9 557.5h0M246.9 564.1h0M231.6 571.0h0M238.3 553.5h0M233.6 545.7h0M238.0 553.0h0M236.1 527.9h0M222.1 563.2h0M233.2 549.0h0M231.2 547.1h0M239.0 537.4h0M227.5 550.6h0M235.0 551.8h0M236.3 555.7h0M243.8 558.6h0M243.0 528.5h0M218.2 546.3h0M231.2 571.9h0M214.3 547.3h0M224.0 545.3h0M265.2 530.6h0M229.7 526.6h0M233.3 528.9h0M226.8 558.8h0M242.1 562.1h0M222.8 528.4h0M213.1 547.9h0M228.5 570.8h0M236.6 540.5h0M230.4 569.6h0M235.9 567.7h0M235.0 566.3h0M248.5 563.2h0M222.4 546.2h0M259.8 560.1h0M211.5 550.1h0M223.2 571.6h0M241.5 548.6h0M240.7 537.5h0M259.4 524.3h0M260.6 537.9h0M231.2 533.9h0M243.0 553.9h0M228.2 546.2h0M232.5 541.1h0M229.4 563.8h0M226.4 540.8h0M220.1 538.6h0M227.2 536.7h0M246.1 555.2h0M226.7 529.8h0M229.8 557.5h0M223.1 554.6h0M235.1 540.9h0M229.1 564.8h0M253.8 539.5h0M235.1 535.3h0M232.1 559.7h0M233.4 561.3h0M217.1 545.3h0M236.0 551.8h0M319.1 565.9h0M214.8 561.0h0M228.9 555.8h0M250.8 557.4h0M239.8 551.8h0M230.7 536.7h0M250.0 559.3h0M245.0 568.7h0M238.4 528.9h0M223.3 543.0h0M227.5 536.7h0M223.0 569.3h0M225.8 568.3h0M234.6 533.8h0M265.6 540.8h0M222.6 540.4h0M232.8 562.9h0M228.8 568.7h0M247.3 562.7h0M235.8 533.7h0M222.6 540.6h0M223.3 564.0h0M233.5 547.1h0M248.1 563.7h0M289.5 561.2h0M245.1 568.0h0M223.8 530.5h0M240.9 564.1h0M216.9 562.4h0M241.1 558.9h0M219.9 546.7h0M230.9 532.8h0M252.5 545.7h0M237.5 555.9h0M212.4 547.0h0M228.0 538.0h0M244.5 567.7h0M240.7 537.3h0M233.9 563.4h0M227.7 557.5h0M261.1 541.0h0M296.6 570.2h0M291.9 566.6h0M229.2 543.6h0M230.3 550.5h0M221.7 544.6h0M243.9 564.4h0M220.5 542.0h0M233.9 551.9h0M226.7 548.0h0M222.2 563.1h0M255.6 556.6h0M212.7 555.9h0M215.7 548.5h0M217.0 545.7h0M246.5 567.2h0M221.2 528.2h0M229.8 560.4h0M320.0 575.7h0M228.0 547.5h0M224.9 532.0h0M225.9 537.1h0M224.5 538.7h0M257.0 543.3h0M251.9 566.0h0M214.2 547.9h0M224.6 545.3h0M237.6 555.0h0M235.4 561.2h0M229.2 565.3h0M219.1 552.1h0M251.3 567.4h0M233.9 562.6h0M246.3 550.3h0M238.6 559.1h0M245.8 545.2h0M219.6 540.5h0M228.9 538.3h0M238.8 541.5h0M239.1 556.4h0M231.9 526.8h0M232.4 559.6h0M218.7 569.3h0M243.7 553.7h0M239.4 546.4h0M249.8 547.8h0M243.8 532.5h0M215.3 545.9h0M227.1 571.5h0M234.8 526.7h0M246.0 567.1h0M231.4 553.9h0M242.4 567.0h0M225.7 530.7h0M234.5 545.7h0M236.2 545.2h0M286.3 547.7h0M313.0 574.6h0M224.6 571.6h0M308.3 566.7h0M259.2 538.5h0M234.4 561.0h0M227.1 557.1h0M238.7 550.5h0M227.3 561.0h0M238.7 542.7h0M237.3 540.9h0M229.3 550.4h0M240.1 538.1h0M216.4 555.9h0M228.8 551.8h0M217.8 566.0h0M248.5 564.5h0M226.0 523.1h0M219.6 558.8h0M226.1 550.7h0M235.0 534.8h0M218.8 548.8h0M234.7 536.5h0M228.1 522.8h0M237.2 560.4h0M264.0 540.0h0M216.0 543.1h0M243.3 556.1h0M220.8 548.9h0M243.0 540.7h0M249.8 568.6h0M252.2 534.5h0M224.1 540.3h0M225.2 551.0h0M257.1 546.6h0M253.9 533.7h0M224.9 563.0h0M230.9 538.8h0M214.0 545.1h0M217.7 539.7h0M227.1 558.5h0M226.4 530.9h0M224.3 539.9h0M234.7 529.1h0M230.9 549.2h0M226.4 563.8h0M233.2 537.4h0M254.0 541.6h0M244.6 557.3h0M256.5 547.8h0M254.8 540.9h0M241.3 529.7h0M257.5 544.9h0M246.5 534.9h0M268.0 540.4h0M254.2 536.4h0M244.6 531.4h0M254.8 538.6h0M258.8 547.2h0M251.1 552.4h0M263.1 543.4h0M242.9 544.8h0M265.5 553.0h0M252.4 550.1h0M247.7 549.4h0M256.2 549.9h0M243.0 539.1h0M247.0 542.0h0M247.7 529.5h0M262.9 544.1h0M250.1 541.0h0M265.0 551.1h0M252.5 549.0h0M255.9 549.6h0M263.4 537.1h0M262.7 547.5h0M245.5 529.5h0M265.9 549.0h0M252.3 539.6h0M246.6 532.6h0M263.6 551.5h0M246.6 539.3h0M255.7 536.8h0M255.4 551.8h0M260.6 541.3h0M256.1 535.1h0M264.1 535.6h0M264.8 545.7h0M246.4 541.6h0M262.7 553.1h0M266.3 545.8h0M240.0 531.5h0M265.3 543.0h0M262.6 538.0h0M245.9 539.9h0M246.7 540.2h0M261.6 546.6h0M249.0 536.1h0M257.1 551.9h0M258.3 560.4h0M251.2 532.4h0M260.7 540.4h0M256.5 554.6h0M246.2 542.7h0M253.7 547.2h0M242.6 531.1h0M263.8 550.3h0M259.2 552.3h0M242.5 541.0h0M246.9 541.4h0M262.5 544.4h0M253.0 552.1h0M253.4 550.6h0M266.5 540.7h0M255.2 550.2h0M256.1 550.8h0M265.4 537.4h0M267.6 542.3h0M258.1 559.3h0M258.3 543.0h0M261.9 548.3h0M273.6 551.7h0M258.3 551.0h0M261.2 537.3h0M267.1 538.5h0M259.6 555.6h0M249.4 551.6h0M256.9 549.7h0M246.1 546.6h0M244.2 540.8h0M251.6 542.4h0M263.7 539.1h0M259.0 543.0h0M240.6 536.8h0M243.0 539.2h0M255.3 552.4h0M258.0 549.5h0M258.7 556.2h0M242.9 534.2h0M254.9 549.8h0M258.6 550.0h0M250.3 551.0h0M264.0 544.4h0M266.8 547.1h0M262.4 544.0h0M255.8 538.3h0M253.2 549.0h0M251.7 542.7h0M255.3 551.5h0M246.9 549.4h0M254.8 543.3h0M244.6 534.4h0M261.8 543.9h0M259.8 544.3h0M246.2 534.6h0M253.0 553.1h0M261.9 555.3h0M248.9 539.2h0M245.2 539.5h0M257.3 538.1h0M249.6 540.6h0M266.0 542.2h0M259.8 543.6h0M243.6 545.4h0M245.5 531.4h0M262.5 545.0h0M272.1 551.9h0M248.3 540.0h0M246.4 538.3h0M250.2 543.2h0M250.5 537.9h0M245.6 529.3h0M243.1 537.6h0M253.0 533.1h0M242.3 532.2h0M257.7 557.2h0M256.2 553.5h0" stroke="#f28a2e" stroke-width="1.05" stroke-linecap="round" stroke-opacity="0.9"/>
<path d="M252.0 536.3h0M226.7 561.4h0M209.9 557.1h0M219.7 531.4h0M307.1 555.8h0M259.5 524.6h0M268.6 541.1h0M231.9 571.2h0M259.5 540.4h0M213.2 563.6h0M214.6 560.6h0M229.8 524.6h0M230.8 549.3h0M262.6 538.9h0M222.8 524.5h0M226.7 572.1h0M227.1 550.8h0M233.8 556.7h0M289.2 566.7h0M212.3 557.8h0M228.9 570.9h0M225.3 557.3h0M234.9 543.2h0M214.3 550.2h0M250.2 562.4h0M227.5 545.2h0M219.9 569.5h0M247.5 556.0h0M228.9 544.5h0M244.6 548.6h0M224.5 558.9h0M226.9 570.5h0M244.1 561.9h0M262.1 548.4h0M230.6 547.5h0M241.5 548.0h0M237.4 555.8h0M259.1 542.5h0M220.6 553.7h0M234.2 537.0h0M229.0 533.7h0M212.9 555.3h0M215.1 559.3h0M223.6 553.6h0M222.8 537.4h0M230.1 528.9h0M240.1 560.3h0M229.4 542.6h0M274.3 553.1h0M282.4 553.5h0M245.6 570.8h0M248.1 559.5h0M216.5 543.4h0M235.7 545.9h0M232.3 552.4h0M238.0 543.7h0M230.5 545.3h0M235.9 534.8h0M239.4 542.8h0M274.3 521.6h0M258.2 555.8h0M289.2 565.8h0M252.8 559.5h0M218.8 552.5h0M249.0 553.2h0M216.9 544.3h0M219.3 535.5h0M234.6 550.2h0M298.0 571.4h0M218.1 547.2h0M242.8 553.6h0M226.6 537.8h0M276.2 553.8h0M222.8 541.4h0M231.3 561.7h0M215.1 549.7h0M251.9 566.6h0M249.4 560.1h0M271.4 553.5h0M231.2 541.8h0M224.9 559.8h0M220.5 544.7h0M214.4 567.3h0M225.0 538.2h0M234.5 528.8h0M220.4 569.6h0M237.5 543.2h0M240.3 539.0h0M219.5 547.1h0M219.6 550.9h0M241.6 533.4h0M211.9 560.4h0M293.6 563.5h0M247.2 565.2h0M226.3 526.0h0M240.3 544.4h0M223.7 566.1h0M262.7 554.8h0M221.2 530.0h0M241.4 568.2h0M245.4 557.1h0M236.5 547.3h0M234.9 570.5h0M217.7 560.0h0M224.3 552.7h0M248.6 546.9h0M221.5 535.9h0M221.6 531.8h0M225.6 549.9h0M228.6 565.2h0M233.7 527.3h0M241.6 529.2h0M318.9 571.6h0M276.7 554.5h0M235.9 560.1h0M218.7 542.3h0M215.0 544.0h0M231.9 570.2h0M251.4 561.3h0M215.0 550.2h0M287.7 560.3h0M233.3 526.6h0M215.8 546.5h0M237.7 545.8h0M249.1 562.7h0M230.2 528.4h0M236.4 564.9h0M222.1 571.9h0M225.6 568.1h0M284.7 559.4h0M296.5 571.9h0M249.2 559.4h0M214.3 542.6h0M218.7 564.4h0M244.5 553.3h0M241.6 563.2h0M233.4 541.5h0M250.0 548.7h0M227.4 559.0h0M237.5 533.6h0M228.4 561.4h0M221.3 568.5h0M230.0 543.1h0M217.5 564.2h0M234.7 537.6h0M233.4 528.1h0M219.9 564.7h0M227.4 541.1h0M230.8 531.3h0M235.8 539.4h0M234.7 550.8h0M219.5 568.2h0M215.9 545.0h0M314.2 573.8h0M229.1 547.8h0M227.5 542.3h0M266.6 548.8h0M262.5 539.6h0M228.2 555.2h0M236.1 563.0h0M227.1 558.1h0M218.6 559.8h0M235.9 564.9h0M251.9 548.9h0M238.9 564.3h0M242.0 544.1h0M220.7 556.4h0M233.1 526.9h0M225.9 568.6h0M212.7 553.5h0M215.6 551.1h0M253.8 565.8h0M252.6 550.7h0M245.9 535.0h0M273.3 547.0h0M253.3 559.6h0M246.8 567.0h0M220.7 532.0h0M228.0 553.7h0M216.3 538.7h0M213.0 548.2h0M237.3 536.0h0M230.7 558.6h0M213.4 554.8h0M220.3 553.6h0M225.7 558.6h0M240.2 553.6h0M245.8 565.3h0M218.8 533.0h0M221.3 563.6h0M220.9 559.6h0M256.1 539.8h0M218.5 535.8h0M228.7 566.9h0M259.4 556.2h0M247.8 568.2h0M248.6 553.2h0M212.4 559.3h0M231.9 557.2h0M219.6 544.2h0M305.4 573.2h0M247.6 548.8h0M216.1 547.8h0M217.4 556.4h0M299.7 572.0h0M233.8 543.1h0M251.5 563.3h0M237.9 548.6h0M240.0 558.5h0M246.8 556.4h0M299.4 573.9h0M217.5 553.2h0M220.3 551.0h0M229.8 556.0h0M227.1 558.4h0M227.9 571.8h0M262.9 533.9h0M248.8 556.9h0M253.1 549.9h0M253.2 564.1h0M225.3 572.1h0M252.2 558.8h0M259.0 557.1h0M228.5 566.5h0M229.6 556.8h0M226.3 532.4h0M233.4 529.9h0M227.5 545.5h0M251.4 546.8h0M238.8 560.8h0M304.8 574.7h0M244.5 556.3h0M227.6 556.3h0M240.4 544.0h0M246.1 558.4h0M227.3 564.5h0M218.2 547.9h0M263.8 542.5h0M237.7 532.1h0M292.5 567.2h0M226.1 537.7h0M231.4 549.9h0M258.0 541.1h0M246.8 565.5h0M245.7 560.3h0M236.4 536.9h0M250.1 557.6h0M232.3 559.4h0M225.4 530.9h0M239.8 556.1h0M223.0 534.9h0M221.3 541.1h0M245.9 568.9h0M222.9 538.2h0M212.0 557.5h0M250.9 554.6h0M232.0 538.1h0M305.4 567.0h0M292.8 569.3h0M237.0 550.3h0M264.4 525.9h0M243.4 538.3h0M229.7 554.9h0M219.6 541.2h0M252.4 552.0h0M216.4 538.8h0M212.5 543.8h0M259.6 558.9h0M216.3 562.0h0M232.5 556.0h0M243.2 567.1h0M301.0 571.1h0M234.3 562.9h0M212.2 562.7h0M243.5 554.9h0M218.2 556.2h0M232.5 555.3h0M267.2 551.1h0M261.4 537.5h0M247.3 565.4h0M229.6 547.9h0M223.2 539.4h0M235.5 551.9h0M250.2 535.9h0M250.2 563.2h0M229.8 536.8h0M272.0 552.6h0M307.7 590.2h0M246.6 557.4h0M231.3 545.7h0M269.7 540.4h0M249.2 565.9h0M217.5 547.1h0M261.6 537.1h0M229.9 551.5h0M221.0 537.1h0M252.2 565.0h0M236.1 530.6h0M227.4 570.5h0M219.9 542.2h0M236.4 533.8h0M290.7 567.7h0M246.4 561.9h0M221.1 571.3h0M217.6 536.0h0M223.2 563.9h0M214.4 557.0h0M225.5 545.8h0M242.7 560.9h0M246.5 570.0h0M247.1 563.7h0M308.2 591.3h0M245.7 535.5h0M211.4 548.8h0M227.3 568.0h0M250.2 560.0h0M211.4 549.9h0M220.8 551.0h0M218.9 535.4h0M233.0 555.0h0M215.9 540.3h0M225.4 552.2h0M215.4 554.1h0M230.4 527.6h0M227.8 528.2h0M236.1 554.0h0M226.8 531.6h0M229.9 537.8h0M226.0 555.7h0M250.8 556.7h0M238.5 536.9h0M221.6 533.0h0M265.4 538.4h0M247.4 557.7h0M231.3 558.0h0M233.8 543.4h0M235.1 555.0h0M223.1 543.0h0M274.6 548.1h0M266.4 548.2h0M236.3 541.9h0M253.2 560.7h0M242.2 546.8h0M235.5 536.3h0M246.7 565.6h0M229.3 524.5h0M240.1 541.8h0M217.5 544.3h0M245.4 552.3h0M236.3 557.1h0M218.1 559.2h0M233.7 560.6h0M248.4 565.4h0M224.7 522.8h0M222.9 543.9h0M261.8 534.9h0M217.0 550.3h0M223.7 560.1h0M235.1 534.9h0M242.0 551.0h0M225.6 536.9h0M247.8 559.4h0M216.1 546.5h0M220.3 535.9h0M226.1 550.2h0M231.7 533.0h0M225.5 529.0h0M226.1 528.5h0M236.3 537.0h0M220.3 560.1h0M235.7 531.8h0M240.1 553.6h0M239.4 556.9h0M230.1 558.7h0M231.6 541.5h0M244.3 551.5h0M226.1 533.0h0M224.5 564.0h0M250.5 564.6h0M221.0 530.5h0M287.3 566.5h0M238.9 548.0h0M215.2 542.0h0M228.6 566.0h0M223.7 538.5h0M211.4 545.3h0M243.3 531.2h0M247.3 530.3h0M220.5 556.8h0M318.7 586.2h0M317.2 590.9h0M251.3 547.4h0M215.9 551.1h0M225.9 556.3h0M234.6 564.2h0M245.0 565.7h0M217.5 554.0h0M250.2 531.2h0M242.3 564.6h0M227.9 560.2h0M258.5 542.1h0M240.8 562.1h0M225.7 555.7h0M240.5 550.2h0M227.1 535.5h0M218.6 550.8h0M296.4 576.9h0M221.6 555.6h0M258.9 545.7h0M214.8 540.5h0M246.5 561.2h0M246.4 534.5h0M236.0 564.6h0M241.0 544.4h0M240.4 566.6h0M234.8 534.0h0M251.2 563.4h0M246.3 563.9h0M293.5 571.9h0M224.9 523.5h0M212.0 553.4h0M218.9 544.4h0M240.6 550.7h0M234.3 540.2h0M221.2 550.3h0M293.7 565.9h0M260.2 550.0h0M220.7 536.9h0M242.5 565.2h0M265.6 545.1h0M252.4 534.2h0M252.3 532.4h0M228.9 561.9h0M225.1 544.1h0M228.8 558.1h0M243.6 550.5h0M223.4 536.6h0M220.0 568.9h0M215.3 566.6h0M215.2 546.5h0M215.8 545.0h0M214.2 554.1h0M233.2 569.8h0M212.6 556.0h0M220.2 557.7h0M246.1 555.3h0M249.9 553.0h0M247.9 561.4h0M223.6 545.9h0M269.8 549.4h0M222.5 562.1h0M221.5 529.2h0M230.1 553.5h0M222.4 563.5h0M260.9 546.6h0M231.4 540.1h0M299.5 560.0h0M219.9 547.2h0M244.3 543.2h0M244.0 557.1h0M300.5 590.3h0M264.0 551.7h0M236.6 537.6h0M283.1 558.3h0M243.0 545.0h0M245.8 570.6h0M224.5 561.5h0M221.7 531.2h0M218.4 548.2h0M224.5 525.8h0M215.0 547.6h0M233.2 525.5h0M219.5 568.2h0M231.0 551.5h0M242.6 553.5h0M241.9 557.8h0M249.3 558.5h0M265.9 541.3h0M275.2 557.4h0M232.5 525.4h0M222.5 553.4h0M277.8 554.5h0M212.5 550.9h0M224.5 554.7h0M218.7 536.5h0M248.9 559.6h0M217.2 566.6h0M233.5 539.6h0M217.8 550.7h0M228.2 528.9h0M276.1 547.0h0M226.2 546.0h0M230.9 540.3h0M230.9 539.8h0M245.8 554.1h0M256.5 537.0h0M230.9 534.2h0M223.1 525.8h0M225.0 565.7h0M228.6 563.0h0M217.0 556.2h0M286.8 564.5h0M214.0 554.0h0M218.8 540.2h0M223.8 526.8h0M245.2 541.4h0M235.4 555.9h0M310.4 590.4h0M232.9 537.3h0M218.4 530.8h0M266.2 545.6h0M242.6 536.3h0M236.1 548.2h0M289.3 565.3h0M221.9 545.4h0M231.6 545.3h0M235.8 528.7h0M222.6 546.2h0M227.2 564.9h0M246.2 556.9h0M217.8 564.5h0M235.6 553.0h0M239.2 549.2h0M222.5 550.4h0M237.0 561.7h0M228.1 533.9h0M233.1 525.7h0M287.6 561.5h0M281.4 557.7h0M217.9 574.0h0M220.3 546.3h0M226.4 563.3h0M311.2 581.0h0M216.2 553.5h0M218.0 567.1h0M217.8 565.5h0M302.1 569.0h0M250.5 560.1h0M223.3 540.6h0M213.6 560.3h0M238.7 546.8h0M218.0 573.0h0M229.2 522.5h0M225.2 525.1h0M226.1 565.1h0M244.6 552.8h0M256.1 546.3h0M254.7 544.2h0M289.9 563.5h0M249.1 569.2h0M240.2 541.4h0M267.7 545.0h0M224.4 563.3h0M218.1 569.8h0M235.6 537.6h0M231.2 564.2h0M257.8 551.1h0M245.6 566.2h0M282.9 558.6h0M211.5 553.0h0M228.9 557.2h0M226.9 551.9h0M236.8 562.0h0M224.9 543.1h0M300.3 572.6h0M230.1 566.2h0M274.8 550.3h0M251.2 561.2h0M245.8 537.1h0M231.0 554.4h0M221.3 545.3h0M297.7 569.5h0M245.4 571.5h0M310.6 562.9h0M240.7 532.7h0M244.9 550.1h0M226.0 540.1h0M211.9 560.6h0M299.5 572.3h0M303.1 592.3h0M248.9 537.5h0M259.0 556.7h0M304.0 573.7h0M269.2 546.4h0M234.8 530.5h0M241.0 563.7h0M231.5 547.3h0M217.8 547.0h0M218.6 548.9h0M211.3 555.8h0M242.4 533.1h0M223.2 543.1h0M233.5 533.4h0M243.6 563.9h0M226.1 547.3h0M247.3 549.3h0M258.5 538.0h0M295.9 569.6h0M244.5 552.7h0M257.3 544.1h0M232.2 557.9h0M225.4 523.4h0M265.6 539.4h0M226.7 551.4h0M223.0 531.0h0M307.2 576.8h0M225.8 566.0h0M221.4 535.6h0M229.7 566.6h0M277.9 523.4h0M250.2 543.1h0M247.0 544.2h0M226.0 531.4h0M226.4 556.6h0M229.9 532.5h0M215.4 559.1h0M216.7 558.3h0M217.4 558.1h0M233.1 561.2h0M256.4 553.2h0M294.3 571.2h0M235.4 545.2h0M211.9 561.2h0M215.8 546.2h0M231.5 535.4h0M265.6 522.4h0M218.2 560.3h0M233.6 533.7h0M224.7 532.3h0M231.4 529.8h0M223.7 528.6h0M226.1 568.5h0M241.7 549.2h0M292.6 569.7h0M288.4 536.0h0M220.5 536.1h0M257.4 540.6h0M261.0 557.1h0M227.5 527.9h0M224.6 562.8h0M234.9 562.5h0M230.8 556.2h0M250.5 556.9h0M223.6 548.1h0M227.1 530.6h0M264.6 539.0h0M217.6 562.3h0M236.3 547.2h0M223.4 567.9h0M218.3 540.1h0M236.6 538.9h0M227.6 565.0h0M244.8 561.4h0M267.7 542.2h0M234.0 527.0h0M247.6 529.0h0M261.7 553.9h0M247.9 549.1h0M252.9 549.1h0M268.3 544.8h0M260.4 537.7h0M259.5 539.4h0M261.9 544.5h0M255.5 536.1h0M249.8 551.9h0M256.5 536.7h0M262.5 553.7h0M251.6 539.1h0M254.8 538.7h0M267.4 546.8h0M266.4 546.1h0M243.9 542.8h0M244.8 529.3h0M248.7 531.5h0M272.7 546.2h0M257.5 537.2h0M247.6 535.0h0M253.9 549.6h0M254.2 535.9h0M263.0 550.6h0M266.9 550.4h0M244.2 545.9h0M255.3 555.4h0M259.6 551.2h0M261.5 534.3h0M266.6 546.8h0M255.9 551.5h0M257.3 554.6h0M261.7 553.9h0M250.7 551.4h0M259.6 537.7h0M248.5 543.4h0M248.6 535.3h0M246.7 548.1h0M258.9 537.2h0M253.6 555.2h0M248.0 533.7h0M260.0 549.3h0M242.3 536.8h0M263.7 552.1h0M259.0 550.0h0M262.3 547.8h0M263.7 543.7h0M256.2 537.1h0M263.7 549.9h0M265.6 536.9h0M251.8 543.8h0M260.8 542.5h0M254.8 557.1h0M262.3 541.5h0M246.2 536.3h0M265.9 544.7h0M241.5 530.9h0M269.1 548.3h0M251.4 546.9h0" stroke="#717a84" stroke-width="1" stroke-linecap="round" stroke-opacity="0.85"/>
<circle cx="228.8" cy="623" r="2.1" fill="#f28a2e" stroke="none" stroke-width="0.6"/>
<text x="233.3" y="625.3" font-size="7.6">Positive</text>
<circle cx="270" cy="623" r="2.1" fill="#2a70b0" stroke="none" stroke-width="0.6"/>
<text x="274.3" y="625.3" font-size="7.6">Negative</text>
<text x="354.2" y="499.4" font-size="10.1" font-weight="bold" style="stroke-width:0.35px">G</text>
<rect x="366.5" y="508.5" width="125.4" height="92.8" fill="none" stroke="#a7a9ac" stroke-width="0.9"/>
<text x="429.3" y="503.5" font-size="8.7" text-anchor="middle">Clonal expansion</text>
<text transform="translate(365.0 555.5) rotate(-90)" font-size="8.7" text-anchor="middle">UMAP2</text>
<text x="428.8" y="611.3" font-size="8.7" text-anchor="middle">UMAP1</text>
<polygon points="378.4,540.4 374.9,544 373.1,550 372.9,557 374.9,564 378.9,569 384.9,572 391.9,572.5 396.9,570 400.6,567.9 403.9,570.5 408.9,572.6 413.9,570 415.9,565 415.9,558 412.9,553 407.9,550 404.9,548.5 402.5,543.5 396.5,540.5 386.5,538.5" fill="#cf98a2" fill-opacity="0.35" filter="url(#soft)"/>
<polygon points="386.9,522.4 392.9,523 398.5,526.6 402.9,536 405.9,549.9 405.4,558 403.8,561.5 390.9,551 378.4,540.4 378.9,532 381.4,526" fill="#cf98a2" fill-opacity="0.35" filter="url(#soft)"/>
<polygon points="464.5,557.5 470.9,556 476.9,555 482.4,555 483.4,560 483.4,575 482.9,588 479.9,594 473.9,597 467.4,596 463.9,590 461.4,582 459.9,575 460.9,566 462.9,561" fill="#f4cdbf" fill-opacity="0.15" filter="url(#soft)"/>
<path d="M414.7 536.3h0M397.5 532.3h0M382.4 529.8h0M404.3 545.0h0M396.3 547.1h0M403.1 535.1h0M396.7 548.7h0M381.6 529.1h0M375.9 563.6h0M402.8 539.3h0M399.9 568.1h0M373.8 556.1h0M389.8 550.8h0M404.3 545.1h0M397.4 525.8h0M408.1 554.6h0M386.3 548.5h0M396.7 529.2h0M404.2 565.7h0M409.1 528.4h0M394.6 531.5h0M380.6 537.8h0M400.4 555.3h0M376.8 543.7h0M389.6 570.5h0M421.8 542.5h0M383.3 553.7h0M397.6 562.6h0M386.2 569.2h0M399.2 543.8h0M407.1 556.3h0M408.9 572.0h0M377.8 559.3h0M388.5 545.5h0M385.5 537.4h0M392.8 528.9h0M402.8 560.3h0M390.9 553.9h0M373.7 557.2h0M382.7 541.5h0M389.4 544.1h0M406.4 535.6h0M389.9 539.1h0M410.8 559.5h0M382.4 557.9h0M388.2 560.1h0M392.9 570.9h0M418.1 558.7h0M393.2 545.3h0M423.9 541.1h0M457.4 568.7h0M399.3 544.3h0M415.5 559.5h0M382.2 541.7h0M373.4 552.9h0M380.8 547.2h0M394.0 561.7h0M407.7 560.1h0M412.5 545.2h0M412.1 560.1h0M385.2 557.8h0M388.5 565.7h0M400.1 550.1h0M377.1 567.3h0M382.2 537.4h0M397.2 528.8h0M390.6 553.1h0M382.1 566.5h0M382.2 547.1h0M374.6 560.4h0M379.9 533.2h0M393.7 549.9h0M392.8 556.2h0M408.7 565.1h0M420.6 553.4h0M393.8 568.7h0M406.9 559.7h0M383.9 530.0h0M408.1 557.1h0M380.6 542.0h0M387.0 552.7h0M413.1 562.6h0M391.5 542.5h0M393.7 564.6h0M415.0 563.0h0M390.2 567.8h0M399.4 570.0h0M384.0 520.2h0M381.7 533.0h0M439.4 554.5h0M406.8 533.5h0M381.4 542.3h0M389.3 544.7h0M393.3 536.5h0M390.3 570.5h0M386.0 546.5h0M389.0 554.3h0M399.3 566.0h0M378.5 546.5h0M409.5 556.9h0M383.2 527.4h0M398.0 555.3h0M401.2 547.2h0M406.2 554.3h0M380.7 542.9h0M388.3 568.1h0M392.5 566.6h0M401.0 558.1h0M381.4 564.4h0M412.7 548.7h0M384.8 569.3h0M421.2 553.4h0M385.1 555.8h0M394.6 551.4h0M410.3 561.7h0M439.3 518.6h0M378.5 553.7h0M422.2 556.2h0M401.3 547.2h0M380.2 564.2h0M410.3 551.5h0M399.6 562.9h0M382.0 562.6h0M392.7 527.9h0M395.0 549.5h0M397.4 550.8h0M432.4 547.9h0M378.6 545.0h0M381.6 566.4h0M382.1 526.7h0M390.2 542.3h0M386.6 563.6h0M413.6 560.3h0M397.8 542.3h0M398.8 563.0h0M389.8 558.1h0M399.0 527.9h0M395.8 563.5h0M406.1 561.9h0M401.4 545.3h0M397.5 536.0h0M404.7 544.1h0M383.4 556.4h0M392.5 556.9h0M386.7 554.7h0M391.2 526.4h0M388.5 565.1h0M395.2 558.6h0M407.6 566.0h0M403.0 557.9h0M408.6 535.0h0M388.6 571.5h0M447.2 563.7h0M420.5 554.3h0M428.0 550.9h0M389.7 569.7h0M386.7 550.7h0M412.1 559.4h0M390.7 553.7h0M398.7 565.3h0M376.1 554.8h0M399.1 529.5h0M379.1 536.6h0M412.8 570.0h0M412.3 566.4h0M380.7 555.8h0M384.0 563.6h0M388.9 544.0h0M383.1 564.5h0M399.2 563.4h0M390.0 571.2h0M407.8 568.6h0M410.5 568.2h0M432.3 532.0h0M377.6 555.9h0M411.2 564.3h0M389.9 534.7h0M396.5 543.1h0M397.8 544.3h0M386.5 571.9h0M413.3 557.1h0M402.7 558.5h0M381.7 545.5h0M409.5 556.4h0M384.6 541.2h0M374.5 558.3h0M389.7 566.8h0M403.2 559.6h0M408.4 562.4h0M392.9 548.4h0M398.0 542.3h0M425.6 533.9h0M411.5 556.9h0M393.9 565.5h0M415.9 564.1h0M391.8 570.4h0M403.5 546.2h0M397.6 550.5h0M414.9 558.8h0M382.5 545.3h0M421.7 557.1h0M387.0 563.2h0M395.8 565.7h0M400.4 568.3h0M392.8 536.4h0M390.2 545.5h0M387.6 533.1h0M392.0 531.2h0M393.0 553.9h0M401.5 560.8h0M390.4 555.4h0M395.9 551.6h0M417.9 554.1h0M408.8 558.4h0M404.6 562.8h0M387.0 553.0h0M408.4 560.3h0M403.4 563.7h0M413.7 568.0h0M383.3 532.2h0M388.3 544.7h0M393.8 545.5h0M409.9 565.8h0M430.6 525.8h0M396.4 538.1h0M412.4 564.8h0M404.5 562.9h0M374.7 557.5h0M377.0 548.8h0M407.0 567.8h0M396.1 544.6h0M390.8 569.3h0M382.8 558.8h0M399.7 550.3h0M377.4 545.6h0M428.8 547.6h0M392.4 554.9h0M389.5 553.5h0M398.9 545.9h0M393.1 555.2h0M391.3 525.7h0M398.6 532.7h0M387.8 569.5h0M386.3 563.0h0M397.6 546.8h0M395.2 556.0h0M385.7 565.0h0M374.9 562.7h0M380.9 556.2h0M397.8 539.7h0M395.2 555.3h0M410.0 565.4h0M385.4 552.7h0M401.7 534.8h0M393.9 528.2h0M411.4 554.6h0M404.5 558.5h0M393.8 548.2h0M395.5 568.4h0M409.3 557.4h0M380.2 547.1h0M381.7 554.7h0M396.7 538.1h0M414.2 560.1h0M390.1 570.5h0M382.8 540.2h0M405.9 549.1h0M397.5 528.5h0M377.5 558.0h0M379.4 562.7h0M398.0 541.6h0M411.3 561.0h0M403.8 556.1h0M411.6 559.2h0M401.9 566.5h0M386.9 530.5h0M413.3 541.8h0M409.8 563.7h0M408.4 535.5h0M412.8 568.9h0M391.8 527.3h0M395.7 555.0h0M400.0 567.4h0M401.4 567.1h0M378.1 554.1h0M387.3 560.9h0M390.5 528.2h0M379.7 560.9h0M398.8 554.0h0M374.9 548.7h0M440.3 550.3h0M389.6 528.8h0M399.9 557.4h0M375.7 563.4h0M413.5 556.7h0M399.0 557.2h0M386.7 556.2h0M428.0 528.1h0M402.8 567.3h0M373.5 558.8h0M396.5 526.0h0M402.9 557.0h0M410.3 572.0h0M412.8 566.3h0M390.5 535.4h0M376.6 542.6h0M383.8 549.2h0M382.3 536.7h0M409.7 561.2h0M408.1 552.3h0M408.8 562.8h0M391.7 567.9h0M387.4 544.1h0M435.5 546.7h0M404.4 563.9h0M391.0 555.1h0M378.0 554.0h0M375.7 559.7h0M391.6 534.4h0M410.5 559.4h0M386.1 555.6h0M383.2 566.6h0M399.5 559.0h0M388.7 546.4h0M384.4 557.8h0M388.8 528.5h0M429.2 545.5h0M389.3 572.2h0M379.6 532.4h0M410.5 562.3h0M398.4 531.8h0M402.8 553.6h0M397.0 543.0h0M394.3 541.5h0M393.5 558.9h0M402.5 530.5h0M411.2 546.5h0M388.8 533.0h0M387.2 564.0h0M385.5 532.5h0M402.4 545.4h0M401.6 548.0h0M391.3 566.0h0M394.0 547.9h0M401.9 560.6h0M401.1 535.6h0M382.8 558.8h0M383.2 556.8h0M394.2 571.4h0M388.6 556.3h0M413.9 556.6h0M397.3 564.2h0M379.6 535.9h0M380.2 554.0h0M375.9 564.1h0M397.0 566.6h0M388.4 555.7h0M401.5 535.2h0M389.8 535.5h0M376.3 544.2h0M384.2 540.7h0M388.7 542.7h0M385.6 547.0h0M432.8 534.5h0M405.9 569.3h0M413.9 563.4h0M403.1 557.1h0M379.6 543.1h0M394.7 527.9h0M377.6 556.9h0M391.3 529.1h0M397.0 540.2h0M381.2 549.4h0M392.5 568.6h0M406.8 544.3h0M399.3 546.9h0M383.4 536.9h0M377.9 556.3h0M407.6 568.6h0M385.8 536.3h0M382.1 531.3h0M386.1 536.6h0M404.4 558.4h0M380.3 572.7h0M392.8 556.8h0M412.6 553.0h0M405.7 562.5h0M386.3 545.9h0M402.3 562.3h0M385.2 562.1h0M385.1 563.5h0M385.8 544.5h0M394.1 540.1h0M390.4 548.1h0M391.6 536.3h0M398.3 542.2h0M399.3 537.6h0M377.6 558.9h0M387.2 561.5h0M377.5 541.0h0M397.6 556.1h0M381.1 548.2h0M378.9 548.3h0M405.3 553.5h0M374.6 559.6h0M389.9 533.6h0M391.7 547.6h0M395.2 525.4h0M389.2 548.5h0M400.8 565.9h0M406.4 568.3h0M423.3 546.9h0M386.9 568.9h0M398.0 528.5h0M387.2 553.6h0M382.8 565.2h0M393.8 525.7h0M382.1 568.3h0M400.4 531.7h0M386.5 526.8h0M379.1 553.8h0M389.2 552.8h0M402.7 554.1h0M423.8 544.4h0M375.6 557.1h0M398.8 548.2h0M381.0 537.5h0M392.9 562.7h0M389.9 564.9h0M384.9 541.4h0M386.7 567.8h0M402.2 565.7h0M380.1 563.4h0M390.8 533.9h0M381.3 549.3h0M390.4 543.6h0M393.2 542.3h0M400.5 540.5h0M380.5 565.5h0M401.4 553.6h0M376.3 560.3h0M397.4 523.6h0M380.7 573.0h0M391.9 522.5h0M407.3 552.8h0M390.3 552.5h0M414.8 555.1h0M394.6 570.2h0M396.1 524.9h0M387.5 562.4h0M395.4 544.5h0M377.4 560.8h0M409.8 547.5h0M391.2 564.8h0M380.6 556.5h0M381.6 564.3h0M398.8 549.3h0M398.8 550.1h0M378.2 551.5h0M381.9 563.9h0M406.3 562.5h0M407.2 570.4h0M402.3 548.7h0M409.9 572.3h0M403.1 556.1h0M404.2 552.9h0M395.0 556.0h0M379.5 553.2h0M397.8 540.1h0M373.0 556.2h0M409.6 564.1h0M396.3 545.7h0M384.8 563.2h0M395.9 549.0h0M393.9 547.1h0M390.2 550.6h0M375.4 553.0h0M380.9 546.3h0M377.0 547.3h0M386.7 545.3h0M392.4 526.6h0M404.8 562.1h0M399.3 540.5h0M393.1 569.6h0M398.6 567.7h0M397.7 566.3h0M374.2 550.1h0M391.2 543.2h0M390.9 546.2h0M395.2 541.1h0M389.4 529.8h0M407.2 552.7h0M420.0 544.1h0M394.9 557.9h0M394.8 559.7h0M401.1 528.9h0M389.4 551.4h0M391.5 568.7h0M403.8 558.9h0M409.7 544.2h0M389.1 556.6h0M391.9 543.6h0M406.6 564.4h0M396.6 551.9h0M389.4 548.0h0M409.2 567.2h0M383.9 528.2h0M392.5 560.4h0M407.5 556.9h0M395.8 561.2h0M388.6 537.1h0M419.7 543.3h0M414.6 566.0h0M376.9 547.9h0M394.2 535.4h0M396.3 533.7h0M394.5 539.9h0M396.6 562.6h0M409.0 550.3h0M394.1 529.8h0M391.6 538.3h0M390.0 547.2h0M388.4 530.7h0M421.9 538.5h0M397.1 561.0h0M380.5 566.0h0M388.7 523.1h0M388.8 550.7h0M380.3 562.3h0M397.7 534.8h0M386.1 567.9h0M397.4 536.5h0M399.9 560.4h0M419.8 546.6h0M385.6 545.9h0M397.4 529.1h0M407.3 557.3h0M416.8 551.6h0M429.1 548.5h0M423.0 548.3h0M419.6 553.4h0M417.1 544.1h0M430.5 541.2h0M425.4 543.5h0M411.1 538.1h0M418.1 553.3h0M428.2 545.7h0M413.8 545.2h0M433.2 546.6h0M417.9 549.2h0M416.9 553.4h0M408.8 534.9h0" stroke="#e8b2ba" stroke-width="1" stroke-linecap="round" stroke-opacity="0.9"/>
<path d="M461.3 571.7h0M473.5 568.6h0M483.7 560.3h0M482.1 570.9h0M481.2 571.1h0M478.5 589.2h0M475.7 587.4h0M467.7 573.6h0M462.5 585.4h0M478.1 577.1h0M462.0 566.8h0M460.5 574.8h0M474.7 563.5h0M480.6 586.6h0M462.3 570.7h0M473.4 593.2h0M466.9 561.1h0M481.5 585.8h0M479.1 557.3h0M470.5 560.5h0M481.1 581.7h0M484.9 576.8h0M483.7 583.4h0M480.6 561.9h0M445.1 553.5h0M463.1 556.2h0M462.2 564.2h0M483.1 565.2h0M480.4 562.4h0M479.5 589.6h0M477.9 568.1h0M473.1 577.4h0M469.3 590.4h0M467.0 564.0h0M466.1 564.9h0M470.5 589.8h0M476.3 591.4h0M464.4 579.2h0M475.7 557.8h0M467.7 593.8h0M470.2 560.7h0M463.0 570.2h0M478.3 586.3h0M463.8 586.8h0M465.0 584.6h0M476.9 565.6h0M461.1 574.2h0M477.3 586.7h0M463.5 582.2h0M461.4 563.5h0M406.7 539.3h0M465.3 587.5h0M474.6 561.5h0M466.3 580.2h0M461.1 575.6h0M480.9 571.6h0M465.7 573.9h0M465.0 579.9h0M434.7 553.1h0M465.3 590.1h0M474.0 591.3h0M469.9 580.7h0M480.5 577.3h0M463.2 580.2h0M478.2 564.7h0M468.3 574.1h0M476.3 589.9h0M476.2 591.9h0M464.3 582.4h0M468.5 587.8h0M462.4 582.0h0M458.7 576.6h0M473.6 555.2h0M477.5 584.0h0M471.0 590.5h0M479.2 587.9h0M472.5 595.2h0M479.5 589.2h0M466.0 570.6h0M478.2 594.3h0M480.7 566.8h0M479.0 580.0h0M477.2 573.8h0M429.3 548.8h0M468.0 560.2h0M408.6 534.9h0M473.4 590.8h0M482.2 565.0h0M480.6 557.9h0M476.1 591.3h0M476.3 555.4h0M475.6 571.7h0M466.1 583.3h0M469.1 582.7h0M482.7 568.1h0M478.3 580.5h0M473.7 583.8h0M464.3 566.6h0M467.4 588.4h0M477.3 590.5h0M464.5 564.6h0M481.7 568.4h0M465.4 562.3h0M474.5 570.3h0M466.4 558.3h0M468.4 596.4h0M465.4 585.1h0M477.5 571.5h0M483.2 587.9h0M462.8 566.5h0M470.1 573.2h0M477.8 573.8h0M470.8 588.5h0M465.0 570.8h0M423.8 549.7h0M465.6 577.1h0M469.5 567.0h0M467.2 560.1h0M473.1 587.2h0M465.7 571.5h0M481.3 555.0h0M470.8 565.8h0M476.2 584.3h0M463.6 567.0h0M476.6 588.6h0M473.2 583.8h0M469.0 555.8h0M482.5 568.8h0M485.8 580.3h0M475.4 571.6h0M477.8 586.4h0M469.6 574.7h0M469.3 578.6h0M466.1 561.2h0M480.7 577.8h0M465.4 575.4h0M479.7 590.5h0M479.2 578.7h0M467.9 561.2h0M471.8 593.7h0M477.3 562.8h0M468.5 559.9h0M462.3 565.1h0M466.8 595.3h0M465.6 587.8h0M479.8 558.7h0M473.0 557.4h0M480.1 585.5h0M475.7 595.7h0M411.4 544.2h0M467.1 566.5h0M464.2 579.4h0M466.1 575.7h0M480.9 575.1h0M474.4 559.0h0M467.4 562.9h0M469.3 567.6h0M415.1 552.0h0M477.1 567.3h0M410.8 543.1h0M482.6 564.3h0M478.8 590.6h0M408.6 530.1h0M472.3 566.0h0M479.4 565.8h0M462.9 569.9h0M467.2 557.1h0M476.4 593.2h0M408.9 532.4h0M475.4 571.9h0M473.8 586.4h0M417.3 542.2h0M482.8 570.6h0M475.9 574.1h0M472.3 559.1h0M477.8 574.3h0M430.2 524.2h0M418.3 562.9h0M466.8 563.5h0M447.8 558.0h0M480.1 569.2h0M474.7 576.4h0M472.5 591.3h0M468.2 571.3h0M483.2 559.0h0M480.2 572.8h0M477.6 581.1h0M465.5 558.1h0M428.1 538.4h0M480.3 581.5h0M479.6 590.9h0M478.0 569.5h0M463.3 568.6h0M473.7 559.9h0M473.9 590.3h0M477.4 573.0h0M471.1 572.7h0M467.4 579.8h0M464.2 560.4h0M475.9 564.7h0M475.8 563.1h0M477.1 585.1h0M466.4 565.2h0M465.1 563.9h0M481.8 567.0h0M480.7 569.4h0M469.2 565.0h0M469.6 561.1h0M470.1 568.6h0M463.0 569.4h0M478.0 581.1h0M465.3 572.5h0M479.3 568.9h0M469.5 577.6h0M470.1 558.7h0M468.4 567.9h0M481.7 582.7h0M472.1 579.4h0M413.7 551.9h0M467.8 587.2h0M469.2 592.5h0M466.6 577.3h0M464.9 562.5h0M469.8 589.1h0M478.3 582.5h0M422.9 546.9h0M469.7 591.4h0M468.4 575.1h0M409.4 546.3h0M481.3 568.6h0M464.7 592.4h0M471.7 586.0h0M479.5 588.8h0M467.2 565.0h0M473.5 595.0h0M472.3 584.3h0M468.9 567.8h0M477.5 585.0h0M464.1 573.8h0M440.6 556.0h0M480.4 554.8h0M480.2 592.5h0M481.9 594.7h0M473.9 577.3h0M474.3 588.6h0M479.2 559.1h0M477.8 589.6h0M461.2 569.9h0M435.0 546.7h0M475.1 578.3h0M467.5 557.8h0M474.1 561.5h0M481.4 556.3h0M468.7 582.6h0M468.3 562.7h0M462.4 572.3h0M465.3 590.3h0M472.4 571.0h0M478.3 584.6h0M479.0 573.3h0M482.0 567.9h0M469.4 567.2h0M483.1 567.5h0M423.6 542.6h0M472.8 572.0h0M463.7 584.7h0M482.6 558.7h0M462.1 564.8h0M468.4 591.0h0M481.8 570.4h0M480.7 566.5h0M476.3 586.2h0M469.4 560.0h0M474.5 590.4h0M480.3 593.0h0M414.1 551.6h0M482.2 574.8h0M471.2 583.3h0M468.3 588.8h0M465.6 561.1h0M464.6 582.7h0M466.2 567.2h0M481.7 588.5h0M464.7 574.8h0M478.6 580.0h0M474.0 577.4h0M469.5 580.5h0M421.1 544.2h0M477.4 580.6h0M467.6 569.0h0M464.5 586.1h0M431.5 542.7h0M463.7 574.5h0M479.1 577.5h0M462.8 587.2h0M420.5 551.1h0M413.0 544.9h0M479.4 559.9h0M463.5 569.1h0M476.7 595.1h0M476.2 560.2h0M463.8 567.4h0M477.0 578.0h0M462.2 582.5h0M469.8 576.5h0M473.5 556.3h0M467.2 576.5h0M465.4 572.3h0M479.3 585.7h0M477.8 555.4h0M471.4 582.0h0M470.5 562.9h0M466.7 593.8h0M405.1 533.1h0M465.8 570.1h0M481.8 576.6h0M478.2 585.8h0M463.7 568.9h0M472.7 566.6h0M473.0 573.9h0M472.5 574.8h0M468.1 569.4h0M471.5 576.8h0M478.3 573.0h0M482.4 566.8h0M471.5 560.1h0M482.1 575.7h0M474.5 575.0h0M468.8 596.0h0M475.5 592.5h0M420.1 540.6h0M481.8 562.2h0M475.8 583.5h0M470.1 570.9h0M467.7 562.8h0M468.3 568.6h0M469.5 581.5h0M408.3 529.8h0M417.4 559.0h0M408.4 540.8h0M427.7 541.6h0M412.6 539.3h0M429.0 541.7h0M413.3 534.6h0M409.7 544.4h0M432.7 549.4h0M432.6 548.0h0M423.7 542.6h0M419.0 558.4h0" stroke="#f2b9a4" stroke-width="1" stroke-linecap="round" stroke-opacity="0.9"/>
<path d="M464.2 573.4h0M479.8 587.7h0M466.6 584.2h0M463.3 575.3h0M465.2 593.3h0M466.4 577.7h0M482.7 567.9h0M465.2 587.8h0M468.3 564.0h0M474.3 585.3h0M476.5 562.3h0M478.9 559.5h0M478.8 569.1h0M481.7 556.2h0M468.5 572.1h0M476.8 595.0h0M466.9 569.5h0M471.5 592.2h0" stroke="#e3765a" stroke-width="1" stroke-linecap="round" stroke-opacity="0.9"/>
<path d="M379.7 539.5h0M384.2 528.6h0M389.4 561.4h0M388.0 527.7h0M400.0 537.7h0M406.8 533.7h0M431.3 541.1h0M422.2 540.4h0M377.3 560.6h0M378.0 546.2h0M393.5 549.3h0M383.8 551.3h0M398.3 541.9h0M390.2 545.5h0M412.7 565.8h0M404.4 567.3h0M412.3 554.5h0M388.0 548.1h0M402.5 548.3h0M419.2 560.6h0M382.6 541.7h0M398.8 530.5h0M403.3 560.7h0M376.0 558.3h0M404.1 552.9h0M389.2 540.1h0M382.5 543.9h0M377.0 550.2h0M398.2 528.2h0M399.7 547.1h0M390.2 545.2h0M382.6 569.5h0M400.0 543.1h0M410.2 556.0h0M384.4 562.7h0M412.2 531.3h0M391.6 531.0h0M407.3 548.6h0M390.9 527.4h0M398.0 537.1h0M407.7 566.2h0M387.8 556.7h0M409.4 541.2h0M406.8 561.9h0M424.8 548.4h0M393.3 547.5h0M400.1 555.8h0M384.9 547.1h0M394.5 555.7h0M396.7 563.4h0M396.9 537.0h0M391.7 533.7h0M395.4 534.4h0M426.1 528.7h0M398.3 528.0h0M396.0 552.4h0M392.8 523.6h0M415.2 562.7h0M379.4 551.4h0M386.3 553.6h0M409.6 550.6h0M379.0 558.5h0M421.7 549.8h0M408.3 570.8h0M432.0 534.2h0M396.0 553.6h0M398.4 545.9h0M389.7 543.2h0M395.0 552.4h0M400.7 543.7h0M405.5 562.4h0M385.4 525.0h0M398.7 547.2h0M430.7 553.6h0M401.8 559.9h0M423.4 534.5h0M381.5 552.5h0M384.1 547.7h0M411.5 558.9h0M383.4 541.7h0M383.0 546.5h0M411.7 553.2h0M376.3 560.1h0M399.8 530.7h0M421.3 556.5h0M460.7 571.4h0M405.5 553.6h0M389.3 537.8h0M380.3 532.8h0M395.7 552.9h0M374.5 556.8h0M386.4 547.4h0M428.2 540.6h0M385.5 541.4h0M385.2 557.7h0M379.6 563.8h0M388.2 554.9h0M372.2 555.3h0M388.9 544.5h0M410.5 545.1h0M388.4 553.2h0M414.6 566.6h0M395.9 566.7h0M384.3 532.3h0M412.9 562.8h0M380.4 553.1h0M377.5 559.8h0M381.2 532.3h0M393.9 541.8h0M387.6 559.8h0M380.0 539.3h0M408.2 557.9h0M391.9 569.7h0M393.7 547.0h0M415.8 563.6h0M385.8 551.8h0M383.1 569.6h0M400.2 543.2h0M432.2 540.9h0M403.0 539.0h0M380.3 562.9h0M382.0 562.4h0M382.3 550.9h0M385.1 560.0h0M422.9 555.4h0M406.0 541.0h0M378.9 558.0h0M400.9 532.5h0M379.5 546.8h0M372.5 551.1h0M409.9 565.2h0M415.0 565.9h0M396.6 531.5h0M399.0 560.3h0M386.4 566.1h0M397.0 525.7h0M410.8 529.0h0M404.1 568.2h0M399.2 547.3h0M397.6 570.5h0M380.4 560.0h0M384.2 535.9h0M384.3 531.8h0M398.5 548.8h0M420.5 540.8h0M415.4 540.6h0M387.0 539.4h0M415.4 544.9h0M399.3 544.0h0M398.6 560.1h0M391.5 572.7h0M402.0 567.3h0M397.7 561.4h0M377.7 544.0h0M394.9 540.4h0M394.6 570.2h0M396.4 558.9h0M409.9 545.9h0M397.0 546.8h0M414.1 561.3h0M377.8 547.7h0M387.6 566.8h0M377.7 550.2h0M450.4 560.3h0M379.5 556.7h0M387.7 541.6h0M413.4 560.3h0M399.1 564.9h0M397.9 555.7h0M386.5 530.0h0M447.1 557.9h0M390.8 571.1h0M384.8 571.9h0M411.1 535.9h0M398.4 542.0h0M377.0 542.6h0M383.3 552.5h0M433.7 545.0h0M379.0 563.7h0M407.2 553.3h0M404.3 563.2h0M396.1 541.5h0M388.5 545.3h0M396.8 559.2h0M405.2 570.2h0M386.1 541.4h0M375.4 556.5h0M435.0 545.3h0M379.8 546.7h0M392.7 543.1h0M397.4 537.6h0M407.6 556.1h0M382.6 564.7h0M398.6 565.8h0M374.9 548.0h0M393.5 531.3h0M395.6 555.7h0M398.5 539.4h0M382.2 568.2h0M458.4 567.3h0M375.3 552.2h0M395.3 563.6h0M382.1 565.6h0M391.8 547.8h0M438.7 545.1h0M440.0 553.5h0M390.5 548.8h0M399.9 544.1h0M393.2 552.6h0M374.2 563.0h0M390.4 541.4h0M389.1 526.2h0M398.6 564.9h0M401.6 564.3h0M391.5 560.3h0M395.8 526.9h0M397.1 546.3h0M388.6 568.6h0M413.1 563.2h0M389.1 541.9h0M403.5 553.6h0M419.3 560.7h0M378.3 551.1h0M385.0 570.5h0M415.3 550.7h0M395.9 553.2h0M427.9 540.0h0M436.0 547.0h0M408.0 570.8h0M381.3 532.4h0M396.4 559.4h0M387.0 553.7h0M394.0 546.0h0M375.0 560.2h0M386.5 561.0h0M409.0 538.4h0M431.4 543.8h0M417.5 534.1h0M376.1 547.2h0M415.3 564.7h0M393.5 546.9h0M400.3 539.8h0M393.4 558.6h0M404.7 551.9h0M383.3 568.4h0M403.2 552.6h0M428.8 544.6h0M408.5 565.3h0M381.5 533.0h0M380.3 556.1h0M381.4 561.8h0M418.4 554.0h0M381.2 535.8h0M390.5 545.4h0M387.3 561.7h0M408.3 549.1h0M454.9 566.8h0M414.7 566.6h0M376.5 546.8h0M387.4 566.2h0M389.7 528.0h0M377.1 564.8h0M422.1 556.2h0M398.2 551.9h0M379.5 568.0h0M387.9 548.3h0M375.5 551.7h0M410.3 548.8h0M380.1 556.4h0M389.1 526.1h0M394.9 542.1h0M376.6 544.3h0M413.1 553.9h0M377.2 547.6h0M394.9 542.7h0M411.9 545.2h0M379.8 547.4h0M378.1 564.3h0M414.8 557.3h0M379.4 548.1h0M388.5 566.1h0M409.1 565.0h0M411.5 543.3h0M406.6 562.4h0M400.8 566.3h0M407.7 566.6h0M383.0 551.0h0M382.1 562.2h0M392.5 556.0h0M389.8 558.4h0M397.4 533.3h0M399.1 543.8h0M383.9 530.1h0M384.8 553.6h0M421.6 537.6h0M418.0 551.5h0M394.5 544.6h0M379.9 547.4h0M388.0 547.9h0M401.7 538.8h0M381.9 547.8h0M399.0 539.6h0M424.5 545.3h0M421.3 557.7h0M381.8 534.9h0M384.5 566.4h0M399.8 545.6h0M407.2 556.3h0M390.3 556.3h0M403.1 544.0h0M384.6 541.2h0M396.3 545.3h0M380.7 531.2h0M391.9 563.0h0M402.4 543.4h0M392.9 529.6h0M390.0 564.5h0M413.4 547.0h0M420.4 541.7h0M380.9 547.9h0M404.1 567.7h0M391.3 536.3h0M458.6 575.8h0M426.5 542.5h0M400.4 532.1h0M387.6 570.6h0M380.9 542.8h0M455.2 567.2h0M399.9 546.6h0M373.8 551.9h0M453.2 565.4h0M401.3 540.8h0M420.7 541.1h0M409.5 565.5h0M384.5 525.2h0M397.5 532.4h0M391.0 534.5h0M415.3 551.1h0M412.8 557.6h0M383.2 528.8h0M393.6 551.0h0M402.5 556.1h0M379.1 568.7h0M384.0 541.1h0M397.1 569.2h0M384.6 547.8h0M382.3 550.0h0M403.9 549.7h0M402.8 548.9h0M386.1 555.9h0M383.6 534.9h0M383.6 558.9h0M413.2 532.6h0M394.2 568.8h0M391.7 560.1h0M403.6 554.0h0M392.7 531.3h0M405.0 559.9h0M417.0 543.8h0M390.4 567.1h0M408.6 565.9h0M385.0 565.5h0M394.7 538.1h0M392.0 567.4h0M389.5 553.6h0M392.5 544.6h0M406.1 537.4h0M408.5 567.6h0M427.1 525.9h0M406.1 538.3h0M392.1 553.8h0M401.1 538.5h0M387.4 541.7h0M396.9 536.4h0M394.3 562.3h0M383.3 572.8h0M399.9 554.9h0M387.4 541.4h0M440.9 554.5h0M375.2 543.8h0M386.3 553.0h0M390.4 525.9h0M404.7 568.6h0M422.3 558.9h0M376.2 565.8h0M379.0 562.0h0M405.9 567.1h0M406.6 568.6h0M463.7 571.1h0M397.0 562.9h0M385.5 541.2h0M406.2 554.9h0M401.8 537.9h0M426.0 531.0h0M397.3 545.3h0M429.9 551.1h0M412.1 556.3h0M397.5 541.7h0M426.2 551.2h0M424.1 537.5h0M407.4 567.9h0M392.3 547.9h0M385.9 539.4h0M386.5 533.5h0M392.5 536.8h0M403.2 565.2h0M400.1 533.8h0M404.8 569.5h0M398.0 557.2h0M393.4 524.9h0M398.8 539.6h0M407.7 554.2h0M411.8 562.1h0M424.3 537.1h0M395.5 525.3h0M402.5 542.2h0M399.2 530.3h0M401.3 560.3h0M383.8 541.6h0M399.5 546.1h0M390.4 556.7h0M410.8 553.7h0M399.8 539.1h0M406.1 534.1h0M395.6 556.1h0M413.5 560.5h0M382.6 542.2h0M399.1 533.8h0M390.9 553.2h0M384.0 543.6h0M391.1 538.2h0M409.1 561.9h0M388.4 553.3h0M393.2 565.1h0M385.0 537.2h0M377.3 550.9h0M380.3 536.0h0M392.7 563.0h0M384.9 538.6h0M384.4 527.7h0M385.1 551.3h0M388.0 549.5h0M400.5 554.8h0M404.3 548.9h0M405.4 560.9h0M404.8 558.6h0M409.2 570.0h0M400.8 538.3h0M384.0 571.0h0M394.1 555.8h0M390.0 568.0h0M385.6 530.1h0M412.9 560.0h0M407.6 534.2h0M378.0 548.0h0M383.5 551.0h0M381.6 535.4h0M418.8 539.3h0M390.1 539.9h0M378.6 540.3h0M382.1 568.9h0M399.9 547.5h0M409.5 549.6h0M381.1 565.0h0M379.3 561.7h0M411.9 557.8h0M387.6 547.1h0M385.3 532.4h0M398.2 530.7h0M400.2 565.3h0M388.7 555.7h0M400.8 538.5h0M389.8 533.5h0M392.0 553.5h0M384.3 533.0h0M410.1 557.7h0M393.5 531.4h0M385.5 524.3h0M407.5 562.9h0M377.7 552.6h0M392.7 553.7h0M391.4 525.9h0M395.0 536.4h0M396.5 543.4h0M402.4 565.8h0M413.7 545.0h0M394.2 567.0h0M385.8 543.0h0M399.4 566.2h0M380.5 555.1h0M397.7 555.2h0M386.8 564.2h0M391.6 566.2h0M396.5 554.2h0M420.9 543.2h0M383.7 533.5h0M409.5 534.5h0M403.2 549.5h0M429.1 548.2h0M413.8 531.9h0M378.9 538.8h0M398.2 536.3h0M384.7 546.0h0M422.8 547.0h0M394.6 561.8h0M382.1 524.9h0M410.9 555.1h0M391.5 555.8h0M393.1 534.1h0M407.3 550.6h0M442.6 554.5h0M398.7 568.0h0M388.0 524.0h0M392.0 557.9h0M395.9 558.6h0M425.7 537.0h0M454.1 564.9h0M396.3 554.1h0M386.5 552.3h0M378.6 550.7h0M389.2 557.2h0M381.1 544.2h0M390.3 558.7h0M399.0 557.1h0M380.8 559.2h0M399.3 542.2h0M384.2 554.4h0M416.0 560.0h0M389.4 566.6h0M401.8 534.7h0M408.0 568.5h0M379.9 562.8h0M401.6 554.3h0M390.8 543.5h0M410.1 563.2h0M387.4 522.8h0M401.1 567.1h0M387.4 565.0h0M385.6 543.9h0M409.5 533.2h0M424.5 534.9h0M411.4 557.2h0M397.8 534.9h0M385.3 543.6h0M377.9 566.4h0M404.7 551.0h0M379.2 564.6h0M388.3 536.9h0M406.9 552.0h0M378.8 546.5h0M391.5 537.4h0M383.0 535.9h0M388.8 550.2h0M373.5 554.2h0M395.0 566.1h0M431.4 541.2h0M394.4 533.0h0M427.3 546.0h0M388.2 529.0h0M399.0 537.0h0M407.9 532.9h0M413.9 556.6h0M383.0 560.1h0M394.3 552.0h0M384.6 561.0h0M402.1 556.9h0M382.1 569.9h0M392.8 558.7h0M418.9 551.6h0M383.2 553.4h0M392.0 561.4h0M378.9 557.9h0M385.4 544.5h0M413.2 564.6h0M383.7 530.5h0M405.8 559.4h0M408.8 558.2h0M377.9 542.0h0M433.3 552.1h0M384.2 533.8h0M386.4 538.5h0M372.8 544.9h0M374.1 545.3h0M381.1 562.5h0M418.9 560.4h0M383.6 557.1h0M416.5 535.4h0M393.9 551.4h0M393.9 534.8h0M415.5 536.6h0M414.0 547.4h0M378.6 551.1h0M387.5 570.6h0M439.0 552.2h0M391.8 525.3h0M407.7 565.7h0M380.5 529.7h0M385.2 563.6h0M388.4 542.3h0M412.9 531.2h0M390.7 529.5h0M414.8 537.0h0M421.2 542.1h0M400.4 563.8h0M403.2 550.2h0M406.6 566.1h0M397.4 552.4h0M391.5 539.4h0M387.0 543.1h0M383.0 538.2h0M419.3 546.1h0M413.0 551.0h0M412.8 561.1h0M397.4 568.2h0M381.3 550.8h0M384.7 560.2h0M384.3 555.6h0M388.1 566.0h0M375.5 557.9h0M396.6 544.1h0M387.7 527.5h0M377.5 540.5h0M409.2 561.2h0M419.0 552.7h0M407.7 535.1h0M398.7 564.6h0M403.6 530.2h0M383.2 529.2h0M375.2 555.3h0M403.7 544.4h0M437.0 554.1h0M388.1 564.9h0M388.1 558.0h0M386.6 539.5h0M397.5 534.0h0M396.5 540.3h0M423.3 549.6h0M410.7 541.8h0M390.6 566.0h0M423.1 542.1h0M378.8 543.4h0M407.9 565.2h0M376.7 565.6h0M381.6 544.4h0M398.0 557.3h0M394.4 532.7h0M403.3 550.7h0M393.9 566.3h0M372.8 553.1h0M386.5 528.9h0M401.4 549.1h0M388.5 570.1h0M385.5 567.3h0M372.7 555.4h0M422.9 550.0h0M426.4 542.6h0M404.8 551.0h0M410.3 552.0h0M389.3 539.4h0M395.7 534.3h0M403.9 553.1h0M400.9 534.6h0M387.7 558.3h0M396.1 531.4h0M389.7 528.8h0M415.1 534.2h0M415.0 532.4h0M380.6 547.3h0M398.3 531.1h0M391.6 561.9h0M387.8 544.1h0M419.2 542.4h0M406.3 550.5h0M391.1 528.1h0M422.9 545.2h0M395.9 569.8h0M404.3 565.0h0M375.3 556.0h0M376.0 546.0h0M393.8 560.7h0M413.0 554.7h0M395.2 525.6h0M408.8 555.3h0M407.0 554.8h0M396.6 527.7h0M422.5 552.9h0M385.1 539.3h0M386.4 525.9h0M388.5 555.2h0M432.5 549.4h0M397.9 552.0h0M407.7 558.8h0M415.6 561.6h0M392.8 553.5h0M441.3 557.6h0M392.0 570.9h0M379.5 543.3h0M390.4 540.4h0M423.6 546.6h0M395.7 549.4h0M434.0 552.7h0M412.9 558.8h0M401.0 566.3h0M385.1 537.1h0M390.3 567.0h0M390.3 566.1h0M406.3 559.0h0M405.1 538.7h0M415.1 545.4h0M405.4 551.4h0M382.6 547.2h0M387.9 542.9h0M407.0 543.2h0M406.7 557.1h0M398.6 553.5h0M408.0 539.8h0M405.7 556.8h0M386.6 554.0h0M400.2 561.6h0M426.7 551.7h0M445.8 558.3h0M403.3 540.4h0M408.5 570.6h0M403.4 541.2h0M392.6 525.2h0M398.4 547.4h0M412.1 542.4h0M387.2 525.8h0M405.9 554.9h0M420.7 561.1h0M401.9 562.4h0M382.2 568.2h0M434.1 545.3h0M388.6 545.9h0M377.9 544.1h0M384.2 554.5h0M412.0 558.5h0M428.6 541.3h0M395.2 526.7h0M385.2 553.4h0M387.3 544.2h0M392.6 556.6h0M387.2 554.7h0M390.5 547.3h0M400.2 541.4h0M384.1 565.0h0M396.2 539.6h0M375.1 548.1h0M400.9 558.4h0M383.5 548.2h0M380.5 550.7h0M396.1 565.3h0M411.1 553.0h0M382.6 556.2h0M415.9 535.7h0M376.1 564.5h0M395.6 529.3h0M408.5 554.1h0M383.0 547.2h0M393.6 534.2h0M425.2 553.2h0M385.8 525.8h0M399.3 557.9h0M387.7 565.7h0M408.0 545.6h0M410.9 568.0h0M392.7 544.8h0M376.0 545.4h0M381.7 568.2h0M437.2 553.8h0M376.7 554.0h0M381.5 540.2h0M379.1 543.1h0M381.9 548.2h0M407.9 541.4h0M398.1 555.9h0M392.3 562.3h0M389.9 568.4h0M384.8 571.2h0M414.2 565.8h0M374.9 561.1h0M384.5 539.9h0M398.1 556.7h0M426.4 542.0h0M381.1 530.8h0M401.4 542.0h0M390.1 557.1h0M409.2 531.6h0M402.1 543.4h0M405.8 561.5h0M402.6 553.7h0M398.2 549.3h0M390.9 554.1h0M410.5 533.3h0M402.2 556.5h0M384.6 545.4h0M394.3 545.3h0M401.6 548.2h0M410.1 554.7h0M380.5 564.5h0M398.3 553.0h0M409.0 534.9h0M401.2 554.8h0M411.2 559.0h0M421.0 535.1h0M403.6 549.6h0M395.4 539.5h0M381.8 541.6h0M425.9 546.0h0M373.3 550.1h0M392.1 566.7h0M398.5 551.5h0M410.5 553.2h0M384.3 555.9h0M388.2 548.5h0M408.9 557.6h0M394.9 548.2h0M400.1 553.5h0M399.7 561.7h0M408.3 536.6h0M398.5 551.6h0M380.6 574.0h0M397.1 562.9h0M394.4 531.5h0M383.0 546.3h0M391.5 545.2h0M389.1 563.3h0M414.2 562.6h0M416.9 556.3h0M378.9 553.5h0M376.8 554.3h0M383.6 543.4h0M392.8 548.5h0M395.7 539.4h0M413.2 560.1h0M413.1 564.2h0M420.4 557.3h0M398.5 566.3h0M402.8 540.2h0M381.3 565.6h0M379.6 541.8h0M388.8 565.1h0M398.2 534.0h0M404.7 549.7h0M405.5 533.0h0M374.8 551.3h0M452.6 563.5h0M396.4 535.9h0M402.5 553.5h0M394.6 546.3h0M426.5 548.1h0M387.2 563.7h0M380.8 569.8h0M407.1 560.3h0M384.8 531.6h0M388.5 545.8h0M423.1 552.5h0M403.7 558.9h0M382.0 522.2h0M419.8 535.7h0M445.6 558.6h0M397.3 564.1h0M391.3 554.1h0M385.5 547.8h0M374.2 553.0h0M389.6 551.9h0M411.4 544.7h0M392.6 542.7h0M393.0 544.1h0M399.5 562.0h0M387.6 543.1h0M419.3 557.7h0M403.5 548.9h0M395.7 542.4h0M394.2 558.1h0M392.1 551.0h0M427.5 536.3h0M394.6 560.4h0M392.9 545.5h0M392.5 550.9h0M401.6 563.8h0M413.9 561.2h0M409.2 569.0h0M393.7 554.4h0M387.7 543.9h0M404.7 548.1h0M408.7 565.5h0M396.5 555.4h0M399.5 561.4h0M404.5 562.1h0M397.4 527.9h0M424.0 541.1h0M397.3 537.4h0M403.6 557.5h0M401.0 553.5h0M411.6 537.5h0M400.7 553.0h0M398.8 527.9h0M405.6 530.1h0M401.7 537.4h0M431.9 546.4h0M399.0 555.7h0M393.9 571.9h0M397.5 530.5h0M380.5 547.0h0M391.2 570.8h0M374.0 555.8h0M385.9 543.1h0M411.2 563.2h0M385.1 546.2h0M406.3 563.9h0M385.9 571.6h0M404.2 548.6h0M388.8 547.3h0M393.9 533.9h0M405.7 553.9h0M392.1 563.8h0M389.1 540.8h0M385.8 554.6h0M397.8 540.9h0M391.8 564.8h0M416.5 539.5h0M388.1 523.4h0M396.1 561.3h0M377.5 561.0h0M391.6 555.8h0M434.6 550.1h0M421.4 536.7h0M407.7 568.7h0M428.3 539.4h0M390.2 536.7h0M388.5 568.3h0M385.3 540.4h0M385.7 531.0h0M395.5 562.9h0M410.0 562.7h0M398.5 533.7h0M385.3 540.6h0M384.1 535.6h0M392.4 566.6h0M379.6 562.4h0M412.9 543.1h0M375.1 547.0h0M448.1 563.2h0M390.7 538.0h0M408.1 534.4h0M403.4 537.3h0M406.0 551.9h0M396.6 563.4h0M388.7 531.4h0M379.7 547.6h0M390.4 557.5h0M392.6 532.5h0M384.4 544.6h0M378.1 559.1h0M383.2 542.0h0M379.4 558.3h0M380.1 558.1h0M378.4 548.5h0M379.7 545.7h0M390.7 547.5h0M374.6 561.2h0M400.3 555.0h0M398.1 561.2h0M381.8 552.1h0M380.9 560.3h0M401.3 559.1h0M387.4 532.3h0M386.4 528.6h0M395.1 559.6h0M406.4 553.7h0M406.5 532.5h0M378.0 545.9h0M408.7 567.1h0M394.1 553.9h0M405.1 567.0h0M387.3 571.6h0M389.8 557.1h0M401.4 550.5h0M400.0 540.9h0M423.7 557.1h0M390.2 527.9h0M397.6 562.5h0M393.5 556.2h0M413.2 556.9h0M386.3 548.1h0M389.8 530.6h0M411.2 564.5h0M427.3 539.0h0M399.0 547.2h0M390.8 522.8h0M381.0 540.1h0M399.3 538.9h0M378.7 543.1h0M406.0 556.1h0M383.5 548.9h0M405.0 529.6h0M434.4 544.3h0M416.6 533.7h0M398.7 561.7h0M376.7 545.1h0M380.4 539.7h0M389.8 558.5h0M389.1 530.9h0M410.2 530.0h0M389.1 563.8h0M395.9 537.4h0M396.7 527.0h0M411.9 542.2h0M416.7 541.6h0M414.2 542.3h0M410.0 536.1h0M416.8 555.1h0M413.8 534.5h0M414.0 544.6h0M416.5 555.6h0M424.0 541.8h0M418.0 557.6h0M428.6 539.2h0M417.7 546.9h0M429.3 540.0h0M416.2 537.1h0M427.3 540.3h0M422.2 545.6h0M422.6 556.4h0M425.0 539.4h0M426.1 538.3h0M405.4 542.1h0M415.9 541.4h0M408.9 544.6h0M427.6 550.8h0M423.3 554.9h0M419.1 533.3h0M428.9 550.5h0M414.2 544.2h0M407.7 547.6h0M424.9 536.9h0M435.2 547.4h0M412.2 545.1h0M416.5 549.5h0M426.9 542.9h0M412.7 532.0h0M431.9 546.6h0M415.3 555.9h0M418.2 548.0h0M414.2 541.7h0M421.2 552.9h0M429.6 545.8h0M404.4 534.1h0M420.2 559.7h0M435.5 545.8h0M435.3 546.7h0M405.4 535.0h0M416.0 536.6h0M427.6 552.6h0M420.0 558.9h0M418.1 547.5h0M406.3 547.7h0M422.9 540.6h0M424.9 552.1h0M428.6 543.3h0M417.5 548.9h0M434.5 542.8h0M418.1 541.5h0M423.9 536.6h0M415.5 551.3h0M416.1 543.8h0M422.8 549.1h0M408.3 535.7h0M421.8 545.5h0M407.3 528.2h0M434.5 546.1h0M418.4 539.4h0M428.1 544.2h0M433.2 550.5h0M417.7 550.7h0M411.0 546.6h0" stroke="#a24b60" stroke-width="1" stroke-linecap="round" stroke-opacity="0.9"/>
<path d="M372.6 557.1h0M382.4 531.4h0M409.2 572.5h0M418.1 557.9h0M400.9 551.8h0M390.2 564.5h0M394.6 571.2h0M413.4 565.0h0M425.3 538.9h0M408.2 555.0h0M395.8 550.1h0M396.5 556.7h0M399.6 532.0h0M383.0 557.7h0M397.0 532.7h0M375.0 557.8h0M422.8 539.0h0M397.6 543.2h0M391.5 557.5h0M383.1 570.0h0M412.9 562.4h0M386.2 532.2h0M387.2 558.9h0M399.6 560.5h0M406.6 528.0h0M417.6 547.2h0M375.6 555.3h0M389.7 525.2h0M392.1 542.6h0M402.5 559.2h0M412.3 548.7h0M386.7 530.2h0M388.1 534.1h0M407.8 527.6h0M412.4 566.0h0M398.6 534.8h0M402.1 542.8h0M436.8 551.0h0M384.7 530.5h0M409.3 566.9h0M383.4 571.0h0M397.3 550.2h0M392.0 551.1h0M377.8 549.7h0M380.1 546.8h0M391.4 561.8h0M412.6 532.7h0M403.6 567.5h0M399.4 541.1h0M383.2 544.7h0M403.1 535.8h0M402.9 542.3h0M382.5 564.6h0M403.9 548.8h0M395.2 545.8h0M390.2 551.6h0M412.8 558.5h0M389.0 526.0h0M392.1 571.6h0M420.5 535.0h0M409.1 528.1h0M423.7 542.0h0M388.3 549.9h0M391.3 565.2h0M405.2 569.8h0M410.6 570.7h0M411.1 572.7h0M396.4 527.3h0M404.3 529.2h0M381.7 544.7h0M388.0 560.4h0M393.0 537.7h0M408.0 552.8h0M409.6 564.5h0M373.6 549.3h0M396.0 526.6h0M392.9 528.4h0M412.0 564.6h0M395.8 527.2h0M419.8 558.7h0M416.2 564.5h0M411.9 559.4h0M410.8 531.5h0M398.5 541.0h0M398.0 541.6h0M379.9 571.3h0M379.4 553.2h0M382.1 558.5h0M390.1 559.0h0M400.2 533.6h0M384.7 538.7h0M391.1 561.4h0M384.0 568.5h0M415.3 546.2h0M396.1 528.1h0M390.1 541.1h0M444.8 563.2h0M380.2 557.1h0M409.6 549.4h0M392.3 559.8h0M387.5 542.0h0M410.9 551.9h0M390.9 555.2h0M412.0 560.7h0M386.7 559.7h0M379.6 534.8h0M389.2 539.8h0M380.4 545.1h0M384.8 547.4h0M400.3 557.5h0M416.5 565.8h0M416.1 537.4h0M389.9 533.7h0M410.3 530.6h0M402.0 546.1h0M389.3 552.3h0M412.6 570.2h0M383.4 532.0h0M393.0 539.8h0M385.2 525.0h0M422.9 556.4h0M389.5 563.7h0M375.7 548.2h0M400.0 536.0h0M395.9 542.2h0M394.4 555.9h0M383.0 553.6h0M388.4 558.6h0M403.1 563.3h0M378.4 546.7h0M403.8 554.3h0M412.7 559.2h0M383.6 559.6h0M415.2 532.0h0M381.3 547.6h0M418.8 539.8h0M383.0 559.5h0M391.4 566.9h0M414.4 564.1h0M404.8 554.3h0M411.3 553.2h0M375.1 559.3h0M388.5 559.4h0M390.8 542.3h0M382.3 544.2h0M378.8 547.8h0M382.9 565.4h0M405.1 562.0h0M394.7 546.3h0M410.3 571.1h0M391.7 570.5h0M386.2 529.4h0M379.5 541.5h0M388.8 556.2h0M385.2 542.6h0M388.0 572.1h0M380.0 539.4h0M387.6 539.5h0M391.2 566.5h0M392.3 556.8h0M378.6 554.7h0M396.1 529.9h0M377.2 548.3h0M400.5 562.1h0M389.9 562.1h0M378.3 548.0h0M380.0 541.8h0M400.6 567.6h0M387.2 542.2h0M381.4 557.6h0M388.8 537.7h0M387.8 554.5h0M402.6 569.8h0M388.1 530.9h0M393.5 545.9h0M395.0 537.5h0M385.8 534.4h0M383.9 526.9h0M410.5 571.1h0M413.6 554.6h0M380.4 542.4h0M399.2 537.8h0M455.5 569.3h0M375.2 555.5h0M401.0 536.8h0M382.3 541.2h0M391.2 535.1h0M403.3 555.3h0M379.1 538.8h0M382.4 544.5h0M383.1 535.3h0M425.5 554.3h0M386.1 537.1h0M401.4 547.0h0M379.2 557.7h0M402.1 548.4h0M386.0 524.1h0M398.4 552.0h0M398.8 538.3h0M427.6 536.9h0M434.7 552.6h0M394.0 545.7h0M400.6 543.3h0M411.9 565.9h0M394.5 546.0h0M392.6 551.5h0M400.9 543.6h0M403.1 548.2h0M414.9 565.0h0M374.4 552.1h0M392.1 532.3h0M384.5 526.2h0M453.4 567.7h0M398.0 558.2h0M405.5 535.4h0M385.2 529.7h0M383.8 571.3h0M385.9 563.9h0M377.1 557.0h0M427.2 542.1h0M388.2 545.8h0M414.5 566.3h0M383.6 533.3h0M429.1 537.2h0M393.1 527.6h0M416.5 561.1h0M382.4 567.9h0M389.5 531.6h0M398.0 550.6h0M401.2 536.9h0M387.4 529.1h0M376.5 555.1h0M386.5 542.9h0M380.2 552.7h0M437.3 548.1h0M396.4 535.8h0M415.5 558.1h0M424.7 552.3h0M404.9 546.8h0M404.8 546.4h0M400.1 548.3h0M423.3 545.7h0M402.8 541.8h0M392.1 567.0h0M393.8 551.7h0M387.2 532.3h0M400.1 565.0h0M396.1 562.7h0M396.4 560.6h0M413.7 546.6h0M433.9 542.8h0M410.8 536.6h0M400.8 562.8h0M379.7 550.3h0M399.1 541.7h0M409.1 569.3h0M409.0 558.4h0M382.4 570.2h0M397.0 549.6h0M373.5 549.9h0M392.6 550.0h0M400.8 540.9h0M394.3 525.0h0M393.1 530.5h0M382.4 563.8h0M383.8 546.6h0M398.9 528.0h0M407.0 551.5h0M397.8 566.2h0M379.3 538.5h0M376.9 555.7h0M389.2 535.2h0M388.0 552.1h0M406.0 531.2h0M426.0 553.9h0M415.2 558.2h0M415.1 563.5h0M389.4 551.0h0M411.3 566.9h0M393.3 539.8h0M387.2 549.1h0M387.3 558.8h0M390.6 560.2h0M403.5 562.1h0M434.2 549.5h0M394.6 554.0h0M390.2 569.2h0M459.1 576.9h0M419.2 532.7h0M379.7 546.4h0M403.1 566.6h0M396.2 537.7h0M387.3 565.3h0M376.3 563.8h0M412.3 547.9h0M387.6 523.5h0M412.1 569.8h0M398.5 564.2h0M385.3 534.0h0M379.0 567.5h0M397.6 545.7h0M399.9 541.8h0M398.0 566.3h0M379.9 554.4h0M428.3 545.1h0M379.2 546.7h0M392.4 525.7h0M379.6 546.4h0M389.2 552.7h0M389.1 528.0h0M387.5 522.0h0M394.3 543.8h0M385.3 568.4h0M376.9 554.1h0M403.4 562.4h0M386.5 538.7h0M384.2 529.2h0M394.1 540.4h0M420.0 543.3h0M380.1 546.1h0M378.3 546.2h0M388.1 552.6h0M411.2 565.7h0M392.8 541.0h0M400.1 532.2h0M381.5 559.3h0M382.7 569.1h0M403.3 543.8h0M394.5 524.7h0M384.4 531.2h0M379.6 566.7h0M415.2 560.3h0M395.9 525.5h0M382.3 537.1h0M409.4 536.7h0M404.6 557.8h0M391.5 540.8h0M381.2 549.5h0M377.0 555.0h0M375.2 550.9h0M381.4 536.5h0M411.6 559.6h0M390.9 528.9h0M388.9 546.0h0M381.8 558.1h0M398.8 531.7h0M383.0 564.4h0M419.2 537.0h0M391.3 563.0h0M379.7 556.2h0M389.1 560.7h0M382.6 533.3h0M425.0 533.6h0M449.5 564.5h0M412.9 557.7h0M379.6 550.9h0M396.1 566.5h0M408.7 560.1h0M395.6 537.3h0M425.3 551.1h0M391.8 558.4h0M387.7 536.3h0M427.5 552.8h0M411.3 535.2h0M405.3 536.3h0M381.2 538.7h0M430.5 549.4h0M377.3 566.6h0M394.5 527.3h0M385.2 550.4h0M417.6 553.3h0M395.8 525.7h0M404.1 549.8h0M380.6 545.0h0M394.2 549.6h0M395.7 538.3h0M378.1 550.0h0M400.6 552.3h0M391.8 543.0h0M394.2 556.1h0M377.5 562.8h0M417.4 544.2h0M415.8 560.5h0M400.6 550.2h0M391.8 563.2h0M402.9 541.4h0M387.1 563.3h0M394.9 543.2h0M406.6 555.2h0M393.0 556.4h0M399.8 555.4h0M408.7 564.9h0M408.3 566.2h0M391.6 557.2h0M386.9 540.7h0M400.2 559.6h0M381.4 553.6h0M385.8 536.9h0M392.8 566.2h0M387.9 522.4h0M383.6 534.1h0M406.8 531.7h0M425.0 536.8h0M388.6 553.8h0M400.2 562.3h0M411.6 556.7h0M391.1 559.8h0M388.7 540.1h0M381.8 541.7h0M406.5 558.6h0M405.7 528.5h0M396.0 528.9h0M389.5 558.8h0M385.5 528.4h0M375.8 547.9h0M377.5 556.2h0M426.8 538.5h0M396.2 533.4h0M403.4 537.5h0M408.8 555.2h0M458.6 569.6h0M392.5 557.5h0M393.4 536.7h0M412.7 559.3h0M385.7 569.3h0M385.5 537.4h0M386.0 564.0h0M396.2 547.1h0M388.5 566.0h0M410.8 563.7h0M407.8 568.0h0M382.6 546.7h0M400.2 555.9h0M407.2 567.7h0M384.9 563.1h0M375.4 555.9h0M387.6 532.0h0M387.2 538.7h0M428.3 522.4h0M391.9 565.3h0M410.0 559.3h0M413.3 555.3h0M408.5 545.2h0M382.3 540.5h0M401.5 541.5h0M388.8 568.5h0M404.4 549.2h0M381.4 569.3h0M412.5 547.8h0M389.8 571.5h0M397.5 526.7h0M397.2 545.7h0M398.9 545.2h0M379.1 555.9h0M381.5 548.8h0M423.5 535.7h0M414.9 534.5h0M387.9 551.0h0M387.6 563.0h0M430.4 542.2h0M387.0 539.9h0M393.6 549.2h0M408.9 540.7h0M427.6 545.8h0M413.8 542.2h0M425.1 538.5h0M422.2 555.2h0M419.2 534.4h0M416.2 534.5h0M405.5 531.7h0M435.4 551.1h0M412.1 529.9h0M406.0 540.1h0M411.5 531.1h0M423.2 536.1h0M430.6 549.1h0M408.0 535.1h0M412.3 546.1h0M413.7 546.6h0" stroke="#5e2238" stroke-width="1" stroke-linecap="round" stroke-opacity="0.9"/>
<circle cx="380.5" cy="623.2" r="2.1" fill="#f7ece8" stroke="none" stroke-width="0.6"/>
<text x="385.5" y="625.6" font-size="7.6">0</text>
<circle cx="401.2" cy="623.2" r="2.1" fill="#f0c0ab" stroke="none" stroke-width="0.6"/>
<text x="406.2" y="625.6" font-size="7.6">1</text>
<circle cx="422" cy="623.2" r="2.1" fill="#e07b5a" stroke="none" stroke-width="0.6"/>
<text x="427" y="625.6" font-size="7.6">2</text>
<circle cx="442.5" cy="623.2" r="2.1" fill="#b0202e" stroke="none" stroke-width="0.6"/>
<text x="447.5" y="625.6" font-size="7.6">3</text>
<circle cx="463" cy="623.2" r="2.1" fill="#2a0a14" stroke="none" stroke-width="0.6"/>
<text x="468" y="625.6" font-size="7.6">&#8805; 4</text>
<text x="0.6" y="657.8" font-size="10.1" font-weight="bold" style="stroke-width:0.35px">H</text>
<text x="99.5" y="657.7" font-size="8.7" text-anchor="middle">HLA class II</text>
<text x="99.5" y="667.6" font-size="8.7" text-anchor="middle">immunopeptidome diversity</text>
<line x1="36.8" y1="676.3" x2="36.8" y2="760" stroke="#231f20" stroke-width="0.9"/>
<line x1="36.8" y1="759.6" x2="162.3" y2="759.6" stroke="#231f20" stroke-width="0.9"/>
<line x1="33.8" y1="680.25" x2="36.8" y2="680.25" stroke="#231f20" stroke-width="0.9"/>
<text x="31" y="683.35" font-size="8.7" text-anchor="end">100</text>
<line x1="33.8" y1="700.09" x2="36.8" y2="700.09" stroke="#231f20" stroke-width="0.9"/>
<text x="31" y="703.19" font-size="8.7" text-anchor="end">75</text>
<line x1="33.8" y1="719.93" x2="36.8" y2="719.93" stroke="#231f20" stroke-width="0.9"/>
<text x="31" y="723.03" font-size="8.7" text-anchor="end">50</text>
<line x1="33.8" y1="739.76" x2="36.8" y2="739.76" stroke="#231f20" stroke-width="0.9"/>
<text x="31" y="742.86" font-size="8.7" text-anchor="end">25</text>
<line x1="33.8" y1="759.6" x2="36.8" y2="759.6" stroke="#231f20" stroke-width="0.9"/>
<text x="31" y="762.7" font-size="8.7" text-anchor="end">0</text>
<line x1="37.5" y1="759.6" x2="37.5" y2="762.2" stroke="#231f20" stroke-width="0.8"/>
<text x="37.5" y="773.2" font-size="8.7" text-anchor="middle">0</text>
<line x1="53.1" y1="759.6" x2="53.1" y2="761.3" stroke="#231f20" stroke-width="0.8"/>
<line x1="68.7" y1="759.6" x2="68.7" y2="762.2" stroke="#231f20" stroke-width="0.8"/>
<text x="68.7" y="773.2" font-size="8.7" text-anchor="middle">12</text>
<line x1="84.3" y1="759.6" x2="84.3" y2="761.3" stroke="#231f20" stroke-width="0.8"/>
<line x1="99.9" y1="759.6" x2="99.9" y2="762.2" stroke="#231f20" stroke-width="0.8"/>
<text x="99.9" y="773.2" font-size="8.7" text-anchor="middle">24</text>
<line x1="115.5" y1="759.6" x2="115.5" y2="761.3" stroke="#231f20" stroke-width="0.8"/>
<line x1="131.1" y1="759.6" x2="131.1" y2="762.2" stroke="#231f20" stroke-width="0.8"/>
<text x="131.1" y="773.2" font-size="8.7" text-anchor="middle">36</text>
<line x1="146.7" y1="759.6" x2="146.7" y2="761.3" stroke="#231f20" stroke-width="0.8"/>
<line x1="162.3" y1="759.6" x2="162.3" y2="762.2" stroke="#231f20" stroke-width="0.8"/>
<text x="162.3" y="773.2" font-size="8.7" text-anchor="middle">48</text>
<text x="100" y="785.2" font-size="8.7" text-anchor="middle">Months</text>
<text transform="translate(7.6 721.3) rotate(-90)" font-size="9.1" text-anchor="middle">OS (%)</text>
<path d="M37.10 680.20L37.50 680.20L37.50 684.00L39.20 684.00L39.50 687.00L39.80 689.40L40.50 692.30L44.00 692.30L44.50 695.00L45.00 698.00L45.50 701.50L46.00 704.50L46.30 705.20L53.60 705.20L53.60 709.50L68.30 709.50L68.30 713.60L85.60 713.60L85.60 717.90L97.50 717.90L97.50 721.90L115.40 721.90L115.40 726.10L162.90 726.10" fill="none" stroke="#d9464b" stroke-width="1.05" stroke-linejoin="round"/>
<path d="M37.10 680.20L37.40 686.00L37.60 693.20L39.80 693.20L39.80 706.30L41.30 706.30L41.30 720.20L61.30 720.20L61.30 732.90L68.50 732.90L68.50 746.40L70.50 746.40L70.50 759.60" fill="none" stroke="#4a5496" stroke-width="1.05" stroke-linejoin="round"/>
<text x="128.3" y="686.2" font-size="7.7" text-anchor="middle"><tspan font-style="italic">P</tspan> = 0.0128</text>
<text x="128.3" y="695" font-size="7.7" text-anchor="middle">HR 0.173</text>
<text x="128.4" y="704.6" font-size="7.7" text-anchor="middle">(95% CI: 0.043&#8211;0.689)</text>
<line x1="57" y1="801" x2="74.4" y2="801" stroke="#d9464b" stroke-width="0.9"/>
<line x1="65.7" y1="799.8" x2="65.7" y2="802.2" stroke="#d9464b" stroke-width="0.6"/>
<text x="78.8" y="804.2" font-size="8.7">High</text>
<line x1="105.6" y1="801" x2="121" y2="801" stroke="#4a5496" stroke-width="0.9"/>
<line x1="113.3" y1="799.8" x2="113.3" y2="802.2" stroke="#4a5496" stroke-width="0.6"/>
<text x="124.6" y="804.2" font-size="8.7">Low</text>
<text x="175.4" y="658" font-size="10.1" font-weight="bold" style="stroke-width:0.35px">I</text>
<text x="342.4" y="668.4" font-size="8.7" text-anchor="middle">Immune response</text>
<line x1="210.5" y1="676.3" x2="210.5" y2="760" stroke="#231f20" stroke-width="0.9"/>
<line x1="210.5" y1="759.6" x2="335.8" y2="759.6" stroke="#231f20" stroke-width="0.9"/>
<line x1="207.5" y1="680.25" x2="210.5" y2="680.25" stroke="#231f20" stroke-width="0.9"/>
<text x="204.7" y="683.35" font-size="8.7" text-anchor="end">100</text>
<line x1="207.5" y1="700.09" x2="210.5" y2="700.09" stroke="#231f20" stroke-width="0.9"/>
<text x="204.7" y="703.19" font-size="8.7" text-anchor="end">75</text>
<line x1="207.5" y1="719.93" x2="210.5" y2="719.93" stroke="#231f20" stroke-width="0.9"/>
<text x="204.7" y="723.03" font-size="8.7" text-anchor="end">50</text>
<line x1="207.5" y1="739.76" x2="210.5" y2="739.76" stroke="#231f20" stroke-width="0.9"/>
<text x="204.7" y="742.86" font-size="8.7" text-anchor="end">25</text>
<line x1="207.5" y1="759.6" x2="210.5" y2="759.6" stroke="#231f20" stroke-width="0.9"/>
<text x="204.7" y="762.7" font-size="8.7" text-anchor="end">0</text>
<line x1="211" y1="759.6" x2="211" y2="762.2" stroke="#231f20" stroke-width="0.8"/>
<text x="211" y="773.2" font-size="8.7" text-anchor="middle">0</text>
<line x1="226.6" y1="759.6" x2="226.6" y2="761.3" stroke="#231f20" stroke-width="0.8"/>
<line x1="242.2" y1="759.6" x2="242.2" y2="762.2" stroke="#231f20" stroke-width="0.8"/>
<text x="242.2" y="773.2" font-size="8.7" text-anchor="middle">12</text>
<line x1="257.8" y1="759.6" x2="257.8" y2="761.3" stroke="#231f20" stroke-width="0.8"/>
<line x1="273.4" y1="759.6" x2="273.4" y2="762.2" stroke="#231f20" stroke-width="0.8"/>
<text x="273.4" y="773.2" font-size="8.7" text-anchor="middle">24</text>
<line x1="289" y1="759.6" x2="289" y2="761.3" stroke="#231f20" stroke-width="0.8"/>
<line x1="304.6" y1="759.6" x2="304.6" y2="762.2" stroke="#231f20" stroke-width="0.8"/>
<text x="304.6" y="773.2" font-size="8.7" text-anchor="middle">36</text>
<line x1="320.2" y1="759.6" x2="320.2" y2="761.3" stroke="#231f20" stroke-width="0.8"/>
<line x1="335.8" y1="759.6" x2="335.8" y2="762.2" stroke="#231f20" stroke-width="0.8"/>
<text x="335.8" y="773.2" font-size="8.7" text-anchor="middle">48</text>
<text x="273.8" y="785.2" font-size="8.7" text-anchor="middle">Months</text>
<text transform="translate(183.2 721.3) rotate(-90)" font-size="9.1" text-anchor="middle">OS (%)</text>
<path d="M211.00 680.60L235.30 680.60L235.30 682.30L270.80 682.30L270.80 684.00L336.70 684.00" fill="none" stroke="#4a5496" stroke-width="1.05" stroke-linejoin="round"/>
<path d="M211.00 680.30L336.70 680.30" fill="none" stroke="#d9464b" stroke-width="1.05" stroke-linejoin="round"/>
<text x="255.4" y="735.4" font-size="7.7" text-anchor="middle"><tspan font-style="italic">P</tspan> = 0.4820</text>
<text x="255.4" y="744.2" font-size="7.7" text-anchor="middle">HR 0.287</text>
<text x="255.4" y="753.8" font-size="7.7" text-anchor="middle">(95% CI: 0.009&#8211;9.293)</text>
<line x1="375.5" y1="676.3" x2="375.5" y2="760" stroke="#231f20" stroke-width="0.9"/>
<line x1="375.5" y1="759.6" x2="500.9" y2="759.6" stroke="#231f20" stroke-width="0.9"/>
<line x1="372.5" y1="680.25" x2="375.5" y2="680.25" stroke="#231f20" stroke-width="0.9"/>
<text x="369.7" y="683.35" font-size="8.7" text-anchor="end">100</text>
<line x1="372.5" y1="700.09" x2="375.5" y2="700.09" stroke="#231f20" stroke-width="0.9"/>
<text x="369.7" y="703.19" font-size="8.7" text-anchor="end">75</text>
<line x1="372.5" y1="719.93" x2="375.5" y2="719.93" stroke="#231f20" stroke-width="0.9"/>
<text x="369.7" y="723.03" font-size="8.7" text-anchor="end">50</text>
<line x1="372.5" y1="739.76" x2="375.5" y2="739.76" stroke="#231f20" stroke-width="0.9"/>
<text x="369.7" y="742.86" font-size="8.7" text-anchor="end">25</text>
<line x1="372.5" y1="759.6" x2="375.5" y2="759.6" stroke="#231f20" stroke-width="0.9"/>
<text x="369.7" y="762.7" font-size="8.7" text-anchor="end">0</text>
<line x1="376.1" y1="759.6" x2="376.1" y2="762.2" stroke="#231f20" stroke-width="0.8"/>
<text x="376.1" y="773.2" font-size="8.7" text-anchor="middle">0</text>
<line x1="391.7" y1="759.6" x2="391.7" y2="761.3" stroke="#231f20" stroke-width="0.8"/>
<line x1="407.3" y1="759.6" x2="407.3" y2="762.2" stroke="#231f20" stroke-width="0.8"/>
<text x="407.3" y="773.2" font-size="8.7" text-anchor="middle">12</text>
<line x1="422.9" y1="759.6" x2="422.9" y2="761.3" stroke="#231f20" stroke-width="0.8"/>
<line x1="438.5" y1="759.6" x2="438.5" y2="762.2" stroke="#231f20" stroke-width="0.8"/>
<text x="438.5" y="773.2" font-size="8.7" text-anchor="middle">24</text>
<line x1="454.1" y1="759.6" x2="454.1" y2="761.3" stroke="#231f20" stroke-width="0.8"/>
<line x1="469.7" y1="759.6" x2="469.7" y2="762.2" stroke="#231f20" stroke-width="0.8"/>
<text x="469.7" y="773.2" font-size="8.7" text-anchor="middle">36</text>
<line x1="485.3" y1="759.6" x2="485.3" y2="761.3" stroke="#231f20" stroke-width="0.8"/>
<line x1="500.9" y1="759.6" x2="500.9" y2="762.2" stroke="#231f20" stroke-width="0.8"/>
<text x="500.9" y="773.2" font-size="8.7" text-anchor="middle">48</text>
<text x="438.4" y="785.2" font-size="8.7" text-anchor="middle">Months</text>
<text transform="translate(352.8 721.3) rotate(-90)" font-size="9.1" text-anchor="middle">EFS (%)</text>
<path d="M376.00 680.50L376.80 680.60L378.20 681.80L378.50 689.50L379.50 691.00L380.50 692.50L381.20 694.20L382.20 695.80L388.60 695.80L388.60 698.20L397.60 698.20L398.50 700.50L399.50 702.50L400.80 704.30L402.30 706.20L403.80 708.00L405.20 710.00L406.60 711.80L433.80 711.80L433.80 713.20L501.10 713.20" fill="none" stroke="#4a5496" stroke-width="1.05" stroke-linejoin="round"/>
<path d="M376.00 680.30L501.10 680.30" fill="none" stroke="#d9464b" stroke-width="1.05" stroke-linejoin="round"/>
<line x1="458.8" y1="712" x2="458.8" y2="714.4" stroke="#4a5496" stroke-width="0.6"/>
<line x1="480.5" y1="712" x2="480.5" y2="714.4" stroke="#4a5496" stroke-width="0.6"/>
<line x1="500.5" y1="712" x2="500.5" y2="714.4" stroke="#4a5496" stroke-width="0.6"/>
<line x1="500.5" y1="679.1" x2="500.5" y2="681.5" stroke="#d9464b" stroke-width="0.6"/>
<line x1="336.2" y1="679.1" x2="336.2" y2="681.5" stroke="#d9464b" stroke-width="0.6"/>
<line x1="336.2" y1="682.8" x2="336.2" y2="685.2" stroke="#4a5496" stroke-width="0.6"/>
<line x1="293" y1="682.8" x2="293" y2="685" stroke="#4a5496" stroke-width="0.6"/>
<line x1="319.2" y1="682.8" x2="319.2" y2="685" stroke="#4a5496" stroke-width="0.6"/>
<line x1="144.5" y1="724.9" x2="144.5" y2="727.3" stroke="#d9464b" stroke-width="0.6"/>
<line x1="150.5" y1="724.9" x2="150.5" y2="727.3" stroke="#d9464b" stroke-width="0.6"/>
<line x1="162.5" y1="724.9" x2="162.5" y2="727.3" stroke="#d9464b" stroke-width="0.6"/>
<text x="419.8" y="735.5" font-size="7.7" text-anchor="middle"><tspan font-style="italic">P</tspan> = 0.0147</text>
<text x="419.8" y="744.7" font-size="7.7" text-anchor="middle">HR 0.266</text>
<text x="419.8" y="754" font-size="7.7" text-anchor="middle">(95% CI: 0.092&#8211;0.771)</text>
<line x1="289.8" y1="801" x2="306" y2="801" stroke="#d9464b" stroke-width="0.9"/>
<line x1="297.9" y1="799.8" x2="297.9" y2="802.2" stroke="#d9464b" stroke-width="0.6"/>
<text x="310.6" y="804.2" font-size="8.7">Responder</text>
<line x1="359.2" y1="801" x2="374.6" y2="801" stroke="#4a5496" stroke-width="0.9"/>
<line x1="366.9" y1="799.8" x2="366.9" y2="802.2" stroke="#4a5496" stroke-width="0.6"/>
<text x="378.6" y="804.2" font-size="8.7">Nonresponder</text>
</svg></body></html>
